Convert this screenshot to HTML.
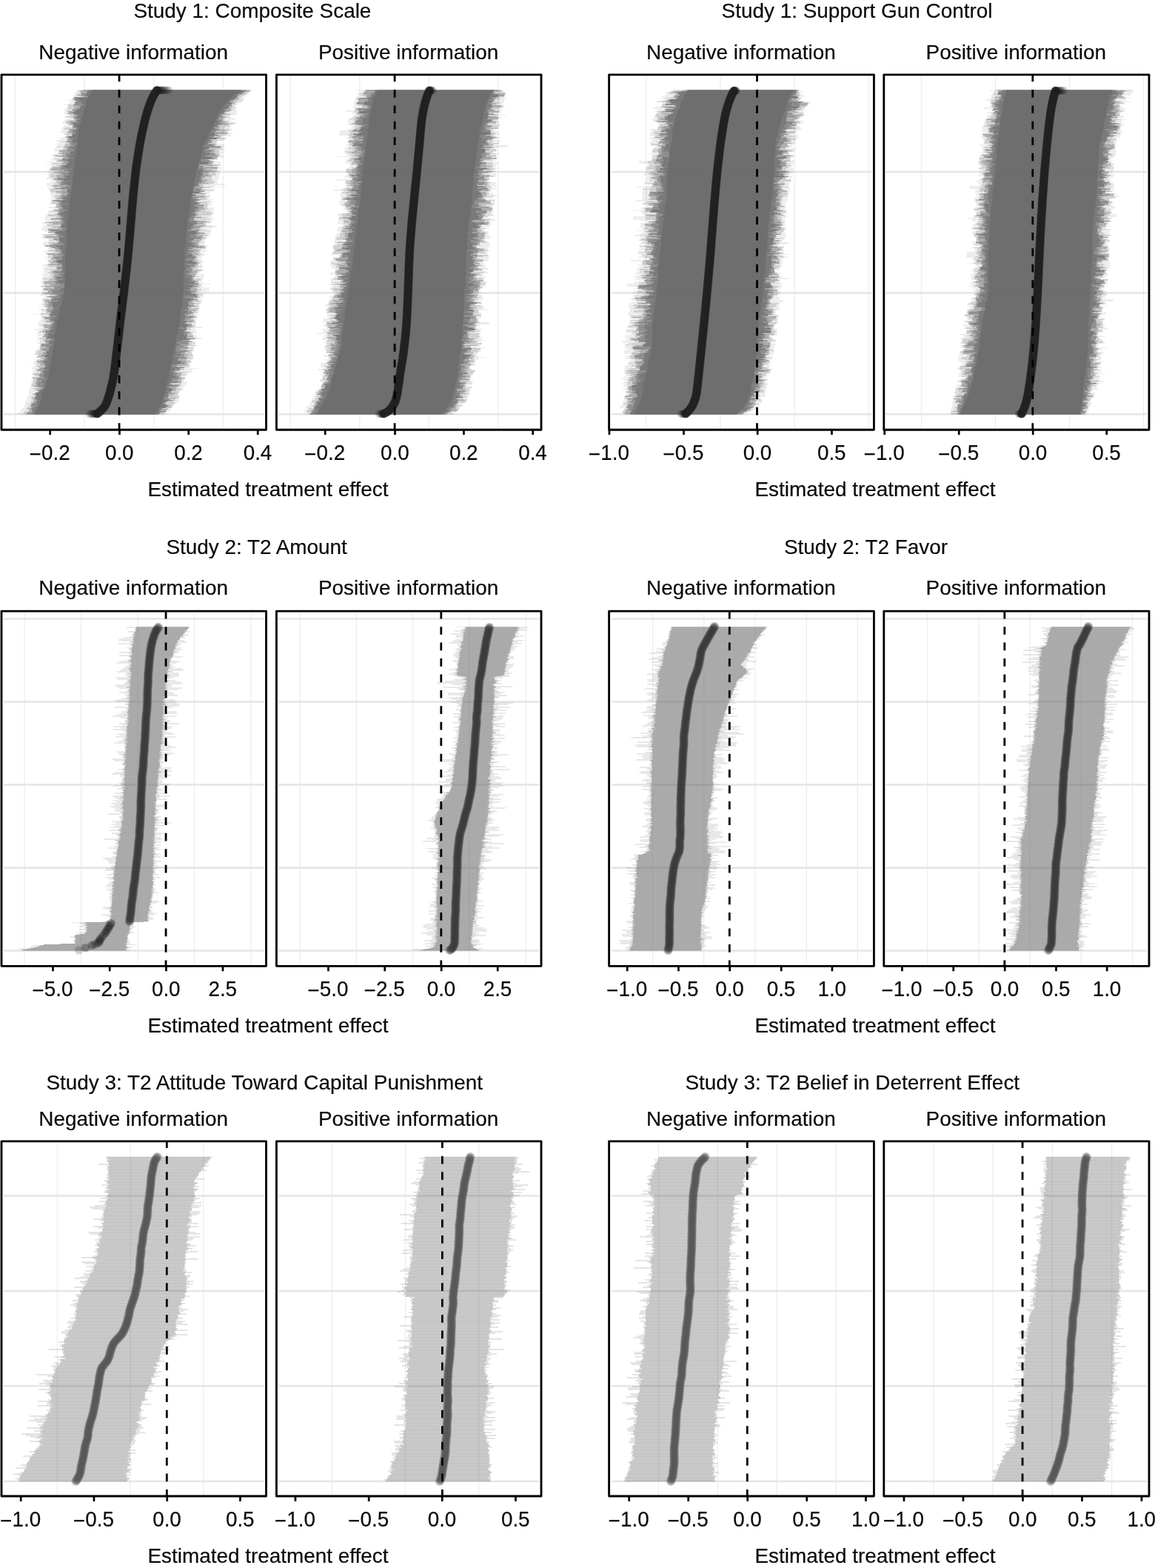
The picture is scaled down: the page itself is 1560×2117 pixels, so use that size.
<!DOCTYPE html>
<html lang="en"><head><meta charset="utf-8"><title>Estimated treatment effects</title>
<style>html,body{margin:0;padding:0;background:#fff}body{width:1560px;height:2117px;overflow:hidden}svg{display:block}</style>
</head><body>
<svg width="1560" height="2117" viewBox="0 0 1560 2117" font-family='"Liberation Sans", Arial, Helvetica, sans-serif' fill="#000">
<style>text{stroke:#0a0a0a;stroke-width:.2px;stroke-linejoin:round}</style>
<rect width="1560" height="2117" fill="#fff"/>
<g>
<clipPath id="c1"><rect x="2" y="100.8" width="357.5" height="479.4"/></clipPath>
<g clip-path="url(#c1)">
<path d="M20.8 103.3V578.7M114.2 103.3V578.7M207.8 103.3V578.7M301.2 103.3V578.7" stroke="#ececec" stroke-width="1.2" fill="none"/>
<path d="M5 232H357M5 395.5H357M5 559.2H357" stroke="#e5e5e5" stroke-width="2.6" fill="none"/>
<clipPath id="b1"><rect x="2" y="121.6" width="357.5" height="438"/></clipPath>
<g clip-path="url(#b1)"><g stroke="#676767" fill="none">
<path transform="translate(0,0.5)" stroke-width="1" stroke-opacity="0.620" d="M125 121h200m-201 1h200m-200 1h200m-200 1h199m-201 1h199m-199 1h198m-198 1h195m-196 1h196m-197 1h195m-195 1h194m-194 1h193m-194 1h193m-194 1h193m-194 1h192m-192 1h192m-192 1h190m-189 1h188m-190 1h190m-190 1h189m-190 1h189m-188 1h186m-186 1h186m-186 1h185m-186 1h186m-186 1h185m-186 1h186m-186 1h185m-186 1h185m-186 1h185m-184 1h183m-183 1h184m-185 1h184m-184 1h183m-183 1h183m-184 1h183m-183 1h183m-184 1h183m-183 1h183m-183 1h182m-182 1h181m-182 1h182m-180 1h180m-182 1h182m-182 1h181m-181 1h180m-182 1h182m-181 1h181m-181 1h180m-182 1h181m-180 1h181m-182 1h181m-180 1h179m-179 1h179m-180 1h179m-179 1h178m-178 1h178m-178 1h178m-178 1h177m-176 1h176m-177 1h176m-176 1h176m-176 1h176m-177 1h176m-176 1h176m-175 1h174m-175 1h175m-174 1h173m-174 1h174m-173 1h172m-174 1h174m-173 1h172m-173 1h173m-172 1h172m-172 1h170m-171 1h171m-170 1h170m-170 1h169m-170 1h170m-171 1h172m-171 1h170m-170 1h170m-170 1h169m-170 1h170m-170 1h170m-169 1h169m-170 1h169m-169 1h169m-169 1h168m-167 1h168m-169 1h169m-170 1h169m-169 1h169m-169 1h169m-170 1h169m-169 1h168m-168 1h168m-169 1h169m-168 1h168m-168 1h168m-169 1h168m-168 1h168m-167 1h167m-168 1h167m-167 1h168m-167 1h166m-168 1h167m-166 1h167m-167 1h166m-166 1h166m-167 1h167m-166 1h164m-165 1h165m-164 1h165m-166 1h166m-166 1h165m-165 1h166m-166 1h166m-166 1h165m-166 1h166m-166 1h166m-166 1h166m-166 1h164m-164 1h165m-164 1h164m-165 1h164m-165 1h165m-165 1h165m-165 1h165m-165 1h165m-164 1h163m-163 1h163m-164 1h164m-164 1h164m-164 1h164m-164 1h163m-164 1h164m-164 1h164m-163 1h162m-163 1h163m-163 1h164m-165 1h165m-164 1h162m-162 1h162m-163 1h164m-164 1h163m-163 1h163m-163 1h163m-163 1h163m-163 1h162m-163 1h164m-163 1h162m-163 1h163m-162 1h162m-163 1h165m-165 1h164m-163 1h161m-162 1h163m-164 1h163m-163 1h163m-162 1h163m-164 1h163m-163 1h163m-163 1h163m-163 1h163m-163 1h162m-163 1h163m-163 1h163m-162 1h162m-162 1h161m-162 1h163m-163 1h162m-162 1h162m-162 1h162m-162 1h162m-162 1h162m-162 1h161m-162 1h162m-162 1h162m-163 1h164m-163 1h162m-162 1h162m-162 1h163m-163 1h161m-161 1h162m-162 1h163m-164 1h162m-161 1h162m-163 1h162m-161 1h161m-162 1h162m-162 1h162m-162 1h162m-162 1h161m-161 1h162m-162 1h162m-162 1h162m-162 1h162m-162 1h162m-162 1h162m-162 1h161m-161 1h162m-162 1h161m-161 1h161m-161 1h162m-162 1h161m-162 1h162m-162 1h162m-162 1h162m-160 1h161m-162 1h160m-160 1h161m-161 1h160m-161 1h161m-161 1h161m-161 1h160m-160 1h161m-161 1h160m-160 1h160m-159 1h160m-161 1h160m-160 1h160m-160 1h161m-162 1h161m-160 1h160m-160 1h161m-162 1h162m-162 1h162m-162 1h162m-162 1h161m-161 1h161m-161 1h160m-160 1h161m-161 1h162m-162 1h161m-161 1h161m-161 1h160m-160 1h161m-160 1h159m-161 1h162m-161 1h161m-161 1h161m-161 1h160m-160 1h161m-161 1h160m-161 1h161m-161 1h162m-161 1h160m-161 1h161m-160 1h160m-160 1h161m-163 1h163m-162 1h160m-159 1h160m-161 1h160m-160 1h162m-161 1h160m-160 1h160m-160 1h160m-160 1h160m-161 1h160m-159 1h161m-163 1h162m-161 1h160m-160 1h161m-160 1h161m-161 1h161m-162 1h161m-161 1h160m-160 1h161m-161 1h161m-161 1h161m-161 1h161m-161 1h160m-161 1h163m-162 1h162m-163 1h160m-160 1h160m-160 1h161m-162 1h162m-162 1h162m-162 1h161m-161 1h161m-161 1h161m-161 1h161m-162 1h162m-163 1h163m-162 1h162m-163 1h162m-161 1h161m-162 1h164m-164 1h163m-164 1h165m-165 1h164m-165 1h164m-164 1h164m-164 1h164m-164 1h163m-164 1h164m-163 1h163m-164 1h164m-164 1h164m-165 1h165m-164 1h164m-165 1h165m-165 1h165m-165 1h164m-164 1h165m-166 1h165m-165 1h165m-165 1h165m-165 1h165m-166 1h166m-166 1h165m-166 1h167m-167 1h166m-167 1h168m-166 1h165m-165 1h166m-166 1h165m-166 1h166m-166 1h165m-166 1h166m-166 1h165m-165 1h166m-166 1h166m-166 1h165m-164 1h165m-165 1h165m-166 1h165m-166 1h166m-166 1h166m-167 1h165m-165 1h166m-166 1h165m-165 1h166m-165 1h164m-164 1h163m-163 1h163m-163 1h164m-164 1h163m-164 1h165m-164 1h163m-165 1h165m-164 1h164m-164 1h163m-164 1h164m-164 1h164m-164 1h164m-164 1h164m-164 1h164m-164 1h163m-164 1h164m-164 1h164m-164 1h163m-163 1h164m-165 1h165m-164 1h162m-162 1h163m-164 1h164m-164 1h163m-163 1h163m-163 1h162m-163 1h164m-164 1h164m-164 1h164m-164 1h164m-164 1h164m-165 1h165m-164 1h164m-165 1h164m-163 1h162m-164 1h164m-164 1h164m-163 1h162m-163 1h163m-164 1h164m-163 1h163m-163 1h163m-164 1h164m-163 1h162m-163 1h163m-163 1h162m-162 1h163m-163 1h163m-164 1h164m-163 1h163m-164 1h164m-164 1h163m-163 1h163m-163 1h163m-163 1h161m-162 1h163m-163 1h163m-164 1h163m-163 1h164m-164 1h162m-163 1h164m-163 1h163m-164 1h164m-164 1h164m-165 1h163m-163 1h163m-163 1h163m-163 1h163m-164 1h165m-165 1h164m-165 1h165m-165 1h164m-164 1h163m-165 1h166m-166 1h165m-165 1h165m-165 1h164m-164 1h164m-164 1h164m-164 1h163m-163 1h164m-165 1h164m-165 1h165m-165 1h164m-164 1h164m-164 1h164m-165 1h164m-165 1h166m-165 1h163m-165 1h165m-165 1h165m-165 1h164m-165 1h165m-165 1h165m-165 1h163m-165 1h164m-163 1h164m-166 1h165m-164 1h163m-164 1h163m-164 1h164m-165 1h164m-163 1h164"/>
<path transform="translate(0,0.5)" stroke-width="1" stroke-opacity="0.520" d="M120 121h207m-209 1h210m-210 1h212m-212 1h210m-210 1h209m-210 1h208m-208 1h203m-205 1h203m-202 1h205m-203 1h201m-206 1h205m-213 1h212m-213 1h213m-209 1h207m-208 1h203m-204 1h204m-200 1h201m-201 1h200m-200 1h203m-200 1h198m-197 1h193m-197 1h199m-200 1h197m-198 1h201m-200 1h200m-201 1h199m-202 1h197m-197 1h198m-200 1h201m-201 1h200m-203 1h202m-203 1h203m-199 1h196m-193 1h192m-192 1h190m-191 1h192m-193 1h192m-192 1h192m-191 1h190m-186 1h186m-187 1h186m-191 1h190m-188 1h194m-193 1h189m-189 1h190m-198 1h197m-195 1h194m-193 1h193m-194 1h192m-191 1h193m-195 1h190m-185 1h185m-185 1h186m-187 1h187m-186 1h189m-194 1h189m-187 1h185m-184 1h184m-184 1h188m-189 1h188m-189 1h190m-192 1h192m-192 1h190m-196 1h190m-189 1h192m-185 1h192m-193 1h193m-193 1h183m-185 1h185m-184 1h184m-184 1h183m-183 1h183m-178 1h178m-177 1h176m-177 1h184m-186 1h175m-176 1h177m-184 1h190m-187 1h187m-183 1h179m-180 1h179m-178 1h175m-175 1h185m-187 1h178m-181 1h182m-182 1h184m-186 1h190m-185 1h185m-188 1h182m-183 1h183m-187 1h187m-183 1h192m-186 1h183m-191 1h198m-198 1h179m-180 1h180m-180 1h180m-178 1h183m-183 1h189m-192 1h191m-189 1h182m-183 1h178m-182 1h182m-181 1h181m-182 1h181m-180 1h180m-178 1h178m-171 1h176m-182 1h183m-183 1h182m-177 1h183m-184 1h176m-179 1h179m-178 1h181m-181 1h181m-181 1h178m-181 1h181m-183 1h183m-181 1h180m-179 1h178m-184 1h185m-184 1h184m-184 1h186m-176 1h173m-185 1h185m-180 1h179m-182 1h180m-175 1h176m-176 1h176m-172 1h170m-170 1h170m-170 1h166m-173 1h174m-167 1h166m-169 1h169m-170 1h170m-170 1h170m-170 1h171m-171 1h178m-176 1h175m-176 1h168m-167 1h167m-169 1h171m-172 1h171m-170 1h169m-173 1h174m-173 1h172m-175 1h175m-170 1h177m-183 1h179m-178 1h179m-182 1h178m-178 1h185m-176 1h175m-185 1h186m-177 1h173m-180 1h179m-178 1h178m-177 1h181m-181 1h183m-182 1h177m-178 1h179m-175 1h173m-174 1h176m-178 1h177m-177 1h174m-179 1h179m-178 1h178m-179 1h182m-181 1h181m-177 1h172m-173 1h173m-171 1h175m-178 1h172m-175 1h176m-173 1h172m-168 1h168m-169 1h168m-168 1h178m-179 1h171m-170 1h179m-181 1h176m-177 1h177m-178 1h177m-177 1h176m-177 1h176m-174 1h174m-169 1h169m-169 1h167m-172 1h171m-168 1h166m-172 1h184m-189 1h189m-189 1h189m-187 1h187m-182 1h178m-183 1h178m-170 1h171m-171 1h171m-176 1h175m-176 1h188m-187 1h180m-181 1h181m-181 1h177m-176 1h174m-172 1h172m-173 1h176m-173 1h173m-171 1h176m-177 1h172m-183 1h187m-187 1h188m-183 1h176m-174 1h173m-174 1h174m-175 1h174m-169 1h168m-170 1h173m-172 1h175m-177 1h171m-169 1h170m-169 1h172m-171 1h166m-166 1h174m-175 1h174m-175 1h174m-174 1h179m-179 1h170m-170 1h166m-167 1h168m-173 1h173m-173 1h183m-183 1h182m-182 1h187m-181 1h181m-181 1h168m-169 1h169m-168 1h172m-171 1h171m-172 1h172m-172 1h168m-167 1h167m-167 1h167m-167 1h167m-168 1h165m-166 1h172m-173 1h173m-167 1h162m-163 1h164m-170 1h170m-167 1h173m-173 1h166m-165 1h175m-182 1h172m-172 1h178m-172 1h173m-171 1h172m-179 1h174m-175 1h180m-179 1h177m-179 1h184m-179 1h180m-175 1h164m-164 1h169m-170 1h174m-173 1h175m-176 1h171m-170 1h167m-171 1h174m-175 1h174m-175 1h172m-172 1h172m-176 1h181m-172 1h171m-172 1h172m-172 1h171m-177 1h185m-182 1h183m-184 1h169m-169 1h169m-169 1h169m-170 1h169m-175 1h186m-190 1h188m-179 1h178m-178 1h175m-177 1h177m-185 1h184m-181 1h181m-181 1h183m-184 1h183m-183 1h184m-184 1h184m-183 1h180m-180 1h182m-175 1h175m-181 1h177m-179 1h179m-176 1h175m-179 1h183m-183 1h183m-183 1h180m-177 1h177m-182 1h181m-182 1h182m-174 1h175m-175 1h176m-176 1h175m-181 1h181m-177 1h176m-181 1h179m-174 1h175m-176 1h175m-174 1h179m-179 1h176m-176 1h176m-178 1h181m-181 1h182m-179 1h179m-183 1h182m-181 1h180m-179 1h171m-173 1h173m-170 1h179m-183 1h182m-183 1h180m-181 1h181m-181 1h181m-175 1h175m-182 1h182m-184 1h184m-183 1h183m-181 1h185m-188 1h187m-187 1h187m-187 1h189m-182 1h181m-179 1h181m-181 1h172m-178 1h176m-176 1h172m-173 1h173m-173 1h173m-168 1h170m-170 1h171m-174 1h174m-174 1h170m-170 1h170m-170 1h170m-172 1h171m-170 1h171m-172 1h171m-171 1h172m-172 1h171m-173 1h181m-182 1h176m-175 1h174m-174 1h179m-181 1h182m-184 1h176m-175 1h177m-174 1h177m-176 1h176m-178 1h176m-175 1h175m-175 1h175m-180 1h182m-181 1h184m-184 1h184m-180 1h179m-181 1h177m-178 1h172m-171 1h170m-169 1h169m-170 1h170m-172 1h183m-183 1h176m-177 1h177m-171 1h171m-176 1h175m-176 1h172m-172 1h176m-175 1h172m-172 1h175m-176 1h175m-175 1h175m-174 1h176m-176 1h179m-180 1h179m-177 1h173m-173 1h171m-170 1h170m-175 1h175m-171 1h170m-175 1h175m-175 1h181m-178 1h169m-167 1h168m-170 1h168m-169 1h174m-174 1h168m-166 1h167m-167 1h165m-166 1h171m-173 1h175m-177 1h178m-179 1h177m-178 1h172m-173 1h176m-180 1h179m-178 1h179m-179 1h176m-176 1h174m-172 1h176m-176 1h175m-179 1h175m-170 1h170m-176 1h176m-172 1h172m-172 1h181m-178 1h172m-177 1h176m-174 1h171m-171 1h170m-168 1h168m-176 1h180m-172 1h171m-173 1h177m-179 1h174m-176 1h176m-179 1h174m-167 1h167m-173 1h172m-173 1h172m-169 1h169m-169 1h170m-173 1h172m-170 1h169m-169 1h169"/>
<path transform="translate(0,0.5)" stroke-width="1" stroke-opacity="0.420" d="M113 121h220m-219 1h218m-214 1h213m-214 1h211m-212 1h210m-216 1h217m-217 1h212m-211 1h211m-207 1h206m-203 1h202m-220 1h221m-219 1h217m-218 1h217m-217 1h215m-215 1h213m-210 1h208m-210 1h209m-209 1h211m-211 1h211m-212 1h212m-213 1h212m-207 1h207m-203 1h201m-202 1h202m-202 1h200m-203 1h203m-205 1h202m-207 1h207m-205 1h209m-209 1h204m-205 1h204m-207 1h207m-203 1h203m-203 1h199m-197 1h198m-196 1h196m-200 1h201m-201 1h201m-200 1h195m-192 1h191m-191 1h195m-196 1h196m-196 1h196m-198 1h195m-201 1h206m-203 1h202m-202 1h201m-200 1h200m-199 1h193m-194 1h195m-195 1h196m-192 1h187m-187 1h188m-188 1h192m-197 1h197m-201 1h198m-194 1h193m-193 1h192m-193 1h198m-197 1h192m-192 1h194m-195 1h197m-197 1h192m-197 1h196m-197 1h197m-195 1h200m-200 1h199m-200 1h193m-188 1h188m-193 1h193m-194 1h195m-192 1h191m-190 1h186m-185 1h184m-184 1h191m-192 1h194m-189 1h189m-197 1h205m-203 1h189m-192 1h191m-189 1h189m-192 1h188m-188 1h199m-196 1h192m-196 1h195m-189 1h189m-195 1h200m-201 1h201m-200 1h203m-203 1h192m-192 1h198m-194 1h198m-198 1h194m-203 1h209m-209 1h193m-193 1h199m-196 1h198m-194 1h191m-190 1h192m-199 1h197m-192 1h191m-193 1h181m-186 1h187m-187 1h191m-191 1h191m-192 1h192m-192 1h194m-195 1h193m-187 1h189m-190 1h190m-183 1h190m-189 1h180m-199 1h200m-190 1h189m-190 1h190m-188 1h188m-188 1h198m-199 1h188m-186 1h186m-195 1h195m-196 1h196m-196 1h195m-189 1h190m-186 1h186m-190 1h189m-189 1h189m-189 1h189m-190 1h186m-185 1h185m-177 1h178m-180 1h179m-180 1h176m-181 1h180m-188 1h194m-178 1h180m-180 1h180m-181 1h180m-180 1h185m-190 1h185m-178 1h177m-178 1h169m-170 1h173m-173 1h175m-182 1h182m-181 1h176m-177 1h185m-185 1h182m-181 1h180m-178 1h181m-195 1h195m-190 1h187m-185 1h185m-182 1h186m-186 1h186m-189 1h189m-186 1h182m-183 1h194m-194 1h185m-183 1h184m-183 1h187m-188 1h185m-186 1h186m-187 1h183m-184 1h188m-188 1h185m-185 1h183m-184 1h185m-186 1h186m-185 1h186m-188 1h188m-183 1h181m-182 1h182m-179 1h187m-189 1h179m-182 1h183m-178 1h178m-179 1h179m-179 1h184m-184 1h183m-183 1h183m-183 1h183m-183 1h183m-184 1h181m-180 1h179m-180 1h180m-181 1h189m-188 1h180m-177 1h176m-177 1h175m-192 1h191m-189 1h200m-194 1h192m-193 1h191m-191 1h195m-194 1h194m-189 1h185m-187 1h187m-186 1h187m-187 1h186m-186 1h193m-192 1h191m-191 1h182m-189 1h189m-182 1h181m-182 1h181m-180 1h179m-179 1h184m-187 1h186m-192 1h195m-184 1h179m-194 1h199m-199 1h201m-191 1h196m-202 1h190m-182 1h180m-183 1h183m-177 1h172m-178 1h185m-177 1h178m-180 1h173m-173 1h177m-180 1h180m-180 1h181m-181 1h181m-177 1h179m-185 1h186m-190 1h189m-189 1h190m-188 1h187m-179 1h179m-186 1h183m-184 1h189m-188 1h184m-185 1h192m-186 1h185m-189 1h186m-179 1h179m-179 1h178m-177 1h178m-181 1h175m-180 1h182m-182 1h181m-174 1h175m-175 1h175m-177 1h177m-186 1h186m-186 1h185m-182 1h182m-176 1h173m-176 1h175m-176 1h181m-177 1h177m-184 1h188m-188 1h185m-185 1h184m-184 1h186m-185 1h184m-182 1h182m-186 1h189m-189 1h191m-190 1h188m-188 1h190m-190 1h192m-185 1h179m-189 1h190m-183 1h185m-191 1h186m-186 1h187m-186 1h182m-182 1h183m-188 1h189m-189 1h189m-187 1h193m-193 1h188m-188 1h188m-189 1h189m-183 1h189m-187 1h187m-189 1h188m-198 1h201m-197 1h196m-193 1h184m-187 1h192m-192 1h191m-192 1h193m-193 1h188m-188 1h189m-193 1h190m-187 1h187m-190 1h190m-189 1h189m-185 1h188m-193 1h197m-190 1h181m-182 1h183m-183 1h184m-185 1h185m-185 1h184m-189 1h189m-185 1h189m-189 1h189m-190 1h193m-193 1h187m-187 1h187m-187 1h182m-183 1h187m-186 1h192m-194 1h194m-199 1h197m-190 1h182m-182 1h185m-185 1h184m-184 1h184m-179 1h186m-187 1h179m-180 1h179m-180 1h182m-181 1h187m-189 1h187m-189 1h188m-188 1h186m-186 1h185m-185 1h185m-183 1h182m-184 1h185m-190 1h186m-186 1h189m-189 1h194m-194 1h191m-188 1h187m-191 1h192m-192 1h192m-189 1h189m-192 1h192m-191 1h189m-189 1h191m-185 1h189m-189 1h188m-189 1h180m-185 1h193m-193 1h195m-191 1h187m-187 1h189m-192 1h192m-199 1h189m-189 1h194m-188 1h185m-185 1h186m-183 1h189m-196 1h184m-176 1h177m-186 1h186m-181 1h190m-190 1h190m-190 1h188m-188 1h183m-184 1h183m-182 1h187m-188 1h188m-193 1h188m-184 1h188m-186 1h188m-188 1h190m-191 1h180m-182 1h182m-181 1h180m-183 1h188m-188 1h188m-188 1h193m-191 1h190m-189 1h183m-183 1h179m-178 1h178m-178 1h177m-177 1h178m-181 1h190m-189 1h184m-190 1h189m-182 1h182m-185 1h180m-180 1h178m-178 1h178m-179 1h184m-182 1h181m-185 1h185m-186 1h186m-185 1h184m-183 1h187m-185 1h184m-189 1h194m-196 1h191m-190 1h189m-189 1h183m-178 1h185m-189 1h188m-189 1h188m-189 1h180m-181 1h181m-180 1h182m-181 1h189m-189 1h189m-188 1h178m-174 1h173m-172 1h176m-177 1h177m-179 1h179m-182 1h181m-179 1h178m-179 1h180m-184 1h180m-179 1h183m-184 1h179m-179 1h180m-180 1h179m-179 1h180m-181 1h179m-179 1h180m-180 1h180m-178 1h180m-180 1h184m-184 1h177m-178 1h176m-176 1h176m-180 1h179m-179 1h179m-181 1h183m-182 1h184m-185 1h184m-183 1h182m-181 1h180m-183 1h178m-176 1h176m-176 1h175m-175 1h173m-172 1h180m-181 1h175m-181 1h179m-180 1h179m-174 1h173"/>
<path transform="translate(0,0.5)" stroke-width="1" stroke-opacity="0.320" d="M111 121h227m-229 1h228m-228 1h228m-228 1h222m-221 1h220m-221 1h221m-221 1h218m-221 1h218m-215 1h214m-210 1h208m-221 1h222m-223 1h222m-223 1h224m-222 1h217m-216 1h218m-216 1h212m-213 1h213m-214 1h217m-218 1h216m-216 1h214m-215 1h214m-214 1h214m-213 1h214m-213 1h212m-213 1h210m-210 1h212m-214 1h213m-213 1h214m-214 1h213m-218 1h215m-215 1h212m-213 1h211m-211 1h213m-205 1h207m-208 1h202m-198 1h197m-201 1h206m-206 1h205m-205 1h202m-200 1h201m-201 1h199m-199 1h200m-207 1h211m-210 1h209m-214 1h214m-209 1h213m-215 1h215m-213 1h212m-209 1h198m-198 1h198m-198 1h199m-199 1h198m-198 1h198m-203 1h205m-204 1h211m-210 1h209m-212 1h199m-198 1h210m-210 1h214m-210 1h209m-209 1h197m-197 1h199m-200 1h202m-209 1h201m-199 1h208m-208 1h204m-202 1h202m-205 1h195m-193 1h196m-198 1h198m-199 1h197m-192 1h193m-194 1h191m-190 1h196m-202 1h203m-198 1h198m-204 1h211m-212 1h212m-209 1h208m-208 1h193m-191 1h201m-207 1h203m-207 1h208m-209 1h210m-206 1h206m-207 1h207m-210 1h212m-208 1h208m-208 1h211m-220 1h220m-214 1h214m-210 1h209m-209 1h202m-203 1h209m-210 1h198m-203 1h204m-201 1h205m-200 1h203m-204 1h201m-202 1h203m-198 1h197m-203 1h203m-203 1h210m-213 1h196m-197 1h214m-222 1h223m-223 1h222m-224 1h211m-212 1h218m-207 1h209m-209 1h213m-211 1h201m-210 1h209m-200 1h201m-201 1h201m-206 1h205m-205 1h209m-209 1h201m-200 1h200m-200 1h199m-203 1h200m-200 1h206m-201 1h202m-197 1h197m-203 1h200m-197 1h197m-198 1h202m-201 1h189m-189 1h193m-202 1h199m-198 1h199m-189 1h193m-194 1h193m-202 1h200m-190 1h191m-190 1h190m-190 1h193m-200 1h201m-202 1h196m-189 1h190m-190 1h196m-195 1h182m-182 1h182m-185 1h195m-195 1h195m-195 1h198m-201 1h190m-190 1h191m-184 1h189m-202 1h199m-197 1h193m-189 1h189m-187 1h192m-190 1h189m-194 1h194m-191 1h196m-199 1h199m-197 1h197m-200 1h200m-196 1h196m-196 1h197m-197 1h198m-203 1h197m-197 1h197m-194 1h192m-189 1h187m-188 1h186m-189 1h189m-188 1h191m-203 1h203m-188 1h185m-188 1h187m-181 1h195m-203 1h188m-194 1h193m-194 1h194m-180 1h181m-183 1h198m-207 1h207m-217 1h214m-203 1h203m-204 1h204m-193 1h184m-184 1h195m-196 1h195m-204 1h200m-193 1h190m-191 1h191m-204 1h204m-204 1h204m-203 1h207m-204 1h199m-203 1h205m-197 1h203m-202 1h203m-210 1h201m-192 1h198m-198 1h198m-213 1h213m-211 1h211m-202 1h200m-200 1h201m-201 1h200m-196 1h195m-191 1h189m-192 1h192m-190 1h189m-191 1h190m-198 1h200m-197 1h195m-206 1h207m-206 1h212m-204 1h207m-208 1h208m-203 1h188m-188 1h193m-186 1h185m-199 1h202m-193 1h193m-188 1h183m-184 1h186m-202 1h203m-202 1h203m-197 1h192m-192 1h194m-193 1h193m-194 1h195m-196 1h195m-195 1h194m-188 1h188m-192 1h190m-191 1h197m-197 1h194m-197 1h201m-191 1h189m-199 1h200m-203 1h202m-189 1h188m-190 1h188m-188 1h188m-187 1h185m-186 1h185m-184 1h184m-184 1h184m-189 1h199m-200 1h195m-196 1h196m-195 1h194m-191 1h188m-188 1h190m-191 1h191m-191 1h190m-191 1h191m-190 1h187m-188 1h189m-188 1h187m-193 1h194m-186 1h189m-199 1h201m-206 1h208m-208 1h203m-203 1h208m-202 1h203m-200 1h199m-201 1h201m-208 1h206m-204 1h205m-194 1h190m-204 1h207m-207 1h208m-206 1h205m-201 1h200m-200 1h202m-202 1h199m-204 1h201m-201 1h205m-197 1h199m-193 1h194m-194 1h193m-204 1h204m-198 1h198m-198 1h192m-192 1h195m-194 1h197m-206 1h206m-207 1h199m-199 1h200m-196 1h196m-194 1h197m-202 1h201m-199 1h198m-196 1h197m-202 1h205m-202 1h196m-194 1h190m-191 1h205m-206 1h194m-194 1h202m-202 1h202m-201 1h196m-196 1h196m-192 1h194m-196 1h194m-194 1h192m-191 1h187m-186 1h193m-194 1h197m-205 1h204m-203 1h200m-199 1h196m-192 1h196m-194 1h194m-198 1h198m-198 1h197m-192 1h184m-181 1h182m-185 1h191m-200 1h200m-200 1h200m-200 1h201m-200 1h200m-200 1h192m-187 1h188m-188 1h187m-195 1h195m-191 1h190m-193 1h195m-195 1h198m-195 1h196m-195 1h196m-197 1h192m-194 1h195m-195 1h201m-202 1h203m-198 1h191m-192 1h202m-202 1h201m-203 1h197m-196 1h193m-193 1h196m-197 1h200m-198 1h192m-193 1h194m-199 1h199m-200 1h199m-199 1h201m-200 1h197m-199 1h199m-192 1h194m-200 1h199m-199 1h197m-197 1h197m-193 1h197m-194 1h193m-197 1h193m-193 1h191m-192 1h193m-198 1h201m-197 1h198m-202 1h197m-196 1h200m-193 1h192m-196 1h197m-194 1h194m-193 1h190m-196 1h197m-202 1h208m-207 1h201m-199 1h201m-198 1h197m-198 1h198m-197 1h195m-191 1h195m-204 1h189m-179 1h190m-198 1h197m-195 1h190m-193 1h194m-194 1h192m-192 1h191m-188 1h183m-182 1h183m-184 1h192m-192 1h190m-197 1h197m-192 1h192m-191 1h191m-191 1h191m-191 1h189m-197 1h201m-197 1h195m-194 1h195m-196 1h191m-192 1h197m-196 1h196m-197 1h197m-197 1h183m-182 1h184m-184 1h194m-197 1h197m-198 1h195m-192 1h189m-182 1h183m-190 1h190m-187 1h187m-188 1h187m-187 1h187m-185 1h179m-180 1h180m-183 1h189m-191 1h190m-190 1h189m-187 1h180m-179 1h184m-185 1h180m-185 1h184m-180 1h191m-194 1h186m-183 1h182m-183 1h189m-190 1h182m-182 1h180m-180 1h179m-181 1h180m-181 1h182m-182 1h184m-185 1h189m-189 1h189m-188 1h183m-183 1h189m-194 1h183m-180 1h186m-186 1h184m-185 1h186m-186 1h184m-185 1h185m-187 1h181m-182 1h181m-181 1h181"/>
<path transform="translate(0,0.5)" stroke-width="1" stroke-opacity="0.220" d="M107 121h233m-234 1h233m-233 1h232m-231 1h229m-228 1h227m-231 1h229m-229 1h228m-229 1h227m-228 1h226m-219 1h217m-226 1h226m-227 1h226m-226 1h225m-226 1h230m-229 1h223m-221 1h226m-226 1h218m-219 1h222m-222 1h218m-218 1h219m-227 1h226m-226 1h222m-222 1h225m-225 1h225m-224 1h220m-222 1h228m-228 1h222m-216 1h220m-228 1h224m-222 1h220m-219 1h216m-217 1h214m-214 1h221m-218 1h218m-219 1h218m-215 1h208m-216 1h223m-221 1h220m-212 1h205m-204 1h206m-206 1h204m-211 1h210m-214 1h220m-219 1h221m-220 1h218m-219 1h230m-227 1h223m-223 1h218m-213 1h213m-212 1h212m-213 1h207m-216 1h216m-217 1h216m-217 1h224m-218 1h218m-217 1h216m-220 1h218m-217 1h217m-217 1h218m-219 1h220m-221 1h218m-216 1h215m-214 1h209m-212 1h210m-210 1h210m-209 1h215m-212 1h212m-214 1h203m-203 1h211m-212 1h204m-211 1h210m-203 1h203m-204 1h203m-204 1h206m-205 1h204m-205 1h206m-207 1h214m-224 1h224m-213 1h212m-214 1h215m-215 1h215m-220 1h214m-214 1h216m-217 1h218m-217 1h217m-218 1h216m-217 1h218m-212 1h212m-224 1h226m-225 1h224m-222 1h219m-209 1h209m-209 1h206m-218 1h221m-217 1h206m-206 1h209m-210 1h212m-212 1h213m-206 1h205m-217 1h217m-218 1h218m-207 1h216m-221 1h221m-226 1h217m-218 1h225m-226 1h225m-226 1h226m-226 1h225m-226 1h226m-222 1h222m-219 1h221m-221 1h216m-222 1h224m-213 1h212m-224 1h225m-224 1h224m-224 1h219m-219 1h218m-218 1h218m-214 1h214m-215 1h215m-216 1h216m-211 1h211m-211 1h214m-214 1h214m-213 1h213m-215 1h215m-216 1h211m-210 1h202m-206 1h205m-205 1h205m-203 1h215m-214 1h211m-212 1h202m-206 1h210m-210 1h221m-221 1h209m-209 1h209m-208 1h204m-197 1h200m-200 1h203m-196 1h194m-203 1h203m-203 1h210m-210 1h206m-208 1h208m-204 1h201m-202 1h205m-205 1h203m-209 1h202m-201 1h199m-199 1h213m-213 1h209m-210 1h211m-207 1h208m-205 1h204m-204 1h204m-204 1h205m-206 1h204m-206 1h208m-203 1h203m-203 1h204m-212 1h208m-206 1h206m-212 1h218m-207 1h207m-206 1h209m-214 1h214m-210 1h208m-220 1h219m-204 1h192m-205 1h205m-197 1h207m-213 1h203m-203 1h216m-217 1h216m-204 1h189m-198 1h212m-217 1h219m-224 1h221m-216 1h212m-212 1h211m-214 1h216m-216 1h216m-215 1h223m-218 1h207m-207 1h203m-208 1h207m-207 1h212m-211 1h205m-205 1h220m-220 1h203m-203 1h212m-212 1h211m-202 1h206m-220 1h217m-217 1h221m-222 1h222m-220 1h214m-216 1h219m-219 1h219m-206 1h206m-211 1h207m-207 1h207m-198 1h195m-201 1h201m-206 1h211m-210 1h203m-203 1h203m-202 1h202m-209 1h217m-217 1h218m-211 1h210m-210 1h210m-203 1h203m-207 1h202m-197 1h196m-206 1h205m-197 1h197m-196 1h195m-201 1h202m-207 1h209m-208 1h208m-207 1h206m-200 1h199m-205 1h202m-202 1h202m-199 1h199m-199 1h199m-199 1h199m-202 1h203m-203 1h205m-204 1h199m-198 1h205m-204 1h202m-206 1h203m-203 1h203m-203 1h203m-201 1h207m-207 1h202m-192 1h192m-193 1h192m-206 1h206m-197 1h203m-206 1h206m-205 1h200m-202 1h201m-202 1h202m-199 1h198m-198 1h198m-198 1h197m-194 1h194m-198 1h202m-200 1h193m-204 1h205m-196 1h204m-213 1h213m-205 1h205m-211 1h208m-210 1h210m-209 1h209m-210 1h211m-210 1h209m-208 1h212m-212 1h211m-215 1h216m-216 1h214m-208 1h205m-208 1h208m-209 1h214m-215 1h215m-211 1h205m-202 1h205m-205 1h203m-210 1h207m-207 1h211m-207 1h214m-208 1h206m-206 1h201m-206 1h208m-206 1h207m-202 1h198m-206 1h206m-210 1h211m-210 1h210m-207 1h210m-210 1h210m-211 1h202m-201 1h209m-213 1h211m-207 1h202m-204 1h210m-209 1h208m-207 1h206m-204 1h195m-195 1h206m-206 1h205m-213 1h212m-206 1h206m-205 1h203m-203 1h203m-203 1h205m-212 1h206m-206 1h207m-197 1h198m-198 1h198m-207 1h209m-207 1h207m-207 1h208m-206 1h198m-198 1h204m-207 1h206m-202 1h203m-205 1h205m-203 1h203m-196 1h190m-199 1h201m-204 1h204m-205 1h209m-205 1h204m-205 1h205m-204 1h199m-199 1h199m-198 1h198m-201 1h201m-200 1h193m-198 1h203m-203 1h208m-203 1h201m-198 1h199m-202 1h202m-201 1h202m-203 1h203m-204 1h204m-204 1h204m-207 1h210m-211 1h211m-207 1h202m-202 1h198m-201 1h204m-198 1h202m-202 1h199m-206 1h211m-209 1h204m-204 1h206m-207 1h210m-209 1h199m-200 1h199m-199 1h207m-207 1h207m-207 1h199m-200 1h208m-212 1h211m-209 1h208m-211 1h211m-208 1h208m-211 1h210m-211 1h213m-204 1h204m-209 1h210m-211 1h206m-206 1h211m-207 1h204m-202 1h204m-209 1h203m-203 1h200m-201 1h207m-208 1h209m-209 1h206m-205 1h205m-204 1h204m-206 1h206m-201 1h201m-206 1h197m-193 1h202m-203 1h196m-194 1h194m-200 1h202m-201 1h200m-201 1h195m-194 1h193m-187 1h198m-204 1h201m-206 1h202m-202 1h207m-204 1h204m-203 1h197m-194 1h193m-201 1h206m-206 1h207m-205 1h205m-205 1h203m-203 1h200m-200 1h201m-201 1h201m-203 1h202m-200 1h200m-204 1h204m-202 1h201m-201 1h201m-201 1h199m-195 1h200m-195 1h188m-196 1h199m-198 1h202m-200 1h198m-198 1h193m-190 1h192m-193 1h193m-195 1h194m-197 1h196m-196 1h196m-197 1h197m-194 1h194m-194 1h197m-202 1h200m-198 1h198m-199 1h195m-193 1h192m-192 1h193m-195 1h191m-191 1h194m-195 1h195m-196 1h195m-194 1h194m-198 1h196m-192 1h192m-193 1h193m-196 1h194m-194 1h194m-196 1h192m-191 1h192m-189 1h187m-187 1h186m-192 1h191m-191 1h191m-192 1h191m-193 1h192m-189 1h189"/>
<path transform="translate(0,0.5)" stroke-width="1" stroke-opacity="0.120" d="M103 121h241m-242 1h237m-234 1h233m-237 1h236m-236 1h234m-234 1h235m-235 1h234m-234 1h233m-235 1h233m-233 1h232m-232 1h230m-232 1h232m-232 1h232m-236 1h236m-237 1h237m-232 1h231m-234 1h233m-233 1h232m-233 1h226m-227 1h230m-237 1h235m-228 1h225m-226 1h227m-229 1h228m-226 1h229m-233 1h232m-232 1h230m-228 1h229m-230 1h233m-234 1h233m-233 1h234m-234 1h233m-233 1h232m-230 1h231m-228 1h224m-223 1h212m-220 1h226m-221 1h220m-216 1h224m-229 1h228m-228 1h229m-230 1h223m-225 1h227m-228 1h232m-233 1h234m-233 1h234m-228 1h224m-227 1h227m-227 1h224m-225 1h225m-228 1h227m-227 1h227m-227 1h229m-229 1h228m-227 1h229m-232 1h232m-232 1h227m-228 1h227m-225 1h231m-228 1h227m-227 1h226m-223 1h222m-222 1h223m-225 1h212m-215 1h223m-227 1h225m-222 1h223m-225 1h224m-229 1h228m-229 1h220m-216 1h216m-215 1h214m-217 1h217m-217 1h222m-222 1h226m-226 1h226m-226 1h226m-227 1h226m-216 1h217m-230 1h227m-227 1h231m-231 1h230m-230 1h230m-228 1h221m-217 1h224m-225 1h224m-229 1h226m-226 1h226m-230 1h228m-225 1h230m-229 1h229m-230 1h230m-231 1h222m-225 1h228m-224 1h217m-221 1h221m-213 1h214m-223 1h231m-237 1h237m-230 1h231m-231 1h229m-233 1h235m-229 1h229m-229 1h218m-219 1h228m-230 1h232m-232 1h232m-234 1h230m-230 1h230m-226 1h229m-237 1h237m-233 1h232m-232 1h233m-230 1h229m-233 1h233m-232 1h231m-231 1h231m-230 1h230m-233 1h233m-233 1h233m-233 1h232m-227 1h225m-221 1h222m-223 1h222m-225 1h225m-226 1h227m-231 1h231m-231 1h241m-241 1h241m-241 1h227m-226 1h225m-223 1h237m-237 1h220m-221 1h213m-214 1h226m-225 1h226m-225 1h222m-220 1h221m-221 1h216m-216 1h215m-215 1h215m-215 1h211m-211 1h210m-210 1h216m-215 1h215m-212 1h211m-217 1h216m-210 1h210m-214 1h219m-218 1h218m-218 1h215m-216 1h219m-219 1h218m-220 1h219m-219 1h220m-211 1h212m-212 1h208m-209 1h208m-216 1h214m-215 1h223m-216 1h216m-216 1h217m-220 1h220m-219 1h218m-222 1h223m-224 1h223m-223 1h224m-225 1h225m-226 1h224m-225 1h225m-226 1h226m-226 1h226m-225 1h224m-225 1h217m-217 1h228m-229 1h228m-227 1h218m-218 1h226m-224 1h224m-230 1h228m-227 1h228m-228 1h220m-215 1h217m-221 1h226m-227 1h235m-236 1h236m-236 1h230m-231 1h230m-230 1h225m-225 1h224m-220 1h226m-226 1h225m-221 1h221m-221 1h220m-211 1h211m-227 1h226m-226 1h228m-227 1h225m-226 1h222m-223 1h228m-227 1h223m-215 1h214m-214 1h212m-212 1h212m-212 1h211m-217 1h218m-219 1h218m-218 1h218m-218 1h217m-217 1h218m-216 1h220m-220 1h220m-219 1h219m-215 1h215m-215 1h215m-215 1h208m-208 1h214m-218 1h218m-221 1h221m-218 1h214m-213 1h209m-210 1h216m-216 1h215m-213 1h213m-211 1h210m-214 1h212m-210 1h210m-213 1h211m-206 1h207m-208 1h209m-209 1h209m-209 1h211m-210 1h211m-211 1h209m-209 1h206m-207 1h208m-215 1h215m-215 1h216m-213 1h216m-215 1h212m-216 1h215m-214 1h216m-216 1h216m-213 1h214m-215 1h214m-214 1h209m-212 1h213m-208 1h208m-211 1h210m-213 1h218m-216 1h217m-216 1h217m-218 1h217m-217 1h217m-218 1h218m-219 1h219m-218 1h217m-217 1h216m-217 1h217m-218 1h215m-214 1h219m-218 1h218m-217 1h227m-229 1h216m-217 1h217m-217 1h218m-217 1h219m-215 1h223m-226 1h225m-224 1h224m-225 1h226m-226 1h226m-226 1h220m-221 1h215m-215 1h224m-224 1h217m-220 1h221m-220 1h220m-214 1h216m-218 1h216m-212 1h212m-218 1h214m-213 1h217m-217 1h216m-216 1h214m-214 1h215m-215 1h216m-214 1h214m-216 1h215m-219 1h217m-213 1h212m-212 1h212m-213 1h214m-211 1h210m-208 1h208m-214 1h214m-214 1h214m-217 1h215m-210 1h214m-214 1h212m-213 1h213m-214 1h213m-213 1h208m-218 1h224m-215 1h213m-213 1h213m-212 1h212m-211 1h211m-211 1h210m-210 1h205m-206 1h208m-208 1h209m-210 1h211m-213 1h212m-212 1h214m-213 1h211m-212 1h212m-212 1h213m-212 1h211m-212 1h212m-205 1h215m-221 1h221m-221 1h210m-216 1h217m-216 1h217m-211 1h211m-213 1h213m-214 1h215m-215 1h214m-215 1h211m-211 1h211m-210 1h214m-214 1h213m-208 1h210m-217 1h217m-214 1h220m-219 1h219m-222 1h216m-215 1h208m-205 1h205m-205 1h210m-210 1h211m-215 1h215m-211 1h211m-211 1h211m-212 1h212m-211 1h211m-212 1h209m-209 1h210m-212 1h211m-210 1h209m-208 1h209m-215 1h215m-214 1h214m-215 1h212m-211 1h212m-213 1h212m-212 1h214m-211 1h212m-213 1h212m-212 1h211m-211 1h212m-213 1h214m-209 1h209m-216 1h212m-210 1h210m-212 1h214m-214 1h213m-214 1h213m-213 1h213m-213 1h212m-211 1h211m-210 1h210m-211 1h211m-211 1h211m-216 1h215m-212 1h224m-225 1h217m-212 1h212m-216 1h216m-215 1h214m-214 1h214m-215 1h211m-211 1h209m-208 1h209m-210 1h210m-210 1h207m-207 1h207m-207 1h207m-208 1h208m-208 1h207m-208 1h208m-207 1h205m-205 1h205m-206 1h211m-210 1h209m-209 1h209m-210 1h210m-210 1h208m-208 1h209m-210 1h208m-208 1h206m-206 1h202m-203 1h207m-207 1h208m-209 1h207m-206 1h203m-204 1h204m-204 1h203m-203 1h203m-204 1h203m-202 1h202m-202 1h202m-203 1h205m-206 1h207m-206 1h204m-206 1h206m-205 1h205m-206 1h207m-207 1h207m-207 1h206m-207 1h205m-206 1h206m-206 1h205m-205 1h204m-204 1h200m-201 1h201m-201 1h201m-202 1h202m-203 1h203m-204 1h199m-200 1h200m-200 1h203m-205 1h201m-201 1h203m-204 1h199m-201 1h200m-201 1h203m-203 1h204"/>
</g></g>
<g fill="#1c1c1c"><circle cx="214" cy="122" r="5.3" fill-opacity="0.49"/><circle cx="216.2" cy="121.9" r="5.3" fill-opacity="0.42"/><circle cx="218.3" cy="121.9" r="5.3" fill-opacity="0.36"/><circle cx="220.4" cy="121.8" r="5.3" fill-opacity="0.30"/><circle cx="222.5" cy="121.8" r="5.3" fill-opacity="0.24"/><circle cx="224.7" cy="121.8" r="5.3" fill-opacity="0.19"/><circle cx="226.8" cy="121.7" r="5.3" fill-opacity="0.14"/><circle cx="228.9" cy="121.7" r="5.3" fill-opacity="0.10"/><circle cx="129.7" cy="558.5" r="5.3" fill-opacity="0.49"/><circle cx="127.8" cy="558.6" r="5.3" fill-opacity="0.40"/><circle cx="125.9" cy="558.6" r="5.3" fill-opacity="0.32"/><circle cx="124" cy="558.7" r="5.3" fill-opacity="0.24"/><circle cx="122.1" cy="558.8" r="5.3" fill-opacity="0.17"/><circle cx="120.2" cy="558.8" r="5.3" fill-opacity="0.11"/></g>
<g stroke="#1c1c1c" stroke-linecap="round" stroke-linejoin="round" fill="none">
<defs><path id="k1" d="M211.9 122 210.8 123.5 209.8 125 208.9 126.5 208 128 207.2 129.5 206.4 131 205.7 132.5 205 134 204.4 135.5 203.7 137 203.1 138.5 202.6 140 202 141.5 201.5 143 200.9 144.5 200.4 146 200 147.5 199.5 149 199 150.5 198.6 152 198.2 153.5 197.7 155 197.3 156.5 196.9 158 196.5 159.5 196.1 161 195.7 162.5 195.4 164 195 165.5 194.6 167 194.3 168.5 193.9 170 193.6 171.5 193.2 173 192.9 174.5 192.6 176 192.2 177.5 191.9 179 191.6 180.5 191.3 182 191 183.5 190.7 185 190.4 186.5 190.1 188 189.8 189.5 189.5 191 189.3 192.5 189 194 188.7 195.5 188.5 197 188.2 198.5 188 200 187.7 201.5 187.5 203 187.2 204.5 187 206 186.7 207.5 186.5 209 186.3 210.5 186 212 185.8 213.5 185.6 215 185.4 216.5 185.2 218 184.9 219.5 184.7 221 184.5 222.5 184.3 224 184.1 225.5 183.9 227 183.7 228.5 183.5 230 183.3 231.5 183.2 233 183 234.5 182.8 236 182.6 237.5 182.5 239 182.3 240.5 182.1 242 181.9 243.5 181.8 245 181.6 246.5 181.5 248 181.3 249.5 181.2 251 181 252.5 180.8 254 180.7 255.5 180.5 257 180.4 258.5 180.2 260 180.1 261.5 180 263 179.8 264.5 179.7 266 179.5 267.5 179.4 269 179.3 270.5 179.1 272 179 273.5 178.8 275 178.7 276.5 178.6 278 178.5 279.5 178.3 281 178.2 282.5 178.1 284 177.9 285.5 177.8 287 177.7 288.5 177.6 290 177.5 291.5 177.3 293 177.2 294.5 177.1 296 177 297.5 176.8 299 176.7 300.5 176.6 302 176.5 303.5 176.3 305 176.2 306.5 176.1 308 176 309.5 175.8 311 175.7 312.5 175.6 314 175.5 315.5 175.3 317 175.2 318.5 175.1 320 174.9 321.5 174.8 323 174.7 324.5 174.6 326 174.4 327.5 174.3 329 174.2 330.5 174 332 173.9 333.5 173.8 335 173.6 336.5 173.5 338 173.4 339.5 173.2 341 173.1 342.5 172.9 344 172.8 345.5 172.6 347 172.5 348.5 172.3 350 172.2 351.5 172 353 171.9 354.5 171.7 356 171.5 357.5 171.4 359 171.2 360.5 171.1 362 170.9 363.5 170.7 365 170.6 366.5 170.4 368 170.2 369.5 170 371 169.9 372.5 169.7 374 169.5 375.5 169.3 377 169.2 378.5 169 380 168.8 381.5 168.6 383 168.5 384.5 168.3 386 168.1 387.5 167.9 389 167.8 390.5 167.6 392 167.4 393.5 167.2 395 167.1 396.5 166.9 398 166.7 399.5 166.5 401 166.3 402.5 166.1 404 166 405.5 165.8 407 165.6 408.5 165.4 410 165.2 411.5 165 413 164.8 414.5 164.6 416 164.5 417.5 164.3 419 164.1 420.5 163.9 422 163.7 423.5 163.5 425 163.3 426.5 163.1 428 163 429.5 162.8 431 162.6 432.5 162.4 434 162.2 435.5 162.1 437 161.9 438.5 161.7 440 161.5 441.5 161.4 443 161.2 444.5 161 446 160.8 447.5 160.7 449 160.5 450.5 160.3 452 160.2 453.5 160 455 159.8 456.5 159.6 458 159.5 459.5 159.3 461 159.1 462.5 158.9 464 158.8 465.5 158.6 467 158.4 468.5 158.2 470 158 471.5 157.9 473 157.7 474.5 157.5 476 157.3 477.5 157.1 479 157 480.5 156.8 482 156.6 483.5 156.4 485 156.3 486.5 156.1 488 155.9 489.5 155.7 491 155.5 492.5 155.4 494 155.2 495.5 155 497 154.8 498.5 154.6 500 154.3 501.5 154.1 503 153.9 504.5 153.7 506 153.4 507.5 153.2 509 152.9 510.5 152.7 512 152.4 513.5 152.1 515 151.7 516.5 151.4 518 151 519.5 150.7 521 150.3 522.5 149.9 524 149.6 525.5 149.2 527 148.8 528.5 148.4 530 148 531.5 147.5 533 147.1 534.5 146.6 536 146.1 537.5 145.6 539 145.1 540.5 144.5 542 144 543.5 143.3 545 142.6 546.5 141.8 548 140.9 549.5 139.7 551 138.2 552.5 136.6 554 135.1 555.5 133.4 557 131.7 558.5"/></defs>
<use href="#k1" stroke-width="11.9" stroke-opacity="0.5"/>
<use href="#k1" stroke-width="10.7" stroke-opacity="0.86"/>
</g>
<path d="M161.05 99.5V580.2" stroke="#000" stroke-width="2.8" stroke-dasharray="10.7 10.74" fill="none"/>
</g>
<rect x="2" y="100.8" width="357.5" height="479.4" fill="none" stroke="#000" stroke-width="2.85" stroke-linejoin="round"/>
<path d="M67.7 580.2v6.9M161.45 580.2v6.9M254.7 580.2v6.9M348.2 580.2v6.9" stroke="#000" stroke-width="2.7" fill="none"/>
<text transform="translate(67.3,621) scale(1,1.045)" font-size="27.8" text-anchor="middle" fill="#0a0a0a"><tspan dy="1.5">−</tspan><tspan dy="-1.5">0.2</tspan></text>
<text transform="translate(161.25,621) scale(1,1.045)" font-size="27.8" text-anchor="middle" fill="#0a0a0a">0.0</text>
<text transform="translate(254.5,621) scale(1,1.045)" font-size="27.8" text-anchor="middle" fill="#0a0a0a">0.2</text>
<text transform="translate(348,621) scale(1,1.045)" font-size="27.8" text-anchor="middle" fill="#0a0a0a">0.4</text>
<text transform="translate(180.15,79.7)" font-size="27.9" text-anchor="middle" fill="#0a0a0a">Negative information</text>
</g>
<g>
<clipPath id="c2"><rect x="373.4" y="100.8" width="357.6" height="479.4"/></clipPath>
<g clip-path="url(#c2)">
<path d="M392.2 103.3V578.7M485.8 103.3V578.7M579.2 103.3V578.7M672.8 103.3V578.7" stroke="#ececec" stroke-width="1.2" fill="none"/>
<path d="M376.4 232H728.5M376.4 395.5H728.5M376.4 559.2H728.5" stroke="#e5e5e5" stroke-width="2.6" fill="none"/>
<clipPath id="b2"><rect x="373.4" y="121.6" width="357.6" height="438"/></clipPath>
<g clip-path="url(#b2)"><g stroke="#676767" fill="none">
<path transform="translate(0,0.5)" stroke-width="1" stroke-opacity="0.620" d="M510 121h156m-156 1h155m-157 1h157m-157 1h156m-156 1h156m-157 1h156m-156 1h155m-154 1h154m-156 1h155m-156 1h157m-157 1h155m-155 1h155m-156 1h156m-155 1h154m-155 1h155m-155 1h153m-153 1h154m-154 1h153m-154 1h155m-155 1h154m-154 1h153m-154 1h154m-153 1h154m-154 1h153m-154 1h154m-155 1h154m-153 1h152m-153 1h154m-154 1h154m-154 1h153m-154 1h153m-153 1h153m-152 1h152m-154 1h156m-155 1h154m-154 1h152m-153 1h154m-154 1h154m-154 1h153m-154 1h154m-153 1h152m-152 1h153m-153 1h153m-154 1h153m-153 1h154m-154 1h152m-152 1h152m-152 1h152m-152 1h152m-152 1h152m-152 1h151m-151 1h152m-152 1h152m-154 1h152m-153 1h153m-152 1h152m-151 1h151m-151 1h152m-152 1h151m-152 1h152m-153 1h153m-152 1h151m-149 1h148m-149 1h150m-151 1h152m-152 1h151m-151 1h151m-152 1h152m-152 1h151m-151 1h150m-149 1h150m-151 1h152m-152 1h151m-151 1h151m-153 1h152m-150 1h151m-151 1h151m-152 1h151m-151 1h151m-151 1h151m-151 1h151m-151 1h151m-151 1h150m-150 1h151m-151 1h150m-151 1h152m-152 1h151m-150 1h149m-150 1h151m-151 1h150m-150 1h151m-152 1h151m-151 1h151m-151 1h151m-151 1h151m-151 1h150m-150 1h150m-151 1h151m-151 1h151m-151 1h151m-151 1h151m-151 1h150m-151 1h151m-150 1h151m-152 1h151m-150 1h150m-151 1h151m-151 1h151m-151 1h151m-151 1h150m-152 1h152m-151 1h152m-152 1h151m-151 1h151m-150 1h150m-150 1h150m-150 1h150m-151 1h150m-149 1h149m-150 1h150m-150 1h151m-152 1h152m-152 1h151m-150 1h150m-149 1h149m-150 1h151m-151 1h150m-150 1h151m-152 1h151m-151 1h151m-150 1h150m-151 1h151m-151 1h151m-151 1h150m-150 1h150m-150 1h151m-151 1h150m-151 1h151m-150 1h151m-152 1h151m-151 1h151m-151 1h151m-150 1h150m-151 1h151m-151 1h151m-151 1h151m-150 1h149m-151 1h152m-152 1h152m-151 1h150m-151 1h152m-152 1h152m-152 1h151m-151 1h151m-151 1h150m-150 1h151m-151 1h151m-151 1h150m-150 1h150m-151 1h151m-151 1h150m-150 1h151m-152 1h152m-151 1h152m-153 1h152m-152 1h151m-151 1h152m-152 1h152m-152 1h152m-153 1h152m-151 1h151m-152 1h152m-151 1h150m-150 1h150m-151 1h151m-151 1h151m-151 1h151m-151 1h150m-150 1h150m-150 1h150m-151 1h151m-151 1h151m-151 1h150m-150 1h151m-152 1h151m-150 1h150m-152 1h153m-151 1h151m-152 1h151m-151 1h151m-151 1h152m-152 1h152m-152 1h151m-150 1h149m-150 1h150m-151 1h152m-152 1h152m-151 1h151m-152 1h153m-152 1h151m-152 1h151m-152 1h152m-151 1h151m-152 1h153m-153 1h153m-152 1h151m-152 1h151m-152 1h153m-152 1h152m-151 1h151m-152 1h151m-151 1h152m-152 1h152m-154 1h154m-153 1h153m-152 1h152m-152 1h151m-152 1h152m-153 1h153m-152 1h153m-152 1h152m-154 1h153m-152 1h152m-152 1h152m-153 1h154m-154 1h153m-154 1h154m-153 1h153m-153 1h152m-152 1h154m-154 1h153m-154 1h154m-154 1h154m-154 1h153m-153 1h154m-154 1h154m-154 1h153m-153 1h154m-155 1h155m-153 1h152m-154 1h155m-155 1h154m-155 1h155m-153 1h153m-155 1h155m-155 1h155m-155 1h155m-155 1h156m-156 1h155m-156 1h156m-155 1h155m-156 1h156m-156 1h155m-155 1h155m-155 1h156m-156 1h155m-156 1h157m-156 1h155m-156 1h157m-157 1h156m-156 1h157m-158 1h158m-157 1h157m-157 1h157m-158 1h157m-157 1h158m-158 1h157m-157 1h157m-157 1h157m-158 1h157m-157 1h157m-157 1h157m-157 1h158m-158 1h158m-158 1h157m-158 1h158m-157 1h157m-158 1h158m-158 1h158m-158 1h158m-157 1h157m-158 1h158m-159 1h158m-158 1h159m-159 1h159m-158 1h158m-158 1h157m-158 1h158m-159 1h159m-158 1h159m-159 1h160m-161 1h160m-159 1h159m-160 1h159m-159 1h160m-160 1h160m-159 1h158m-160 1h160m-160 1h160m-160 1h160m-160 1h161m-161 1h160m-160 1h161m-161 1h160m-160 1h159m-160 1h161m-162 1h162m-162 1h162m-160 1h160m-160 1h159m-160 1h161m-161 1h160m-161 1h161m-160 1h161m-161 1h161m-162 1h161m-160 1h160m-161 1h161m-162 1h162m-161 1h161m-162 1h162m-161 1h160m-160 1h161m-162 1h162m-162 1h161m-161 1h161m-162 1h162m-161 1h161m-162 1h162m-161 1h161m-162 1h161m-161 1h162m-162 1h162m-162 1h161m-161 1h162m-162 1h162m-163 1h162m-162 1h161m-161 1h162m-161 1h161m-161 1h161m-161 1h161m-163 1h163m-161 1h160m-161 1h162m-162 1h162m-162 1h161m-162 1h162m-162 1h162m-163 1h164m-163 1h163m-163 1h162m-163 1h163m-163 1h163m-163 1h163m-163 1h163m-163 1h162m-164 1h164m-163 1h163m-164 1h164m-164 1h163m-163 1h165m-166 1h164m-163 1h164m-165 1h165m-165 1h164m-164 1h164m-166 1h166m-165 1h165m-165 1h165m-166 1h166m-166 1h166m-166 1h165m-165 1h165m-165 1h164m-165 1h166m-166 1h166m-166 1h166m-167 1h167m-168 1h168m-168 1h167m-166 1h166m-166 1h165m-165 1h167m-168 1h167m-167 1h168m-169 1h168m-168 1h168m-168 1h167m-168 1h167m-167 1h168m-169 1h169m-168 1h167m-168 1h168m-168 1h168m-168 1h168m-168 1h168m-169 1h168m-168 1h169m-170 1h169m-169 1h168m-167 1h167m-168 1h168m-169 1h168m-169 1h170m-170 1h170m-170 1h169m-169 1h169m-170 1h170m-171 1h170m-169 1h169m-170 1h171m-171 1h170m-171 1h171m-171 1h170m-170 1h170m-170 1h170m-170 1h169m-171 1h171m-172 1h171m-171 1h171m-171 1h170m-171 1h171m-172 1h171m-171 1h171m-172 1h170m-171 1h172m-172 1h172m-173 1h172m-173 1h172m-172 1h171m-172 1h170m-170 1h171m-171 1h171m-172 1h170m-170 1h169m-171 1h170m-171 1h170m-171 1h171"/>
<path transform="translate(0,0.5)" stroke-width="1" stroke-opacity="0.520" d="M505 121h163m-161 1h160m-161 1h161m-161 1h160m-160 1h158m-160 1h162m-161 1h162m-166 1h172m-171 1h171m-172 1h169m-169 1h161m-164 1h166m-166 1h167m-168 1h165m-161 1h158m-162 1h167m-166 1h165m-171 1h169m-169 1h168m-168 1h165m-161 1h167m-167 1h167m-162 1h163m-164 1h164m-163 1h157m-159 1h163m-166 1h164m-164 1h161m-165 1h165m-172 1h174m-173 1h172m-172 1h173m-163 1h163m-161 1h162m-164 1h163m-166 1h165m-164 1h165m-163 1h163m-172 1h171m-168 1h168m-168 1h167m-168 1h174m-173 1h170m-171 1h171m-170 1h168m-168 1h165m-169 1h168m-159 1h161m-162 1h158m-160 1h162m-162 1h163m-168 1h166m-165 1h166m-167 1h168m-168 1h165m-167 1h170m-168 1h164m-160 1h171m-176 1h176m-178 1h178m-184 1h178m-174 1h174m-165 1h157m-157 1h170m-169 1h158m-166 1h167m-161 1h169m-168 1h160m-161 1h167m-167 1h164m-165 1h166m-165 1h168m-167 1h164m-177 1h173m-166 1h168m-175 1h174m-166 1h167m-164 1h162m-162 1h162m-163 1h161m-160 1h166m-166 1h167m-163 1h162m-163 1h163m-164 1h163m-162 1h161m-162 1h159m-160 1h159m-158 1h160m-160 1h159m-159 1h160m-164 1h164m-167 1h165m-166 1h166m-165 1h164m-160 1h160m-161 1h161m-162 1h161m-160 1h163m-161 1h161m-161 1h159m-163 1h164m-164 1h162m-162 1h162m-164 1h163m-163 1h160m-158 1h172m-172 1h168m-169 1h162m-162 1h162m-159 1h158m-158 1h159m-165 1h165m-159 1h156m-161 1h162m-163 1h166m-164 1h164m-163 1h158m-156 1h161m-166 1h163m-159 1h162m-165 1h165m-166 1h164m-164 1h164m-157 1h156m-156 1h159m-164 1h162m-159 1h158m-159 1h157m-156 1h159m-160 1h160m-161 1h170m-171 1h162m-161 1h160m-159 1h160m-167 1h172m-175 1h171m-165 1h165m-164 1h165m-164 1h166m-166 1h166m-163 1h164m-176 1h176m-172 1h167m-160 1h167m-172 1h168m-172 1h170m-169 1h167m-167 1h170m-166 1h160m-160 1h161m-162 1h161m-159 1h159m-166 1h165m-160 1h161m-162 1h161m-160 1h166m-162 1h154m-154 1h154m-160 1h163m-164 1h172m-172 1h173m-173 1h172m-167 1h161m-162 1h162m-167 1h167m-167 1h167m-164 1h170m-173 1h171m-166 1h164m-164 1h164m-170 1h172m-172 1h172m-172 1h172m-175 1h175m-172 1h173m-170 1h161m-161 1h158m-158 1h159m-156 1h161m-165 1h165m-168 1h179m-178 1h168m-168 1h168m-169 1h172m-169 1h169m-174 1h173m-167 1h159m-162 1h162m-162 1h162m-162 1h164m-162 1h167m-168 1h160m-164 1h166m-166 1h167m-168 1h173m-173 1h173m-174 1h174m-174 1h171m-168 1h168m-168 1h165m-169 1h170m-162 1h166m-167 1h159m-158 1h159m-160 1h160m-168 1h168m-164 1h172m-180 1h174m-170 1h171m-164 1h163m-168 1h168m-167 1h168m-172 1h174m-179 1h178m-171 1h171m-167 1h161m-160 1h160m-161 1h164m-164 1h167m-167 1h165m-172 1h173m-174 1h170m-165 1h165m-165 1h166m-165 1h166m-166 1h168m-168 1h167m-168 1h168m-168 1h167m-167 1h166m-168 1h172m-166 1h165m-166 1h166m-170 1h169m-168 1h169m-169 1h169m-169 1h172m-170 1h164m-163 1h163m-175 1h173m-168 1h168m-166 1h172m-170 1h168m-166 1h166m-167 1h167m-167 1h165m-165 1h161m-163 1h165m-171 1h177m-172 1h172m-174 1h169m-175 1h177m-177 1h171m-162 1h165m-165 1h164m-168 1h169m-169 1h170m-170 1h168m-164 1h162m-162 1h163m-164 1h170m-171 1h172m-174 1h174m-171 1h171m-171 1h168m-169 1h166m-169 1h169m-168 1h169m-167 1h168m-171 1h170m-171 1h175m-172 1h168m-168 1h170m-175 1h174m-173 1h174m-175 1h168m-168 1h174m-174 1h174m-174 1h169m-172 1h172m-166 1h166m-168 1h172m-170 1h167m-165 1h164m-165 1h165m-165 1h165m-165 1h175m-181 1h181m-181 1h175m-170 1h170m-176 1h178m-172 1h168m-175 1h178m-180 1h180m-180 1h180m-172 1h168m-171 1h178m-183 1h183m-178 1h169m-175 1h172m-166 1h177m-182 1h181m-180 1h178m-179 1h171m-172 1h174m-173 1h172m-174 1h183m-184 1h183m-179 1h178m-179 1h172m-169 1h173m-173 1h170m-172 1h176m-178 1h178m-172 1h172m-169 1h173m-176 1h165m-169 1h170m-165 1h169m-169 1h170m-176 1h178m-173 1h179m-180 1h182m-180 1h180m-180 1h166m-167 1h167m-168 1h170m-170 1h171m-171 1h172m-172 1h168m-173 1h173m-173 1h172m-170 1h169m-170 1h171m-171 1h173m-173 1h174m-175 1h170m-166 1h167m-166 1h166m-169 1h171m-172 1h172m-169 1h170m-170 1h167m-166 1h165m-165 1h166m-166 1h166m-169 1h169m-168 1h168m-168 1h167m-167 1h178m-179 1h174m-175 1h175m-173 1h172m-175 1h171m-168 1h170m-175 1h173m-174 1h177m-175 1h181m-178 1h177m-178 1h175m-174 1h174m-174 1h174m-180 1h178m-174 1h172m-173 1h172m-172 1h173m-180 1h180m-175 1h175m-174 1h174m-177 1h173m-174 1h173m-173 1h173m-174 1h177m-177 1h176m-174 1h174m-173 1h173m-177 1h177m-175 1h174m-176 1h177m-173 1h173m-175 1h175m-178 1h175m-170 1h175m-176 1h175m-179 1h178m-178 1h175m-173 1h174m-175 1h175m-176 1h174m-177 1h177m-172 1h173m-174 1h174m-175 1h174m-174 1h174m-172 1h174m-177 1h179m-184 1h183m-181 1h177m-179 1h182m-181 1h181m-182 1h183m-183 1h182m-183 1h178m-180 1h180m-181 1h181m-175 1h175m-180 1h181m-181 1h181m-182 1h181m-181 1h187m-188 1h182m-182 1h180m-177 1h183m-184 1h183m-182 1h184m-185 1h181m-186 1h182m-182 1h185m-184 1h180m-179 1h185m-184 1h183m-187 1h187m-188 1h184m-184 1h185m-186 1h185m-183 1h182m-185 1h184m-185 1h186m-187 1h182m-179 1h179m-181 1h180m-179 1h178m-178 1h179m-176 1h175m-183 1h182m-179 1h178m-183 1h180m-180 1h181"/>
<path transform="translate(0,0.5)" stroke-width="1" stroke-opacity="0.420" d="M495 121h177m-178 1h178m-166 1h161m-162 1h162m-175 1h176m-167 1h168m-168 1h173m-178 1h177m-172 1h179m-185 1h177m-175 1h173m-179 1h175m-181 1h183m-172 1h172m-170 1h169m-174 1h174m-175 1h173m-182 1h182m-183 1h182m-173 1h173m-173 1h174m-170 1h169m-166 1h167m-169 1h171m-169 1h164m-179 1h181m-180 1h177m-177 1h177m-171 1h176m-181 1h175m-174 1h173m-175 1h176m-170 1h170m-168 1h175m-176 1h169m-169 1h168m-173 1h174m-173 1h177m-182 1h177m-174 1h174m-174 1h179m-183 1h183m-181 1h182m-185 1h183m-183 1h180m-180 1h178m-174 1h173m-175 1h176m-169 1h169m-169 1h174m-176 1h176m-175 1h167m-168 1h171m-172 1h171m-171 1h174m-183 1h185m-178 1h179m-178 1h177m-175 1h174m-177 1h179m-186 1h185m-180 1h175m-175 1h171m-177 1h187m-172 1h174m-181 1h182m-177 1h175m-174 1h168m-168 1h169m-180 1h177m-176 1h178m-180 1h179m-179 1h181m-181 1h181m-181 1h182m-184 1h178m-171 1h171m-168 1h168m-174 1h183m-179 1h170m-170 1h172m-172 1h172m-168 1h167m-167 1h167m-167 1h168m-168 1h167m-168 1h171m-170 1h169m-175 1h175m-172 1h169m-168 1h170m-171 1h172m-173 1h167m-172 1h182m-182 1h170m-166 1h168m-165 1h165m-173 1h170m-163 1h172m-176 1h175m-171 1h165m-165 1h166m-167 1h165m-166 1h166m-166 1h166m-168 1h168m-168 1h178m-178 1h175m-176 1h173m-172 1h170m-170 1h171m-170 1h165m-168 1h174m-170 1h167m-169 1h166m-173 1h179m-178 1h173m-166 1h172m-175 1h175m-177 1h176m-177 1h178m-178 1h177m-175 1h168m-168 1h168m-159 1h160m-169 1h177m-178 1h177m-169 1h169m-175 1h172m-173 1h167m-167 1h173m-173 1h176m-177 1h168m-169 1h182m-183 1h184m-184 1h176m-179 1h177m-168 1h166m-166 1h168m-168 1h169m-169 1h170m-172 1h171m-177 1h180m-179 1h176m-171 1h173m-176 1h175m-182 1h179m-181 1h178m-177 1h183m-177 1h182m-182 1h181m-182 1h182m-182 1h173m-173 1h173m-167 1h167m-175 1h175m-167 1h168m-167 1h166m-171 1h185m-186 1h170m-170 1h177m-178 1h178m-176 1h176m-175 1h181m-183 1h182m-181 1h182m-182 1h181m-180 1h175m-175 1h174m-170 1h173m-178 1h175m-175 1h177m-180 1h180m-180 1h178m-180 1h180m-177 1h178m-177 1h165m-164 1h162m-161 1h165m-168 1h181m-180 1h180m-182 1h185m-183 1h173m-174 1h172m-175 1h179m-176 1h175m-177 1h176m-180 1h176m-174 1h175m-169 1h168m-172 1h174m-168 1h167m-168 1h162m-168 1h177m-178 1h176m-175 1h176m-176 1h176m-177 1h176m-176 1h178m-177 1h176m-177 1h170m-173 1h177m-175 1h178m-178 1h178m-176 1h181m-183 1h177m-180 1h176m-174 1h178m-181 1h180m-180 1h180m-178 1h173m-172 1h171m-169 1h171m-178 1h181m-181 1h183m-179 1h179m-176 1h176m-172 1h172m-176 1h176m-177 1h178m-182 1h176m-178 1h177m-178 1h175m-174 1h182m-182 1h183m-184 1h178m-178 1h179m-170 1h169m-171 1h170m-184 1h188m-174 1h173m-181 1h181m-174 1h173m-173 1h173m-174 1h174m-171 1h171m-171 1h172m-172 1h175m-174 1h172m-173 1h173m-184 1h182m-181 1h181m-174 1h180m-179 1h172m-169 1h170m-170 1h169m-173 1h170m-170 1h169m-173 1h174m-178 1h185m-177 1h176m-179 1h177m-183 1h182m-179 1h181m-180 1h179m-184 1h183m-177 1h177m-175 1h173m-174 1h180m-180 1h180m-177 1h181m-180 1h174m-178 1h182m-186 1h187m-182 1h181m-177 1h180m-184 1h181m-181 1h181m-181 1h177m-178 1h183m-184 1h177m-177 1h177m-174 1h174m-175 1h175m-179 1h179m-178 1h175m-175 1h171m-176 1h185m-185 1h184m-184 1h183m-184 1h183m-175 1h172m-176 1h179m-180 1h177m-173 1h173m-173 1h175m-175 1h175m-176 1h183m-190 1h190m-190 1h186m-183 1h178m-179 1h179m-178 1h177m-178 1h179m-184 1h188m-188 1h184m-182 1h181m-182 1h188m-187 1h187m-187 1h187m-188 1h179m-177 1h185m-184 1h184m-183 1h183m-186 1h185m-185 1h188m-188 1h181m-181 1h186m-188 1h191m-188 1h181m-179 1h179m-180 1h180m-178 1h177m-178 1h179m-186 1h192m-192 1h192m-193 1h191m-182 1h182m-185 1h175m-176 1h182m-184 1h182m-188 1h194m-181 1h181m-185 1h188m-192 1h191m-185 1h176m-183 1h182m-178 1h178m-176 1h176m-175 1h175m-173 1h173m-181 1h181m-181 1h181m-177 1h177m-177 1h176m-176 1h179m-180 1h181m-181 1h179m-178 1h176m-174 1h177m-180 1h180m-178 1h172m-173 1h174m-173 1h172m-173 1h171m-177 1h179m-174 1h173m-172 1h172m-178 1h188m-187 1h188m-183 1h183m-190 1h185m-179 1h179m-180 1h180m-186 1h183m-178 1h179m-179 1h176m-176 1h178m-176 1h183m-183 1h183m-183 1h181m-187 1h185m-182 1h183m-186 1h186m-183 1h178m-181 1h180m-177 1h184m-188 1h185m-187 1h187m-181 1h180m-182 1h178m-181 1h178m-176 1h181m-181 1h180m-184 1h185m-181 1h181m-181 1h183m-186 1h179m-180 1h185m-185 1h185m-188 1h182m-178 1h187m-190 1h189m-190 1h191m-187 1h180m-180 1h181m-181 1h185m-186 1h186m-186 1h182m-181 1h180m-182 1h182m-183 1h187m-184 1h176m-176 1h176m-177 1h178m-182 1h183m-180 1h186m-190 1h188m-188 1h184m-183 1h187m-187 1h187m-187 1h186m-187 1h187m-187 1h187m-190 1h183m-184 1h183m-184 1h186m-183 1h191m-194 1h190m-191 1h188m-188 1h190m-194 1h192m-186 1h187m-188 1h189m-189 1h188m-185 1h189m-195 1h188m-188 1h187m-186 1h188m-189 1h189m-187 1h186m-191 1h189m-188 1h190m-191 1h189m-187 1h187m-188 1h187m-188 1h187m-188 1h187m-188 1h190m-190 1h187m-188 1h186m-186 1h186m-186 1h185m-186 1h186m-187 1h186m-186 1h185m-185 1h181m-184 1h183m-183 1h184"/>
<path transform="translate(0,0.5)" stroke-width="1" stroke-opacity="0.320" d="M494 121h182m-182 1h182m-183 1h184m-185 1h176m-177 1h177m-177 1h191m-192 1h192m-187 1h186m-189 1h189m-186 1h179m-179 1h179m-189 1h185m-188 1h187m-185 1h183m-183 1h183m-183 1h183m-184 1h183m-184 1h183m-184 1h189m-188 1h188m-183 1h179m-177 1h188m-181 1h181m-188 1h188m-181 1h168m-183 1h183m-182 1h185m-183 1h182m-183 1h186m-184 1h188m-189 1h190m-192 1h179m-178 1h184m-180 1h182m-182 1h173m-174 1h175m-175 1h184m-190 1h193m-191 1h191m-191 1h190m-192 1h186m-186 1h186m-186 1h185m-185 1h190m-190 1h190m-193 1h182m-179 1h179m-179 1h179m-171 1h177m-178 1h178m-177 1h177m-181 1h177m-174 1h185m-193 1h182m-184 1h185m-185 1h186m-187 1h187m-181 1h181m-179 1h179m-186 1h190m-190 1h186m-185 1h184m-184 1h185m-186 1h189m-191 1h194m-193 1h193m-191 1h187m-186 1h187m-194 1h187m-188 1h186m-186 1h187m-184 1h185m-183 1h186m-186 1h185m-185 1h191m-191 1h183m-183 1h186m-181 1h185m-188 1h186m-184 1h174m-174 1h180m-180 1h180m-181 1h177m-179 1h178m-180 1h182m-183 1h188m-182 1h182m-176 1h175m-183 1h184m-180 1h175m-176 1h183m-180 1h179m-183 1h191m-197 1h196m-192 1h176m-176 1h176m-176 1h175m-176 1h173m-168 1h175m-182 1h182m-176 1h176m-175 1h174m-173 1h174m-176 1h181m-181 1h175m-176 1h177m-179 1h183m-185 1h185m-186 1h178m-178 1h177m-176 1h188m-188 1h184m-185 1h184m-179 1h170m-178 1h178m-177 1h188m-189 1h189m-186 1h185m-185 1h181m-180 1h179m-179 1h181m-180 1h181m-184 1h184m-185 1h182m-181 1h181m-181 1h187m-191 1h188m-183 1h183m-185 1h185m-185 1h172m-170 1h183m-181 1h180m-182 1h183m-182 1h182m-189 1h190m-190 1h191m-190 1h190m-186 1h175m-181 1h188m-182 1h183m-183 1h183m-182 1h182m-186 1h186m-186 1h181m-176 1h181m-189 1h185m-187 1h186m-187 1h189m-191 1h193m-185 1h187m-189 1h189m-188 1h193m-196 1h195m-194 1h195m-196 1h181m-183 1h192m-191 1h184m-182 1h182m-182 1h194m-189 1h188m-190 1h194m-197 1h196m-188 1h189m-192 1h185m-187 1h187m-185 1h185m-185 1h184m-189 1h188m-182 1h179m-186 1h189m-183 1h180m-181 1h181m-189 1h189m-190 1h188m-182 1h182m-179 1h182m-181 1h182m-190 1h189m-180 1h180m-189 1h195m-186 1h186m-189 1h189m-189 1h179m-179 1h176m-180 1h183m-183 1h182m-183 1h182m-183 1h183m-184 1h181m-174 1h179m-188 1h184m-185 1h189m-178 1h176m-185 1h192m-189 1h189m-189 1h188m-188 1h188m-189 1h190m-189 1h188m-185 1h185m-188 1h187m-190 1h189m-186 1h184m-182 1h181m-181 1h186m-187 1h181m-192 1h192m-183 1h182m-185 1h186m-185 1h184m-185 1h182m-182 1h181m-181 1h182m-182 1h181m-182 1h188m-192 1h194m-196 1h199m-200 1h198m-183 1h178m-184 1h184m-185 1h183m-184 1h183m-182 1h182m-183 1h184m-183 1h189m-189 1h182m-185 1h186m-187 1h186m-190 1h188m-189 1h191m-189 1h197m-197 1h198m-186 1h178m-178 1h177m-183 1h187m-183 1h182m-192 1h187m-184 1h191m-191 1h188m-188 1h187m-187 1h185m-185 1h188m-187 1h192m-195 1h190m-189 1h183m-187 1h187m-187 1h186m-184 1h182m-182 1h188m-188 1h192m-185 1h181m-183 1h183m-187 1h184m-184 1h184m-184 1h188m-187 1h187m-188 1h188m-182 1h191m-193 1h192m-192 1h189m-186 1h186m-186 1h185m-188 1h189m-193 1h192m-188 1h188m-189 1h190m-190 1h188m-186 1h188m-188 1h184m-194 1h196m-188 1h187m-187 1h187m-185 1h185m-185 1h178m-181 1h183m-183 1h183m-183 1h180m-185 1h193m-195 1h193m-192 1h192m-193 1h192m-184 1h178m-180 1h183m-183 1h184m-191 1h190m-191 1h191m-187 1h187m-188 1h197m-202 1h197m-197 1h193m-186 1h184m-184 1h189m-192 1h183m-183 1h187m-192 1h197m-196 1h192m-194 1h193m-196 1h198m-193 1h194m-197 1h197m-199 1h197m-187 1h188m-185 1h183m-184 1h185m-186 1h185m-185 1h190m-190 1h189m-191 1h192m-196 1h196m-191 1h192m-190 1h191m-191 1h190m-188 1h188m-197 1h197m-195 1h197m-203 1h200m-202 1h200m-188 1h188m-198 1h200m-191 1h190m-199 1h196m-195 1h198m-197 1h196m-194 1h196m-198 1h197m-197 1h191m-191 1h195m-191 1h183m-189 1h188m-188 1h192m-187 1h185m-183 1h183m-183 1h183m-180 1h180m-191 1h191m-190 1h192m-188 1h194m-191 1h189m-191 1h189m-184 1h191m-192 1h185m-185 1h189m-189 1h183m-189 1h182m-181 1h180m-181 1h197m-195 1h188m-188 1h180m-181 1h189m-190 1h192m-191 1h190m-191 1h190m-188 1h188m-185 1h185m-191 1h189m-185 1h190m-191 1h179m-180 1h190m-193 1h193m-193 1h195m-189 1h185m-190 1h194m-192 1h191m-191 1h186m-186 1h186m-186 1h187m-189 1h194m-195 1h190m-192 1h191m-192 1h193m-190 1h192m-193 1h193m-191 1h189m-190 1h186m-188 1h190m-191 1h191m-188 1h188m-189 1h183m-188 1h195m-194 1h192m-192 1h188m-189 1h194m-195 1h194m-191 1h193m-192 1h191m-192 1h188m-188 1h195m-193 1h193m-193 1h188m-188 1h187m-188 1h191m-191 1h193m-194 1h183m-180 1h179m-182 1h190m-193 1h191m-191 1h193m-194 1h193m-194 1h191m-190 1h192m-194 1h194m-194 1h193m-188 1h186m-191 1h191m-191 1h194m-195 1h195m-197 1h197m-198 1h199m-199 1h199m-199 1h196m-197 1h202m-203 1h193m-189 1h190m-188 1h191m-194 1h194m-193 1h193m-195 1h195m-195 1h187m-187 1h196m-196 1h197m-199 1h192m-194 1h193m-192 1h192m-193 1h193m-193 1h191m-192 1h192m-192 1h192m-193 1h192m-192 1h192m-192 1h191m-191 1h192m-193 1h193m-194 1h197m-198 1h196m-197 1h190m-190 1h189m-189 1h185m-187 1h187m-186 1h185"/>
<path transform="translate(0,0.5)" stroke-width="1" stroke-opacity="0.220" d="M491 121h187m-185 1h185m-187 1h189m-189 1h186m-187 1h193m-198 1h198m-195 1h194m-195 1h195m-191 1h191m-187 1h186m-194 1h188m-193 1h192m-193 1h195m-192 1h191m-191 1h185m-185 1h185m-186 1h191m-192 1h192m-194 1h197m-196 1h191m-190 1h189m-183 1h191m-189 1h188m-191 1h192m-189 1h185m-195 1h193m-194 1h195m-195 1h190m-190 1h195m-195 1h196m-196 1h195m-193 1h186m-185 1h185m-185 1h191m-192 1h191m-188 1h188m-193 1h193m-196 1h198m-195 1h195m-201 1h200m-196 1h195m-194 1h190m-191 1h194m-193 1h194m-195 1h194m-196 1h195m-196 1h196m-197 1h189m-177 1h189m-196 1h193m-191 1h192m-193 1h193m-193 1h193m-194 1h187m-190 1h190m-193 1h193m-194 1h195m-192 1h190m-191 1h197m-198 1h197m-198 1h196m-197 1h197m-195 1h194m-194 1h198m-198 1h199m-200 1h202m-196 1h188m-188 1h188m-194 1h194m-195 1h196m-196 1h197m-197 1h194m-191 1h201m-202 1h201m-201 1h193m-192 1h193m-192 1h191m-189 1h197m-203 1h197m-196 1h192m-187 1h194m-198 1h198m-193 1h194m-205 1h200m-197 1h197m-198 1h196m-188 1h193m-196 1h189m-190 1h198m-194 1h194m-193 1h193m-195 1h189m-191 1h198m-198 1h197m-200 1h194m-194 1h195m-195 1h184m-178 1h179m-180 1h191m-193 1h192m-190 1h190m-192 1h193m-185 1h184m-183 1h184m-185 1h184m-191 1h192m-190 1h193m-201 1h198m-199 1h198m-197 1h197m-197 1h201m-200 1h195m-194 1h191m-191 1h183m-182 1h185m-185 1h191m-191 1h195m-194 1h194m-194 1h188m-186 1h187m-186 1h185m-185 1h186m-193 1h190m-191 1h191m-191 1h192m-192 1h197m-197 1h193m-191 1h191m-191 1h192m-193 1h193m-193 1h194m-186 1h187m-196 1h196m-196 1h195m-197 1h197m-201 1h201m-198 1h198m-193 1h191m-198 1h196m-195 1h197m-193 1h194m-194 1h192m-191 1h199m-199 1h189m-189 1h198m-203 1h191m-191 1h191m-192 1h194m-194 1h194m-187 1h199m-200 1h195m-194 1h194m-199 1h199m-198 1h198m-199 1h203m-206 1h205m-200 1h190m-190 1h196m-196 1h199m-197 1h197m-196 1h197m-200 1h199m-193 1h193m-194 1h193m-194 1h195m-193 1h191m-190 1h185m-196 1h201m-205 1h198m-194 1h204m-204 1h194m-194 1h197m-201 1h196m-196 1h194m-194 1h205m-199 1h196m-197 1h198m-198 1h197m-196 1h196m-196 1h197m-198 1h198m-192 1h191m-195 1h195m-195 1h185m-186 1h187m-189 1h187m-187 1h189m-189 1h195m-195 1h188m-188 1h192m-193 1h189m-189 1h193m-190 1h191m-195 1h198m-198 1h197m-198 1h196m-196 1h197m-197 1h196m-196 1h196m-200 1h200m-201 1h200m-201 1h203m-201 1h198m-186 1h185m-185 1h188m-199 1h201m-204 1h204m-194 1h185m-192 1h192m-193 1h193m-197 1h198m-198 1h192m-193 1h194m-194 1h195m-194 1h203m-203 1h204m-204 1h206m-205 1h208m-209 1h203m-204 1h205m-206 1h207m-207 1h196m-184 1h184m-185 1h199m-200 1h200m-201 1h195m-195 1h187m-194 1h194m-194 1h199m-199 1h202m-200 1h200m-200 1h200m-195 1h189m-191 1h190m-199 1h201m-200 1h201m-198 1h198m-194 1h198m-199 1h192m-192 1h192m-193 1h193m-189 1h192m-192 1h195m-198 1h197m-198 1h199m-199 1h189m-189 1h201m-202 1h202m-201 1h195m-195 1h197m-189 1h189m-197 1h192m-190 1h189m-188 1h187m-192 1h200m-201 1h202m-201 1h201m-190 1h191m-193 1h193m-193 1h189m-201 1h208m-203 1h198m-199 1h203m-208 1h208m-195 1h189m-191 1h190m-198 1h202m-193 1h192m-203 1h201m-202 1h201m-196 1h195m-198 1h197m-196 1h197m-189 1h189m-194 1h194m-193 1h191m-192 1h192m-193 1h194m-196 1h195m-195 1h196m-196 1h200m-200 1h196m-198 1h197m-196 1h197m-201 1h196m-195 1h197m-198 1h198m-198 1h206m-207 1h206m-206 1h200m-202 1h200m-196 1h203m-203 1h205m-205 1h197m-201 1h208m-206 1h200m-202 1h202m-203 1h206m-202 1h201m-203 1h203m-205 1h205m-197 1h198m-193 1h189m-190 1h197m-203 1h202m-203 1h204m-200 1h194m-195 1h194m-197 1h198m-200 1h201m-193 1h192m-199 1h199m-196 1h198m-205 1h205m-205 1h208m-208 1h203m-204 1h203m-202 1h202m-203 1h204m-202 1h202m-202 1h200m-199 1h199m-197 1h197m-197 1h199m-201 1h203m-201 1h196m-199 1h207m-208 1h201m-201 1h193m-193 1h207m-205 1h204m-204 1h203m-205 1h206m-203 1h204m-207 1h206m-206 1h202m-200 1h203m-203 1h198m-198 1h196m-198 1h205m-205 1h203m-198 1h197m-202 1h210m-209 1h208m-208 1h204m-204 1h205m-208 1h197m-197 1h196m-191 1h200m-203 1h208m-207 1h207m-208 1h207m-207 1h205m-205 1h205m-205 1h203m-203 1h198m-192 1h192m-195 1h197m-197 1h197m-198 1h199m-196 1h195m-196 1h196m-194 1h193m-195 1h194m-192 1h194m-198 1h197m-196 1h198m-198 1h197m-199 1h195m-196 1h195m-194 1h199m-198 1h195m-198 1h195m-197 1h197m-197 1h197m-194 1h193m-193 1h194m-200 1h199m-198 1h201m-199 1h204m-203 1h202m-204 1h202m-202 1h202m-201 1h201m-201 1h199m-199 1h197m-198 1h199m-199 1h198m-199 1h199m-199 1h197m-198 1h200m-199 1h199m-201 1h200m-194 1h193m-196 1h198m-198 1h193m-194 1h201m-202 1h194m-194 1h195m-196 1h195m-195 1h195m-195 1h195m-195 1h203m-203 1h196m-198 1h202m-202 1h201m-202 1h202m-203 1h201m-204 1h205m-206 1h201m-199 1h206m-206 1h202m-202 1h202m-198 1h193m-198 1h203m-203 1h203m-203 1h199m-200 1h194m-194 1h205m-208 1h207m-208 1h208m-209 1h208m-205 1h204m-203 1h195m-196 1h195m-194 1h194m-197 1h203m-203 1h201m-200 1h196m-196 1h196m-201 1h202m-202 1h202m-204 1h202m-202 1h202m-203 1h202m-203 1h195m-189 1h187m-191 1h196m-194 1h194"/>
<path transform="translate(0,0.5)" stroke-width="1" stroke-opacity="0.120" d="M487 121h203m-208 1h196m-191 1h193m-194 1h197m-197 1h197m-202 1h202m-198 1h197m-198 1h198m-196 1h197m-203 1h201m-200 1h200m-200 1h204m-204 1h202m-203 1h202m-202 1h201m-202 1h202m-204 1h204m-199 1h199m-203 1h200m-200 1h199m-199 1h198m-195 1h201m-205 1h204m-204 1h204m-204 1h204m-201 1h196m-197 1h197m-197 1h200m-212 1h210m-210 1h209m-200 1h201m-202 1h200m-200 1h198m-193 1h194m-197 1h207m-207 1h196m-196 1h195m-197 1h200m-203 1h206m-207 1h202m-203 1h203m-203 1h202m-202 1h205m-206 1h206m-205 1h204m-203 1h204m-205 1h204m-204 1h205m-196 1h197m-202 1h201m-200 1h200m-200 1h200m-201 1h201m-207 1h201m-199 1h198m-209 1h209m-209 1h214m-215 1h215m-215 1h215m-215 1h217m-218 1h217m-216 1h212m-199 1h200m-200 1h200m-200 1h205m-207 1h207m-208 1h200m-195 1h199m-201 1h202m-204 1h206m-205 1h206m-207 1h197m-196 1h204m-204 1h204m-207 1h199m-199 1h218m-215 1h216m-216 1h215m-219 1h202m-204 1h204m-200 1h204m-207 1h206m-205 1h205m-206 1h205m-205 1h202m-202 1h203m-202 1h208m-205 1h204m-206 1h203m-198 1h198m-214 1h216m-202 1h201m-201 1h201m-196 1h196m-204 1h199m-199 1h202m-202 1h202m-202 1h197m-198 1h206m-203 1h204m-201 1h199m-199 1h198m-196 1h196m-198 1h198m-197 1h195m-198 1h197m-199 1h204m-205 1h202m-202 1h202m-202 1h202m-201 1h202m-203 1h201m-201 1h198m-195 1h201m-201 1h200m-203 1h204m-205 1h204m-205 1h205m-198 1h189m-196 1h196m-187 1h188m-208 1h208m-207 1h205m-194 1h195m-195 1h195m-195 1h204m-204 1h205m-206 1h204m-200 1h200m-203 1h205m-204 1h204m-200 1h193m-201 1h204m-203 1h207m-210 1h211m-222 1h215m-215 1h214m-200 1h201m-204 1h199m-200 1h206m-206 1h206m-207 1h201m-201 1h212m-211 1h212m-212 1h208m-207 1h204m-205 1h205m-205 1h197m-197 1h209m-210 1h209m-208 1h209m-212 1h211m-210 1h210m-210 1h210m-209 1h211m-212 1h209m-205 1h204m-204 1h203m-199 1h199m-202 1h202m-201 1h202m-202 1h201m-197 1h197m-197 1h197m-197 1h199m-199 1h196m-196 1h195m-201 1h204m-210 1h210m-210 1h211m-209 1h204m-204 1h203m-204 1h202m-201 1h196m-197 1h208m-208 1h212m-213 1h213m-212 1h207m-206 1h205m-208 1h208m-207 1h207m-204 1h201m-198 1h203m-202 1h199m-199 1h199m-205 1h199m-199 1h199m-199 1h205m-206 1h198m-198 1h198m-198 1h198m-198 1h204m-201 1h201m-203 1h203m-204 1h204m-206 1h206m-207 1h206m-206 1h210m-209 1h208m-209 1h209m-210 1h211m-211 1h210m-209 1h202m-203 1h203m-204 1h206m-205 1h209m-210 1h209m-209 1h210m-209 1h210m-211 1h212m-214 1h212m-212 1h212m-212 1h212m-213 1h211m-210 1h210m-208 1h209m-209 1h208m-208 1h209m-209 1h208m-210 1h208m-208 1h210m-210 1h209m-210 1h209m-200 1h203m-202 1h202m-201 1h201m-210 1h211m-211 1h210m-211 1h211m-211 1h210m-210 1h210m-213 1h214m-214 1h206m-206 1h206m-205 1h206m-206 1h207m-207 1h206m-208 1h212m-211 1h207m-206 1h208m-206 1h209m-209 1h210m-207 1h208m-207 1h199m-200 1h204m-204 1h205m-205 1h208m-215 1h214m-213 1h207m-207 1h207m-200 1h200m-201 1h201m-200 1h204m-205 1h203m-209 1h209m-209 1h209m-208 1h207m-208 1h208m-207 1h208m-208 1h211m-211 1h211m-211 1h209m-209 1h210m-211 1h211m-207 1h205m-205 1h202m-206 1h210m-209 1h204m-206 1h206m-206 1h204m-201 1h200m-200 1h202m-200 1h198m-194 1h194m-200 1h206m-203 1h196m-196 1h197m-198 1h201m-203 1h203m-207 1h208m-206 1h206m-206 1h205m-203 1h207m-209 1h206m-208 1h202m-202 1h207m-209 1h204m-203 1h207m-207 1h207m-208 1h208m-211 1h204m-204 1h211m-206 1h209m-210 1h211m-211 1h211m-212 1h211m-213 1h214m-215 1h221m-220 1h206m-206 1h206m-205 1h205m-204 1h209m-209 1h207m-207 1h208m-209 1h209m-208 1h208m-207 1h207m-210 1h209m-206 1h207m-214 1h209m-207 1h208m-209 1h209m-209 1h210m-212 1h214m-209 1h221m-221 1h221m-220 1h220m-224 1h212m-212 1h211m-212 1h211m-206 1h202m-202 1h206m-206 1h206m-212 1h215m-214 1h215m-214 1h211m-211 1h213m-213 1h211m-221 1h222m-208 1h208m-221 1h221m-210 1h209m-210 1h210m-212 1h214m-213 1h212m-213 1h217m-218 1h214m-214 1h216m-210 1h211m-213 1h212m-212 1h206m-207 1h213m-210 1h210m-212 1h212m-210 1h209m-211 1h209m-210 1h211m-210 1h197m-195 1h215m-218 1h211m-212 1h213m-212 1h212m-209 1h207m-207 1h208m-208 1h205m-206 1h206m-202 1h201m-202 1h202m-208 1h207m-206 1h208m-209 1h209m-203 1h213m-213 1h203m-203 1h203m-208 1h208m-205 1h202m-202 1h202m-203 1h201m-203 1h204m-209 1h208m-208 1h208m-207 1h206m-206 1h209m-210 1h203m-203 1h202m-196 1h196m-198 1h200m-208 1h208m-208 1h213m-204 1h204m-208 1h208m-208 1h207m-206 1h205m-204 1h203m-204 1h204m-204 1h200m-201 1h203m-202 1h201m-200 1h201m-202 1h201m-201 1h200m-203 1h203m-203 1h203m-203 1h207m-207 1h206m-202 1h203m-204 1h203m-203 1h201m-202 1h204m-203 1h196m-198 1h205m-205 1h204m-205 1h205m-205 1h204m-207 1h207m-209 1h209m-209 1h208m-209 1h210m-210 1h208m-209 1h210m-210 1h209m-210 1h210m-209 1h209m-210 1h210m-211 1h210m-210 1h209m-210 1h210m-209 1h208m-210 1h210m-210 1h210m-211 1h211m-211 1h209m-210 1h210m-211 1h209m-210 1h208m-207 1h207m-207 1h207m-211 1h212m-213 1h209m-210 1h210m-207 1h206m-207 1h206m-208 1h208m-208 1h206m-207 1h206m-205 1h204m-200 1h199m-200 1h198m-201 1h201"/>
</g></g>
<g fill="#1c1c1c"><circle cx="582.2" cy="122.1" r="5.3" fill-opacity="0.49"/><circle cx="584.4" cy="122" r="5.3" fill-opacity="0.24"/><circle cx="516.4" cy="558.6" r="5.3" fill-opacity="0.49"/><circle cx="514.2" cy="558.7" r="5.3" fill-opacity="0.32"/><circle cx="512" cy="558.8" r="5.3" fill-opacity="0.17"/></g>
<g stroke="#1c1c1c" stroke-linecap="round" stroke-linejoin="round" fill="none">
<defs><path id="k2" d="M579.9 122.3 579.3 123.8 578.7 125.3 578.1 126.8 577.5 128.3 576.9 129.8 576.4 131.3 575.9 132.8 575.4 134.3 575 135.8 574.5 137.3 574.1 138.8 573.7 140.3 573.4 141.8 573 143.3 572.7 144.8 572.3 146.3 572 147.8 571.7 149.3 571.4 150.8 571.2 152.3 570.9 153.8 570.6 155.3 570.4 156.8 570.2 158.3 569.9 159.8 569.7 161.3 569.5 162.8 569.4 164.3 569.2 165.8 569 167.3 568.9 168.8 568.7 170.3 568.6 171.8 568.4 173.3 568.3 174.8 568.1 176.3 568 177.8 567.9 179.3 567.7 180.8 567.6 182.3 567.5 183.8 567.3 185.3 567.2 186.8 567.1 188.3 566.9 189.8 566.8 191.3 566.7 192.8 566.5 194.3 566.4 195.8 566.3 197.3 566.1 198.8 566 200.3 565.8 201.8 565.7 203.3 565.6 204.8 565.4 206.3 565.3 207.8 565.2 209.3 565 210.8 564.9 212.3 564.8 213.8 564.6 215.3 564.5 216.8 564.3 218.3 564.2 219.8 564.1 221.3 563.9 222.8 563.8 224.3 563.6 225.8 563.5 227.3 563.4 228.8 563.2 230.3 563.1 231.8 562.9 233.3 562.8 234.8 562.6 236.3 562.5 237.8 562.3 239.3 562.2 240.8 562 242.3 561.9 243.8 561.7 245.3 561.6 246.8 561.4 248.3 561.3 249.8 561.1 251.3 560.9 252.8 560.8 254.3 560.6 255.8 560.5 257.3 560.3 258.8 560.2 260.3 560 261.8 559.9 263.3 559.7 264.8 559.6 266.3 559.4 267.8 559.3 269.3 559.1 270.8 559 272.3 558.8 273.8 558.7 275.3 558.5 276.8 558.4 278.3 558.2 279.8 558.1 281.3 557.9 282.8 557.8 284.3 557.6 285.8 557.5 287.3 557.3 288.8 557.2 290.3 557 291.8 556.9 293.3 556.8 294.8 556.6 296.3 556.5 297.8 556.3 299.3 556.2 300.8 556.1 302.3 555.9 303.8 555.8 305.3 555.7 306.8 555.6 308.3 555.5 309.8 555.3 311.3 555.2 312.8 555.1 314.3 555 315.8 554.8 317.3 554.7 318.8 554.6 320.3 554.5 321.8 554.4 323.3 554.3 324.8 554.2 326.3 554 327.8 553.9 329.3 553.8 330.8 553.7 332.3 553.6 333.8 553.5 335.3 553.4 336.8 553.3 338.3 553.3 339.8 553.2 341.3 553.1 342.8 553 344.3 552.9 345.8 552.9 347.3 552.8 348.8 552.7 350.3 552.7 351.8 552.6 353.3 552.5 354.8 552.5 356.3 552.4 357.8 552.3 359.3 552.3 360.8 552.2 362.3 552.2 363.8 552.1 365.3 552.1 366.8 552 368.3 552 369.8 551.9 371.3 551.9 372.8 551.8 374.3 551.8 375.8 551.7 377.3 551.7 378.8 551.6 380.3 551.6 381.8 551.5 383.3 551.4 384.8 551.4 386.3 551.3 387.8 551.3 389.3 551.2 390.8 551.2 392.3 551.1 393.8 551 395.3 551 396.8 550.9 398.3 550.8 399.8 550.8 401.3 550.7 402.8 550.7 404.3 550.6 405.8 550.5 407.3 550.5 408.8 550.4 410.3 550.4 411.8 550.3 413.3 550.2 414.8 550.2 416.3 550.1 417.8 550 419.3 549.9 420.8 549.9 422.3 549.8 423.8 549.7 425.3 549.6 426.8 549.6 428.3 549.5 429.8 549.4 431.3 549.3 432.8 549.2 434.3 549.1 435.8 549 437.3 548.9 438.8 548.8 440.3 548.7 441.8 548.5 443.3 548.4 444.8 548.3 446.3 548.2 447.8 548 449.3 547.9 450.8 547.7 452.3 547.6 453.8 547.4 455.3 547.3 456.8 547.1 458.3 546.9 459.8 546.8 461.3 546.6 462.8 546.4 464.3 546.3 465.8 546.1 467.3 545.9 468.8 545.7 470.3 545.5 471.8 545.4 473.3 545.2 474.8 545 476.3 544.8 477.8 544.5 479.3 544.3 480.8 544.1 482.3 543.9 483.8 543.6 485.3 543.4 486.8 543.1 488.3 542.9 489.8 542.6 491.3 542.4 492.8 542.1 494.3 541.9 495.8 541.6 497.3 541.4 498.8 541.2 500.3 540.9 501.8 540.7 503.3 540.4 504.8 540.2 506.3 540 507.8 539.8 509.3 539.5 510.8 539.3 512.3 539.2 513.8 539 515.3 538.8 516.8 538.6 518.3 538.3 519.8 538.1 521.3 537.9 522.8 537.7 524.3 537.5 525.8 537.2 527.3 537 528.8 536.7 530.3 536.5 531.8 536.2 533.3 535.9 534.8 535.5 536.3 535.2 537.8 534.7 539.3 534.2 540.8 533.7 542.3 533 543.8 532.2 545.3 531.4 546.8 530.4 548.3 529.4 549.8 528.3 551.3 526.9 552.8 525.3 554.3 523.4 555.8 520.8 557.3 518.5 558.5"/></defs>
<use href="#k2" stroke-width="11.9" stroke-opacity="0.5"/>
<use href="#k2" stroke-width="10.7" stroke-opacity="0.86"/>
</g>
<path d="M533.1 99.5V580.2" stroke="#000" stroke-width="2.8" stroke-dasharray="10.7 10.74" fill="none"/>
</g>
<rect x="373.4" y="100.8" width="357.6" height="479.4" fill="none" stroke="#000" stroke-width="2.85" stroke-linejoin="round"/>
<path d="M439.2 580.2v6.9M533.5 580.2v6.9M626.45 580.2v6.9M719.7 580.2v6.9" stroke="#000" stroke-width="2.7" fill="none"/>
<text transform="translate(438.8,621) scale(1,1.045)" font-size="27.8" text-anchor="middle" fill="#0a0a0a"><tspan dy="1.5">−</tspan><tspan dy="-1.5">0.2</tspan></text>
<text transform="translate(533.3,621) scale(1,1.045)" font-size="27.8" text-anchor="middle" fill="#0a0a0a">0.0</text>
<text transform="translate(626.25,621) scale(1,1.045)" font-size="27.8" text-anchor="middle" fill="#0a0a0a">0.2</text>
<text transform="translate(719.5,621) scale(1,1.045)" font-size="27.8" text-anchor="middle" fill="#0a0a0a">0.4</text>
<text transform="translate(551.6,79.7)" font-size="27.9" text-anchor="middle" fill="#0a0a0a">Positive information</text>
</g>
<g>
<clipPath id="c3"><rect x="822.6" y="100.8" width="357.8" height="479.4"/></clipPath>
<g clip-path="url(#c3)">
<path d="M872.8 103.3V578.7M973 103.3V578.7M1073.2 103.3V578.7M1173.3 103.3V578.7" stroke="#ececec" stroke-width="1.2" fill="none"/>
<path d="M825.6 232H1177.9M825.6 395.5H1177.9M825.6 559.2H1177.9" stroke="#e5e5e5" stroke-width="2.6" fill="none"/>
<clipPath id="b3"><rect x="822.6" y="121.6" width="357.8" height="438"/></clipPath>
<g clip-path="url(#b3)"><g stroke="#676767" fill="none">
<path transform="translate(0,0.5)" stroke-width="1" stroke-opacity="0.620" d="M930 121h142m-142 1h143m-144 1h143m-145 1h144m-145 1h144m-144 1h143m-145 1h144m-144 1h144m-145 1h145m-143 1h143m-144 1h143m-144 1h143m-143 1h143m-145 1h145m-146 1h144m-145 1h145m-144 1h144m-144 1h143m-144 1h145m-145 1h144m-144 1h143m-144 1h145m-145 1h144m-144 1h143m-144 1h144m-144 1h143m-143 1h144m-145 1h145m-145 1h143m-144 1h145m-144 1h143m-144 1h144m-145 1h144m-144 1h144m-145 1h145m-145 1h143m-143 1h144m-145 1h144m-143 1h143m-144 1h143m-143 1h144m-144 1h144m-143 1h142m-143 1h143m-144 1h144m-144 1h143m-143 1h143m-144 1h144m-144 1h143m-142 1h143m-145 1h144m-143 1h142m-143 1h142m-143 1h143m-143 1h143m-143 1h143m-143 1h143m-143 1h143m-143 1h143m-143 1h142m-142 1h142m-142 1h142m-143 1h142m-141 1h142m-142 1h141m-141 1h141m-142 1h141m-140 1h140m-140 1h140m-141 1h141m-141 1h141m-141 1h141m-142 1h141m-140 1h140m-141 1h141m-141 1h141m-142 1h142m-142 1h142m-142 1h142m-141 1h141m-142 1h142m-142 1h142m-141 1h140m-142 1h143m-143 1h143m-141 1h142m-143 1h142m-142 1h141m-141 1h141m-141 1h142m-142 1h141m-141 1h143m-143 1h141m-142 1h142m-142 1h141m-141 1h141m-141 1h142m-143 1h142m-142 1h143m-143 1h142m-143 1h145m-144 1h143m-143 1h143m-143 1h142m-142 1h142m-142 1h142m-143 1h144m-145 1h145m-143 1h142m-143 1h144m-143 1h142m-143 1h143m-144 1h145m-144 1h143m-144 1h144m-144 1h144m-144 1h144m-144 1h144m-144 1h144m-144 1h143m-143 1h144m-144 1h144m-144 1h143m-143 1h143m-144 1h144m-144 1h144m-143 1h143m-143 1h142m-142 1h143m-143 1h143m-143 1h142m-142 1h142m-143 1h144m-143 1h143m-144 1h143m-142 1h143m-144 1h143m-143 1h143m-143 1h143m-143 1h143m-143 1h144m-143 1h142m-143 1h143m-144 1h144m-143 1h144m-144 1h143m-143 1h143m-143 1h142m-143 1h144m-144 1h143m-142 1h142m-142 1h141m-141 1h141m-143 1h143m-143 1h144m-143 1h143m-144 1h143m-143 1h144m-145 1h144m-143 1h143m-143 1h143m-144 1h143m-142 1h142m-142 1h143m-145 1h143m-142 1h142m-142 1h143m-143 1h143m-142 1h141m-142 1h142m-143 1h143m-144 1h145m-144 1h143m-143 1h144m-143 1h141m-142 1h143m-143 1h143m-143 1h143m-144 1h143m-143 1h143m-144 1h145m-143 1h142m-143 1h143m-143 1h142m-143 1h143m-142 1h142m-142 1h143m-143 1h142m-143 1h144m-144 1h143m-143 1h143m-142 1h142m-143 1h143m-143 1h143m-143 1h143m-144 1h143m-142 1h143m-143 1h142m-142 1h143m-144 1h144m-144 1h144m-143 1h143m-144 1h145m-145 1h144m-144 1h144m-144 1h143m-143 1h143m-144 1h145m-144 1h144m-144 1h143m-143 1h143m-144 1h144m-144 1h144m-144 1h145m-145 1h145m-145 1h143m-143 1h144m-145 1h145m-146 1h146m-145 1h145m-146 1h146m-146 1h144m-143 1h144m-144 1h144m-144 1h144m-144 1h143m-143 1h144m-145 1h145m-144 1h144m-144 1h144m-144 1h143m-145 1h145m-143 1h143m-143 1h143m-144 1h144m-145 1h145m-144 1h145m-145 1h145m-145 1h145m-146 1h145m-145 1h145m-145 1h145m-145 1h145m-145 1h146m-146 1h144m-144 1h144m-144 1h144m-145 1h146m-146 1h146m-145 1h144m-144 1h144m-144 1h143m-143 1h144m-145 1h143m-142 1h143m-143 1h143m-144 1h144m-144 1h145m-144 1h142m-143 1h143m-142 1h142m-144 1h144m-144 1h145m-145 1h145m-146 1h146m-145 1h145m-144 1h143m-144 1h144m-145 1h145m-144 1h144m-144 1h144m-144 1h144m-144 1h143m-143 1h143m-143 1h144m-146 1h146m-144 1h143m-144 1h143m-143 1h144m-144 1h144m-144 1h144m-145 1h145m-144 1h144m-144 1h143m-144 1h144m-144 1h144m-144 1h144m-145 1h144m-144 1h144m-143 1h143m-143 1h143m-144 1h144m-144 1h144m-144 1h144m-144 1h143m-143 1h144m-144 1h143m-143 1h144m-145 1h144m-143 1h143m-143 1h142m-143 1h144m-145 1h144m-143 1h144m-144 1h144m-145 1h145m-144 1h143m-143 1h143m-143 1h143m-144 1h143m-143 1h143m-143 1h143m-143 1h143m-143 1h143m-144 1h144m-143 1h143m-144 1h144m-144 1h144m-144 1h145m-145 1h143m-142 1h142m-143 1h144m-144 1h144m-144 1h145m-146 1h144m-142 1h143m-143 1h143m-145 1h145m-145 1h145m-143 1h142m-143 1h142m-142 1h143m-143 1h144m-144 1h143m-143 1h142m-143 1h143m-142 1h142m-142 1h142m-143 1h143m-144 1h144m-142 1h141m-142 1h143m-142 1h142m-143 1h144m-144 1h143m-143 1h143m-142 1h142m-143 1h142m-142 1h142m-142 1h143m-143 1h142m-143 1h143m-143 1h143m-142 1h142m-142 1h142m-143 1h144m-144 1h143m-144 1h145m-144 1h143m-143 1h141m-142 1h142m-143 1h145m-145 1h144m-144 1h144m-145 1h145m-145 1h145m-145 1h144m-144 1h145m-145 1h144m-145 1h144m-144 1h145m-145 1h144m-145 1h145m-144 1h144m-145 1h145m-145 1h145m-145 1h144m-143 1h144m-146 1h146m-144 1h143m-144 1h144m-145 1h146m-146 1h145m-145 1h145m-146 1h146m-146 1h146m-146 1h146m-146 1h145m-147 1h148m-147 1h146m-147 1h146m-144 1h145m-146 1h145m-146 1h146m-146 1h146m-146 1h146m-147 1h146m-146 1h146m-146 1h146m-145 1h145m-146 1h145m-146 1h147m-147 1h146m-146 1h146m-144 1h145m-146 1h145m-146 1h146m-147 1h147m-147 1h147m-146 1h146m-146 1h145m-146 1h146m-146 1h145m-144 1h144m-146 1h145m-145 1h145m-145 1h144m-145 1h145m-145 1h145m-146 1h145m-144 1h143m-143 1h144m-146 1h145m-145 1h144m-143 1h142m-144 1h144m-144 1h143m-144 1h144m-145 1h144m-144 1h144m-143 1h142m-144 1h143m-142 1h141m-144 1h142m-141 1h140m-141 1h140m-140 1h139m-139 1h138m-138 1h138"/>
<path transform="translate(0,0.5)" stroke-width="1" stroke-opacity="0.520" d="M928 121h148m-148 1h147m-152 1h152m-158 1h156m-156 1h158m-158 1h154m-152 1h153m-154 1h153m-154 1h152m-154 1h161m-159 1h161m-162 1h154m-155 1h152m-161 1h160m-161 1h161m-161 1h161m-161 1h160m-157 1h168m-168 1h161m-155 1h155m-160 1h160m-156 1h156m-156 1h156m-152 1h162m-167 1h164m-163 1h153m-158 1h161m-161 1h161m-164 1h160m-165 1h163m-154 1h154m-152 1h152m-154 1h154m-156 1h156m-159 1h159m-161 1h160m-160 1h161m-161 1h160m-161 1h162m-165 1h163m-160 1h161m-160 1h159m-157 1h158m-159 1h160m-153 1h160m-162 1h154m-152 1h151m-157 1h158m-157 1h154m-154 1h154m-155 1h160m-160 1h155m-154 1h159m-164 1h157m-157 1h156m-156 1h156m-163 1h167m-158 1h160m-161 1h154m-154 1h154m-155 1h154m-154 1h154m-151 1h151m-153 1h154m-155 1h154m-156 1h157m-159 1h156m-157 1h158m-149 1h148m-152 1h151m-151 1h152m-148 1h153m-153 1h147m-150 1h149m-151 1h151m-151 1h150m-150 1h151m-151 1h155m-160 1h158m-155 1h152m-152 1h152m-153 1h156m-150 1h149m-157 1h164m-155 1h153m-153 1h153m-153 1h152m-152 1h148m-147 1h146m-147 1h145m-145 1h145m-153 1h167m-167 1h165m-165 1h155m-154 1h155m-155 1h157m-157 1h160m-164 1h162m-158 1h158m-158 1h158m-160 1h160m-160 1h157m-157 1h161m-160 1h161m-157 1h156m-158 1h158m-164 1h157m-157 1h161m-154 1h151m-151 1h150m-152 1h158m-166 1h165m-158 1h157m-151 1h151m-155 1h155m-154 1h151m-150 1h159m-168 1h169m-166 1h157m-157 1h152m-153 1h154m-153 1h152m-152 1h155m-156 1h156m-155 1h152m-153 1h154m-151 1h151m-151 1h151m-151 1h154m-155 1h155m-154 1h151m-150 1h150m-151 1h152m-151 1h149m-148 1h148m-148 1h153m-155 1h156m-154 1h153m-162 1h160m-160 1h160m-160 1h162m-154 1h154m-159 1h160m-160 1h159m-160 1h156m-156 1h158m-158 1h157m-158 1h158m-158 1h160m-154 1h155m-154 1h152m-155 1h155m-155 1h153m-156 1h156m-156 1h157m-157 1h151m-151 1h157m-158 1h158m-158 1h158m-158 1h160m-159 1h158m-156 1h156m-167 1h167m-167 1h164m-165 1h165m-159 1h158m-153 1h158m-156 1h157m-155 1h151m-151 1h150m-151 1h149m-153 1h153m-153 1h151m-152 1h155m-154 1h153m-153 1h153m-152 1h153m-157 1h159m-158 1h153m-156 1h157m-154 1h155m-152 1h156m-157 1h161m-161 1h161m-162 1h157m-162 1h161m-156 1h154m-154 1h153m-152 1h151m-151 1h159m-160 1h158m-157 1h154m-155 1h154m-155 1h150m-150 1h154m-157 1h159m-153 1h150m-149 1h148m-148 1h147m-149 1h150m-150 1h155m-154 1h154m-163 1h163m-157 1h156m-157 1h157m-158 1h158m-163 1h162m-163 1h163m-159 1h159m-159 1h159m-159 1h156m-153 1h153m-154 1h159m-162 1h156m-154 1h154m-154 1h156m-156 1h156m-158 1h158m-161 1h159m-154 1h154m-155 1h155m-159 1h166m-167 1h158m-154 1h153m-152 1h157m-156 1h157m-157 1h158m-155 1h154m-156 1h156m-160 1h160m-160 1h160m-155 1h155m-160 1h160m-159 1h161m-160 1h157m-157 1h158m-153 1h152m-152 1h153m-156 1h155m-156 1h157m-163 1h163m-162 1h165m-166 1h160m-155 1h158m-158 1h156m-154 1h154m-157 1h156m-161 1h163m-164 1h162m-156 1h155m-155 1h155m-156 1h156m-150 1h150m-152 1h152m-158 1h154m-154 1h155m-150 1h150m-156 1h155m-152 1h152m-152 1h152m-150 1h149m-150 1h156m-159 1h155m-155 1h160m-171 1h170m-169 1h171m-160 1h160m-161 1h160m-161 1h154m-152 1h152m-150 1h159m-159 1h154m-152 1h153m-155 1h155m-161 1h159m-156 1h156m-154 1h153m-153 1h154m-160 1h160m-161 1h161m-161 1h165m-168 1h164m-163 1h163m-153 1h154m-160 1h154m-150 1h156m-164 1h161m-156 1h158m-158 1h158m-156 1h156m-156 1h153m-155 1h157m-159 1h159m-159 1h159m-156 1h153m-153 1h152m-153 1h156m-159 1h158m-159 1h163m-164 1h158m-153 1h154m-153 1h155m-154 1h152m-158 1h163m-163 1h162m-162 1h156m-153 1h152m-151 1h151m-151 1h156m-160 1h158m-158 1h161m-155 1h156m-157 1h151m-150 1h151m-160 1h159m-154 1h160m-160 1h158m-157 1h158m-164 1h167m-167 1h158m-159 1h162m-161 1h161m-160 1h169m-168 1h159m-159 1h160m-158 1h163m-166 1h168m-171 1h171m-172 1h163m-156 1h155m-159 1h161m-160 1h159m-160 1h156m-156 1h158m-158 1h158m-158 1h158m-160 1h160m-153 1h148m-153 1h161m-162 1h158m-157 1h154m-151 1h151m-152 1h152m-154 1h160m-159 1h159m-163 1h161m-160 1h163m-153 1h150m-150 1h149m-149 1h149m-151 1h155m-156 1h158m-158 1h151m-154 1h154m-152 1h152m-154 1h156m-158 1h157m-158 1h163m-163 1h162m-162 1h158m-158 1h162m-162 1h162m-161 1h157m-160 1h159m-157 1h159m-160 1h161m-161 1h156m-154 1h158m-158 1h156m-158 1h154m-153 1h153m-156 1h156m-156 1h155m-156 1h159m-161 1h163m-161 1h158m-159 1h158m-159 1h158m-157 1h159m-151 1h151m-151 1h147m-148 1h147m-153 1h154m-154 1h153m-160 1h161m-156 1h161m-162 1h160m-160 1h161m-161 1h160m-160 1h160m-162 1h162m-156 1h155m-157 1h155m-155 1h156m-156 1h159m-163 1h159m-159 1h159m-159 1h163m-163 1h158m-164 1h161m-162 1h168m-168 1h173m-165 1h154m-162 1h166m-162 1h162m-163 1h162m-161 1h160m-159 1h163m-163 1h162m-163 1h158m-156 1h157m-156 1h156m-156 1h155m-155 1h154m-153 1h152m-154 1h154m-155 1h155m-157 1h157m-158 1h157m-155 1h154m-154 1h154m-155 1h155m-154 1h154m-156 1h158m-157 1h157m-158 1h153m-153 1h153m-152 1h151m-152 1h151m-151 1h155m-156 1h155m-155 1h154m-156 1h155m-155 1h153m-153 1h148m-149 1h148m-149 1h147m-148 1h147m-146 1h146"/>
<path transform="translate(0,0.5)" stroke-width="1" stroke-opacity="0.420" d="M927 121h151m-150 1h148m-156 1h156m-163 1h163m-162 1h161m-160 1h161m-160 1h159m-157 1h155m-157 1h157m-162 1h166m-163 1h163m-164 1h164m-164 1h157m-166 1h166m-166 1h166m-166 1h167m-168 1h180m-178 1h177m-176 1h175m-182 1h182m-182 1h181m-168 1h168m-168 1h167m-181 1h182m-177 1h175m-168 1h166m-177 1h176m-176 1h176m-173 1h166m-170 1h167m-158 1h156m-154 1h157m-159 1h163m-166 1h165m-167 1h161m-164 1h175m-175 1h174m-175 1h165m-165 1h165m-171 1h170m-164 1h165m-162 1h162m-169 1h168m-167 1h177m-172 1h172m-170 1h168m-168 1h168m-167 1h171m-171 1h170m-172 1h165m-170 1h173m-164 1h158m-165 1h171m-171 1h164m-166 1h164m-167 1h167m-167 1h169m-161 1h162m-163 1h158m-165 1h166m-167 1h171m-172 1h167m-155 1h155m-160 1h158m-158 1h157m-157 1h165m-168 1h167m-170 1h170m-164 1h165m-166 1h165m-171 1h167m-162 1h163m-164 1h164m-160 1h158m-159 1h158m-157 1h155m-160 1h161m-161 1h161m-161 1h160m-160 1h159m-160 1h159m-158 1h159m-160 1h165m-164 1h169m-169 1h164m-164 1h164m-165 1h164m-164 1h163m-167 1h171m-171 1h162m-162 1h173m-168 1h169m-169 1h168m-170 1h162m-167 1h167m-168 1h167m-166 1h169m-165 1h165m-166 1h166m-163 1h167m-168 1h168m-166 1h160m-161 1h168m-168 1h165m-164 1h162m-160 1h160m-165 1h164m-164 1h165m-165 1h159m-163 1h166m-164 1h172m-173 1h172m-165 1h162m-161 1h161m-162 1h164m-168 1h167m-167 1h168m-170 1h175m-173 1h166m-170 1h169m-168 1h168m-167 1h165m-166 1h164m-163 1h163m-161 1h158m-159 1h160m-157 1h152m-162 1h176m-166 1h159m-161 1h160m-159 1h161m-158 1h158m-159 1h155m-157 1h162m-162 1h161m-159 1h159m-165 1h162m-154 1h155m-172 1h171m-171 1h175m-176 1h173m-168 1h167m-172 1h172m-164 1h164m-162 1h161m-163 1h164m-164 1h162m-162 1h163m-163 1h166m-164 1h161m-161 1h160m-157 1h156m-156 1h159m-170 1h173m-168 1h168m-169 1h168m-169 1h168m-162 1h160m-167 1h167m-168 1h169m-169 1h168m-167 1h168m-171 1h171m-171 1h176m-176 1h167m-168 1h168m-157 1h162m-164 1h168m-168 1h159m-160 1h161m-159 1h158m-160 1h161m-161 1h160m-159 1h159m-159 1h159m-160 1h161m-160 1h159m-160 1h160m-164 1h163m-159 1h168m-169 1h162m-167 1h167m-168 1h174m-175 1h176m-174 1h168m-164 1h164m-165 1h169m-167 1h161m-163 1h166m-166 1h169m-170 1h167m-173 1h170m-159 1h161m-161 1h159m-168 1h165m-167 1h178m-167 1h158m-158 1h158m-169 1h172m-161 1h158m-158 1h159m-155 1h155m-171 1h170m-170 1h170m-168 1h168m-170 1h169m-165 1h167m-167 1h168m-163 1h162m-163 1h161m-162 1h159m-157 1h158m-169 1h177m-168 1h161m-161 1h161m-161 1h160m-161 1h162m-162 1h161m-162 1h167m-167 1h167m-168 1h163m-163 1h173m-178 1h170m-162 1h162m-162 1h166m-166 1h167m-166 1h165m-166 1h167m-170 1h163m-163 1h163m-161 1h160m-159 1h162m-164 1h168m-169 1h170m-169 1h163m-168 1h171m-167 1h163m-163 1h165m-165 1h163m-163 1h165m-166 1h167m-165 1h166m-168 1h163m-158 1h162m-163 1h160m-165 1h169m-169 1h168m-168 1h168m-168 1h165m-160 1h161m-169 1h168m-168 1h164m-156 1h156m-157 1h165m-169 1h158m-157 1h161m-159 1h161m-170 1h163m-157 1h158m-161 1h159m-152 1h159m-162 1h162m-165 1h166m-167 1h168m-179 1h179m-179 1h180m-179 1h179m-181 1h180m-168 1h164m-171 1h166m-157 1h169m-163 1h157m-156 1h157m-167 1h171m-171 1h165m-162 1h161m-161 1h161m-160 1h161m-165 1h168m-172 1h172m-175 1h176m-176 1h175m-176 1h173m-166 1h166m-165 1h164m-164 1h165m-166 1h164m-159 1h162m-173 1h172m-159 1h159m-160 1h158m-168 1h167m-159 1h160m-166 1h165m-165 1h166m-159 1h157m-158 1h161m-164 1h164m-166 1h168m-168 1h171m-169 1h169m-169 1h169m-162 1h158m-168 1h171m-168 1h164m-164 1h164m-165 1h162m-165 1h165m-163 1h165m-166 1h167m-169 1h167m-167 1h167m-166 1h169m-173 1h174m-178 1h176m-175 1h176m-167 1h167m-173 1h172m-179 1h184m-180 1h178m-177 1h170m-170 1h178m-178 1h177m-177 1h178m-178 1h177m-177 1h177m-170 1h172m-179 1h179m-179 1h177m-177 1h168m-171 1h175m-167 1h165m-165 1h165m-168 1h168m-167 1h167m-172 1h173m-173 1h169m-169 1h169m-167 1h172m-172 1h168m-168 1h168m-159 1h154m-155 1h160m-163 1h163m-162 1h162m-163 1h172m-172 1h172m-185 1h175m-175 1h182m-182 1h179m-176 1h176m-158 1h161m-162 1h163m-164 1h162m-163 1h161m-164 1h164m-170 1h165m-166 1h172m-176 1h175m-176 1h174m-174 1h176m-176 1h176m-171 1h168m-168 1h168m-163 1h165m-165 1h164m-163 1h158m-158 1h165m-173 1h168m-161 1h161m-161 1h161m-162 1h162m-163 1h162m-165 1h165m-164 1h164m-164 1h164m-165 1h166m-164 1h163m-164 1h162m-164 1h171m-171 1h170m-170 1h163m-163 1h162m-162 1h160m-162 1h163m-163 1h167m-168 1h165m-166 1h170m-170 1h169m-167 1h163m-164 1h164m-163 1h166m-167 1h170m-170 1h164m-163 1h164m-169 1h169m-166 1h166m-166 1h167m-167 1h166m-171 1h173m-173 1h169m-170 1h176m-174 1h166m-170 1h170m-166 1h169m-169 1h165m-165 1h169m-165 1h168m-175 1h172m-168 1h166m-163 1h160m-158 1h158m-159 1h160m-160 1h161m-159 1h156m-161 1h158m-159 1h167m-174 1h171m-165 1h165m-165 1h159m-160 1h160m-162 1h161m-159 1h158m-155 1h161m-162 1h161m-167 1h166m-166 1h165m-166 1h165m-166 1h169m-170 1h170m-166 1h163m-164 1h163m-163 1h161m-158 1h157m-156 1h154m-156 1h154m-154 1h153m-153 1h151m-151 1h151"/>
<path transform="translate(0,0.5)" stroke-width="1" stroke-opacity="0.320" d="M923 121h156m-157 1h156m-169 1h168m-171 1h173m-167 1h164m-161 1h161m-163 1h163m-164 1h167m-168 1h165m-166 1h168m-168 1h168m-165 1h165m-166 1h165m-175 1h174m-175 1h175m-176 1h179m-180 1h186m-184 1h183m-180 1h187m-193 1h193m-192 1h190m-178 1h178m-177 1h169m-188 1h189m-181 1h178m-170 1h169m-179 1h183m-183 1h178m-179 1h176m-180 1h179m-181 1h185m-171 1h165m-178 1h178m-174 1h175m-170 1h182m-188 1h185m-184 1h180m-188 1h189m-181 1h180m-185 1h185m-187 1h183m-175 1h175m-187 1h186m-183 1h187m-176 1h176m-176 1h176m-178 1h172m-169 1h175m-174 1h172m-177 1h170m-175 1h178m-177 1h181m-181 1h181m-180 1h169m-169 1h167m-168 1h168m-169 1h170m-163 1h175m-182 1h170m-172 1h172m-172 1h175m-176 1h170m-167 1h167m-168 1h171m-178 1h178m-165 1h167m-169 1h169m-172 1h175m-175 1h174m-174 1h174m-177 1h176m-175 1h170m-171 1h180m-174 1h168m-168 1h168m-175 1h176m-172 1h173m-172 1h167m-167 1h169m-170 1h162m-165 1h164m-164 1h175m-175 1h174m-174 1h177m-177 1h174m-173 1h173m-173 1h169m-170 1h168m-169 1h178m-179 1h180m-180 1h180m-180 1h175m-175 1h176m-177 1h173m-173 1h172m-175 1h173m-170 1h180m-183 1h178m-178 1h178m-178 1h180m-172 1h171m-170 1h170m-175 1h175m-175 1h175m-177 1h171m-171 1h172m-172 1h172m-171 1h170m-170 1h170m-172 1h177m-174 1h176m-175 1h176m-184 1h183m-181 1h177m-177 1h179m-177 1h174m-173 1h175m-175 1h180m-185 1h181m-181 1h180m-177 1h174m-170 1h167m-167 1h166m-169 1h169m-169 1h167m-167 1h167m-167 1h167m-170 1h179m-177 1h172m-172 1h169m-169 1h172m-163 1h164m-170 1h167m-167 1h170m-170 1h171m-170 1h171m-171 1h175m-176 1h177m-186 1h176m-176 1h179m-179 1h177m-177 1h176m-177 1h177m-176 1h180m-178 1h176m-172 1h170m-174 1h175m-175 1h174m-174 1h177m-168 1h165m-165 1h165m-165 1h165m-165 1h165m-176 1h176m-176 1h177m-178 1h178m-173 1h173m-172 1h176m-176 1h169m-170 1h172m-181 1h178m-177 1h180m-181 1h180m-179 1h185m-181 1h178m-178 1h173m-164 1h168m-167 1h168m-169 1h168m-181 1h184m-180 1h171m-163 1h166m-165 1h165m-165 1h164m-165 1h166m-166 1h166m-166 1h170m-170 1h169m-178 1h177m-172 1h175m-176 1h174m-183 1h185m-184 1h184m-184 1h184m-180 1h176m-172 1h175m-175 1h175m-173 1h174m-178 1h177m-180 1h179m-177 1h175m-178 1h174m-169 1h170m-171 1h172m-174 1h173m-173 1h178m-178 1h173m-174 1h173m-175 1h176m-169 1h168m-175 1h172m-172 1h173m-173 1h173m-174 1h180m-177 1h177m-178 1h171m-170 1h173m-174 1h175m-169 1h168m-168 1h164m-164 1h163m-163 1h165m-172 1h179m-171 1h169m-173 1h177m-183 1h183m-173 1h174m-176 1h173m-172 1h168m-172 1h175m-178 1h182m-180 1h177m-178 1h173m-168 1h166m-164 1h168m-167 1h168m-168 1h169m-173 1h172m-172 1h174m-174 1h175m-179 1h172m-177 1h179m-175 1h180m-180 1h179m-180 1h181m-180 1h173m-170 1h169m-166 1h166m-167 1h167m-168 1h168m-167 1h167m-167 1h169m-170 1h168m-167 1h168m-168 1h168m-176 1h176m-175 1h175m-169 1h170m-173 1h174m-174 1h176m-182 1h175m-172 1h168m-168 1h180m-183 1h182m-182 1h179m-174 1h168m-168 1h177m-180 1h180m-179 1h176m-175 1h174m-174 1h169m-168 1h168m-168 1h168m-167 1h168m-179 1h179m-180 1h182m-182 1h183m-183 1h183m-183 1h183m-179 1h175m-169 1h178m-178 1h177m-177 1h173m-173 1h173m-173 1h172m-171 1h172m-168 1h168m-169 1h169m-176 1h174m-177 1h178m-179 1h179m-186 1h184m-184 1h183m-172 1h171m-176 1h175m-171 1h171m-166 1h165m-166 1h169m-180 1h180m-163 1h163m-163 1h160m-177 1h177m-176 1h177m-179 1h179m-178 1h177m-170 1h167m-164 1h173m-173 1h172m-174 1h174m-174 1h174m-173 1h174m-174 1h172m-169 1h169m-175 1h176m-173 1h168m-169 1h168m-167 1h179m-194 1h193m-179 1h179m-179 1h176m-181 1h177m-178 1h180m-180 1h179m-180 1h180m-185 1h181m-181 1h181m-175 1h175m-181 1h181m-181 1h188m-183 1h183m-185 1h179m-178 1h181m-182 1h181m-182 1h184m-183 1h182m-183 1h183m-179 1h179m-179 1h179m-180 1h180m-183 1h172m-172 1h185m-184 1h179m-179 1h177m-173 1h174m-175 1h176m-178 1h178m-187 1h179m-178 1h178m-175 1h181m-174 1h174m-174 1h173m-164 1h168m-169 1h169m-173 1h174m-173 1h172m-180 1h180m-183 1h183m-186 1h186m-185 1h184m-184 1h183m-182 1h179m-170 1h174m-175 1h175m-177 1h174m-171 1h173m-174 1h174m-184 1h180m-173 1h176m-180 1h178m-179 1h177m-177 1h177m-177 1h178m-177 1h177m-177 1h176m-165 1h168m-170 1h172m-173 1h173m-180 1h178m-178 1h175m-174 1h170m-170 1h173m-171 1h170m-172 1h171m-172 1h172m-171 1h171m-171 1h173m-169 1h167m-166 1h166m-166 1h175m-190 1h188m-178 1h178m-186 1h174m-173 1h172m-164 1h169m-173 1h173m-178 1h178m-172 1h167m-171 1h177m-176 1h175m-178 1h174m-172 1h173m-176 1h182m-183 1h184m-180 1h176m-174 1h175m-176 1h170m-170 1h176m-176 1h176m-175 1h171m-173 1h177m-182 1h177m-177 1h181m-180 1h177m-177 1h177m-178 1h177m-175 1h176m-176 1h177m-173 1h172m-177 1h177m-172 1h169m-171 1h168m-170 1h169m-170 1h171m-175 1h179m-179 1h178m-169 1h161m-162 1h169m-175 1h177m-176 1h175m-172 1h171m-174 1h172m-172 1h171m-170 1h169m-169 1h172m-173 1h171m-171 1h172m-173 1h170m-170 1h170m-170 1h171m-172 1h171m-169 1h166m-168 1h168m-168 1h166m-167 1h165m-165 1h164m-165 1h162m-162 1h161m-161 1h159m-158 1h159"/>
<path transform="translate(0,0.5)" stroke-width="1" stroke-opacity="0.220" d="M910 121h171m-169 1h167m-171 1h170m-173 1h174m-176 1h176m-176 1h177m-168 1h169m-171 1h170m-170 1h170m-171 1h170m-172 1h172m-180 1h183m-176 1h175m-179 1h178m-182 1h181m-184 1h184m-191 1h197m-186 1h193m-193 1h193m-197 1h197m-198 1h197m-197 1h197m-197 1h194m-195 1h194m-189 1h189m-190 1h185m-185 1h187m-186 1h183m-186 1h179m-186 1h191m-190 1h190m-186 1h191m-197 1h198m-199 1h199m-199 1h199m-200 1h198m-198 1h196m-193 1h192m-192 1h192m-193 1h190m-189 1h188m-189 1h186m-189 1h197m-194 1h193m-191 1h191m-183 1h183m-187 1h183m-184 1h184m-185 1h186m-186 1h183m-186 1h186m-185 1h188m-188 1h188m-189 1h186m-186 1h174m-170 1h171m-179 1h189m-190 1h190m-192 1h192m-188 1h182m-183 1h184m-181 1h178m-180 1h187m-187 1h189m-189 1h183m-184 1h187m-183 1h186m-184 1h185m-183 1h178m-178 1h177m-183 1h183m-179 1h178m-179 1h184m-194 1h185m-184 1h184m-177 1h177m-176 1h178m-176 1h176m-182 1h177m-171 1h172m-180 1h179m-179 1h189m-190 1h190m-190 1h189m-189 1h184m-176 1h176m-175 1h176m-177 1h169m-171 1h184m-189 1h188m-188 1h189m-184 1h180m-186 1h186m-186 1h187m-187 1h186m-187 1h187m-192 1h193m-192 1h187m-188 1h188m-188 1h188m-179 1h183m-190 1h186m-186 1h191m-191 1h191m-194 1h191m-191 1h190m-190 1h188m-189 1h189m-180 1h179m-177 1h182m-188 1h188m-187 1h187m-190 1h191m-191 1h185m-185 1h189m-186 1h182m-181 1h185m-184 1h184m-188 1h184m-184 1h184m-181 1h182m-185 1h191m-183 1h183m-191 1h191m-186 1h178m-178 1h177m-187 1h188m-179 1h182m-182 1h178m-178 1h179m-180 1h178m-179 1h185m-186 1h179m-179 1h178m-188 1h189m-180 1h181m-180 1h186m-187 1h187m-186 1h184m-185 1h188m-188 1h188m-189 1h187m-188 1h187m-186 1h188m-187 1h181m-181 1h181m-181 1h180m-181 1h180m-181 1h181m-170 1h170m-180 1h181m-184 1h182m-181 1h182m-187 1h186m-181 1h181m-180 1h181m-179 1h179m-174 1h178m-179 1h179m-190 1h184m-183 1h183m-184 1h183m-182 1h186m-187 1h191m-190 1h191m-193 1h192m-179 1h172m-167 1h171m-188 1h187m-184 1h187m-189 1h189m-186 1h181m-183 1h184m-184 1h183m-182 1h183m-183 1h182m-173 1h173m-172 1h173m-181 1h185m-183 1h180m-182 1h182m-187 1h187m-187 1h188m-187 1h187m-186 1h183m-183 1h183m-185 1h190m-189 1h189m-190 1h189m-185 1h185m-184 1h185m-190 1h188m-184 1h182m-181 1h181m-182 1h181m-181 1h181m-190 1h184m-175 1h174m-178 1h180m-177 1h175m-175 1h185m-192 1h188m-188 1h182m-183 1h191m-183 1h181m-186 1h184m-178 1h179m-188 1h188m-179 1h178m-178 1h175m-180 1h181m-187 1h186m-179 1h189m-185 1h183m-185 1h184m-185 1h186m-186 1h186m-186 1h182m-182 1h179m-187 1h190m-180 1h185m-185 1h186m-193 1h188m-181 1h180m-185 1h188m-185 1h187m-188 1h189m-183 1h176m-176 1h176m-175 1h175m-184 1h186m-186 1h185m-185 1h185m-186 1h186m-186 1h186m-186 1h186m-185 1h180m-172 1h177m-178 1h178m-184 1h185m-186 1h181m-172 1h175m-188 1h182m-182 1h182m-177 1h177m-182 1h183m-177 1h177m-182 1h185m-180 1h180m-178 1h180m-187 1h187m-185 1h185m-186 1h187m-190 1h190m-186 1h184m-183 1h182m-179 1h180m-181 1h183m-183 1h183m-183 1h177m-184 1h183m-179 1h185m-189 1h179m-180 1h181m-180 1h184m-188 1h193m-191 1h191m-191 1h188m-188 1h188m-187 1h183m-176 1h182m-190 1h189m-189 1h190m-190 1h189m-189 1h189m-181 1h182m-182 1h181m-181 1h181m-193 1h188m-180 1h180m-187 1h186m-188 1h188m-187 1h186m-184 1h182m-182 1h182m-181 1h180m-168 1h168m-179 1h181m-181 1h191m-190 1h187m-193 1h193m-194 1h194m-191 1h191m-192 1h188m-188 1h187m-189 1h188m-176 1h180m-185 1h184m-190 1h190m-190 1h189m-189 1h190m-178 1h178m-179 1h177m-177 1h180m-184 1h181m-193 1h198m-197 1h198m-197 1h196m-195 1h194m-185 1h187m-187 1h185m-197 1h198m-190 1h184m-185 1h185m-192 1h198m-195 1h195m-192 1h190m-194 1h192m-192 1h192m-196 1h196m-196 1h195m-184 1h184m-184 1h184m-184 1h186m-187 1h184m-196 1h202m-195 1h193m-192 1h192m-193 1h193m-189 1h189m-189 1h188m-189 1h189m-188 1h181m-182 1h183m-182 1h184m-192 1h191m-190 1h192m-191 1h192m-193 1h196m-190 1h186m-186 1h184m-181 1h179m-190 1h192m-186 1h186m-195 1h195m-187 1h186m-185 1h185m-188 1h187m-186 1h187m-187 1h187m-186 1h185m-183 1h187m-187 1h189m-188 1h182m-185 1h186m-187 1h186m-186 1h186m-185 1h186m-188 1h186m-186 1h183m-185 1h185m-184 1h187m-187 1h193m-191 1h183m-177 1h177m-178 1h181m-182 1h183m-183 1h183m-191 1h185m-177 1h181m-189 1h188m-178 1h173m-179 1h179m-180 1h179m-172 1h173m-174 1h180m-189 1h188m-185 1h190m-196 1h195m-195 1h194m-194 1h195m-196 1h195m-194 1h192m-192 1h189m-183 1h183m-188 1h187m-178 1h178m-183 1h179m-180 1h180m-182 1h180m-177 1h178m-181 1h188m-187 1h185m-185 1h184m-185 1h184m-185 1h186m-186 1h184m-184 1h189m-189 1h183m-179 1h182m-185 1h179m-179 1h186m-186 1h179m-180 1h180m-180 1h184m-181 1h183m-186 1h184m-186 1h187m-186 1h186m-186 1h180m-176 1h175m-176 1h177m-179 1h179m-183 1h184m-183 1h181m-182 1h179m-178 1h180m-180 1h182m-179 1h182m-181 1h180m-182 1h176m-176 1h175m-175 1h175m-179 1h178m-179 1h184m-180 1h176m-175 1h174m-174 1h172m-173 1h174m-174 1h173m-172 1h169m-172 1h173m-173 1h171m-172 1h173m-173 1h168m-169 1h166m-166 1h164m-163 1h161m-161 1h163"/>
<path transform="translate(0,0.5)" stroke-width="1" stroke-opacity="0.120" d="M906 121h175m-174 1h172m-175 1h182m-188 1h185m-183 1h181m-183 1h184m-182 1h185m-187 1h187m-187 1h188m-192 1h193m-193 1h187m-188 1h189m-184 1h184m-186 1h185m-189 1h188m-193 1h200m-201 1h207m-199 1h201m-201 1h201m-201 1h200m-200 1h197m-197 1h196m-197 1h197m-204 1h203m-206 1h205m-205 1h204m-199 1h198m-194 1h195m-202 1h201m-201 1h200m-199 1h200m-199 1h200m-201 1h200m-201 1h201m-201 1h206m-208 1h202m-201 1h201m-202 1h201m-201 1h199m-199 1h198m-201 1h199m-197 1h196m-195 1h202m-202 1h201m-198 1h199m-196 1h196m-196 1h193m-193 1h188m-188 1h188m-188 1h193m-194 1h193m-193 1h193m-193 1h194m-203 1h204m-204 1h202m-203 1h199m-197 1h196m-195 1h195m-198 1h199m-200 1h196m-195 1h197m-198 1h201m-198 1h198m-195 1h195m-200 1h200m-201 1h199m-198 1h199m-196 1h195m-196 1h194m-193 1h192m-195 1h197m-197 1h196m-196 1h195m-195 1h196m-196 1h192m-192 1h193m-184 1h183m-182 1h182m-188 1h184m-184 1h193m-194 1h192m-191 1h192m-193 1h193m-192 1h191m-192 1h184m-182 1h183m-190 1h191m-186 1h185m-185 1h192m-193 1h192m-192 1h193m-193 1h193m-194 1h189m-188 1h187m-187 1h188m-188 1h193m-210 1h211m-210 1h208m-209 1h209m-209 1h209m-197 1h197m-196 1h195m-195 1h193m-195 1h196m-196 1h191m-192 1h199m-199 1h199m-199 1h199m-200 1h199m-199 1h199m-199 1h200m-200 1h199m-200 1h200m-201 1h197m-197 1h197m-198 1h195m-190 1h197m-197 1h197m-198 1h196m-196 1h196m-196 1h189m-192 1h199m-192 1h192m-195 1h195m-197 1h196m-199 1h199m-199 1h197m-191 1h191m-191 1h192m-186 1h185m-194 1h193m-206 1h208m-198 1h198m-199 1h199m-199 1h199m-199 1h194m-195 1h200m-199 1h199m-199 1h195m-196 1h198m-198 1h199m-198 1h196m-196 1h196m-196 1h196m-195 1h195m-196 1h196m-196 1h195m-197 1h197m-195 1h196m-206 1h206m-206 1h206m-194 1h187m-188 1h193m-195 1h193m-193 1h196m-196 1h192m-185 1h187m-188 1h188m-187 1h188m-196 1h195m-195 1h195m-194 1h192m-192 1h192m-204 1h208m-198 1h198m-198 1h197m-195 1h195m-195 1h196m-193 1h188m-187 1h189m-192 1h195m-208 1h208m-208 1h205m-205 1h207m-207 1h205m-205 1h205m-195 1h195m-183 1h183m-187 1h187m-187 1h187m-195 1h195m-195 1h195m-194 1h196m-198 1h198m-198 1h192m-193 1h194m-191 1h196m-196 1h195m-192 1h192m-192 1h191m-202 1h202m-191 1h190m-190 1h189m-191 1h194m-195 1h195m-199 1h200m-204 1h203m-204 1h204m-195 1h194m-195 1h196m-195 1h195m-198 1h197m-197 1h196m-197 1h194m-187 1h187m-189 1h189m-187 1h196m-201 1h201m-194 1h193m-193 1h181m-188 1h185m-186 1h196m-195 1h195m-194 1h194m-193 1h192m-195 1h196m-195 1h194m-188 1h189m-197 1h196m-196 1h196m-197 1h197m-198 1h198m-193 1h202m-201 1h192m-192 1h193m-196 1h200m-200 1h202m-197 1h189m-187 1h186m-179 1h179m-204 1h204m-204 1h207m-192 1h189m-190 1h189m-187 1h189m-191 1h191m-196 1h195m-189 1h189m-191 1h192m-192 1h189m-193 1h192m-193 1h192m-192 1h192m-192 1h193m-189 1h182m-185 1h188m-188 1h189m-191 1h195m-196 1h196m-191 1h189m-189 1h191m-199 1h199m-197 1h196m-194 1h197m-196 1h205m-209 1h208m-203 1h192m-190 1h190m-185 1h184m-194 1h195m-196 1h195m-196 1h200m-209 1h213m-213 1h208m-209 1h211m-210 1h209m-195 1h194m-194 1h194m-200 1h200m-193 1h186m-180 1h185m-198 1h196m-196 1h199m-193 1h193m-200 1h200m-200 1h200m-195 1h195m-198 1h195m-195 1h194m-194 1h195m-195 1h196m-200 1h201m-200 1h201m-202 1h198m-196 1h204m-199 1h198m-197 1h198m-208 1h204m-204 1h203m-197 1h197m-204 1h203m-202 1h202m-203 1h204m-204 1h202m-200 1h202m-202 1h202m-203 1h204m-203 1h200m-201 1h199m-198 1h196m-198 1h199m-199 1h198m-199 1h199m-199 1h202m-202 1h204m-200 1h201m-202 1h201m-201 1h198m-199 1h199m-186 1h189m-200 1h199m-201 1h201m-200 1h200m-200 1h201m-201 1h200m-200 1h200m-203 1h201m-199 1h197m-200 1h200m-200 1h199m-198 1h198m-200 1h201m-195 1h194m-200 1h204m-204 1h204m-204 1h203m-204 1h204m-203 1h204m-205 1h205m-197 1h196m-197 1h197m-205 1h205m-204 1h194m-195 1h199m-198 1h198m-199 1h200m-194 1h194m-198 1h202m-203 1h203m-207 1h207m-208 1h208m-207 1h206m-198 1h192m-197 1h204m-204 1h203m-203 1h202m-202 1h202m-201 1h201m-202 1h201m-201 1h202m-197 1h196m-198 1h198m-202 1h202m-203 1h205m-205 1h203m-202 1h202m-202 1h202m-194 1h193m-193 1h190m-197 1h194m-194 1h200m-197 1h196m-198 1h198m-199 1h197m-190 1h190m-190 1h189m-189 1h189m-188 1h191m-195 1h192m-191 1h191m-191 1h191m-191 1h191m-196 1h196m-196 1h196m-196 1h195m-195 1h194m-196 1h196m-192 1h195m-198 1h198m-198 1h199m-199 1h198m-198 1h198m-198 1h197m-197 1h197m-196 1h191m-190 1h191m-185 1h186m-194 1h191m-192 1h191m-186 1h186m-195 1h199m-196 1h197m-194 1h193m-192 1h189m-192 1h191m-191 1h192m-192 1h195m-196 1h195m-193 1h194m-195 1h195m-195 1h192m-189 1h190m-189 1h191m-193 1h192m-195 1h193m-187 1h186m-188 1h189m-189 1h190m-190 1h189m-189 1h189m-191 1h190m-185 1h186m-189 1h189m-190 1h190m-191 1h190m-191 1h180m-180 1h186m-186 1h185m-182 1h184m-188 1h189m-189 1h189m-188 1h187m-187 1h187m-187 1h186m-187 1h185m-185 1h185m-188 1h188m-188 1h186m-187 1h186m-185 1h185m-180 1h179m-180 1h178m-177 1h175m-177 1h176m-177 1h174m-176 1h174m-171 1h169m-169 1h167m-167 1h167"/>
</g></g>
<g fill="#1c1c1c"><circle cx="993" cy="122.4" r="5.3" fill-opacity="0.49"/><circle cx="994.8" cy="122.3" r="5.3" fill-opacity="0.24"/><circle cx="924.2" cy="558.6" r="5.3" fill-opacity="0.49"/><circle cx="922" cy="558.7" r="5.3" fill-opacity="0.32"/><circle cx="919.8" cy="558.8" r="5.3" fill-opacity="0.17"/></g>
<g stroke="#1c1c1c" stroke-linecap="round" stroke-linejoin="round" fill="none">
<defs><path id="k3" d="M991.3 122.6 990.5 124.1 989.7 125.6 989 127.1 988.3 128.6 987.6 130.1 987 131.6 986.4 133.1 985.8 134.6 985.2 136.1 984.6 137.6 984.1 139.1 983.6 140.6 983.1 142.1 982.7 143.6 982.2 145.1 981.8 146.6 981.3 148.1 980.9 149.6 980.6 151.1 980.2 152.6 979.8 154.1 979.5 155.6 979.2 157.1 978.9 158.6 978.6 160.1 978.3 161.6 978 163.1 977.7 164.6 977.4 166.1 977.2 167.6 976.9 169.1 976.7 170.6 976.4 172.1 976.2 173.6 975.9 175.1 975.7 176.6 975.5 178.1 975.2 179.6 975 181.1 974.8 182.6 974.6 184.1 974.4 185.6 974.1 187.1 973.9 188.6 973.7 190.1 973.5 191.6 973.3 193.1 973.1 194.6 972.9 196.1 972.7 197.6 972.5 199.1 972.3 200.6 972.1 202.1 971.9 203.6 971.8 205.1 971.6 206.6 971.4 208.1 971.2 209.6 971 211.1 970.8 212.6 970.7 214.1 970.5 215.6 970.3 217.1 970.2 218.6 970 220.1 969.8 221.6 969.6 223.1 969.5 224.6 969.3 226.1 969.2 227.6 969 229.1 968.8 230.6 968.7 232.1 968.5 233.6 968.4 235.1 968.2 236.6 968.1 238.1 967.9 239.6 967.8 241.1 967.6 242.6 967.5 244.1 967.4 245.6 967.2 247.1 967.1 248.6 966.9 250.1 966.8 251.6 966.7 253.1 966.5 254.6 966.4 256.1 966.3 257.6 966.1 259.1 966 260.6 965.9 262.1 965.7 263.6 965.6 265.1 965.5 266.6 965.4 268.1 965.2 269.6 965.1 271.1 965 272.6 964.8 274.1 964.7 275.6 964.6 277.1 964.5 278.6 964.4 280.1 964.2 281.6 964.1 283.1 964 284.6 963.9 286.1 963.8 287.6 963.7 289.1 963.5 290.6 963.4 292.1 963.3 293.6 963.2 295.1 963.1 296.6 963 298.1 962.9 299.6 962.7 301.1 962.6 302.6 962.5 304.1 962.4 305.6 962.3 307.1 962.2 308.6 962 310.1 961.9 311.6 961.8 313.1 961.7 314.6 961.6 316.1 961.5 317.6 961.4 319.1 961.2 320.6 961.1 322.1 961 323.6 960.9 325.1 960.8 326.6 960.7 328.1 960.5 329.6 960.4 331.1 960.3 332.6 960.2 334.1 960.1 335.6 960 337.1 959.8 338.6 959.7 340.1 959.6 341.6 959.5 343.1 959.4 344.6 959.2 346.1 959.1 347.6 959 349.1 958.9 350.6 958.7 352.1 958.6 353.6 958.5 355.1 958.4 356.6 958.2 358.1 958.1 359.6 958 361.1 957.8 362.6 957.7 364.1 957.6 365.6 957.4 367.1 957.3 368.6 957.2 370.1 957 371.6 956.9 373.1 956.8 374.6 956.6 376.1 956.5 377.6 956.4 379.1 956.2 380.6 956.1 382.1 956 383.6 955.8 385.1 955.7 386.6 955.6 388.1 955.4 389.6 955.3 391.1 955.1 392.6 955 394.1 954.9 395.6 954.7 397.1 954.6 398.6 954.4 400.1 954.3 401.6 954.2 403.1 954 404.6 953.9 406.1 953.7 407.6 953.6 409.1 953.4 410.6 953.3 412.1 953.1 413.6 953 415.1 952.8 416.6 952.7 418.1 952.5 419.6 952.4 421.1 952.2 422.6 952.1 424.1 951.9 425.6 951.8 427.1 951.6 428.6 951.5 430.1 951.3 431.6 951.2 433.1 951 434.6 950.9 436.1 950.7 437.6 950.6 439.1 950.4 440.6 950.3 442.1 950.1 443.6 950 445.1 949.8 446.6 949.7 448.1 949.5 449.6 949.4 451.1 949.2 452.6 949.1 454.1 948.9 455.6 948.7 457.1 948.6 458.6 948.4 460.1 948.3 461.6 948.1 463.1 948 464.6 947.8 466.1 947.7 467.6 947.5 469.1 947.3 470.6 947.2 472.1 947 473.6 946.9 475.1 946.7 476.6 946.6 478.1 946.4 479.6 946.2 481.1 946.1 482.6 945.9 484.1 945.8 485.6 945.6 487.1 945.5 488.6 945.3 490.1 945.1 491.6 945 493.1 944.8 494.6 944.7 496.1 944.5 497.6 944.4 499.1 944.2 500.6 944 502.1 943.9 503.6 943.7 505.1 943.6 506.6 943.4 508.1 943.2 509.6 943.1 511.1 942.9 512.6 942.8 514.1 942.6 515.6 942.5 517.1 942.3 518.6 942.1 520.1 942 521.6 941.8 523.1 941.6 524.6 941.4 526.1 941.2 527.6 941 529.1 940.8 530.6 940.5 532.1 940.2 533.6 939.9 535.1 939.5 536.6 939.1 538.1 938.6 539.6 938 541.1 937.5 542.6 936.8 544.1 936.2 545.6 935.5 547.1 934.6 548.6 933.7 550.1 932.6 551.6 931.5 553.1 930.2 554.6 928.8 556.1 927.3 557.6 926.3 558.5"/></defs>
<use href="#k3" stroke-width="11.9" stroke-opacity="0.5"/>
<use href="#k3" stroke-width="10.7" stroke-opacity="0.86"/>
</g>
<path d="M1022.5 99.5V580.2" stroke="#000" stroke-width="2.8" stroke-dasharray="10.7 10.74" fill="none"/>
</g>
<rect x="822.6" y="100.8" width="357.8" height="479.4" fill="none" stroke="#000" stroke-width="2.85" stroke-linejoin="round"/>
<path d="M822.95 580.2v6.9M923.45 580.2v6.9M1023.2 580.2v6.9M1123.45 580.2v6.9" stroke="#000" stroke-width="2.7" fill="none"/>
<text transform="translate(822.55,621) scale(1,1.045)" font-size="27.8" text-anchor="middle" fill="#0a0a0a"><tspan dy="1.5">−</tspan><tspan dy="-1.5">1.0</tspan></text>
<text transform="translate(923.05,621) scale(1,1.045)" font-size="27.8" text-anchor="middle" fill="#0a0a0a"><tspan dy="1.5">−</tspan><tspan dy="-1.5">0.5</tspan></text>
<text transform="translate(1023,621) scale(1,1.045)" font-size="27.8" text-anchor="middle" fill="#0a0a0a">0.0</text>
<text transform="translate(1123.25,621) scale(1,1.045)" font-size="27.8" text-anchor="middle" fill="#0a0a0a">0.5</text>
<text transform="translate(1000.9,79.7)" font-size="27.9" text-anchor="middle" fill="#0a0a0a">Negative information</text>
</g>
<g>
<clipPath id="c4"><rect x="1193.8" y="100.8" width="358.2" height="479.4"/></clipPath>
<g clip-path="url(#c4)">
<path d="M1244.5 103.3V578.7M1344.5 103.3V578.7M1444.5 103.3V578.7M1544.5 103.3V578.7" stroke="#ececec" stroke-width="1.2" fill="none"/>
<path d="M1196.8 232H1549.5M1196.8 395.5H1549.5M1196.8 559.2H1549.5" stroke="#e5e5e5" stroke-width="2.6" fill="none"/>
<clipPath id="b4"><rect x="1193.8" y="121.6" width="358.2" height="438"/></clipPath>
<g clip-path="url(#b4)"><g stroke="#676767" fill="none">
<path transform="translate(0,0.5)" stroke-width="1" stroke-opacity="0.620" d="M1359 121h143m-143 1h143m-143 1h144m-144 1h143m-144 1h145m-144 1h142m-143 1h143m-144 1h143m-142 1h141m-142 1h143m-143 1h142m-143 1h143m-143 1h142m-141 1h141m-142 1h142m-142 1h142m-142 1h141m-142 1h142m-141 1h140m-141 1h142m-142 1h142m-142 1h141m-142 1h142m-142 1h142m-142 1h142m-142 1h141m-141 1h141m-141 1h141m-141 1h140m-140 1h140m-141 1h141m-140 1h140m-141 1h141m-141 1h141m-141 1h140m-141 1h141m-141 1h142m-141 1h140m-141 1h141m-142 1h141m-142 1h141m-140 1h141m-140 1h140m-141 1h140m-140 1h140m-140 1h140m-140 1h140m-141 1h142m-142 1h141m-140 1h139m-141 1h141m-140 1h140m-140 1h141m-141 1h140m-141 1h141m-140 1h141m-142 1h141m-140 1h140m-141 1h141m-141 1h140m-140 1h140m-140 1h139m-140 1h140m-139 1h138m-139 1h139m-139 1h139m-139 1h140m-141 1h139m-138 1h139m-139 1h139m-139 1h137m-138 1h138m-138 1h139m-139 1h139m-140 1h139m-139 1h139m-139 1h139m-139 1h139m-139 1h139m-139 1h138m-138 1h139m-138 1h137m-138 1h139m-139 1h139m-139 1h139m-139 1h138m-137 1h138m-139 1h138m-138 1h137m-137 1h138m-138 1h139m-139 1h138m-137 1h137m-138 1h139m-140 1h139m-139 1h139m-139 1h138m-138 1h139m-139 1h138m-138 1h138m-138 1h138m-137 1h137m-138 1h137m-138 1h139m-138 1h138m-138 1h138m-138 1h138m-138 1h137m-136 1h136m-138 1h138m-137 1h138m-139 1h138m-137 1h137m-138 1h138m-138 1h139m-140 1h140m-138 1h138m-139 1h138m-139 1h139m-139 1h138m-138 1h139m-139 1h138m-138 1h139m-140 1h140m-139 1h138m-138 1h140m-141 1h139m-138 1h139m-139 1h139m-140 1h140m-141 1h140m-139 1h139m-140 1h141m-141 1h140m-139 1h138m-139 1h141m-141 1h140m-140 1h141m-142 1h141m-140 1h140m-141 1h141m-140 1h140m-141 1h141m-141 1h141m-140 1h139m-139 1h139m-141 1h141m-140 1h141m-142 1h142m-141 1h141m-141 1h141m-141 1h140m-141 1h141m-141 1h141m-141 1h140m-140 1h141m-140 1h140m-141 1h140m-140 1h140m-141 1h141m-140 1h139m-139 1h140m-141 1h141m-140 1h140m-141 1h140m-140 1h140m-139 1h139m-139 1h138m-139 1h139m-139 1h140m-140 1h140m-140 1h140m-140 1h140m-140 1h139m-138 1h137m-138 1h138m-138 1h139m-139 1h139m-140 1h139m-138 1h138m-139 1h139m-139 1h140m-140 1h139m-140 1h140m-140 1h140m-139 1h139m-140 1h139m-138 1h139m-140 1h139m-138 1h139m-139 1h139m-139 1h139m-139 1h138m-140 1h141m-141 1h141m-140 1h140m-140 1h139m-139 1h140m-140 1h139m-138 1h138m-139 1h139m-139 1h140m-140 1h139m-139 1h139m-140 1h141m-141 1h140m-139 1h140m-140 1h139m-140 1h140m-139 1h139m-140 1h141m-140 1h140m-141 1h140m-140 1h141m-140 1h140m-140 1h140m-141 1h139m-139 1h141m-142 1h141m-141 1h141m-141 1h142m-142 1h142m-140 1h139m-140 1h140m-141 1h141m-140 1h140m-140 1h140m-140 1h140m-140 1h140m-141 1h142m-142 1h141m-140 1h140m-140 1h140m-140 1h140m-140 1h139m-140 1h141m-140 1h140m-140 1h140m-140 1h140m-140 1h140m-140 1h140m-140 1h140m-141 1h139m-138 1h139m-139 1h138m-138 1h139m-138 1h138m-139 1h139m-139 1h139m-140 1h140m-139 1h139m-139 1h139m-140 1h140m-139 1h138m-138 1h139m-140 1h140m-140 1h139m-138 1h139m-139 1h139m-139 1h139m-139 1h139m-138 1h137m-138 1h138m-138 1h138m-138 1h137m-137 1h138m-139 1h139m-138 1h138m-138 1h137m-137 1h137m-138 1h139m-137 1h136m-137 1h137m-138 1h140m-140 1h138m-138 1h138m-139 1h139m-138 1h138m-139 1h139m-138 1h138m-138 1h138m-139 1h139m-138 1h138m-139 1h139m-139 1h139m-139 1h139m-140 1h140m-140 1h140m-141 1h141m-141 1h140m-138 1h139m-141 1h141m-140 1h139m-140 1h140m-141 1h141m-140 1h139m-139 1h140m-140 1h140m-141 1h142m-143 1h143m-142 1h142m-143 1h143m-142 1h142m-143 1h142m-142 1h142m-143 1h143m-143 1h143m-143 1h143m-143 1h143m-144 1h144m-143 1h143m-144 1h144m-144 1h144m-144 1h143m-143 1h143m-144 1h144m-143 1h143m-144 1h144m-144 1h145m-145 1h143m-143 1h144m-144 1h145m-146 1h146m-145 1h144m-144 1h145m-145 1h144m-145 1h145m-145 1h145m-145 1h145m-146 1h147m-146 1h145m-146 1h147m-147 1h146m-146 1h147m-148 1h147m-146 1h146m-146 1h146m-146 1h146m-146 1h146m-146 1h146m-147 1h148m-148 1h148m-148 1h147m-147 1h147m-147 1h147m-147 1h146m-147 1h148m-148 1h148m-147 1h147m-148 1h148m-148 1h148m-148 1h149m-150 1h149m-148 1h147m-148 1h149m-149 1h148m-148 1h148m-148 1h149m-150 1h149m-149 1h149m-149 1h148m-148 1h149m-149 1h149m-150 1h149m-148 1h148m-149 1h149m-148 1h148m-149 1h149m-149 1h149m-150 1h150m-149 1h148m-149 1h149m-149 1h150m-150 1h150m-151 1h150m-150 1h151m-151 1h150m-150 1h149m-149 1h150m-151 1h150m-149 1h149m-150 1h150m-150 1h150m-150 1h151m-151 1h149m-150 1h151m-151 1h150m-150 1h150m-150 1h150m-149 1h149m-150 1h151m-151 1h150m-152 1h151m-150 1h151m-152 1h151m-151 1h152m-152 1h151m-152 1h152m-152 1h152m-152 1h152m-152 1h151m-152 1h153m-153 1h152m-153 1h154m-154 1h153m-153 1h153m-154 1h154m-154 1h154m-154 1h154m-154 1h153m-154 1h155m-155 1h154m-154 1h154m-155 1h155m-155 1h155m-155 1h155m-156 1h156m-157 1h157m-156 1h156m-158 1h158m-158 1h158m-158 1h157m-157 1h157m-157 1h157m-158 1h159m-159 1h158m-159 1h159m-160 1h159m-159 1h160m-160 1h159m-160 1h160m-160 1h160m-160 1h159m-160 1h160m-161 1h161m-161 1h160m-161 1h161m-162 1h163m-163 1h162"/>
<path transform="translate(0,0.5)" stroke-width="1" stroke-opacity="0.520" d="M1356 121h148m-150 1h152m-153 1h155m-154 1h155m-160 1h161m-162 1h161m-156 1h155m-154 1h149m-150 1h149m-149 1h155m-155 1h154m-154 1h152m-152 1h151m-152 1h151m-148 1h146m-153 1h154m-154 1h153m-151 1h149m-149 1h155m-159 1h157m-159 1h158m-153 1h153m-158 1h158m-153 1h155m-155 1h155m-155 1h154m-161 1h157m-149 1h152m-152 1h147m-147 1h148m-154 1h156m-153 1h157m-157 1h148m-148 1h148m-144 1h144m-144 1h149m-154 1h156m-154 1h153m-154 1h150m-151 1h154m-155 1h156m-156 1h155m-156 1h154m-154 1h154m-153 1h153m-148 1h151m-151 1h153m-153 1h146m-151 1h155m-155 1h164m-167 1h166m-167 1h158m-160 1h163m-158 1h149m-150 1h150m-149 1h149m-151 1h155m-155 1h155m-154 1h154m-149 1h149m-148 1h147m-152 1h154m-157 1h156m-155 1h154m-157 1h155m-151 1h150m-149 1h150m-148 1h149m-151 1h150m-151 1h150m-149 1h148m-152 1h148m-146 1h147m-146 1h147m-148 1h150m-152 1h147m-145 1h148m-147 1h147m-151 1h151m-147 1h151m-150 1h150m-154 1h150m-147 1h149m-149 1h147m-147 1h146m-148 1h148m-148 1h149m-152 1h152m-152 1h151m-146 1h148m-157 1h156m-156 1h159m-153 1h152m-149 1h153m-157 1h158m-156 1h152m-152 1h151m-152 1h150m-151 1h151m-151 1h150m-146 1h147m-148 1h145m-148 1h146m-145 1h147m-148 1h151m-151 1h149m-151 1h148m-148 1h148m-143 1h146m-150 1h151m-150 1h149m-146 1h146m-150 1h150m-156 1h158m-150 1h149m-149 1h148m-148 1h149m-149 1h149m-148 1h150m-150 1h150m-154 1h146m-144 1h144m-144 1h147m-146 1h150m-150 1h149m-149 1h154m-154 1h149m-148 1h150m-151 1h151m-157 1h158m-158 1h155m-152 1h146m-146 1h147m-147 1h149m-150 1h151m-150 1h150m-151 1h151m-152 1h157m-156 1h153m-154 1h154m-154 1h154m-157 1h151m-148 1h155m-155 1h148m-148 1h148m-148 1h149m-150 1h148m-148 1h149m-149 1h151m-150 1h150m-150 1h151m-151 1h151m-150 1h150m-149 1h149m-156 1h157m-157 1h157m-158 1h161m-159 1h151m-151 1h150m-150 1h154m-154 1h154m-153 1h153m-153 1h152m-152 1h153m-153 1h150m-150 1h150m-147 1h147m-147 1h148m-146 1h150m-150 1h154m-155 1h150m-156 1h151m-151 1h157m-156 1h153m-151 1h152m-152 1h153m-153 1h152m-155 1h158m-156 1h159m-160 1h149m-149 1h150m-149 1h148m-147 1h146m-153 1h155m-151 1h151m-149 1h151m-152 1h152m-153 1h150m-148 1h150m-152 1h152m-148 1h148m-148 1h148m-148 1h148m-148 1h146m-150 1h150m-156 1h160m-155 1h153m-153 1h154m-151 1h150m-151 1h151m-152 1h154m-153 1h154m-154 1h154m-152 1h152m-154 1h154m-154 1h154m-153 1h152m-151 1h152m-153 1h152m-151 1h148m-152 1h156m-156 1h157m-156 1h152m-151 1h150m-149 1h149m-149 1h147m-152 1h153m-150 1h149m-152 1h152m-149 1h147m-147 1h147m-146 1h146m-146 1h149m-150 1h153m-153 1h161m-160 1h160m-161 1h161m-158 1h148m-150 1h151m-151 1h151m-153 1h152m-152 1h152m-149 1h148m-152 1h153m-150 1h147m-147 1h150m-151 1h150m-150 1h150m-147 1h146m-153 1h153m-153 1h155m-157 1h161m-161 1h157m-152 1h158m-156 1h155m-154 1h154m-153 1h146m-147 1h147m-149 1h150m-149 1h153m-154 1h149m-154 1h153m-148 1h148m-145 1h144m-147 1h147m-144 1h144m-146 1h149m-150 1h150m-147 1h148m-148 1h147m-147 1h148m-151 1h158m-159 1h156m-156 1h145m-144 1h145m-145 1h146m-148 1h148m-146 1h152m-156 1h152m-153 1h152m-148 1h149m-145 1h145m-149 1h152m-150 1h150m-149 1h149m-158 1h158m-154 1h151m-155 1h154m-154 1h154m-149 1h150m-151 1h152m-151 1h149m-145 1h144m-151 1h155m-154 1h149m-149 1h154m-154 1h152m-155 1h158m-159 1h160m-160 1h160m-162 1h161m-160 1h156m-158 1h158m-151 1h149m-145 1h145m-145 1h146m-146 1h145m-145 1h144m-149 1h153m-155 1h155m-158 1h153m-150 1h153m-153 1h156m-157 1h152m-151 1h152m-152 1h158m-159 1h158m-159 1h159m-158 1h155m-156 1h157m-158 1h157m-157 1h157m-154 1h156m-158 1h156m-155 1h154m-161 1h161m-161 1h159m-159 1h159m-151 1h151m-153 1h153m-151 1h151m-154 1h154m-150 1h150m-153 1h152m-151 1h149m-149 1h150m-148 1h152m-152 1h154m-161 1h160m-156 1h156m-157 1h157m-154 1h152m-156 1h156m-152 1h151m-153 1h151m-151 1h153m-154 1h154m-156 1h156m-156 1h155m-155 1h159m-156 1h157m-159 1h157m-157 1h161m-161 1h155m-158 1h158m-159 1h160m-157 1h157m-156 1h155m-159 1h159m-157 1h158m-159 1h161m-155 1h154m-161 1h160m-158 1h159m-156 1h157m-158 1h157m-156 1h153m-157 1h158m-159 1h157m-158 1h157m-154 1h154m-154 1h154m-155 1h155m-154 1h154m-156 1h158m-156 1h153m-155 1h158m-157 1h157m-156 1h156m-156 1h156m-157 1h157m-161 1h160m-155 1h157m-168 1h166m-159 1h161m-160 1h160m-161 1h156m-157 1h157m-156 1h159m-160 1h157m-157 1h161m-161 1h156m-155 1h156m-156 1h159m-158 1h155m-156 1h156m-156 1h156m-156 1h157m-162 1h162m-156 1h159m-165 1h163m-163 1h158m-154 1h158m-159 1h161m-169 1h167m-159 1h161m-166 1h166m-164 1h158m-159 1h164m-164 1h162m-161 1h160m-160 1h160m-160 1h160m-162 1h162m-161 1h162m-163 1h159m-159 1h159m-158 1h158m-159 1h159m-158 1h159m-160 1h159m-160 1h160m-163 1h165m-165 1h165m-165 1h166m-166 1h163m-164 1h164m-164 1h165m-165 1h162m-162 1h162m-163 1h162m-160 1h160m-161 1h161m-161 1h162m-163 1h163m-163 1h166m-166 1h165m-167 1h169m-168 1h163m-164 1h163m-164 1h167m-167 1h164m-164 1h165m-165 1h165m-166 1h165m-164 1h163m-164 1h164m-165 1h165m-165 1h164"/>
<path transform="translate(0,0.5)" stroke-width="1" stroke-opacity="0.420" d="M1348 121h162m-157 1h155m-159 1h168m-168 1h166m-167 1h166m-165 1h168m-169 1h167m-163 1h159m-159 1h159m-159 1h156m-156 1h157m-159 1h157m-157 1h155m-156 1h155m-155 1h154m-156 1h159m-160 1h159m-160 1h161m-165 1h164m-161 1h161m-162 1h161m-158 1h159m-161 1h160m-160 1h161m-158 1h159m-160 1h159m-162 1h161m-156 1h157m-157 1h154m-157 1h156m-158 1h162m-158 1h161m-161 1h160m-161 1h160m-160 1h161m-160 1h154m-155 1h157m-157 1h157m-157 1h154m-155 1h157m-158 1h156m-156 1h157m-161 1h166m-166 1h160m-156 1h156m-156 1h164m-164 1h161m-165 1h161m-158 1h164m-169 1h173m-172 1h171m-171 1h171m-173 1h172m-172 1h171m-172 1h174m-172 1h165m-167 1h165m-160 1h159m-158 1h166m-166 1h159m-159 1h158m-164 1h164m-159 1h163m-165 1h158m-158 1h157m-157 1h157m-157 1h157m-154 1h153m-154 1h155m-156 1h154m-157 1h156m-156 1h155m-152 1h152m-149 1h149m-150 1h150m-153 1h153m-152 1h152m-152 1h154m-157 1h157m-154 1h163m-164 1h159m-167 1h163m-154 1h157m-157 1h156m-156 1h156m-161 1h162m-159 1h155m-157 1h154m-154 1h155m-154 1h159m-166 1h163m-163 1h166m-156 1h156m-155 1h155m-157 1h157m-164 1h162m-162 1h164m-164 1h164m-160 1h159m-158 1h157m-159 1h157m-157 1h155m-154 1h154m-151 1h151m-155 1h155m-155 1h158m-157 1h153m-152 1h152m-157 1h158m-153 1h155m-155 1h155m-156 1h152m-156 1h156m-159 1h162m-160 1h160m-161 1h165m-164 1h161m-152 1h150m-151 1h155m-163 1h160m-162 1h159m-152 1h153m-153 1h154m-154 1h155m-154 1h155m-152 1h158m-158 1h154m-154 1h155m-161 1h158m-158 1h157m-160 1h160m-160 1h161m-157 1h149m-150 1h154m-154 1h159m-158 1h153m-153 1h153m-154 1h159m-159 1h158m-158 1h156m-161 1h161m-161 1h159m-159 1h168m-168 1h158m-158 1h156m-156 1h157m-156 1h157m-160 1h160m-165 1h170m-161 1h153m-154 1h165m-165 1h168m-169 1h167m-166 1h167m-169 1h164m-165 1h165m-164 1h163m-162 1h155m-155 1h159m-160 1h159m-162 1h162m-157 1h162m-160 1h157m-159 1h161m-159 1h159m-160 1h160m-159 1h159m-167 1h168m-168 1h167m-167 1h167m-168 1h167m-163 1h160m-160 1h160m-160 1h159m-157 1h163m-163 1h160m-158 1h158m-160 1h169m-168 1h161m-162 1h162m-163 1h156m-156 1h156m-157 1h157m-159 1h159m-154 1h154m-153 1h154m-156 1h156m-162 1h160m-153 1h152m-153 1h153m-152 1h152m-152 1h152m-153 1h153m-153 1h155m-160 1h159m-165 1h166m-162 1h162m-158 1h163m-159 1h159m-167 1h168m-167 1h167m-160 1h155m-155 1h158m-156 1h156m-158 1h158m-166 1h166m-166 1h170m-169 1h167m-163 1h163m-162 1h160m-160 1h160m-161 1h160m-160 1h160m-158 1h152m-154 1h157m-156 1h156m-158 1h158m-157 1h158m-160 1h159m-156 1h155m-156 1h155m-155 1h156m-156 1h158m-157 1h162m-160 1h163m-163 1h163m-163 1h162m-170 1h171m-162 1h162m-164 1h158m-161 1h162m-162 1h157m-156 1h155m-156 1h156m-155 1h154m-151 1h151m-154 1h154m-154 1h155m-155 1h154m-156 1h159m-159 1h161m-162 1h162m-162 1h158m-158 1h167m-166 1h166m-163 1h164m-159 1h159m-162 1h151m-151 1h161m-162 1h160m-164 1h163m-163 1h158m-158 1h156m-157 1h154m-150 1h153m-153 1h155m-154 1h156m-156 1h161m-168 1h169m-162 1h162m-163 1h162m-162 1h162m-165 1h162m-158 1h156m-156 1h157m-157 1h152m-159 1h158m-157 1h161m-159 1h159m-159 1h159m-155 1h155m-154 1h151m-157 1h161m-159 1h156m-155 1h155m-160 1h159m-157 1h157m-159 1h161m-160 1h156m-157 1h160m-159 1h158m-159 1h160m-163 1h162m-162 1h162m-162 1h167m-167 1h164m-163 1h163m-163 1h161m-162 1h168m-168 1h166m-166 1h165m-164 1h165m-166 1h165m-165 1h166m-160 1h153m-153 1h151m-151 1h150m-150 1h151m-151 1h154m-160 1h164m-174 1h166m-166 1h167m-168 1h174m-161 1h163m-163 1h157m-162 1h167m-167 1h166m-167 1h168m-162 1h161m-162 1h157m-159 1h161m-160 1h161m-162 1h163m-163 1h162m-162 1h163m-170 1h169m-169 1h170m-167 1h167m-159 1h158m-162 1h162m-161 1h162m-163 1h162m-160 1h154m-154 1h154m-154 1h154m-160 1h160m-159 1h164m-166 1h166m-162 1h162m-160 1h162m-163 1h163m-163 1h158m-159 1h159m-159 1h164m-167 1h167m-161 1h160m-165 1h165m-164 1h161m-162 1h164m-170 1h170m-159 1h159m-169 1h170m-172 1h172m-173 1h167m-167 1h167m-171 1h171m-159 1h160m-160 1h162m-162 1h162m-162 1h162m-162 1h163m-162 1h161m-168 1h168m-175 1h175m-174 1h174m-160 1h160m-164 1h164m-161 1h164m-168 1h168m-170 1h170m-164 1h164m-164 1h155m-155 1h155m-156 1h157m-156 1h161m-162 1h161m-162 1h159m-159 1h160m-160 1h159m-163 1h166m-166 1h163m-167 1h167m-167 1h169m-171 1h169m-160 1h168m-168 1h164m-165 1h163m-163 1h165m-166 1h163m-163 1h161m-162 1h165m-171 1h170m-161 1h160m-159 1h159m-160 1h160m-161 1h161m-166 1h166m-166 1h169m-170 1h169m-167 1h167m-168 1h167m-169 1h165m-162 1h162m-168 1h171m-173 1h172m-168 1h169m-169 1h176m-176 1h170m-168 1h165m-166 1h166m-172 1h172m-165 1h162m-161 1h163m-168 1h169m-170 1h168m-163 1h164m-170 1h170m-170 1h165m-159 1h162m-162 1h164m-167 1h166m-166 1h166m-167 1h166m-169 1h173m-173 1h168m-168 1h168m-168 1h167m-168 1h170m-167 1h167m-168 1h167m-174 1h170m-168 1h168m-167 1h171m-168 1h168m-167 1h166m-172 1h174m-175 1h172m-171 1h173m-173 1h168m-169 1h172m-172 1h173m-172 1h169m-168 1h168m-169 1h169m-169 1h171m-171 1h172m-171 1h167m-168 1h168m-170 1h170"/>
<path transform="translate(0,0.5)" stroke-width="1" stroke-opacity="0.320" d="M1346 121h173m-171 1h171m-171 1h172m-172 1h169m-170 1h169m-169 1h170m-169 1h168m-165 1h163m-163 1h164m-165 1h166m-172 1h173m-169 1h160m-158 1h158m-164 1h162m-162 1h162m-162 1h162m-162 1h166m-169 1h172m-173 1h168m-167 1h164m-165 1h164m-161 1h168m-171 1h171m-168 1h166m-167 1h167m-167 1h167m-168 1h167m-168 1h171m-166 1h167m-169 1h168m-168 1h166m-168 1h167m-165 1h164m-163 1h163m-164 1h168m-165 1h162m-165 1h164m-162 1h164m-164 1h155m-166 1h168m-169 1h169m-163 1h164m-165 1h169m-169 1h164m-158 1h158m-158 1h168m-169 1h168m-178 1h172m-167 1h170m-173 1h177m-174 1h172m-174 1h176m-177 1h176m-175 1h173m-174 1h174m-174 1h169m-169 1h169m-168 1h172m-169 1h169m-167 1h166m-180 1h172m-171 1h176m-173 1h175m-175 1h172m-169 1h162m-159 1h159m-163 1h163m-158 1h163m-164 1h162m-163 1h163m-163 1h164m-163 1h157m-155 1h154m-153 1h159m-159 1h165m-168 1h168m-165 1h165m-168 1h168m-168 1h168m-167 1h167m-166 1h163m-171 1h167m-168 1h169m-159 1h156m-164 1h165m-162 1h162m-160 1h161m-166 1h169m-175 1h171m-169 1h169m-168 1h168m-169 1h168m-162 1h163m-158 1h159m-165 1h164m-169 1h167m-169 1h171m-171 1h171m-170 1h170m-171 1h170m-166 1h164m-164 1h170m-168 1h166m-165 1h163m-165 1h162m-160 1h163m-163 1h157m-158 1h158m-159 1h161m-156 1h155m-156 1h157m-156 1h161m-168 1h168m-169 1h167m-166 1h165m-165 1h170m-170 1h166m-165 1h163m-162 1h164m-167 1h166m-168 1h165m-163 1h163m-164 1h164m-163 1h164m-165 1h165m-157 1h164m-166 1h164m-164 1h167m-169 1h164m-164 1h164m-166 1h163m-162 1h162m-162 1h162m-161 1h168m-174 1h174m-169 1h164m-165 1h165m-165 1h170m-169 1h163m-160 1h161m-170 1h175m-176 1h181m-176 1h176m-177 1h170m-172 1h165m-164 1h164m-161 1h160m-166 1h166m-167 1h170m-170 1h176m-170 1h167m-166 1h172m-174 1h170m-174 1h174m-174 1h174m-174 1h174m-173 1h168m-163 1h159m-161 1h163m-161 1h163m-171 1h171m-163 1h165m-166 1h164m-162 1h162m-168 1h170m-170 1h168m-168 1h177m-176 1h170m-171 1h170m-175 1h173m-173 1h173m-168 1h164m-166 1h169m-165 1h171m-170 1h164m-169 1h169m-165 1h165m-164 1h172m-173 1h166m-165 1h164m-165 1h168m-175 1h175m-170 1h169m-169 1h165m-161 1h165m-171 1h166m-165 1h165m-173 1h173m-165 1h166m-165 1h159m-152 1h156m-156 1h155m-159 1h160m-161 1h159m-167 1h166m-166 1h167m-164 1h170m-170 1h169m-169 1h169m-169 1h176m-177 1h170m-169 1h167m-168 1h173m-171 1h172m-172 1h170m-174 1h173m-173 1h174m-174 1h174m-168 1h166m-165 1h165m-164 1h165m-165 1h163m-165 1h171m-171 1h171m-170 1h170m-170 1h163m-163 1h163m-163 1h171m-171 1h169m-173 1h168m-166 1h164m-163 1h163m-164 1h173m-172 1h173m-174 1h174m-173 1h173m-173 1h170m-173 1h173m-167 1h168m-168 1h169m-177 1h173m-173 1h168m-168 1h169m-163 1h157m-157 1h157m-158 1h160m-158 1h158m-158 1h158m-158 1h157m-160 1h167m-167 1h166m-166 1h168m-168 1h163m-164 1h171m-172 1h172m-170 1h169m-170 1h170m-171 1h167m-169 1h172m-169 1h168m-168 1h168m-172 1h171m-172 1h167m-168 1h164m-161 1h163m-162 1h166m-166 1h167m-166 1h171m-174 1h173m-174 1h176m-175 1h174m-170 1h170m-171 1h166m-164 1h164m-169 1h171m-167 1h168m-168 1h163m-163 1h164m-163 1h162m-160 1h159m-161 1h161m-160 1h165m-166 1h165m-165 1h167m-167 1h164m-167 1h167m-168 1h170m-170 1h168m-167 1h162m-162 1h162m-164 1h167m-167 1h168m-168 1h168m-168 1h168m-168 1h169m-168 1h165m-165 1h166m-166 1h166m-167 1h172m-173 1h170m-170 1h168m-167 1h167m-170 1h170m-169 1h169m-169 1h171m-171 1h171m-171 1h165m-167 1h165m-167 1h175m-178 1h178m-179 1h174m-174 1h169m-169 1h178m-178 1h177m-172 1h170m-167 1h168m-168 1h167m-170 1h169m-169 1h170m-170 1h169m-168 1h167m-167 1h166m-165 1h166m-173 1h173m-172 1h172m-173 1h178m-177 1h173m-172 1h176m-173 1h173m-174 1h170m-169 1h169m-163 1h165m-169 1h168m-169 1h169m-167 1h168m-174 1h172m-176 1h175m-169 1h170m-170 1h170m-170 1h169m-168 1h168m-171 1h170m-171 1h171m-166 1h168m-170 1h171m-167 1h164m-169 1h169m-165 1h165m-166 1h166m-172 1h175m-176 1h173m-174 1h176m-177 1h177m-176 1h175m-176 1h174m-177 1h178m-176 1h175m-176 1h176m-175 1h176m-167 1h169m-171 1h173m-181 1h178m-179 1h178m-179 1h180m-180 1h178m-178 1h181m-181 1h181m-171 1h171m-172 1h170m-171 1h173m-173 1h172m-172 1h167m-168 1h169m-168 1h167m-168 1h170m-165 1h164m-166 1h166m-169 1h168m-169 1h169m-171 1h178m-178 1h179m-179 1h174m-175 1h176m-178 1h174m-163 1h169m-170 1h168m-169 1h165m-172 1h178m-177 1h171m-173 1h175m-170 1h169m-174 1h174m-173 1h174m-175 1h174m-175 1h175m-169 1h171m-171 1h169m-169 1h168m-168 1h168m-171 1h171m-171 1h170m-171 1h169m-174 1h173m-173 1h175m-176 1h176m-175 1h175m-174 1h181m-181 1h180m-181 1h175m-176 1h176m-176 1h176m-170 1h169m-171 1h171m-178 1h174m-174 1h179m-173 1h170m-171 1h173m-174 1h173m-173 1h170m-166 1h168m-168 1h170m-171 1h167m-167 1h168m-178 1h185m-186 1h186m-179 1h170m-169 1h170m-181 1h181m-176 1h177m-177 1h179m-181 1h174m-175 1h176m-171 1h175m-174 1h173m-174 1h173m-174 1h174m-174 1h173m-173 1h173m-175 1h177m-175 1h175m-176 1h175m-176 1h171m-171 1h170m-170 1h171m-175 1h179m-174 1h174m-174 1h173m-174 1h173m-173 1h173"/>
<path transform="translate(0,0.5)" stroke-width="1" stroke-opacity="0.220" d="M1343 121h186m-185 1h182m-178 1h174m-174 1h170m-171 1h171m-177 1h177m-177 1h176m-170 1h168m-170 1h171m-172 1h174m-175 1h177m-180 1h180m-176 1h176m-181 1h169m-170 1h169m-168 1h175m-176 1h176m-176 1h179m-179 1h180m-179 1h174m-173 1h171m-172 1h174m-174 1h173m-173 1h174m-172 1h172m-173 1h172m-171 1h172m-173 1h172m-172 1h176m-174 1h174m-174 1h169m-172 1h174m-173 1h172m-172 1h173m-173 1h173m-174 1h173m-174 1h172m-172 1h172m-171 1h170m-176 1h176m-178 1h183m-182 1h174m-174 1h176m-176 1h174m-175 1h175m-175 1h179m-174 1h178m-181 1h179m-182 1h183m-185 1h186m-177 1h176m-180 1h180m-179 1h178m-178 1h176m-174 1h177m-177 1h174m-174 1h173m-174 1h175m-175 1h178m-186 1h185m-184 1h176m-176 1h181m-181 1h179m-179 1h176m-174 1h173m-169 1h168m-171 1h177m-178 1h177m-177 1h174m-174 1h175m-175 1h174m-175 1h175m-174 1h176m-169 1h168m-170 1h171m-173 1h172m-167 1h168m-177 1h177m-176 1h175m-175 1h175m-176 1h173m-172 1h170m-171 1h171m-168 1h167m-171 1h170m-166 1h166m-164 1h168m-176 1h179m-179 1h176m-176 1h177m-173 1h167m-173 1h173m-174 1h177m-177 1h174m-174 1h176m-174 1h172m-175 1h175m-174 1h175m-175 1h178m-179 1h179m-177 1h177m-177 1h177m-176 1h176m-174 1h174m-174 1h177m-180 1h175m-177 1h182m-173 1h161m-164 1h165m-163 1h162m-162 1h167m-166 1h166m-169 1h171m-173 1h169m-169 1h171m-168 1h172m-173 1h171m-170 1h169m-169 1h169m-170 1h167m-169 1h164m-166 1h172m-168 1h165m-166 1h171m-172 1h173m-173 1h173m-172 1h172m-172 1h177m-178 1h174m-174 1h174m-174 1h169m-172 1h179m-176 1h167m-170 1h177m-177 1h177m-176 1h175m-176 1h176m-176 1h179m-173 1h164m-161 1h161m-170 1h183m-183 1h181m-181 1h181m-180 1h180m-181 1h183m-183 1h183m-183 1h182m-183 1h176m-180 1h180m-180 1h180m-180 1h180m-171 1h175m-177 1h176m-180 1h179m-179 1h176m-176 1h178m-180 1h180m-174 1h164m-165 1h166m-168 1h173m-176 1h175m-179 1h185m-184 1h176m-168 1h176m-176 1h175m-180 1h181m-180 1h181m-182 1h180m-180 1h180m-182 1h182m-183 1h180m-179 1h179m-174 1h173m-173 1h176m-175 1h174m-175 1h177m-172 1h170m-175 1h179m-180 1h175m-175 1h174m-176 1h176m-178 1h179m-176 1h174m-173 1h173m-173 1h173m-173 1h171m-176 1h172m-173 1h174m-169 1h174m-171 1h166m-168 1h168m-171 1h169m-169 1h171m-171 1h173m-175 1h175m-175 1h177m-177 1h183m-183 1h181m-180 1h178m-176 1h178m-179 1h177m-176 1h171m-171 1h177m-178 1h181m-180 1h173m-174 1h179m-179 1h175m-175 1h174m-171 1h172m-178 1h175m-165 1h165m-165 1h171m-174 1h174m-180 1h180m-176 1h175m-175 1h178m-178 1h177m-176 1h176m-179 1h179m-178 1h174m-174 1h174m-174 1h179m-178 1h178m-177 1h177m-177 1h177m-181 1h181m-181 1h180m-176 1h175m-181 1h182m-180 1h180m-178 1h178m-178 1h170m-172 1h172m-170 1h170m-174 1h169m-166 1h173m-165 1h166m-166 1h164m-164 1h164m-168 1h171m-171 1h172m-178 1h180m-176 1h166m-166 1h175m-180 1h180m-178 1h175m-173 1h174m-173 1h173m-176 1h179m-178 1h174m-175 1h174m-175 1h173m-173 1h173m-177 1h180m-176 1h170m-170 1h171m-171 1h181m-176 1h175m-178 1h173m-176 1h177m-177 1h178m-175 1h175m-175 1h175m-176 1h173m-176 1h177m-175 1h175m-171 1h171m-171 1h168m-165 1h165m-165 1h161m-164 1h168m-171 1h174m-168 1h167m-171 1h171m-171 1h172m-174 1h174m-175 1h178m-175 1h170m-171 1h170m-170 1h170m-171 1h172m-172 1h171m-175 1h174m-171 1h174m-172 1h171m-172 1h170m-174 1h175m-177 1h179m-180 1h182m-184 1h184m-180 1h173m-170 1h170m-170 1h170m-171 1h175m-174 1h175m-175 1h174m-179 1h179m-181 1h180m-181 1h181m-181 1h182m-183 1h178m-177 1h181m-181 1h181m-184 1h184m-185 1h181m-181 1h183m-180 1h178m-176 1h176m-176 1h175m-173 1h182m-180 1h178m-178 1h175m-175 1h176m-182 1h183m-183 1h183m-181 1h182m-182 1h181m-180 1h180m-179 1h179m-179 1h179m-176 1h176m-185 1h186m-186 1h179m-174 1h174m-173 1h176m-181 1h185m-184 1h183m-183 1h177m-178 1h178m-178 1h178m-172 1h172m-174 1h173m-177 1h177m-171 1h172m-175 1h176m-171 1h170m-185 1h187m-184 1h184m-185 1h184m-184 1h189m-189 1h190m-191 1h191m-188 1h180m-178 1h178m-178 1h176m-179 1h179m-180 1h181m-181 1h181m-178 1h179m-177 1h179m-183 1h184m-184 1h182m-183 1h181m-184 1h185m-185 1h185m-184 1h188m-188 1h188m-181 1h180m-179 1h176m-173 1h175m-179 1h177m-183 1h181m-182 1h182m-182 1h182m-177 1h181m-175 1h171m-175 1h176m-177 1h177m-176 1h181m-182 1h182m-181 1h181m-185 1h181m-178 1h178m-186 1h186m-186 1h187m-186 1h186m-187 1h182m-182 1h186m-179 1h182m-187 1h181m-179 1h179m-180 1h179m-179 1h183m-182 1h181m-182 1h182m-178 1h177m-181 1h181m-181 1h186m-180 1h174m-176 1h175m-174 1h172m-176 1h178m-182 1h189m-189 1h188m-187 1h186m-185 1h182m-182 1h185m-184 1h183m-184 1h179m-179 1h182m-183 1h182m-177 1h173m-180 1h179m-183 1h184m-183 1h183m-185 1h183m-179 1h181m-181 1h179m-183 1h182m-176 1h178m-182 1h181m-181 1h186m-184 1h181m-186 1h188m-188 1h188m-185 1h182m-184 1h184m-186 1h185m-184 1h184m-182 1h181m-182 1h180m-180 1h181m-181 1h180m-180 1h180m-178 1h179m-178 1h177m-177 1h177m-178 1h178m-181 1h181m-181 1h181m-181 1h180m-177 1h176m-176 1h176m-181 1h180m-182 1h183m-175 1h174m-183 1h182m-181 1h181m-181 1h181"/>
<path transform="translate(0,0.5)" stroke-width="1" stroke-opacity="0.120" d="M1342 121h189m-188 1h189m-196 1h196m-190 1h188m-188 1h187m-187 1h187m-189 1h187m-189 1h189m-188 1h180m-180 1h183m-185 1h184m-182 1h187m-184 1h179m-189 1h176m-176 1h189m-183 1h180m-180 1h191m-192 1h183m-182 1h181m-182 1h182m-180 1h174m-176 1h176m-175 1h176m-176 1h179m-188 1h187m-187 1h191m-180 1h180m-181 1h180m-182 1h183m-180 1h180m-186 1h183m-183 1h180m-176 1h176m-177 1h176m-179 1h179m-179 1h185m-186 1h185m-185 1h185m-185 1h182m-184 1h179m-180 1h191m-190 1h184m-186 1h186m-186 1h186m-186 1h185m-185 1h186m-185 1h188m-190 1h190m-189 1h189m-190 1h187m-189 1h189m-189 1h187m-186 1h187m-188 1h187m-188 1h189m-186 1h188m-189 1h189m-189 1h187m-183 1h183m-188 1h188m-188 1h188m-188 1h188m-186 1h185m-188 1h187m-187 1h188m-182 1h176m-180 1h182m-181 1h181m-181 1h180m-178 1h178m-179 1h179m-179 1h179m-181 1h179m-176 1h176m-182 1h184m-185 1h186m-182 1h178m-178 1h180m-181 1h182m-181 1h180m-181 1h181m-180 1h180m-181 1h182m-180 1h180m-183 1h183m-180 1h179m-174 1h175m-181 1h180m-185 1h184m-183 1h184m-184 1h182m-182 1h181m-181 1h182m-183 1h179m-179 1h177m-176 1h180m-182 1h180m-179 1h178m-179 1h179m-179 1h185m-185 1h185m-183 1h181m-179 1h179m-179 1h180m-180 1h180m-183 1h182m-182 1h182m-181 1h181m-183 1h182m-177 1h178m-180 1h179m-181 1h181m-181 1h181m-179 1h173m-172 1h179m-184 1h185m-184 1h184m-177 1h176m-178 1h178m-178 1h173m-174 1h174m-175 1h176m-180 1h180m-180 1h179m-180 1h181m-178 1h181m-182 1h181m-179 1h181m-182 1h182m-181 1h182m-196 1h196m-196 1h195m-194 1h194m-194 1h195m-188 1h190m-187 1h181m-184 1h186m-186 1h187m-187 1h180m-177 1h179m-182 1h193m-193 1h188m-187 1h189m-186 1h191m-192 1h192m-195 1h190m-190 1h190m-192 1h185m-185 1h183m-183 1h185m-183 1h181m-180 1h186m-187 1h186m-184 1h183m-184 1h185m-183 1h181m-181 1h183m-179 1h181m-186 1h187m-190 1h190m-191 1h190m-189 1h187m-188 1h186m-185 1h185m-184 1h185m-185 1h184m-182 1h183m-184 1h183m-183 1h191m-192 1h191m-194 1h195m-195 1h194m-192 1h186m-196 1h196m-189 1h189m-189 1h188m-188 1h186m-186 1h188m-182 1h182m-183 1h180m-178 1h178m-184 1h184m-184 1h182m-182 1h182m-183 1h187m-187 1h182m-184 1h183m-182 1h183m-183 1h189m-187 1h186m-182 1h182m-186 1h184m-185 1h185m-185 1h185m-184 1h184m-185 1h187m-186 1h186m-186 1h184m-183 1h184m-182 1h181m-182 1h181m-178 1h176m-177 1h181m-181 1h182m-182 1h182m-188 1h187m-186 1h183m-181 1h179m-179 1h182m-183 1h183m-179 1h178m-173 1h175m-184 1h184m-186 1h186m-183 1h183m-181 1h181m-181 1h181m-181 1h181m-182 1h182m-193 1h193m-193 1h193m-192 1h192m-192 1h193m-193 1h193m-194 1h195m-195 1h194m-193 1h192m-183 1h183m-184 1h183m-185 1h185m-181 1h182m-184 1h185m-184 1h183m-182 1h181m-188 1h191m-187 1h185m-180 1h182m-182 1h181m-181 1h181m-181 1h181m-182 1h180m-183 1h186m-185 1h180m-181 1h182m-185 1h183m-179 1h179m-179 1h179m-180 1h181m-180 1h181m-184 1h184m-185 1h185m-185 1h182m-177 1h177m-181 1h180m-180 1h174m-174 1h184m-184 1h184m-177 1h177m-183 1h183m-183 1h183m-185 1h184m-183 1h184m-185 1h185m-181 1h177m-182 1h182m-181 1h185m-181 1h177m-180 1h180m-178 1h178m-173 1h168m-170 1h174m-177 1h180m-177 1h177m-177 1h177m-178 1h178m-178 1h179m-179 1h179m-180 1h180m-177 1h178m-178 1h174m-179 1h179m-178 1h182m-186 1h178m-175 1h191m-190 1h190m-191 1h190m-192 1h182m-182 1h181m-185 1h187m-187 1h189m-190 1h181m-173 1h173m-181 1h186m-183 1h180m-180 1h181m-180 1h180m-183 1h183m-184 1h182m-182 1h182m-182 1h183m-184 1h180m-181 1h191m-190 1h188m-190 1h191m-190 1h181m-183 1h186m-182 1h181m-181 1h182m-182 1h177m-176 1h186m-187 1h186m-188 1h188m-191 1h189m-189 1h190m-188 1h187m-183 1h183m-182 1h185m-192 1h191m-192 1h191m-187 1h188m-189 1h188m-188 1h191m-192 1h193m-188 1h189m-190 1h184m-184 1h183m-183 1h183m-185 1h185m-184 1h180m-180 1h179m-189 1h188m-184 1h184m-181 1h188m-188 1h191m-192 1h184m-184 1h185m-188 1h190m-188 1h189m-189 1h190m-192 1h192m-192 1h192m-192 1h192m-193 1h195m-195 1h189m-185 1h181m-185 1h187m-186 1h186m-186 1h183m-181 1h196m-193 1h184m-187 1h190m-189 1h185m-186 1h184m-189 1h188m-186 1h193m-193 1h193m-193 1h192m-192 1h193m-196 1h191m-191 1h191m-191 1h194m-190 1h189m-193 1h193m-193 1h194m-194 1h193m-193 1h188m-186 1h193m-196 1h195m-187 1h188m-191 1h190m-189 1h188m-187 1h187m-190 1h187m-187 1h190m-191 1h190m-192 1h194m-195 1h189m-189 1h191m-187 1h190m-190 1h191m-193 1h193m-190 1h189m-191 1h188m-189 1h198m-198 1h189m-189 1h190m-191 1h192m-192 1h192m-182 1h181m-186 1h186m-187 1h186m-187 1h187m-191 1h192m-192 1h198m-198 1h198m-197 1h189m-184 1h189m-192 1h188m-191 1h189m-190 1h191m-191 1h187m-188 1h192m-191 1h190m-191 1h192m-192 1h191m-193 1h187m-186 1h186m-186 1h184m-185 1h183m-183 1h190m-190 1h190m-189 1h189m-190 1h187m-188 1h189m-189 1h189m-190 1h189m-189 1h189m-189 1h188m-188 1h186m-186 1h187m-187 1h185m-185 1h187m-188 1h189m-189 1h188m-188 1h188m-188 1h187m-187 1h187m-188 1h188m-188 1h187m-187 1h186m-186 1h186m-187 1h187m-186 1h185m-186 1h186m-186 1h186m-186 1h186m-186 1h185m-185 1h184m-185 1h187"/>
</g></g>
<g fill="#1c1c1c"><circle cx="1427.5" cy="122.5" r="5.3" fill-opacity="0.49"/><circle cx="1429.5" cy="122.5" r="5.3" fill-opacity="0.40"/><circle cx="1431.5" cy="122.4" r="5.3" fill-opacity="0.32"/><circle cx="1433.5" cy="122.4" r="5.3" fill-opacity="0.24"/><circle cx="1435.5" cy="122.3" r="5.3" fill-opacity="0.17"/><circle cx="1437.5" cy="122.3" r="5.3" fill-opacity="0.11"/><circle cx="1378.1" cy="558.6" r="5.3" fill-opacity="0.49"/><circle cx="1376.1" cy="558.8" r="5.3" fill-opacity="0.24"/></g>
<g stroke="#1c1c1c" stroke-linecap="round" stroke-linejoin="round" fill="none">
<defs><path id="k4" d="M1425.5 122.6 1425.1 124.1 1424.6 125.6 1424.2 127.1 1423.8 128.6 1423.4 130.1 1423 131.6 1422.7 133.1 1422.3 134.6 1422 136.1 1421.6 137.6 1421.3 139.1 1421 140.6 1420.7 142.1 1420.5 143.6 1420.2 145.1 1419.9 146.6 1419.7 148.1 1419.4 149.6 1419.2 151.1 1418.9 152.6 1418.7 154.1 1418.5 155.6 1418.3 157.1 1418.1 158.6 1417.9 160.1 1417.7 161.6 1417.5 163.1 1417.3 164.6 1417.1 166.1 1417 167.6 1416.8 169.1 1416.6 170.6 1416.4 172.1 1416.3 173.6 1416.1 175.1 1416 176.6 1415.8 178.1 1415.6 179.6 1415.5 181.1 1415.3 182.6 1415.2 184.1 1415 185.6 1414.9 187.1 1414.7 188.6 1414.6 190.1 1414.4 191.6 1414.3 193.1 1414.1 194.6 1414 196.1 1413.8 197.6 1413.7 199.1 1413.5 200.6 1413.4 202.1 1413.3 203.6 1413.1 205.1 1413 206.6 1412.8 208.1 1412.7 209.6 1412.6 211.1 1412.4 212.6 1412.3 214.1 1412.2 215.6 1412 217.1 1411.9 218.6 1411.8 220.1 1411.6 221.6 1411.5 223.1 1411.4 224.6 1411.3 226.1 1411.1 227.6 1411 229.1 1410.9 230.6 1410.8 232.1 1410.7 233.6 1410.5 235.1 1410.4 236.6 1410.3 238.1 1410.2 239.6 1410.1 241.1 1410 242.6 1409.8 244.1 1409.7 245.6 1409.6 247.1 1409.5 248.6 1409.4 250.1 1409.3 251.6 1409.2 253.1 1409.1 254.6 1409 256.1 1408.9 257.6 1408.8 259.1 1408.6 260.6 1408.5 262.1 1408.4 263.6 1408.3 265.1 1408.2 266.6 1408.1 268.1 1408 269.6 1407.9 271.1 1407.8 272.6 1407.7 274.1 1407.6 275.6 1407.5 277.1 1407.5 278.6 1407.4 280.1 1407.3 281.6 1407.2 283.1 1407.1 284.6 1407 286.1 1406.9 287.6 1406.8 289.1 1406.7 290.6 1406.6 292.1 1406.5 293.6 1406.4 295.1 1406.4 296.6 1406.3 298.1 1406.2 299.6 1406.1 301.1 1406 302.6 1405.9 304.1 1405.8 305.6 1405.8 307.1 1405.7 308.6 1405.6 310.1 1405.5 311.6 1405.4 313.1 1405.4 314.6 1405.3 316.1 1405.2 317.6 1405.1 319.1 1405 320.6 1405 322.1 1404.9 323.6 1404.8 325.1 1404.7 326.6 1404.7 328.1 1404.6 329.6 1404.5 331.1 1404.4 332.6 1404.4 334.1 1404.3 335.6 1404.2 337.1 1404.1 338.6 1404.1 340.1 1404 341.6 1403.9 343.1 1403.8 344.6 1403.8 346.1 1403.7 347.6 1403.6 349.1 1403.5 350.6 1403.5 352.1 1403.4 353.6 1403.3 355.1 1403.3 356.6 1403.2 358.1 1403.1 359.6 1403 361.1 1403 362.6 1402.9 364.1 1402.8 365.6 1402.8 367.1 1402.7 368.6 1402.6 370.1 1402.6 371.6 1402.5 373.1 1402.4 374.6 1402.4 376.1 1402.3 377.6 1402.2 379.1 1402.1 380.6 1402.1 382.1 1402 383.6 1401.9 385.1 1401.8 386.6 1401.8 388.1 1401.7 389.6 1401.6 391.1 1401.5 392.6 1401.5 394.1 1401.4 395.6 1401.3 397.1 1401.2 398.6 1401.2 400.1 1401.1 401.6 1401 403.1 1400.9 404.6 1400.8 406.1 1400.7 407.6 1400.7 409.1 1400.6 410.6 1400.5 412.1 1400.4 413.6 1400.3 415.1 1400.2 416.6 1400.2 418.1 1400.1 419.6 1400 421.1 1399.9 422.6 1399.8 424.1 1399.7 425.6 1399.6 427.1 1399.5 428.6 1399.4 430.1 1399.3 431.6 1399.2 433.1 1399.1 434.6 1399 436.1 1398.9 437.6 1398.8 439.1 1398.7 440.6 1398.6 442.1 1398.5 443.6 1398.4 445.1 1398.3 446.6 1398.2 448.1 1398 449.6 1397.9 451.1 1397.8 452.6 1397.7 454.1 1397.6 455.6 1397.4 457.1 1397.3 458.6 1397.2 460.1 1397.1 461.6 1396.9 463.1 1396.8 464.6 1396.7 466.1 1396.5 467.6 1396.4 469.1 1396.2 470.6 1396.1 472.1 1396 473.6 1395.8 475.1 1395.7 476.6 1395.5 478.1 1395.4 479.6 1395.2 481.1 1395.1 482.6 1394.9 484.1 1394.7 485.6 1394.6 487.1 1394.4 488.6 1394.2 490.1 1394.1 491.6 1393.9 493.1 1393.7 494.6 1393.5 496.1 1393.3 497.6 1393.2 499.1 1393 500.6 1392.8 502.1 1392.6 503.6 1392.4 505.1 1392.2 506.6 1392 508.1 1391.8 509.6 1391.7 511.1 1391.5 512.6 1391.2 514.1 1391 515.6 1390.8 517.1 1390.6 518.6 1390.4 520.1 1390.1 521.6 1389.9 523.1 1389.7 524.6 1389.4 526.1 1389.2 527.6 1389 529.1 1388.7 530.6 1388.4 532.1 1388.1 533.6 1387.8 535.1 1387.5 536.6 1387.1 538.1 1386.8 539.6 1386.4 541.1 1386 542.6 1385.6 544.1 1385.1 545.6 1384.7 547.1 1384.2 548.6 1383.7 550.1 1383.1 551.6 1382.5 553.1 1381.9 554.6 1381.2 556.1 1380.6 557.6 1380.1 558.5"/></defs>
<use href="#k4" stroke-width="11.9" stroke-opacity="0.5"/>
<use href="#k4" stroke-width="10.7" stroke-opacity="0.86"/>
</g>
<path d="M1394.8 99.5V580.2" stroke="#000" stroke-width="2.8" stroke-dasharray="10.7 10.74" fill="none"/>
</g>
<rect x="1193.8" y="100.8" width="358.2" height="479.4" fill="none" stroke="#000" stroke-width="2.85" stroke-linejoin="round"/>
<path d="M1194.7 580.2v6.9M1295.2 580.2v6.9M1395.2 580.2v6.9M1494.7 580.2v6.9" stroke="#000" stroke-width="2.7" fill="none"/>
<text transform="translate(1194.3,621) scale(1,1.045)" font-size="27.8" text-anchor="middle" fill="#0a0a0a"><tspan dy="1.5">−</tspan><tspan dy="-1.5">1.0</tspan></text>
<text transform="translate(1294.8,621) scale(1,1.045)" font-size="27.8" text-anchor="middle" fill="#0a0a0a"><tspan dy="1.5">−</tspan><tspan dy="-1.5">0.5</tspan></text>
<text transform="translate(1395,621) scale(1,1.045)" font-size="27.8" text-anchor="middle" fill="#0a0a0a">0.0</text>
<text transform="translate(1494.5,621) scale(1,1.045)" font-size="27.8" text-anchor="middle" fill="#0a0a0a">0.5</text>
<text transform="translate(1372.3,79.7)" font-size="27.9" text-anchor="middle" fill="#0a0a0a">Positive information</text>
</g>
<g>
<clipPath id="c5"><rect x="2" y="825.1" width="357.5" height="479.2"/></clipPath>
<g clip-path="url(#c5)">
<path d="M33 827.6V1302.8M109.5 827.6V1302.8M186 827.6V1302.8M262.5 827.6V1302.8M339 827.6V1302.8" stroke="#ececec" stroke-width="1.2" fill="none"/>
<path d="M5 835.5H357M5 947.5H357M5 1059.5H357M5 1171.6H357M5 1283.5H357" stroke="#e5e5e5" stroke-width="2.6" fill="none"/>
<clipPath id="b5"><rect x="2" y="846.2" width="357.5" height="437.4"/></clipPath>
<g clip-path="url(#b5)"><g stroke="#686868" fill="none">
<path transform="translate(0,0.5)" stroke-width="1" stroke-opacity="0.300" d="M184 846h71m-72 1h72m-71 1h71m-73 1h71m-70 1h70m-70 1h66m-66 1h69m-70 1h67m-67 1h68m-67 1h65m-68 1h67m-64 1h63m-65 1h66m-66 1h62m-64 1h65m-64 1h63m-62 1h62m-63 1h63m-64 1h61m-59 1h58m-60 1h62m-61 1h59m-58 1h58m-60 1h59m-59 1h57m-57 1h59m-59 1h57m-57 1h57m-57 1h59m-61 1h60m-58 1h56m-57 1h57m-58 1h58m-57 1h55m-55 1h56m-55 1h55m-56 1h56m-56 1h55m-55 1h56m-57 1h56m-57 1h57m-57 1h56m-53 1h52m-53 1h52m-53 1h52m-53 1h54m-54 1h53m-51 1h51m-53 1h53m-52 1h52m-52 1h52m-52 1h53m-53 1h52m-52 1h50m-52 1h53m-51 1h50m-53 1h55m-53 1h51m-52 1h52m-52 1h50m-49 1h50m-51 1h50m-48 1h49m-50 1h51m-50 1h49m-48 1h47m-49 1h50m-48 1h48m-49 1h48m-49 1h48m-47 1h46m-46 1h46m-49 1h50m-47 1h48m-50 1h47m-46 1h48m-49 1h48m-46 1h45m-45 1h46m-48 1h49m-48 1h47m-48 1h49m-48 1h48m-49 1h48m-47 1h48m-49 1h47m-46 1h47m-48 1h47m-47 1h49m-50 1h49m-48 1h48m-47 1h47m-47 1h46m-48 1h48m-46 1h45m-47 1h49m-48 1h48m-47 1h45m-47 1h47m-45 1h44m-46 1h46m-45 1h46m-48 1h49m-47 1h46m-47 1h46m-47 1h50m-49 1h45m-45 1h45m-46 1h47m-45 1h46m-47 1h47m-47 1h47m-49 1h48m-48 1h49m-48 1h48m-47 1h47m-49 1h50m-49 1h47m-47 1h48m-48 1h46m-46 1h48m-47 1h46m-46 1h45m-46 1h46m-47 1h49m-48 1h47m-46 1h45m-45 1h46m-46 1h46m-47 1h48m-49 1h47m-47 1h47m-47 1h49m-47 1h47m-49 1h47m-48 1h48m-47 1h49m-49 1h49m-49 1h48m-49 1h48m-47 1h47m-48 1h48m-48 1h50m-48 1h46m-47 1h47m-49 1h49m-48 1h48m-47 1h47m-48 1h48m-47 1h47m-45 1h45m-49 1h48m-48 1h49m-50 1h49m-46 1h45m-46 1h47m-45 1h46m-49 1h48m-47 1h48m-49 1h46m-46 1h47m-46 1h46m-48 1h48m-48 1h48m-45 1h45m-46 1h46m-48 1h49m-48 1h46m-46 1h46m-47 1h47m-45 1h44m-46 1h47m-49 1h49m-46 1h47m-48 1h47m-49 1h48m-46 1h47m-46 1h46m-46 1h45m-46 1h46m-47 1h46m-45 1h45m-45 1h46m-47 1h47m-47 1h48m-47 1h47m-46 1h45m-45 1h46m-48 1h47m-46 1h47m-48 1h47m-46 1h46m-48 1h47m-46 1h45m-43 1h43m-45 1h45m-45 1h47m-46 1h45m-45 1h45m-45 1h45m-46 1h46m-46 1h46m-45 1h45m-46 1h46m-45 1h43m-44 1h45m-45 1h45m-45 1h44m-44 1h44m-44 1h45m-47 1h46m-44 1h45m-45 1h44m-45 1h46m-45 1h45m-45 1h45m-44 1h43m-45 1h44m-42 1h42m-44 1h44m-45 1h47m-46 1h44m-44 1h44m-44 1h45m-46 1h45m-45 1h45m-45 1h45m-44 1h42m-43 1h46m-44 1h42m-44 1h44m-45 1h47m-45 1h44m-44 1h44m-44 1h45m-46 1h45m-45 1h44m-44 1h44m-46 1h47m-45 1h45m-45 1h43m-43 1h44m-45 1h46m-44 1h43m-44 1h43m-44 1h45m-44 1h44m-43 1h43m-43 1h44m-43 1h41m-43 1h43m-44 1h45m-43 1h43m-44 1h43m-44 1h44m-44 1h43m-41 1h42m-43 1h42m-42 1h43m-42 1h42m-42 1h42m-43 1h43m-45 1h44m-44 1h45m-45 1h46m-45 1h45m-46 1h44m-44 1h45m-44 1h43m-43 1h43m-45 1h46m-45 1h44m-43 1h46m-48 1h46m-46 1h45m-45 1h47m-46 1h44m-45 1h45m-45 1h45m-46 1h48m-48 1h46m-46 1h47m-48 1h48m-46 1h46m-47 1h44m-43 1h46m-48 1h47m-45 1h43m-45 1h48m-49 1h47m-47 1h48m-49 1h49m-48 1h49m-48 1h46m-47 1h48m-47 1h46m-47 1h48m-49 1h48m-47 1h46m-46 1h48m-49 1h48m-50 1h50m-48 1h49m-49 1h48m-50 1h50m-49 1h47m-46 1h50m-51 1h50m-51 1h50m-48 1h49m-51 1h51m-51 1h51m-51 1h50m-51 1h50m-49 1h50m-50 1h49m-50 1h51m-51 1h51m-51 1h51m-51 1h52m-52 1h51m-51 1h51m-51 1h52m-52 1h50m-51 1h51m-51 1h50m-49 1h53m-54 1h51m-52 1h53m-53 1h53m-52 1h53m-54 1h53m-51 1h51m-53 1h52m-52 1h52m-51 1h51m-52 1h51m-52 1h54m-52 1h51m-53 1h53m-52 1h52m-52 1h53m-52 1h52m-53 1h52m-53 1h55m-56 1h55m-53 1h53m-53 1h54m-57 1h55m-52 1h53m-56 1h55m-54 1h54m-52 1h52m-54 1h53m-52 1h53m-54 1h52m-50 1h51m-53 1h54m-54 1h52m-52 1h55m-54 1h51m-51 1h52m-53 1h53m-54 1h55m-53 1h52m-54 1h53m-52 1h53m-54 1h53m-53 1h54m-53 1h52m-53 1h53m-53 1h54m-53 1h51m-52 1h51m-51 1h53m-53 1h51m-51 1h51m-52 1h52m-52 1h51m-51 1h50m-52 1h54m-53 1h52m-50 1h52m-54 1h53m-53 1h51m-51 1h51m-51 1h52m-52 1h51m-49 1h49m-50 1h49m-49 1h49m-49 1h50m-51 1h50m-51 1h52m-51 1h52m-52 1h49m-47 1h49m-50 1h50m-57 1h51m-77 1h59m-62 1h63m-60 1h59m-59 1h58m-59 1h61m-58 1h56m-58 1h58m-59 1h59m-57 1h57m-58 1h58m-58 1h57m-57 1h59m-59 1h57m-57 1h57m-59 1h59m-58 1h59m-67 1h65m-70 1h70m-72 1h71m-71 1h71m-70 1h69m-68 1h70m-70 1h69m-69 1h69m-70 1h69m-70 1h71m-70 1h70m-71 1h70m-69 1h68m-88 1h88m-111 1h110m-112 1h113m-116 1h116m-120 1h121m-125 1h125m-130 1h129m-134 1h134m-139 1h138m-140 1h142"/>
<path transform="translate(0,0.5)" stroke-width="1" stroke-opacity="0.240" d="M185 846h71m-72 1h71m-71 1h70m-71 1h70m-69 1h69m-69 1h67m-68 1h67m-69 1h69m-69 1h68m-68 1h68m-70 1h68m-67 1h68m-67 1h65m-66 1h67m-67 1h63m-63 1h64m-64 1h63m-64 1h63m-62 1h61m-61 1h61m-65 1h64m-60 1h59m-60 1h61m-63 1h61m-60 1h63m-63 1h60m-60 1h61m-60 1h58m-60 1h60m-61 1h62m-60 1h58m-60 1h59m-57 1h59m-59 1h57m-59 1h61m-62 1h59m-56 1h57m-56 1h56m-60 1h58m-58 1h59m-57 1h56m-58 1h57m-56 1h54m-53 1h53m-56 1h56m-56 1h57m-57 1h57m-58 1h57m-54 1h54m-52 1h51m-52 1h52m-53 1h53m-53 1h53m-54 1h55m-55 1h55m-54 1h53m-55 1h55m-56 1h54m-51 1h51m-50 1h50m-51 1h55m-54 1h49m-48 1h49m-55 1h54m-50 1h50m-49 1h52m-54 1h54m-57 1h55m-52 1h51m-51 1h54m-53 1h49m-51 1h50m-50 1h51m-52 1h55m-55 1h51m-49 1h49m-54 1h56m-52 1h50m-48 1h53m-56 1h51m-49 1h51m-55 1h52m-52 1h56m-52 1h50m-51 1h52m-54 1h51m-49 1h49m-50 1h50m-49 1h49m-48 1h52m-53 1h49m-49 1h51m-52 1h51m-50 1h49m-49 1h47m-47 1h48m-52 1h53m-49 1h48m-50 1h51m-48 1h46m-50 1h52m-50 1h49m-48 1h50m-49 1h48m-52 1h55m-51 1h49m-52 1h52m-50 1h48m-49 1h49m-49 1h48m-46 1h46m-48 1h47m-47 1h50m-50 1h47m-49 1h54m-53 1h49m-50 1h50m-49 1h49m-46 1h47m-54 1h53m-48 1h46m-47 1h51m-50 1h48m-50 1h50m-49 1h48m-48 1h53m-53 1h50m-52 1h51m-52 1h55m-51 1h48m-51 1h51m-49 1h48m-48 1h49m-49 1h49m-50 1h51m-52 1h52m-51 1h50m-51 1h50m-50 1h54m-55 1h51m-49 1h47m-48 1h51m-50 1h47m-47 1h48m-48 1h50m-50 1h49m-50 1h50m-50 1h52m-51 1h49m-51 1h50m-50 1h52m-50 1h50m-51 1h50m-53 1h53m-49 1h51m-53 1h52m-53 1h53m-52 1h54m-53 1h51m-50 1h47m-47 1h47m-48 1h48m-49 1h48m-49 1h48m-47 1h48m-48 1h48m-46 1h48m-50 1h48m-47 1h46m-49 1h53m-51 1h49m-49 1h49m-52 1h52m-51 1h52m-49 1h49m-51 1h49m-49 1h52m-52 1h49m-47 1h47m-50 1h49m-48 1h49m-48 1h47m-48 1h47m-48 1h53m-53 1h49m-51 1h51m-49 1h49m-47 1h47m-47 1h48m-48 1h48m-49 1h47m-46 1h46m-49 1h49m-48 1h48m-48 1h49m-48 1h51m-54 1h54m-51 1h49m-50 1h45m-47 1h49m-47 1h47m-45 1h49m-50 1h45m-46 1h47m-48 1h49m-48 1h47m-49 1h49m-47 1h47m-49 1h49m-46 1h45m-45 1h46m-50 1h51m-52 1h50m-49 1h48m-49 1h51m-46 1h47m-50 1h48m-49 1h48m-47 1h49m-46 1h44m-46 1h46m-46 1h46m-45 1h44m-44 1h46m-49 1h48m-45 1h45m-46 1h45m-44 1h43m-47 1h53m-52 1h45m-47 1h50m-45 1h43m-48 1h48m-43 1h44m-44 1h44m-47 1h47m-46 1h43m-43 1h46m-46 1h44m-46 1h46m-47 1h49m-45 1h45m-46 1h44m-46 1h46m-45 1h47m-49 1h49m-44 1h43m-44 1h48m-50 1h45m-43 1h46m-48 1h46m-45 1h44m-43 1h44m-45 1h47m-45 1h43m-44 1h42m-44 1h44m-46 1h52m-48 1h45m-46 1h48m-49 1h48m-47 1h48m-49 1h47m-46 1h46m-49 1h48m-46 1h46m-46 1h45m-44 1h45m-47 1h47m-45 1h44m-45 1h45m-47 1h47m-47 1h50m-49 1h47m-51 1h50m-49 1h50m-48 1h46m-45 1h45m-45 1h46m-47 1h48m-51 1h49m-50 1h52m-47 1h45m-47 1h47m-48 1h48m-46 1h48m-51 1h50m-48 1h48m-53 1h52m-49 1h49m-49 1h50m-51 1h53m-54 1h50m-47 1h49m-50 1h48m-47 1h48m-49 1h49m-49 1h49m-49 1h50m-51 1h53m-53 1h50m-50 1h50m-50 1h51m-51 1h50m-54 1h55m-52 1h51m-52 1h54m-54 1h53m-51 1h49m-50 1h52m-52 1h51m-52 1h53m-54 1h53m-52 1h52m-50 1h50m-52 1h53m-53 1h52m-52 1h51m-51 1h53m-54 1h54m-54 1h51m-51 1h54m-54 1h52m-53 1h53m-53 1h54m-54 1h54m-57 1h58m-59 1h57m-52 1h52m-54 1h53m-52 1h55m-56 1h54m-53 1h55m-56 1h54m-53 1h53m-54 1h54m-53 1h54m-54 1h52m-55 1h57m-56 1h55m-55 1h55m-54 1h55m-54 1h51m-52 1h53m-53 1h55m-57 1h55m-55 1h56m-54 1h53m-53 1h54m-55 1h53m-53 1h54m-54 1h55m-54 1h54m-56 1h57m-57 1h54m-53 1h56m-57 1h57m-55 1h53m-55 1h55m-54 1h54m-55 1h55m-56 1h56m-56 1h55m-54 1h53m-53 1h55m-56 1h56m-54 1h52m-53 1h52m-53 1h56m-55 1h53m-52 1h51m-54 1h56m-53 1h54m-56 1h53m-53 1h53m-54 1h54m-52 1h52m-53 1h51m-53 1h54m-51 1h54m-56 1h53m-51 1h50m-50 1h52m-54 1h52m-54 1h56m-52 1h49m-50 1h53m-53 1h50m-50 1h51m-51 1h49m-52 1h55m-53 1h52m-52 1h51m-51 1h51m-50 1h49m-51 1h53m-52 1h51m-50 1h51m-59 1h53m-80 1h62m-67 1h66m-59 1h60m-62 1h60m-61 1h61m-59 1h60m-59 1h59m-61 1h60m-58 1h60m-62 1h61m-58 1h57m-59 1h59m-59 1h60m-60 1h61m-63 1h61m-61 1h61m-69 1h66m-71 1h70m-70 1h72m-72 1h71m-71 1h72m-73 1h72m-71 1h71m-72 1h72m-71 1h70m-71 1h72m-71 1h72m-71 1h68m-69 1h71m-90 1h89m-112 1h113m-118 1h117m-119 1h119m-121 1h123m-127 1h127m-131 1h130m-135 1h133m-139 1h140m-142 1h143"/>
<path transform="translate(0,0.5)" stroke-width="1" stroke-opacity="0.150" d="M171 846h84m-84 1h84m-71 1h70m-72 1h72m-70 1h69m-72 1h72m-80 1h84m-84 1h82m-76 1h70m-69 1h68m-70 1h76m-75 1h76m-79 1h76m-77 1h74m-83 1h84m-83 1h83m-88 1h81m-83 1h82m-82 1h89m-86 1h86m-74 1h77m-76 1h76m-92 1h83m-83 1h85m-70 1h67m-66 1h66m-67 1h64m-60 1h58m-67 1h75m-73 1h71m-69 1h71m-71 1h73m-71 1h65m-64 1h65m-80 1h79m-79 1h79m-68 1h64m-59 1h57m-74 1h76m-76 1h74m-62 1h74m-73 1h72m-70 1h57m-56 1h56m-62 1h62m-61 1h58m-70 1h82m-79 1h80m-86 1h82m-81 1h80m-65 1h57m-56 1h60m-62 1h62m-63 1h61m-64 1h69m-69 1h65m-69 1h82m-81 1h81m-83 1h85m-86 1h86m-91 1h76m-75 1h75m-62 1h71m-72 1h72m-73 1h72m-74 1h75m-70 1h70m-68 1h68m-86 1h79m-78 1h77m-75 1h65m-66 1h65m-52 1h67m-67 1h66m-69 1h75m-73 1h75m-77 1h79m-80 1h78m-90 1h78m-77 1h76m-75 1h75m-75 1h75m-72 1h87m-86 1h84m-72 1h67m-67 1h68m-71 1h57m-57 1h58m-66 1h72m-73 1h73m-65 1h67m-65 1h68m-70 1h71m-71 1h71m-69 1h56m-56 1h55m-62 1h60m-59 1h59m-67 1h78m-77 1h78m-81 1h84m-84 1h83m-69 1h68m-64 1h66m-70 1h74m-75 1h73m-68 1h70m-69 1h68m-87 1h79m-80 1h78m-61 1h53m-54 1h52m-52 1h53m-50 1h51m-60 1h74m-73 1h74m-75 1h74m-75 1h77m-83 1h67m-65 1h64m-71 1h85m-85 1h86m-77 1h66m-64 1h65m-57 1h53m-55 1h55m-55 1h62m-62 1h61m-62 1h62m-61 1h59m-67 1h81m-81 1h81m-77 1h57m-57 1h59m-70 1h79m-79 1h79m-70 1h68m-68 1h69m-80 1h77m-76 1h74m-61 1h60m-60 1h59m-57 1h61m-61 1h63m-71 1h76m-78 1h77m-73 1h61m-60 1h58m-66 1h82m-80 1h80m-70 1h56m-56 1h54m-57 1h59m-57 1h54m-61 1h66m-64 1h65m-73 1h68m-67 1h68m-56 1h58m-57 1h59m-58 1h62m-61 1h63m-65 1h70m-67 1h68m-68 1h59m-61 1h58m-56 1h60m-62 1h62m-70 1h60m-62 1h61m-59 1h76m-76 1h76m-75 1h69m-68 1h68m-65 1h56m-55 1h54m-54 1h55m-57 1h56m-69 1h70m-69 1h68m-66 1h65m-64 1h62m-52 1h56m-52 1h52m-57 1h51m-49 1h51m-52 1h55m-55 1h53m-51 1h51m-50 1h50m-52 1h66m-67 1h66m-71 1h68m-68 1h68m-62 1h67m-65 1h64m-77 1h68m-68 1h67m-71 1h71m-71 1h68m-57 1h69m-69 1h69m-69 1h59m-57 1h57m-54 1h57m-59 1h61m-63 1h54m-52 1h53m-53 1h54m-55 1h56m-59 1h59m-59 1h57m-54 1h66m-67 1h66m-76 1h62m-63 1h62m-50 1h48m-48 1h51m-57 1h60m-59 1h58m-53 1h57m-55 1h54m-56 1h50m-51 1h52m-61 1h73m-71 1h71m-64 1h52m-48 1h48m-62 1h76m-78 1h79m-75 1h60m-60 1h61m-57 1h66m-66 1h66m-71 1h59m-61 1h58m-52 1h53m-55 1h55m-61 1h61m-61 1h60m-55 1h70m-70 1h69m-76 1h76m-76 1h76m-72 1h60m-57 1h57m-55 1h60m-61 1h59m-60 1h58m-57 1h57m-51 1h52m-53 1h54m-69 1h67m-68 1h67m-47 1h45m-44 1h44m-49 1h57m-58 1h57m-54 1h50m-51 1h51m-52 1h57m-56 1h57m-67 1h62m-62 1h63m-59 1h76m-75 1h73m-78 1h62m-63 1h63m-57 1h65m-68 1h66m-70 1h60m-61 1h64m-53 1h55m-55 1h54m-65 1h64m-66 1h66m-53 1h52m-52 1h51m-60 1h70m-70 1h70m-65 1h62m-61 1h61m-57 1h49m-50 1h52m-54 1h59m-56 1h57m-77 1h78m-78 1h78m-64 1h58m-58 1h57m-54 1h61m-60 1h58m-62 1h55m-53 1h53m-51 1h58m-61 1h61m-64 1h58m-56 1h57m-64 1h67m-68 1h67m-56 1h57m-58 1h59m-61 1h55m-52 1h53m-59 1h58m-58 1h59m-59 1h64m-62 1h64m-59 1h54m-56 1h56m-62 1h66m-66 1h66m-78 1h70m-70 1h68m-64 1h68m-66 1h67m-66 1h72m-71 1h71m-71 1h64m-64 1h65m-56 1h53m-53 1h53m-58 1h64m-65 1h63m-64 1h70m-70 1h71m-78 1h70m-68 1h68m-70 1h68m-69 1h69m-57 1h56m-56 1h57m-60 1h61m-61 1h60m-64 1h68m-69 1h69m-61 1h53m-53 1h55m-65 1h74m-73 1h72m-68 1h62m-63 1h63m-56 1h52m-53 1h56m-61 1h61m-61 1h59m-60 1h61m-61 1h63m-66 1h65m-64 1h64m-66 1h64m-65 1h65m-57 1h57m-57 1h58m-64 1h67m-68 1h67m-62 1h60m-61 1h62m-59 1h64m-66 1h66m-66 1h59m-59 1h60m-57 1h56m-56 1h56m-60 1h58m-58 1h60m-58 1h57m-58 1h56m-56 1h56m-57 1h58m-54 1h63m-63 1h64m-66 1h64m-62 1h60m-60 1h53m-54 1h55m-54 1h53m-54 1h55m-66 1h67m-67 1h67m-66 1h63m-61 1h60m-55 1h58m-57 1h57m-57 1h59m-60 1h59m-55 1h58m-59 1h63m-75 1h70m-71 1h71m-61 1h54m-57 1h57m-50 1h55m-57 1h57m-57 1h59m-61 1h60m-64 1h59m-60 1h58m-63 1h62m-102 1h81m-71 1h70m-70 1h71m-66 1h67m-69 1h66m-71 1h78m-75 1h74m-67 1h65m-67 1h68m-74 1h72m-73 1h72m-64 1h62m-61 1h60m-69 1h74m-76 1h78m-73 1h65m-71 1h70m-72 1h73m-74 1h73m-79 1h79m-78 1h77m-72 1h73m-72 1h73m-73 1h74m-76 1h74m-74 1h76m-76 1h77m-75 1h74m-74 1h74m-95 1h99m-120 1h125m-138 1h126m-129 1h128m-130 1h139m-142 1h140m-151 1h148m-151 1h149m-143 1h145m-147 1h147"/>
<path transform="translate(0,0.5)" stroke-width="1" stroke-opacity="0.035" d="M185 848h68m-69 3h66m-67 3h64m-65 4h62m-63 4h60m-60 4h57m-58 3h57m-57 4h56m-57 4h55m-55 3h54m-54 4h52m-53 4h52m-52 4h50m-50 4h49m-49 3h49m-49 4h48m-48 4h47m-47 3h46m-46 3h45m-45 3h45m-45 3h45m-46 4h45m-45 3h45m-45 4h45m-45 3h44m-44 3h44m-45 3h45m-45 4h44m-44 3h44m-44 4h44m-44 3h44m-45 4h45m-45 4h44m-44 3h44m-44 3h44m-45 4h45m-45 3h45m-45 4h45m-45 3h44m-45 4h45m-45 4h45m-45 3h45m-46 4h45m-45 4h45m-45 4h44m-45 4h45m-45 4h45m-45 3h44m-44 4h44m-45 3h44m-44 3h44m-44 4h44m-44 4h43m-43 3h43m-43 3h43m-44 3h44m-44 4h43m-43 4h43m-43 2h43m-43 4h42m-42 4h42m-42 4h42m-43 3h42m-42 3h42m-42 4h42m-42 4h41m-41 3h41m-41 4h41m-41 4h41m-41 3h40m-41 4h41m-41 3h41m-41 3h41m-41 4h40m-40 4h40m-41 4h41m-42 4h42m-42 3h42m-43 3h43m-43 3h43m-44 3h44m-44 3h44m-45 4h45m-46 4h45m-45 4h45m-46 4h46m-47 3h47m-47 3h47m-48 3h48m-48 3h48m-49 4h49m-50 3h50m-50 4h50m-50 4h50m-51 4h51m-51 4h50m-50 4h50m-51 3h51m-51 4h51m-51 3h51m-51 4h50m-51 4h51m-51 3h51m-51 3h50m-51 4h51m-51 3h50m-50 4h49m-49 4h49m-50 4h49m-49 4h48m-48 3h48m-48 3h47m-80 4h56m-56 3h56m-56 3h56m-56 3h56m-56 3h55m-62 4h61m-69 4h68m-68 3h68m-68 3h67m-109 4h108m-116 3h116m-136 4h136"/>
</g></g>
<g fill="#1c1c1c"><circle cx="150" cy="1247" r="6.2" fill-opacity="0.20"/><circle cx="150" cy="1247" r="5.2" fill-opacity="0.32"/><circle cx="148" cy="1250" r="6.2" fill-opacity="0.18"/><circle cx="148" cy="1250" r="5.2" fill-opacity="0.28"/><circle cx="146.2" cy="1253.3" r="6.2" fill-opacity="0.20"/><circle cx="146.2" cy="1253.3" r="5.2" fill-opacity="0.32"/><circle cx="144" cy="1256.5" r="6.2" fill-opacity="0.18"/><circle cx="144" cy="1256.5" r="5.2" fill-opacity="0.28"/><circle cx="142.3" cy="1259.7" r="6.2" fill-opacity="0.20"/><circle cx="142.3" cy="1259.7" r="5.2" fill-opacity="0.32"/><circle cx="139" cy="1263.5" r="6.2" fill-opacity="0.18"/><circle cx="139" cy="1263.5" r="5.2" fill-opacity="0.28"/><circle cx="136" cy="1267.4" r="6.2" fill-opacity="0.20"/><circle cx="136" cy="1267.4" r="5.2" fill-opacity="0.32"/><circle cx="134.5" cy="1270" r="6.2" fill-opacity="0.18"/><circle cx="134.5" cy="1270" r="5.2" fill-opacity="0.28"/><circle cx="133.3" cy="1272.6" r="6.2" fill-opacity="0.20"/><circle cx="133.3" cy="1272.6" r="5.2" fill-opacity="0.32"/><circle cx="129" cy="1274.5" r="6.2" fill-opacity="0.16"/><circle cx="129" cy="1274.5" r="5.2" fill-opacity="0.24"/><circle cx="124.4" cy="1276.4" r="6.2" fill-opacity="0.18"/><circle cx="124.4" cy="1276.4" r="5.2" fill-opacity="0.28"/><circle cx="115.4" cy="1279.6" r="6.2" fill-opacity="0.15"/><circle cx="115.4" cy="1279.6" r="5.2" fill-opacity="0.23"/><circle cx="106.4" cy="1282.8" r="6.2" fill-opacity="0.08"/><circle cx="106.4" cy="1282.8" r="5.2" fill-opacity="0.12"/></g>
<g fill="#333333"></g>
<g stroke="#333333" stroke-linecap="round" stroke-linejoin="round" fill="none">
<defs><path id="k5" d="M214 847 212.9 848.5 211.8 850 211 851.5 210.2 853 209.5 854.5 208.9 856 208.3 857.5 207.8 859 207.3 860.5 206.8 862 206.3 863.5 205.9 865 205.5 866.5 205.2 868 204.8 869.5 204.5 871 204.3 872.5 204 874 203.8 875.5 203.5 877 203.3 878.5 203.1 880 202.9 881.5 202.7 883 202.6 884.5 202.4 886 202.2 887.5 202.1 889 201.9 890.5 201.8 892 201.6 893.5 201.5 895 201.4 896.5 201.3 898 201.2 899.5 201.1 901 201 902.5 200.8 904 200.7 905.5 200.5 907 200.4 908.5 200.2 910 200.2 911.5 200.1 913 200.1 914.5 200.1 916 200 917.5 200 919 200 920.5 199.9 922 199.9 923.5 199.8 925 199.7 926.5 199.6 928 199.4 929.5 199.3 931 199.2 932.5 199.2 934 199.2 935.5 199.1 937 199.1 938.5 199.1 940 199.1 941.5 199.1 943 199.1 944.5 199 946 198.9 947.5 198.8 949 198.8 950.5 198.7 952 198.7 953.5 198.6 955 198.5 956.5 198.4 958 198.3 959.5 198.1 961 197.9 962.5 197.7 964 197.5 965.5 197.4 967 197.3 968.5 197.2 970 197.1 971.5 197 973 197 974.5 196.9 976 196.8 977.5 196.7 979 196.7 980.5 196.6 982 196.6 983.5 196.5 985 196.4 986.5 196.3 988 196.2 989.5 196.2 991 196.1 992.5 196 994 196 995.5 195.9 997 195.8 998.5 195.7 1000 195.5 1001.5 195.4 1003 195.2 1004.5 195.1 1006 195.1 1007.5 195 1009 194.9 1010.5 194.9 1012 194.8 1013.5 194.7 1015 194.6 1016.5 194.4 1018 194.3 1019.5 194.2 1021 194 1022.5 193.9 1024 193.8 1025.5 193.8 1027 193.7 1028.5 193.7 1030 193.6 1031.5 193.6 1033 193.5 1034.5 193.3 1036 193.2 1037.5 193 1039 192.8 1040.5 192.6 1042 192.4 1043.5 192.2 1045 192.1 1046.5 191.9 1048 191.8 1049.5 191.7 1051 191.7 1052.5 191.7 1054 191.6 1055.5 191.6 1057 191.6 1058.5 191.5 1060 191.4 1061.5 191.3 1063 191.2 1064.5 191.2 1066 191.1 1067.5 191 1069 190.9 1070.5 190.8 1072 190.7 1073.5 190.6 1075 190.6 1076.5 190.5 1078 190.4 1079.5 190.3 1081 190.3 1082.5 190.3 1084 190.3 1085.5 190.3 1087 190.3 1088.5 190.3 1090 190.2 1091.5 190.2 1093 190.1 1094.5 190.1 1096 190 1097.5 189.8 1099 189.7 1100.5 189.7 1102 189.6 1103.5 189.5 1105 189.5 1106.5 189.4 1108 189.4 1109.5 189.3 1111 189.3 1112.5 189.1 1114 189 1115.5 188.9 1117 188.7 1118.5 188.6 1120 188.5 1121.5 188.5 1123 188.4 1124.5 188.4 1126 188.4 1127.5 188.3 1129 188.1 1130.5 188 1132 187.8 1133.5 187.6 1135 187.4 1136.5 187.3 1138 187.2 1139.5 187 1141 186.9 1142.5 186.8 1144 186.6 1145.5 186.5 1147 186.4 1148.5 186.2 1150 186.1 1151.5 186 1153 185.8 1154.5 185.7 1156 185.5 1157.5 185.3 1159 185.1 1160.5 184.9 1162 184.7 1163.5 184.5 1165 184.4 1166.5 184.2 1168 184.1 1169.5 183.9 1171 183.8 1172.5 183.6 1174 183.4 1175.5 183.1 1177 183 1178.5 182.8 1180 182.7 1181.5 182.6 1183 182.4 1184.5 182.3 1186 182.1 1187.5 181.9 1189 181.7 1190.5 181.4 1192 181.2 1193.5 180.9 1195 180.7 1196.5 180.5 1198 180.3 1199.5 180.1 1201 180 1202.5 179.8 1204 179.7 1205.5 179.5 1207 179.4 1208.5 179.2 1210 179 1211.5 178.8 1213 178.5 1214.5 178.3 1216 178.1 1217.5 177.9 1219 177.7 1220.5 177.5 1222 177.4 1223.5 177.3 1225 177.2 1226.5 177.1 1228 176.9 1229.5 176.8 1231 176.6 1232.5 176.4 1234 176.2 1235.5 175.9 1237 175.7 1238.5 175.5 1240 175.3 1241.5 175.2 1243 175 1244.4"/></defs>
<use href="#k5" stroke-width="12.4" stroke-opacity="0.25"/>
<use href="#k5" stroke-width="11.2" stroke-opacity="0.4" stroke-dasharray="399.3 451" stroke-dashoffset="-0.8"/>
<use href="#k5" stroke-width="9.8" stroke-opacity="0.5" stroke-dasharray="396.9 451" stroke-dashoffset="-2"/>
<use href="#k5" stroke-width="8.0" stroke-opacity="0.5" stroke-dasharray="393.9 451" stroke-dashoffset="-3.5"/>
<use href="#k5" stroke-width="5.5" stroke-opacity="0.35" stroke-dasharray="390.9 451" stroke-dashoffset="-5"/>
</g>
<path d="M224.05 824.7V1304.3" stroke="#000" stroke-width="2.8" stroke-dasharray="10.7 10.74" fill="none"/>
</g>
<rect x="2" y="825.1" width="357.5" height="479.2" fill="none" stroke="#000" stroke-width="2.85" stroke-linejoin="round"/>
<path d="M71.45 1304.3v6.9M148.2 1304.3v6.9M224.45 1304.3v6.9M300.95 1304.3v6.9" stroke="#000" stroke-width="2.7" fill="none"/>
<text transform="translate(71.05,1345.2) scale(1,1.045)" font-size="27.8" text-anchor="middle" fill="#0a0a0a"><tspan dy="1.5">−</tspan><tspan dy="-1.5">5.0</tspan></text>
<text transform="translate(147.8,1345.2) scale(1,1.045)" font-size="27.8" text-anchor="middle" fill="#0a0a0a"><tspan dy="1.5">−</tspan><tspan dy="-1.5">2.5</tspan></text>
<text transform="translate(224.25,1345.2) scale(1,1.045)" font-size="27.8" text-anchor="middle" fill="#0a0a0a">0.0</text>
<text transform="translate(300.75,1345.2) scale(1,1.045)" font-size="27.8" text-anchor="middle" fill="#0a0a0a">2.5</text>
<text transform="translate(180.15,803)" font-size="27.9" text-anchor="middle" fill="#0a0a0a">Negative information</text>
</g>
<g>
<clipPath id="c6"><rect x="373.4" y="825.1" width="357.6" height="479.2"/></clipPath>
<g clip-path="url(#c6)">
<path d="M405.1 827.6V1302.8M481.4 827.6V1302.8M557.6 827.6V1302.8M633.9 827.6V1302.8M710.1 827.6V1302.8" stroke="#ececec" stroke-width="1.2" fill="none"/>
<path d="M376.4 835.5H728.5M376.4 947.5H728.5M376.4 1059.5H728.5M376.4 1171.6H728.5M376.4 1283.5H728.5" stroke="#e5e5e5" stroke-width="2.6" fill="none"/>
<clipPath id="b6"><rect x="373.4" y="846.2" width="357.6" height="437.4"/></clipPath>
<g clip-path="url(#b6)"><g stroke="#686868" fill="none">
<path transform="translate(0,0.5)" stroke-width="1" stroke-opacity="0.300" d="M630 846h70m-72 1h71m-71 1h71m-69 1h68m-72 1h73m-70 1h69m-70 1h69m-69 1h69m-71 1h71m-69 1h66m-68 1h70m-71 1h71m-70 1h69m-69 1h69m-69 1h69m-68 1h67m-70 1h68m-66 1h67m-67 1h66m-68 1h68m-68 1h68m-68 1h67m-68 1h69m-66 1h67m-71 1h68m-67 1h67m-67 1h67m-68 1h67m-66 1h67m-67 1h67m-66 1h66m-67 1h66m-67 1h66m-66 1h67m-68 1h67m-68 1h69m-68 1h66m-66 1h65m-66 1h66m-64 1h64m-65 1h66m-66 1h64m-64 1h63m-64 1h67m-67 1h66m-65 1h64m-65 1h65m-66 1h66m-65 1h63m-64 1h65m-65 1h64m-65 1h66m-65 1h64m-64 1h63m-63 1h64m-64 1h64m-65 1h63m-63 1h64m-65 1h65m-62 1h61m-63 1h65m-65 1h62m-63 1h64m-64 1h64m-66 1h66m-64 1h63m-59 1h57m-51 1h44m-41 1h37m-37 1h39m-41 1h40m-39 1h39m-38 1h39m-38 1h38m-38 1h38m-40 1h41m-41 1h41m-40 1h36m-37 1h38m-39 1h38m-37 1h39m-38 1h40m-41 1h40m-40 1h37m-38 1h40m-39 1h38m-38 1h40m-41 1h40m-39 1h38m-40 1h39m-38 1h40m-41 1h40m-40 1h40m-41 1h43m-43 1h41m-42 1h42m-42 1h42m-42 1h42m-42 1h42m-43 1h43m-42 1h42m-42 1h42m-42 1h43m-44 1h43m-43 1h44m-44 1h41m-41 1h42m-43 1h43m-43 1h44m-43 1h43m-44 1h43m-42 1h44m-46 1h45m-44 1h44m-46 1h46m-44 1h44m-44 1h44m-45 1h44m-44 1h45m-43 1h41m-42 1h43m-43 1h44m-44 1h43m-45 1h44m-43 1h43m-46 1h47m-46 1h45m-42 1h41m-42 1h42m-42 1h43m-43 1h44m-44 1h43m-44 1h44m-44 1h44m-43 1h43m-44 1h45m-46 1h46m-46 1h45m-45 1h45m-44 1h43m-43 1h44m-45 1h45m-46 1h46m-44 1h45m-47 1h46m-45 1h45m-45 1h45m-45 1h45m-45 1h46m-47 1h44m-43 1h45m-47 1h49m-48 1h45m-45 1h46m-47 1h46m-46 1h45m-44 1h48m-50 1h46m-44 1h44m-47 1h50m-49 1h47m-47 1h49m-49 1h47m-47 1h49m-51 1h49m-46 1h46m-48 1h48m-47 1h47m-47 1h47m-47 1h47m-47 1h46m-47 1h47m-48 1h49m-49 1h50m-50 1h49m-49 1h49m-49 1h47m-47 1h48m-47 1h49m-50 1h46m-46 1h48m-51 1h49m-47 1h48m-49 1h50m-48 1h44m-45 1h47m-48 1h49m-49 1h50m-50 1h49m-49 1h50m-51 1h51m-49 1h48m-48 1h48m-50 1h49m-49 1h50m-49 1h48m-47 1h47m-49 1h50m-50 1h51m-52 1h52m-52 1h50m-51 1h52m-50 1h49m-49 1h49m-49 1h46m-49 1h51m-49 1h51m-50 1h50m-50 1h51m-53 1h52m-52 1h50m-50 1h51m-51 1h52m-52 1h51m-50 1h48m-49 1h50m-50 1h52m-53 1h51m-51 1h51m-52 1h53m-53 1h51m-51 1h52m-52 1h53m-54 1h56m-57 1h54m-56 1h56m-56 1h56m-57 1h58m-59 1h59m-59 1h57m-57 1h59m-59 1h59m-61 1h62m-61 1h59m-61 1h62m-65 1h64m-62 1h62m-62 1h63m-65 1h65m-65 1h65m-66 1h65m-64 1h62m-65 1h65m-65 1h66m-65 1h65m-66 1h69m-68 1h68m-68 1h66m-67 1h68m-69 1h67m-68 1h69m-70 1h70m-68 1h67m-70 1h70m-71 1h71m-68 1h68m-71 1h71m-70 1h69m-69 1h69m-70 1h70m-69 1h68m-70 1h72m-73 1h73m-73 1h71m-70 1h70m-70 1h69m-68 1h68m-67 1h69m-69 1h67m-69 1h68m-67 1h67m-66 1h68m-67 1h66m-66 1h65m-65 1h66m-65 1h64m-65 1h65m-66 1h68m-66 1h64m-66 1h65m-65 1h65m-63 1h64m-64 1h63m-62 1h62m-61 1h61m-62 1h61m-64 1h66m-61 1h58m-58 1h56m-57 1h58m-58 1h58m-60 1h63m-63 1h62m-59 1h59m-60 1h58m-59 1h60m-60 1h61m-61 1h62m-61 1h59m-62 1h61m-57 1h57m-59 1h58m-58 1h57m-56 1h57m-58 1h58m-58 1h57m-59 1h59m-56 1h56m-57 1h57m-57 1h58m-58 1h57m-55 1h55m-56 1h54m-54 1h56m-56 1h56m-56 1h56m-56 1h55m-54 1h56m-60 1h57m-54 1h55m-56 1h55m-55 1h55m-56 1h56m-56 1h56m-55 1h54m-53 1h53m-53 1h55m-56 1h55m-55 1h55m-55 1h56m-55 1h54m-55 1h55m-56 1h56m-56 1h55m-55 1h54m-52 1h55m-57 1h55m-54 1h54m-55 1h56m-56 1h57m-57 1h55m-56 1h57m-56 1h55m-55 1h55m-55 1h54m-55 1h56m-55 1h55m-55 1h55m-55 1h55m-55 1h55m-54 1h52m-55 1h57m-56 1h56m-55 1h54m-55 1h54m-53 1h55m-56 1h57m-59 1h56m-54 1h55m-54 1h54m-55 1h53m-52 1h53m-55 1h54m-52 1h54m-56 1h55m-55 1h55m-54 1h55m-55 1h53m-53 1h54m-53 1h53m-55 1h56m-57 1h54m-52 1h53m-54 1h53m-53 1h53m-52 1h53m-53 1h53m-53 1h52m-51 1h51m-52 1h52m-51 1h51m-52 1h51m-51 1h51m-51 1h52m-52 1h52m-52 1h52m-52 1h52m-51 1h50m-51 1h51m-52 1h53m-51 1h50m-54 1h53m-50 1h50m-49 1h50m-52 1h52m-53 1h52m-50 1h49m-49 1h49m-49 1h50m-51 1h49m-48 1h48m-49 1h51m-50 1h48m-49 1h49m-48 1h50m-50 1h48m-48 1h48m-48 1h48m-47 1h48m-49 1h48m-46 1h46m-48 1h48m-49 1h49m-48 1h48m-48 1h47m-47 1h48m-46 1h45m-49 1h49m-48 1h47m-47 1h47m-46 1h47m-48 1h48m-48 1h47m-46 1h46m-46 1h45m-44 1h46m-48 1h46m-48 1h49m-47 1h47m-48 1h51m-52 1h52m-52 1h53m-53 1h52m-55 1h56m-60 1h62m-67 1h68m-72 1h74m-78 1h80"/>
<path transform="translate(0,0.5)" stroke-width="1" stroke-opacity="0.240" d="M627 846h73m-70 1h72m-73 1h73m-76 1h73m-74 1h76m-74 1h73m-76 1h75m-73 1h70m-73 1h75m-72 1h70m-70 1h69m-69 1h71m-71 1h70m-71 1h74m-75 1h72m-70 1h69m-70 1h68m-67 1h66m-67 1h68m-67 1h68m-74 1h73m-70 1h69m-69 1h69m-69 1h68m-67 1h68m-69 1h69m-70 1h69m-70 1h69m-69 1h71m-67 1h64m-67 1h67m-70 1h71m-69 1h67m-65 1h67m-70 1h69m-68 1h67m-69 1h67m-64 1h64m-66 1h68m-70 1h69m-67 1h66m-66 1h66m-68 1h68m-65 1h66m-68 1h67m-67 1h68m-68 1h66m-66 1h65m-65 1h66m-68 1h66m-64 1h63m-65 1h68m-68 1h68m-66 1h64m-65 1h66m-66 1h66m-66 1h65m-66 1h66m-67 1h66m-66 1h67m-65 1h66m-67 1h65m-67 1h67m-65 1h65m-64 1h63m-64 1h65m-63 1h59m-53 1h46m-43 1h39m-37 1h37m-41 1h42m-43 1h43m-40 1h44m-43 1h43m-45 1h43m-43 1h44m-47 1h45m-41 1h40m-38 1h36m-38 1h38m-42 1h45m-43 1h43m-43 1h43m-43 1h42m-47 1h46m-40 1h42m-41 1h43m-44 1h39m-38 1h46m-48 1h42m-46 1h47m-43 1h41m-41 1h43m-46 1h45m-42 1h43m-48 1h52m-48 1h43m-46 1h46m-44 1h44m-46 1h44m-41 1h42m-43 1h44m-43 1h43m-45 1h43m-42 1h48m-51 1h47m-45 1h43m-42 1h44m-45 1h44m-44 1h44m-45 1h44m-43 1h48m-50 1h48m-46 1h43m-44 1h44m-43 1h44m-45 1h45m-43 1h45m-49 1h47m-45 1h43m-44 1h46m-47 1h50m-48 1h47m-48 1h45m-46 1h46m-45 1h46m-46 1h45m-43 1h46m-48 1h45m-45 1h44m-44 1h45m-45 1h48m-47 1h46m-48 1h46m-46 1h45m-47 1h47m-44 1h45m-45 1h44m-45 1h47m-47 1h47m-48 1h47m-47 1h49m-48 1h47m-47 1h49m-50 1h49m-49 1h45m-46 1h48m-47 1h46m-46 1h46m-46 1h45m-46 1h50m-49 1h48m-49 1h47m-47 1h48m-48 1h51m-50 1h48m-48 1h45m-48 1h49m-49 1h48m-46 1h50m-52 1h47m-45 1h48m-49 1h50m-51 1h49m-51 1h51m-49 1h49m-48 1h47m-51 1h49m-46 1h52m-52 1h52m-53 1h51m-50 1h48m-48 1h51m-51 1h51m-54 1h51m-49 1h50m-51 1h49m-49 1h50m-51 1h54m-52 1h49m-50 1h49m-52 1h52m-48 1h47m-49 1h55m-54 1h48m-48 1h47m-48 1h49m-50 1h51m-50 1h49m-51 1h54m-51 1h48m-50 1h51m-50 1h49m-50 1h52m-52 1h51m-51 1h53m-53 1h53m-52 1h49m-49 1h50m-51 1h49m-49 1h50m-50 1h50m-49 1h47m-49 1h53m-53 1h48m-48 1h49m-50 1h53m-52 1h53m-52 1h49m-51 1h51m-51 1h52m-53 1h55m-57 1h56m-52 1h51m-51 1h50m-52 1h53m-53 1h54m-54 1h53m-53 1h53m-53 1h51m-52 1h57m-58 1h56m-57 1h54m-57 1h58m-59 1h60m-56 1h54m-56 1h58m-61 1h60m-60 1h61m-62 1h61m-60 1h59m-59 1h60m-63 1h68m-67 1h61m-61 1h59m-60 1h62m-63 1h67m-67 1h64m-64 1h64m-66 1h65m-64 1h64m-64 1h64m-66 1h66m-66 1h66m-68 1h68m-67 1h69m-69 1h66m-66 1h65m-66 1h69m-67 1h69m-73 1h73m-73 1h73m-73 1h68m-69 1h71m-70 1h69m-69 1h69m-71 1h71m-70 1h68m-69 1h71m-71 1h73m-75 1h77m-75 1h69m-71 1h72m-71 1h72m-72 1h71m-71 1h72m-73 1h75m-75 1h70m-70 1h69m-67 1h70m-72 1h70m-68 1h69m-68 1h67m-69 1h70m-66 1h64m-66 1h67m-66 1h66m-67 1h72m-73 1h68m-69 1h68m-64 1h65m-66 1h66m-64 1h62m-63 1h62m-62 1h64m-62 1h62m-65 1h68m-67 1h63m-62 1h61m-61 1h61m-61 1h67m-67 1h66m-68 1h63m-63 1h67m-66 1h63m-62 1h63m-64 1h64m-63 1h64m-63 1h62m-64 1h61m-61 1h60m-59 1h59m-60 1h62m-60 1h57m-60 1h62m-63 1h62m-60 1h59m-58 1h59m-59 1h58m-59 1h63m-60 1h59m-61 1h58m-60 1h60m-61 1h64m-63 1h58m-57 1h59m-58 1h62m-62 1h57m-58 1h58m-58 1h58m-59 1h60m-60 1h59m-57 1h57m-59 1h58m-58 1h56m-54 1h57m-59 1h58m-58 1h58m-57 1h59m-58 1h56m-55 1h55m-57 1h57m-57 1h56m-55 1h56m-56 1h55m-56 1h56m-56 1h57m-58 1h58m-57 1h55m-56 1h56m-57 1h58m-59 1h60m-57 1h56m-57 1h56m-57 1h56m-55 1h56m-56 1h57m-56 1h57m-57 1h56m-57 1h57m-54 1h52m-55 1h57m-57 1h56m-56 1h55m-57 1h59m-56 1h54m-54 1h53m-55 1h56m-56 1h55m-54 1h56m-56 1h55m-56 1h55m-55 1h55m-55 1h56m-55 1h53m-54 1h57m-58 1h56m-55 1h56m-57 1h57m-55 1h54m-55 1h54m-54 1h56m-55 1h54m-55 1h56m-56 1h54m-53 1h52m-53 1h54m-56 1h56m-56 1h56m-53 1h52m-52 1h51m-50 1h52m-53 1h54m-56 1h54m-51 1h52m-54 1h56m-57 1h55m-53 1h53m-53 1h52m-54 1h54m-54 1h55m-56 1h52m-50 1h52m-51 1h51m-54 1h54m-55 1h55m-55 1h53m-52 1h56m-53 1h53m-58 1h56m-52 1h54m-54 1h50m-51 1h51m-51 1h51m-53 1h54m-51 1h50m-49 1h49m-49 1h49m-50 1h48m-49 1h51m-53 1h51m-49 1h50m-49 1h51m-53 1h51m-48 1h49m-52 1h51m-50 1h53m-52 1h48m-51 1h53m-51 1h49m-50 1h52m-49 1h47m-51 1h51m-48 1h48m-49 1h53m-52 1h46m-48 1h51m-54 1h54m-50 1h49m-52 1h59m-59 1h52m-51 1h56m-57 1h53m-54 1h55m-58 1h62m-70 1h71m-74 1h77m-81 1h81"/>
<path transform="translate(0,0.5)" stroke-width="1" stroke-opacity="0.150" d="M616 846h99m-87 1h85m-86 1h82m-86 1h84m-85 1h91m-98 1h97m-99 1h87m-77 1h76m-77 1h79m-92 1h93m-93 1h91m-86 1h83m-81 1h91m-91 1h92m-93 1h82m-74 1h73m-71 1h70m-79 1h77m-79 1h94m-97 1h94m-93 1h88m-93 1h91m-92 1h99m-87 1h86m-86 1h78m-77 1h75m-76 1h81m-79 1h79m-78 1h75m-80 1h80m-83 1h82m-77 1h76m-76 1h74m-76 1h77m-79 1h76m-74 1h73m-74 1h75m-78 1h76m-76 1h77m-77 1h77m-75 1h80m-79 1h79m-79 1h79m-75 1h74m-75 1h71m-78 1h79m-79 1h75m-72 1h74m-73 1h72m-70 1h68m-68 1h78m-78 1h76m-77 1h77m-74 1h74m-75 1h73m-77 1h77m-77 1h74m-81 1h81m-81 1h80m-71 1h71m-72 1h72m-77 1h77m-75 1h79m-85 1h85m-85 1h81m-75 1h74m-74 1h77m-72 1h70m-69 1h60m-55 1h56m-57 1h49m-58 1h58m-57 1h63m-76 1h75m-75 1h72m-82 1h83m-84 1h87m-67 1h69m-67 1h56m-44 1h47m-47 1h69m-96 1h94m-92 1h77m-58 1h58m-59 1h53m-47 1h45m-45 1h50m-47 1h48m-48 1h55m-76 1h77m-75 1h68m-70 1h71m-71 1h79m-63 1h64m-61 1h51m-68 1h67m-68 1h63m-59 1h59m-60 1h59m-53 1h56m-55 1h54m-63 1h63m-61 1h84m-76 1h76m-76 1h69m-66 1h67m-69 1h55m-55 1h55m-57 1h72m-66 1h68m-67 1h52m-60 1h58m-58 1h68m-63 1h64m-63 1h50m-49 1h47m-49 1h63m-71 1h71m-70 1h56m-48 1h46m-48 1h62m-67 1h66m-67 1h66m-61 1h61m-61 1h61m-60 1h58m-59 1h57m-57 1h55m-55 1h49m-58 1h57m-54 1h70m-62 1h63m-62 1h54m-56 1h55m-55 1h63m-68 1h68m-69 1h52m-48 1h49m-47 1h57m-61 1h60m-61 1h61m-60 1h60m-59 1h54m-54 1h55m-54 1h59m-58 1h58m-58 1h62m-64 1h67m-67 1h51m-56 1h57m-56 1h69m-64 1h65m-66 1h52m-53 1h56m-56 1h63m-65 1h64m-65 1h64m-60 1h59m-60 1h56m-57 1h59m-59 1h53m-50 1h50m-50 1h54m-60 1h60m-62 1h62m-56 1h57m-57 1h48m-50 1h52m-51 1h58m-56 1h55m-58 1h59m-65 1h63m-64 1h81m-76 1h76m-76 1h62m-59 1h58m-60 1h55m-58 1h58m-57 1h58m-70 1h70m-71 1h67m-66 1h66m-68 1h78m-63 1h62m-63 1h57m-62 1h62m-61 1h60m-55 1h57m-57 1h71m-75 1h77m-76 1h55m-56 1h57m-59 1h83m-83 1h84m-85 1h62m-65 1h64m-65 1h67m-57 1h57m-53 1h58m-68 1h69m-69 1h64m-73 1h72m-73 1h81m-63 1h62m-67 1h71m-76 1h75m-75 1h68m-68 1h68m-69 1h66m-75 1h77m-78 1h89m-73 1h72m-71 1h69m-77 1h78m-78 1h82m-86 1h83m-83 1h77m-63 1h64m-65 1h55m-55 1h55m-57 1h60m-59 1h59m-59 1h56m-72 1h72m-71 1h71m-65 1h65m-65 1h82m-82 1h80m-81 1h73m-74 1h77m-76 1h63m-68 1h73m-74 1h84m-86 1h88m-89 1h77m-74 1h74m-75 1h85m-88 1h88m-88 1h78m-75 1h75m-76 1h74m-73 1h72m-71 1h75m-79 1h78m-78 1h96m-92 1h90m-90 1h69m-69 1h67m-68 1h80m-80 1h81m-83 1h80m-79 1h78m-80 1h75m-76 1h78m-79 1h75m-75 1h75m-77 1h77m-78 1h80m-81 1h83m-82 1h80m-81 1h86m-91 1h90m-89 1h87m-81 1h79m-80 1h81m-79 1h81m-80 1h73m-75 1h75m-74 1h74m-72 1h73m-74 1h89m-94 1h94m-93 1h89m-85 1h84m-84 1h89m-88 1h87m-87 1h73m-72 1h73m-73 1h70m-70 1h67m-67 1h90m-91 1h93m-94 1h88m-87 1h87m-88 1h70m-79 1h80m-81 1h87m-79 1h79m-78 1h69m-83 1h83m-82 1h93m-76 1h74m-75 1h91m-91 1h93m-92 1h67m-66 1h63m-61 1h73m-75 1h75m-75 1h86m-100 1h99m-96 1h81m-69 1h68m-71 1h77m-88 1h86m-85 1h88m-77 1h76m-75 1h61m-65 1h68m-69 1h72m-71 1h71m-71 1h71m-72 1h69m-70 1h72m-70 1h71m-71 1h79m-75 1h74m-74 1h72m-71 1h69m-71 1h65m-66 1h66m-64 1h61m-63 1h62m-61 1h65m-65 1h63m-62 1h64m-71 1h70m-70 1h74m-68 1h68m-69 1h61m-56 1h55m-57 1h57m-60 1h60m-61 1h66m-63 1h64m-65 1h62m-64 1h64m-64 1h65m-61 1h60m-61 1h63m-70 1h68m-67 1h70m-67 1h66m-65 1h63m-63 1h62m-61 1h60m-59 1h59m-60 1h59m-65 1h65m-65 1h64m-59 1h58m-56 1h55m-59 1h59m-61 1h66m-62 1h63m-61 1h58m-59 1h60m-62 1h59m-59 1h59m-58 1h60m-63 1h66m-65 1h61m-58 1h58m-58 1h56m-55 1h55m-56 1h57m-56 1h54m-56 1h58m-59 1h59m-57 1h60m-60 1h58m-61 1h67m-70 1h68m-71 1h66m-60 1h56m-58 1h62m-66 1h67m-66 1h72m-72 1h73m-75 1h66m-59 1h57m-56 1h65m-65 1h63m-64 1h59m-66 1h67m-67 1h70m-62 1h63m-60 1h55m-64 1h64m-67 1h67m-57 1h57m-57 1h58m-59 1h59m-58 1h65m-72 1h72m-71 1h63m-64 1h63m-63 1h63m-59 1h58m-57 1h59m-61 1h59m-57 1h58m-69 1h69m-70 1h72m-74 1h76m-78 1h76m-74 1h74m-73 1h81m-78 1h77m-77 1h82m-74 1h73m-72 1h72m-79 1h81m-82 1h66m-73 1h74m-76 1h79m-71 1h70m-69 1h79m-73 1h73m-74 1h61m-60 1h58m-57 1h53m-54 1h55m-56 1h64m-72 1h73m-75 1h76m-67 1h67m-67 1h65m-72 1h73m-73 1h79m-72 1h68m-67 1h61m-68 1h70m-70 1h64m-58 1h61m-64 1h74m-94 1h94m-95 1h91m-85 1h84"/>
<path transform="translate(0,0.5)" stroke-width="1" stroke-opacity="0.035" d="M630 848h68m-69 3h68m-69 4h67m-68 3h67m-67 3h65m-66 4h65m-66 4h65m-65 3h64m-65 4h64m-65 4h64m-65 4h64m-65 4h63m-63 4h62m-63 3h63m-63 4h62m-63 3h62m-62 4h61m-62 3h62m-59 3h55m-45 4h35m-35 4h35m-35 3h35m-35 3h35m-36 3h36m-36 3h36m-37 4h37m-38 4h37m-38 4h38m-39 4h39m-40 3h40m-40 4h40m-40 3h40m-41 4h41m-41 3h41m-42 4h41m-41 4h41m-41 3h41m-42 4h42m-42 4h42m-43 4h43m-43 3h43m-44 3h44m-44 3h43m-44 4h44m-44 4h44m-45 4h44m-44 3h44m-45 4h45m-45 3h45m-46 4h45m-45 3h45m-45 4h45m-46 4h46m-47 4h46m-46 4h46m-47 4h47m-47 3h47m-47 4h47m-48 3h47m-47 4h47m-48 4h48m-50 3h50m-52 3h52m-55 4h55m-57 3h57m-60 4h60m-62 3h62m-63 4h63m-64 3h63m-65 4h65m-66 4h65m-67 4h67m-68 3h67m-68 3h68m-67 4h66m-65 3h65m-64 4h63m-63 4h62m-61 4h60m-59 3h59m-58 3h57m-57 3h57m-57 4h56m-56 4h56m-56 4h55m-55 3h55m-56 3h55m-55 4h55m-55 4h54m-54 4h53m-53 4h53m-53 3h53m-53 4h52m-53 3h53m-53 4h53m-53 4h53m-53 3h52m-52 3h52m-52 4h52m-53 3h53m-53 3h52m-52 4h52m-52 3h52m-52 3h51m-51 4h51m-51 4h50m-50 4h50m-50 3h49m-49 3h49m-49 4h48m-48 4h48m-48 4h47m-47 3h47m-47 3h46m-46 4h46m-46 4h45m-45 4h44m-44 3h44m-44 4h43m-44 3h45m-47 4h49m-60 4h66"/>
</g></g>
<g fill="#333333"></g>
<g stroke="#333333" stroke-linecap="round" stroke-linejoin="round" fill="none">
<defs><path id="k6" d="M661 847 660.6 848.5 660.2 850 659.8 851.5 659.5 853 659.2 854.5 658.9 856 658.6 857.5 658.2 859 657.9 860.5 657.5 862 657.2 863.5 656.9 865 656.6 866.5 656.4 868 656.1 869.5 655.9 871 655.6 872.5 655.4 874 655.2 875.5 654.9 877 654.6 878.5 654.4 880 654.1 881.5 653.9 883 653.6 884.5 653.3 886 653 887.5 652.7 889 652.5 890.5 652.2 892 652 893.5 651.8 895 651.6 896.5 651.5 898 651.3 899.5 651.1 901 650.8 902.5 650.6 904 650.4 905.5 650.1 907 649.8 908.5 649.5 910 649.2 911.5 648.8 913 648.3 914.5 648 916 647.7 917.5 647.5 919 647.3 920.5 647.1 922 647 923.5 646.9 925 646.7 926.5 646.6 928 646.5 929.5 646.4 931 646.4 932.5 646.3 934 646.3 935.5 646.2 937 646.2 938.5 646.1 940 646 941.5 645.9 943 645.7 944.5 645.6 946 645.4 947.5 645.3 949 645.2 950.5 645.1 952 645 953.5 645 955 644.9 956.5 644.8 958 644.7 959.5 644.5 961 644.3 962.5 644.1 964 643.9 965.5 643.7 967 643.6 968.5 643.6 970 643.6 971.5 643.7 973 643.7 974.5 643.7 976 643.6 977.5 643.5 979 643.3 980.5 643.1 982 642.9 983.5 642.8 985 642.6 986.5 642.5 988 642.3 989.5 642.2 991 642.1 992.5 642 994 641.9 995.5 641.9 997 641.8 998.5 641.7 1000 641.6 1001.5 641.5 1003 641.4 1004.5 641.3 1006 641.2 1007.5 641 1009 640.9 1010.5 640.7 1012 640.6 1013.5 640.5 1015 640.4 1016.5 640.3 1018 640.2 1019.5 640.1 1021 639.9 1022.5 639.8 1024 639.7 1025.5 639.5 1027 639.4 1028.5 639.2 1030 639.1 1031.5 639.1 1033 639 1034.5 638.9 1036 638.8 1037.5 638.7 1039 638.6 1040.5 638.6 1042 638.5 1043.5 638.4 1045 638.4 1046.5 638.3 1048 638.2 1049.5 638.2 1051 638 1052.5 637.9 1054 637.7 1055.5 637.5 1057 637.4 1058.5 637.2 1060 637 1061.5 636.8 1063 636.5 1064.5 636.3 1066 636.1 1067.5 635.8 1069 635.6 1070.5 635.3 1072 635 1073.5 634.7 1075 634.3 1076.5 634 1078 633.6 1079.5 633.3 1081 632.9 1082.5 632.7 1084 632.4 1085.5 632.1 1087 631.8 1088.5 631.4 1090 631 1091.5 630.5 1093 630.1 1094.5 629.6 1096 629.1 1097.5 628.7 1099 628.2 1100.5 627.8 1102 627.5 1103.5 627.1 1105 626.8 1106.5 626.4 1108 626.1 1109.5 625.8 1111 625.4 1112.5 625 1114 624.5 1115.5 624 1117 623.6 1118.5 623.1 1120 622.6 1121.5 622.2 1123 621.8 1124.5 621.4 1126 621.1 1127.5 620.8 1129 620.6 1130.5 620.4 1132 620.2 1133.5 620 1135 619.9 1136.5 619.7 1138 619.5 1139.5 619.4 1141 619.2 1142.5 619 1144 618.9 1145.5 618.7 1147 618.6 1148.5 618.4 1150 618.3 1151.5 618.2 1153 618.1 1154.5 618 1156 617.8 1157.5 617.7 1159 617.7 1160.5 617.7 1162 617.7 1163.5 617.7 1165 617.7 1166.5 617.7 1168 617.7 1169.5 617.7 1171 617.6 1172.5 617.5 1174 617.4 1175.5 617.3 1177 617.3 1178.5 617.3 1180 617.2 1181.5 617.2 1183 617.1 1184.5 617.1 1186 617.1 1187.5 617 1189 617 1190.5 616.9 1192 616.8 1193.5 616.7 1195 616.6 1196.5 616.5 1198 616.4 1199.5 616.4 1201 616.3 1202.5 616.3 1204 616.2 1205.5 616.2 1207 616.1 1208.5 616 1210 615.9 1211.5 615.8 1213 615.7 1214.5 615.6 1216 615.5 1217.5 615.5 1219 615.4 1220.5 615.4 1222 615.4 1223.5 615.4 1225 615.4 1226.5 615.4 1228 615.4 1229.5 615.3 1231 615.2 1232.5 615.1 1234 615 1235.5 614.9 1237 614.8 1238.5 614.7 1240 614.6 1241.5 614.6 1243 614.6 1244.5 614.5 1246 614.5 1247.5 614.5 1249 614.4 1250.5 614.4 1252 614.4 1253.5 614.3 1255 614.3 1256.5 614.3 1258 614.3 1259.5 614.2 1261 614.2 1262.5 614.2 1264 614.2 1265.5 614.1 1267 614.1 1268.5 614.1 1270 614 1271.5 613.9 1273 613.6 1274.5 613.1 1276 612.4 1277.5 611.6 1279 610.6 1280.5 608.9 1282 607.5 1283"/></defs>
<use href="#k6" stroke-width="12.4" stroke-opacity="0.25"/>
<use href="#k6" stroke-width="11.2" stroke-opacity="0.4" stroke-dasharray="440.7 492" stroke-dashoffset="-0.8"/>
<use href="#k6" stroke-width="9.8" stroke-opacity="0.5" stroke-dasharray="438.3 492" stroke-dashoffset="-2"/>
<use href="#k6" stroke-width="8.0" stroke-opacity="0.5" stroke-dasharray="435.3 492" stroke-dashoffset="-3.5"/>
<use href="#k6" stroke-width="5.5" stroke-opacity="0.35" stroke-dasharray="432.3 492" stroke-dashoffset="-5"/>
</g>
<path d="M595.8 824.7V1304.3" stroke="#000" stroke-width="2.8" stroke-dasharray="10.7 10.74" fill="none"/>
</g>
<rect x="373.4" y="825.1" width="357.6" height="479.2" fill="none" stroke="#000" stroke-width="2.85" stroke-linejoin="round"/>
<path d="M443.45 1304.3v6.9M519.7 1304.3v6.9M596.2 1304.3v6.9M672.2 1304.3v6.9" stroke="#000" stroke-width="2.7" fill="none"/>
<text transform="translate(443.05,1345.2) scale(1,1.045)" font-size="27.8" text-anchor="middle" fill="#0a0a0a"><tspan dy="1.5">−</tspan><tspan dy="-1.5">5.0</tspan></text>
<text transform="translate(519.3,1345.2) scale(1,1.045)" font-size="27.8" text-anchor="middle" fill="#0a0a0a"><tspan dy="1.5">−</tspan><tspan dy="-1.5">2.5</tspan></text>
<text transform="translate(596,1345.2) scale(1,1.045)" font-size="27.8" text-anchor="middle" fill="#0a0a0a">0.0</text>
<text transform="translate(672,1345.2) scale(1,1.045)" font-size="27.8" text-anchor="middle" fill="#0a0a0a">2.5</text>
<text transform="translate(551.6,803)" font-size="27.9" text-anchor="middle" fill="#0a0a0a">Positive information</text>
</g>
<g>
<clipPath id="c7"><rect x="822.6" y="825.1" width="357.8" height="479.2"/></clipPath>
<g clip-path="url(#c7)">
<path d="M881.6 827.6V1302.8M950.8 827.6V1302.8M1020 827.6V1302.8M1089.2 827.6V1302.8M1158.3 827.6V1302.8" stroke="#ececec" stroke-width="1.2" fill="none"/>
<path d="M825.6 835.5H1177.9M825.6 947.5H1177.9M825.6 1059.5H1177.9M825.6 1171.6H1177.9M825.6 1283.5H1177.9" stroke="#e5e5e5" stroke-width="2.6" fill="none"/>
<clipPath id="b7"><rect x="822.6" y="846.2" width="357.8" height="437.4"/></clipPath>
<g clip-path="url(#b7)"><g stroke="#686868" fill="none">
<path transform="translate(0,0.5)" stroke-width="1" stroke-opacity="0.300" d="M907 846h128m-129 1h128m-126 1h125m-125 1h126m-128 1h125m-125 1h125m-126 1h125m-124 1h123m-124 1h123m-123 1h121m-120 1h121m-122 1h121m-122 1h124m-124 1h121m-122 1h121m-120 1h120m-121 1h119m-120 1h120m-120 1h119m-117 1h115m-118 1h119m-119 1h117m-117 1h116m-116 1h118m-118 1h117m-119 1h118m-118 1h117m-116 1h116m-119 1h118m-116 1h114m-114 1h116m-116 1h116m-117 1h116m-116 1h116m-118 1h118m-117 1h115m-115 1h113m-114 1h113m-112 1h111m-112 1h114m-115 1h113m-112 1h112m-113 1h114m-112 1h110m-112 1h111m-112 1h111m-110 1h109m-109 1h110m-110 1h108m-108 1h106m-106 1h106m-108 1h107m-105 1h106m-109 1h112m-112 1h112m-111 1h111m-113 1h115m-114 1h115m-116 1h118m-118 1h117m-117 1h119m-120 1h120m-120 1h117m-117 1h119m-119 1h116m-118 1h116m-115 1h116m-117 1h115m-111 1h110m-112 1h111m-110 1h108m-110 1h108m-108 1h108m-107 1h106m-107 1h106m-105 1h104m-103 1h103m-106 1h106m-105 1h105m-105 1h104m-105 1h104m-103 1h104m-104 1h103m-104 1h102m-102 1h104m-104 1h103m-102 1h100m-101 1h102m-103 1h103m-103 1h103m-102 1h101m-100 1h100m-103 1h101m-98 1h97m-99 1h100m-99 1h98m-98 1h98m-98 1h98m-99 1h99m-99 1h98m-98 1h97m-98 1h100m-99 1h98m-99 1h99m-100 1h97m-96 1h98m-99 1h97m-96 1h96m-96 1h95m-95 1h96m-97 1h96m-96 1h96m-95 1h95m-96 1h95m-95 1h95m-93 1h92m-96 1h96m-93 1h92m-92 1h93m-95 1h95m-96 1h94m-94 1h96m-94 1h92m-93 1h94m-93 1h90m-91 1h93m-93 1h92m-92 1h92m-91 1h91m-94 1h93m-90 1h89m-91 1h92m-92 1h91m-91 1h91m-90 1h91m-91 1h91m-91 1h89m-92 1h92m-87 1h86m-90 1h89m-88 1h88m-89 1h91m-90 1h89m-90 1h88m-89 1h90m-90 1h89m-91 1h91m-87 1h85m-88 1h89m-88 1h89m-88 1h89m-90 1h88m-88 1h87m-85 1h85m-85 1h86m-88 1h87m-87 1h87m-87 1h87m-88 1h88m-87 1h85m-86 1h87m-88 1h89m-88 1h87m-85 1h83m-83 1h84m-85 1h85m-85 1h86m-85 1h85m-86 1h84m-84 1h84m-85 1h84m-83 1h84m-83 1h83m-83 1h83m-84 1h84m-84 1h83m-82 1h82m-84 1h85m-84 1h82m-81 1h81m-84 1h86m-85 1h84m-83 1h82m-82 1h82m-83 1h83m-81 1h82m-84 1h83m-82 1h83m-83 1h81m-81 1h82m-82 1h82m-81 1h81m-82 1h82m-82 1h82m-85 1h86m-82 1h81m-85 1h84m-84 1h85m-84 1h84m-83 1h83m-82 1h82m-82 1h82m-83 1h82m-83 1h84m-83 1h82m-81 1h81m-83 1h83m-81 1h82m-84 1h83m-81 1h82m-84 1h86m-85 1h84m-83 1h82m-82 1h83m-85 1h85m-83 1h81m-83 1h83m-81 1h81m-81 1h82m-84 1h84m-84 1h84m-83 1h81m-81 1h82m-83 1h83m-82 1h84m-84 1h81m-81 1h80m-80 1h82m-83 1h82m-81 1h80m-79 1h79m-79 1h79m-81 1h81m-81 1h83m-82 1h80m-81 1h82m-82 1h82m-81 1h80m-81 1h80m-79 1h79m-79 1h79m-80 1h80m-79 1h79m-79 1h79m-79 1h79m-80 1h81m-81 1h78m-79 1h80m-78 1h77m-77 1h77m-77 1h77m-78 1h80m-79 1h77m-78 1h77m-77 1h77m-77 1h78m-77 1h77m-77 1h76m-74 1h72m-75 1h77m-76 1h78m-79 1h77m-77 1h77m-75 1h74m-74 1h75m-77 1h76m-76 1h77m-75 1h75m-76 1h75m-77 1h76m-74 1h75m-75 1h75m-77 1h76m-75 1h75m-74 1h75m-76 1h78m-78 1h78m-79 1h78m-78 1h77m-76 1h77m-77 1h75m-75 1h77m-78 1h77m-77 1h78m-78 1h77m-78 1h78m-77 1h78m-80 1h79m-78 1h79m-79 1h79m-78 1h79m-79 1h77m-75 1h77m-79 1h79m-81 1h78m-77 1h81m-82 1h81m-81 1h80m-78 1h78m-79 1h78m-78 1h79m-79 1h77m-75 1h77m-80 1h81m-82 1h81m-84 1h84m-86 1h88m-91 1h92m-97 1h99m-99 1h98m-98 1h98m-99 1h98m-98 1h97m-96 1h98m-98 1h98m-99 1h99m-100 1h99m-98 1h98m-98 1h96m-96 1h98m-98 1h97m-98 1h99m-98 1h98m-99 1h98m-97 1h97m-98 1h96m-96 1h97m-98 1h97m-96 1h97m-97 1h97m-98 1h97m-97 1h97m-96 1h97m-98 1h97m-97 1h98m-97 1h97m-96 1h95m-97 1h98m-95 1h94m-95 1h95m-99 1h99m-98 1h100m-99 1h97m-98 1h98m-97 1h96m-98 1h97m-94 1h95m-96 1h96m-96 1h95m-96 1h97m-97 1h97m-96 1h94m-94 1h98m-99 1h96m-96 1h95m-94 1h96m-98 1h96m-95 1h97m-98 1h95m-93 1h94m-95 1h96m-96 1h95m-95 1h94m-94 1h96m-97 1h96m-94 1h93m-95 1h95m-95 1h96m-96 1h94m-95 1h97m-97 1h96m-96 1h96m-95 1h94m-95 1h95m-94 1h93m-92 1h94m-96 1h92m-89 1h91m-94 1h93m-92 1h93m-94 1h92m-92 1h93m-93 1h92m-92 1h93m-92 1h90m-93 1h96m-96 1h95m-91 1h89m-92 1h92m-91 1h92m-93 1h92m-92 1h92m-91 1h92m-92 1h92m-93 1h91m-91 1h93m-94 1h92m-91 1h92m-91 1h91m-93 1h92m-91 1h92m-89 1h89m-92 1h92m-91 1h92m-92 1h91m-91 1h90m-92 1h93m-93 1h93m-91 1h90m-91 1h92m-93 1h93m-92 1h91m-90 1h91m-91 1h91m-93 1h93m-92 1h91m-92 1h91m-91 1h92m-90 1h91m-92 1h90m-90 1h93m-94 1h93m-91 1h90m-91 1h92m-93 1h91m-90 1h91m-92 1h91m-91 1h92m-91 1h91m-93 1h94m-93 1h93m-94 1h94m-95 1h96m-95 1h94m-97 1h98m-97 1h96m-97 1h98m-97 1h95"/>
<path transform="translate(0,0.5)" stroke-width="1" stroke-opacity="0.240" d="M908 846h129m-131 1h127m-126 1h128m-128 1h127m-129 1h127m-126 1h124m-126 1h126m-125 1h125m-125 1h124m-126 1h124m-123 1h123m-123 1h124m-124 1h121m-121 1h119m-120 1h123m-123 1h121m-120 1h118m-119 1h119m-119 1h119m-122 1h121m-119 1h116m-116 1h117m-117 1h116m-117 1h119m-117 1h115m-117 1h116m-117 1h117m-118 1h116m-116 1h120m-120 1h116m-119 1h119m-120 1h119m-116 1h115m-117 1h117m-118 1h119m-120 1h118m-116 1h114m-114 1h114m-115 1h117m-119 1h116m-112 1h113m-113 1h111m-114 1h111m-112 1h115m-112 1h114m-119 1h115m-115 1h114m-109 1h107m-109 1h108m-107 1h108m-110 1h108m-106 1h106m-106 1h107m-111 1h112m-113 1h116m-113 1h111m-112 1h115m-116 1h116m-116 1h117m-119 1h119m-120 1h120m-121 1h123m-122 1h121m-124 1h123m-120 1h119m-118 1h116m-116 1h115m-116 1h115m-116 1h116m-114 1h112m-112 1h109m-108 1h107m-109 1h110m-108 1h105m-107 1h107m-106 1h106m-109 1h109m-109 1h110m-106 1h104m-108 1h107m-106 1h107m-107 1h107m-107 1h106m-104 1h102m-104 1h104m-105 1h105m-104 1h104m-106 1h105m-103 1h102m-103 1h103m-103 1h104m-107 1h106m-100 1h99m-100 1h101m-104 1h101m-100 1h102m-104 1h102m-100 1h102m-101 1h101m-102 1h101m-101 1h99m-98 1h100m-101 1h98m-98 1h98m-98 1h98m-101 1h101m-101 1h100m-98 1h98m-96 1h95m-96 1h97m-98 1h97m-99 1h98m-96 1h95m-97 1h97m-96 1h95m-95 1h95m-96 1h96m-94 1h94m-95 1h98m-101 1h96m-95 1h100m-102 1h98m-95 1h93m-95 1h97m-95 1h95m-95 1h94m-93 1h94m-97 1h97m-93 1h90m-96 1h100m-95 1h94m-95 1h95m-97 1h92m-91 1h93m-95 1h94m-91 1h96m-97 1h92m-94 1h94m-94 1h91m-90 1h91m-89 1h91m-98 1h97m-91 1h97m-101 1h92m-88 1h90m-92 1h92m-93 1h92m-90 1h89m-92 1h93m-93 1h96m-93 1h90m-90 1h89m-92 1h92m-90 1h89m-90 1h90m-91 1h92m-91 1h94m-91 1h89m-92 1h93m-92 1h86m-85 1h91m-94 1h89m-91 1h96m-91 1h86m-86 1h84m-85 1h87m-89 1h90m-88 1h86m-85 1h84m-84 1h84m-88 1h87m-82 1h83m-87 1h86m-85 1h85m-86 1h88m-84 1h84m-88 1h89m-89 1h85m-81 1h82m-85 1h85m-87 1h88m-85 1h85m-86 1h86m-84 1h84m-85 1h85m-86 1h87m-87 1h84m-82 1h83m-85 1h85m-85 1h84m-82 1h84m-88 1h89m-85 1h83m-84 1h82m-82 1h85m-88 1h88m-86 1h85m-85 1h84m-83 1h84m-84 1h85m-86 1h83m-83 1h83m-84 1h85m-82 1h83m-84 1h86m-86 1h83m-83 1h82m-81 1h82m-84 1h84m-83 1h83m-82 1h83m-87 1h86m-85 1h85m-83 1h83m-85 1h84m-84 1h86m-84 1h84m-86 1h89m-89 1h84m-84 1h85m-84 1h86m-88 1h85m-83 1h84m-83 1h85m-85 1h82m-82 1h81m-82 1h82m-84 1h85m-84 1h84m-82 1h82m-84 1h82m-81 1h82m-82 1h84m-83 1h83m-84 1h84m-83 1h82m-83 1h82m-85 1h84m-82 1h82m-81 1h82m-81 1h80m-82 1h83m-82 1h81m-80 1h81m-82 1h80m-81 1h82m-81 1h78m-79 1h80m-79 1h79m-77 1h76m-77 1h77m-78 1h79m-79 1h79m-80 1h79m-78 1h80m-79 1h76m-77 1h77m-75 1h76m-77 1h77m-79 1h78m-78 1h80m-78 1h76m-76 1h77m-79 1h78m-77 1h77m-77 1h77m-79 1h79m-75 1h74m-77 1h79m-78 1h77m-79 1h79m-80 1h80m-78 1h80m-78 1h76m-77 1h78m-78 1h79m-79 1h77m-79 1h78m-77 1h81m-83 1h79m-78 1h77m-76 1h79m-79 1h82m-83 1h80m-81 1h82m-81 1h79m-80 1h82m-79 1h79m-81 1h81m-81 1h77m-77 1h79m-78 1h79m-81 1h82m-82 1h79m-78 1h80m-83 1h81m-81 1h89m-88 1h83m-82 1h84m-85 1h87m-86 1h82m-81 1h80m-83 1h81m-83 1h88m-88 1h84m-84 1h90m-92 1h90m-93 1h94m-99 1h99m-99 1h98m-97 1h99m-101 1h97m-97 1h99m-97 1h97m-99 1h101m-103 1h100m-100 1h102m-103 1h104m-103 1h101m-99 1h99m-100 1h99m-99 1h101m-103 1h101m-99 1h98m-98 1h99m-100 1h99m-98 1h99m-102 1h101m-101 1h101m-99 1h98m-100 1h103m-101 1h100m-99 1h96m-100 1h102m-100 1h98m-97 1h97m-98 1h98m-99 1h99m-96 1h98m-98 1h96m-98 1h99m-98 1h98m-99 1h99m-98 1h96m-98 1h98m-99 1h99m-97 1h100m-99 1h96m-99 1h98m-94 1h96m-100 1h100m-98 1h95m-95 1h97m-97 1h98m-97 1h94m-94 1h95m-97 1h98m-100 1h100m-97 1h95m-97 1h97m-95 1h97m-99 1h97m-96 1h95m-95 1h98m-96 1h95m-97 1h97m-98 1h98m-99 1h98m-98 1h98m-95 1h94m-95 1h94m-96 1h98m-98 1h97m-96 1h95m-95 1h94m-93 1h94m-94 1h93m-94 1h94m-96 1h95m-92 1h92m-94 1h94m-93 1h92m-92 1h92m-91 1h90m-92 1h92m-92 1h93m-93 1h94m-93 1h91m-90 1h91m-93 1h94m-95 1h93m-92 1h92m-94 1h95m-94 1h93m-92 1h90m-89 1h92m-92 1h90m-92 1h93m-92 1h92m-91 1h92m-94 1h92m-91 1h93m-93 1h93m-94 1h93m-93 1h95m-94 1h93m-94 1h93m-92 1h92m-92 1h92m-94 1h97m-97 1h94m-91 1h92m-94 1h93m-93 1h92m-93 1h94m-95 1h98m-93 1h90m-91 1h91m-95 1h95m-93 1h91m-90 1h94m-94 1h96m-97 1h96m-98 1h98m-97 1h95m-93 1h92m-96 1h97m-96 1h97m-94 1h93m-96 1h96m-94 1h94m-95 1h95m-98 1h98m-97 1h96m-96 1h97m-97 1h96m-95 1h95m-97 1h98"/>
<path transform="translate(0,0.5)" stroke-width="1" stroke-opacity="0.150" d="M906 846h130m-129 1h128m-129 1h129m-130 1h129m-128 1h127m-129 1h129m-128 1h127m-129 1h127m-127 1h126m-125 1h124m-125 1h130m-131 1h130m-130 1h125m-125 1h125m-124 1h122m-120 1h117m-119 1h123m-125 1h125m-125 1h122m-124 1h123m-124 1h121m-124 1h124m-124 1h126m-126 1h125m-127 1h129m-122 1h123m-125 1h119m-120 1h121m-122 1h129m-137 1h136m-138 1h129m-122 1h121m-121 1h121m-128 1h130m-130 1h134m-142 1h142m-143 1h138m-120 1h119m-119 1h118m-123 1h122m-123 1h129m-137 1h137m-136 1h126m-131 1h131m-132 1h136m-123 1h122m-124 1h134m-141 1h142m-142 1h128m-117 1h118m-119 1h117m-126 1h127m-125 1h125m-122 1h122m-120 1h119m-117 1h118m-120 1h131m-139 1h137m-137 1h133m-128 1h129m-129 1h125m-123 1h124m-123 1h127m-142 1h141m-140 1h138m-131 1h131m-130 1h122m-124 1h123m-122 1h131m-130 1h126m-129 1h122m-127 1h128m-128 1h131m-129 1h127m-126 1h120m-110 1h110m-112 1h110m-121 1h121m-121 1h123m-115 1h115m-115 1h113m-110 1h110m-108 1h105m-120 1h121m-124 1h129m-114 1h114m-114 1h108m-107 1h105m-103 1h103m-118 1h118m-117 1h124m-121 1h122m-124 1h120m-113 1h112m-113 1h115m-114 1h114m-115 1h111m-114 1h112m-112 1h114m-117 1h118m-119 1h115m-105 1h103m-102 1h109m-105 1h106m-110 1h99m-103 1h103m-103 1h103m-109 1h109m-109 1h112m-113 1h111m-111 1h121m-117 1h118m-119 1h108m-113 1h112m-111 1h109m-115 1h114m-114 1h124m-107 1h105m-105 1h99m-110 1h109m-112 1h127m-120 1h120m-121 1h104m-102 1h101m-103 1h111m-104 1h103m-102 1h100m-104 1h105m-104 1h102m-107 1h107m-107 1h114m-117 1h116m-115 1h107m-113 1h114m-113 1h132m-121 1h121m-120 1h115m-119 1h117m-117 1h124m-123 1h123m-125 1h104m-104 1h103m-103 1h123m-132 1h132m-133 1h139m-130 1h130m-129 1h108m-116 1h116m-115 1h126m-142 1h141m-140 1h139m-113 1h111m-111 1h96m-98 1h97m-98 1h103m-118 1h117m-117 1h134m-120 1h120m-120 1h121m-137 1h135m-137 1h137m-133 1h133m-134 1h128m-110 1h108m-110 1h102m-104 1h103m-102 1h112m-106 1h105m-103 1h84m-95 1h93m-93 1h93m-105 1h105m-105 1h116m-106 1h104m-107 1h101m-102 1h101m-99 1h109m-108 1h106m-107 1h111m-119 1h119m-119 1h118m-101 1h100m-99 1h102m-101 1h102m-103 1h104m-105 1h107m-107 1h92m-91 1h90m-88 1h94m-110 1h110m-110 1h110m-101 1h100m-100 1h94m-91 1h90m-89 1h94m-106 1h107m-107 1h111m-113 1h114m-111 1h100m-92 1h93m-93 1h94m-94 1h95m-95 1h95m-92 1h91m-89 1h85m-93 1h94m-95 1h95m-97 1h95m-97 1h97m-90 1h90m-90 1h89m-89 1h90m-91 1h98m-93 1h95m-96 1h88m-96 1h96m-96 1h98m-89 1h87m-87 1h99m-108 1h109m-110 1h107m-97 1h98m-99 1h89m-88 1h87m-87 1h86m-87 1h87m-86 1h88m-88 1h87m-88 1h85m-87 1h87m-88 1h96m-91 1h92m-92 1h87m-92 1h90m-88 1h91m-95 1h95m-96 1h94m-96 1h95m-94 1h92m-89 1h90m-90 1h91m-88 1h88m-87 1h87m-87 1h88m-87 1h91m-99 1h99m-97 1h97m-91 1h91m-93 1h85m-83 1h83m-85 1h88m-94 1h93m-92 1h90m-89 1h90m-89 1h88m-81 1h79m-80 1h80m-79 1h77m-79 1h93m-97 1h95m-96 1h90m-88 1h90m-92 1h87m-83 1h83m-81 1h80m-84 1h85m-85 1h96m-99 1h99m-98 1h98m-103 1h104m-104 1h98m-91 1h92m-92 1h94m-93 1h95m-95 1h88m-91 1h93m-94 1h103m-100 1h101m-100 1h99m-99 1h101m-101 1h97m-101 1h101m-101 1h105m-111 1h113m-114 1h111m-97 1h98m-99 1h89m-101 1h102m-103 1h96m-95 1h96m-95 1h114m-104 1h107m-108 1h92m-108 1h107m-108 1h97m-84 1h86m-86 1h115m-122 1h121m-122 1h106m-95 1h97m-97 1h98m-100 1h99m-97 1h104m-113 1h114m-113 1h114m-108 1h107m-111 1h97m-109 1h106m-106 1h113m-112 1h113m-113 1h105m-105 1h105m-106 1h110m-113 1h111m-113 1h111m-104 1h103m-102 1h112m-111 1h113m-114 1h110m-110 1h109m-110 1h115m-120 1h120m-119 1h114m-110 1h109m-109 1h111m-124 1h124m-123 1h123m-111 1h110m-111 1h101m-111 1h113m-111 1h118m-107 1h106m-107 1h101m-114 1h113m-111 1h119m-112 1h111m-111 1h106m-107 1h107m-105 1h109m-110 1h111m-111 1h101m-98 1h97m-97 1h99m-100 1h100m-99 1h103m-111 1h110m-109 1h106m-105 1h104m-106 1h116m-109 1h109m-109 1h99m-100 1h100m-101 1h110m-108 1h109m-109 1h105m-111 1h111m-111 1h104m-100 1h101m-102 1h104m-100 1h99m-100 1h99m-104 1h102m-102 1h104m-99 1h98m-98 1h102m-107 1h103m-104 1h108m-102 1h101m-102 1h97m-98 1h97m-98 1h105m-103 1h104m-104 1h97m-104 1h104m-102 1h103m-97 1h96m-97 1h101m-103 1h102m-104 1h102m-99 1h101m-103 1h102m-103 1h102m-100 1h98m-100 1h100m-100 1h97m-96 1h98m-99 1h97m-95 1h96m-96 1h95m-98 1h99m-100 1h101m-99 1h99m-97 1h95m-96 1h96m-95 1h94m-91 1h91m-92 1h92m-102 1h104m-104 1h103m-101 1h100m-100 1h99m-94 1h95m-94 1h97m-97 1h99m-99 1h101m-105 1h106m-108 1h111m-107 1h106m-106 1h97m-108 1h109m-110 1h111m-105 1h105m-106 1h114m-112 1h112m-111 1h106m-114 1h113m-113 1h115m-114 1h112m-111 1h119m-107 1h107m-106 1h107m-110 1h109m-110 1h103m-118 1h116m-116 1h116m-115 1h114m-112 1h112m-114 1h114m-114 1h113m-100 1h101m-101 1h104m-106 1h105m-104 1h102m-107 1h106m-106 1h106m-103 1h101m-100 1h100m-101 1h102"/>
<path transform="translate(0,0.5)" stroke-width="1" stroke-opacity="0.035" d="M908 847h125m-126 3h124m-125 4h121m-122 3h120m-120 3h118m-119 4h115m-117 4h115m-116 3h115m-116 4h114m-115 3h113m-114 4h112m-112 3h109m-110 4h108m-108 4h105m-106 3h103m-105 4h109m-110 3h112m-114 3h118m-118 3h115m-115 4h110m-110 4h106m-106 3h103m-103 3h102m-103 3h101m-101 4h100m-100 4h98m-99 4h98m-98 3h97m-97 4h95m-96 4h95m-95 4h93m-94 3h93m-93 4h91m-92 3h91m-91 4h90m-91 4h90m-90 4h88m-88 4h87m-88 4h87m-87 4h86m-87 3h86m-86 4h85m-85 4h84m-84 3h84m-84 4h83m-83 3h82m-82 3h82m-82 3h81m-82 4h81m-81 4h80m-80 3h80m-80 4h79m-79 3h79m-79 4h79m-79 3h79m-79 3h79m-79 3h79m-80 4h80m-80 3h80m-80 4h80m-80 3h80m-80 3h80m-80 4h80m-80 3h80m-80 3h79m-79 3h79m-79 4h78m-78 4h77m-77 4h77m-77 4h76m-76 3h76m-76 4h75m-75 4h74m-74 3h74m-74 3h73m-73 4h73m-73 3h73m-74 3h74m-74 4h74m-74 2h74m-74 4h74m-75 4h75m-75 3h75m-75 3h75m-76 4h76m-76 4h76m-76 3h76m-86 4h89m-94 3h96m-96 2h95m-96 4h96m-96 4h95m-96 3h96m-96 4h95m-95 3h95m-96 4h95m-95 4h95m-95 2h95m-95 5h94m-95 3h94m-94 4h94m-94 3h94m-94 3h93m-93 3h93m-94 3h93m-93 4h93m-93 4h92m-92 3h91m-91 4h90m-91 4h90m-90 4h89m-89 4h89m-89 4h89m-89 3h89m-89 3h89m-89 3h89m-89 3h88m-89 4h89m-89 3h89m-89 3h89m-89 3h89m-89 3h89m-89 3h89m-91 4h92m-93 4h93"/>
</g></g>
<g fill="#333333"></g>
<g stroke="#333333" stroke-linecap="round" stroke-linejoin="round" fill="none">
<defs><path id="k7" d="M965.1 846 964.3 847.5 963.4 849 962.7 850.5 961.7 852 960.8 853.5 960 855 959.1 856.5 958.2 858 957.4 859.5 956.5 861 955.6 862.5 954.8 864 954 865.5 953.2 867 952.3 868.5 951.5 870 950.7 871.5 949.9 873 949.1 874.5 948.4 876 947.8 877.5 947.3 879 946.9 880.5 946.6 882 946.3 883.5 946.1 885 945.8 886.5 945.6 888 945.3 889.5 945 891 944.8 892.5 944.5 894 944.2 895.5 943.9 897 943.5 898.5 943.2 900 942.8 901.5 942.3 903 941.8 904.5 941.4 906 940.9 907.5 940.3 909 939.7 910.5 939.1 912 938.5 913.5 937.8 915 937.2 916.5 936.7 918 936.2 919.5 935.7 921 935.2 922.5 934.8 924 934.3 925.5 933.9 927 933.5 928.5 933.1 930 932.7 931.5 932.4 933 932.1 934.5 931.8 936 931.5 937.5 931.2 939 930.9 940.5 930.6 942 930.3 943.5 930.1 945 929.8 946.5 929.6 948 929.4 949.5 929.1 951 928.9 952.5 928.7 954 928.4 955.5 928.2 957 927.9 958.5 927.7 960 927.5 961.5 927.3 963 927.2 964.5 927 966 926.9 967.5 926.7 969 926.5 970.5 926.2 972 926 973.5 925.8 975 925.7 976.5 925.5 978 925.4 979.5 925.2 981 925.1 982.5 924.9 984 924.7 985.5 924.5 987 924.3 988.5 924.1 990 923.9 991.5 923.8 993 923.7 994.5 923.6 996 923.6 997.5 923.6 999 923.6 1000.5 923.6 1002 923.6 1003.5 923.6 1005 923.5 1006.5 923.4 1008 923.2 1009.5 923.1 1011 922.9 1012.5 922.7 1014 922.6 1015.5 922.5 1017 922.4 1018.5 922.3 1020 922.3 1021.5 922.2 1023 922.2 1024.5 922.1 1026 922.1 1027.5 922 1029 921.9 1030.5 921.9 1032 921.8 1033.5 921.7 1035 921.6 1036.5 921.5 1038 921.4 1039.5 921.4 1041 921.3 1042.5 921.2 1044 921.2 1045.5 921.1 1047 921 1048.5 920.9 1050 920.8 1051.5 920.7 1053 920.6 1054.5 920.5 1056 920.4 1057.5 920.3 1059 920.2 1060.5 920.1 1062 920.1 1063.5 920 1065 920 1066.5 919.9 1068 919.9 1069.5 919.8 1071 919.7 1072.5 919.7 1074 919.6 1075.5 919.6 1077 919.5 1078.5 919.6 1080 919.6 1081.5 919.5 1083 919.5 1084.5 919.4 1086 919.4 1087.5 919.3 1089 919.3 1090.5 919.3 1092 919.3 1093.5 919.4 1095 919.4 1096.5 919.3 1098 919.3 1099.5 919.2 1101 919.1 1102.5 919 1104 918.9 1105.5 918.9 1107 918.8 1108.5 918.8 1110 918.8 1111.5 918.8 1113 918.9 1114.5 918.9 1116 918.9 1117.5 919 1119 919 1120.5 919 1122 919 1123.5 919 1125 919 1126.5 918.9 1128 918.8 1129.5 918.7 1131 918.5 1132.5 918.3 1134 918.2 1135.5 918.1 1137 918.1 1138.5 918.1 1140 918.1 1141.5 918.1 1143 918 1144.5 917.8 1146 917.6 1147.5 917.3 1149 916.9 1150.5 916.3 1152 915.6 1153.5 914.9 1155 914.3 1156.5 913.8 1158 913.2 1159.5 912.7 1161 912.2 1162.5 911.7 1164 911.3 1165.5 910.9 1167 910.5 1168.5 910.2 1170 910 1171.5 909.7 1173 909.5 1174.5 909.2 1176 909 1177.5 908.8 1179 908.6 1180.5 908.5 1182 908.3 1183.5 908.1 1185 908 1186.5 907.8 1188 907.7 1189.5 907.5 1191 907.3 1192.5 907.2 1194 907 1195.5 906.8 1197 906.6 1198.5 906.5 1200 906.5 1201.5 906.4 1203 906.4 1204.5 906.3 1206 906.2 1207.5 906.1 1209 905.9 1210.5 905.7 1212 905.5 1213.5 905.4 1215 905.2 1216.5 905.1 1218 905 1219.5 904.8 1221 904.7 1222.5 904.6 1224 904.6 1225.5 904.5 1227 904.5 1228.5 904.5 1230 904.5 1231.5 904.5 1233 904.5 1234.5 904.5 1236 904.4 1237.5 904.4 1239 904.4 1240.5 904.4 1242 904.4 1243.5 904.4 1245 904.3 1246.5 904.2 1248 904.2 1249.5 904.2 1251 904.2 1252.5 904.2 1254 904.3 1255.5 904.3 1257 904.3 1258.5 904.3 1260 904.3 1261.5 904.2 1263 904.2 1264.5 904.1 1266 904.1 1267.5 904.1 1269 904.1 1270.5 904.1 1272 904.1 1273.5 903.9 1275 903.7 1276.5 903.5 1278 903.2 1279.5 902.8 1281 902.6 1282.5 902.5 1283"/></defs>
<use href="#k7" stroke-width="12.4" stroke-opacity="0.25"/>
<use href="#k7" stroke-width="11.2" stroke-opacity="0.4" stroke-dasharray="444.7 496" stroke-dashoffset="-0.8"/>
<use href="#k7" stroke-width="9.8" stroke-opacity="0.5" stroke-dasharray="442.3 496" stroke-dashoffset="-2"/>
<use href="#k7" stroke-width="8.0" stroke-opacity="0.5" stroke-dasharray="439.3 496" stroke-dashoffset="-3.5"/>
<use href="#k7" stroke-width="5.5" stroke-opacity="0.35" stroke-dasharray="436.3 496" stroke-dashoffset="-5"/>
</g>
<path d="M985.3 824.7V1304.3" stroke="#000" stroke-width="2.8" stroke-dasharray="10.7 10.74" fill="none"/>
</g>
<rect x="822.6" y="825.1" width="357.8" height="479.2" fill="none" stroke="#000" stroke-width="2.85" stroke-linejoin="round"/>
<path d="M847.2 1304.3v6.9M916.45 1304.3v6.9M985.7 1304.3v6.9M1055.2 1304.3v6.9M1123.95 1304.3v6.9" stroke="#000" stroke-width="2.7" fill="none"/>
<text transform="translate(846.8,1345.2) scale(1,1.045)" font-size="27.8" text-anchor="middle" fill="#0a0a0a"><tspan dy="1.5">−</tspan><tspan dy="-1.5">1.0</tspan></text>
<text transform="translate(916.05,1345.2) scale(1,1.045)" font-size="27.8" text-anchor="middle" fill="#0a0a0a"><tspan dy="1.5">−</tspan><tspan dy="-1.5">0.5</tspan></text>
<text transform="translate(985.5,1345.2) scale(1,1.045)" font-size="27.8" text-anchor="middle" fill="#0a0a0a">0.0</text>
<text transform="translate(1055,1345.2) scale(1,1.045)" font-size="27.8" text-anchor="middle" fill="#0a0a0a">0.5</text>
<text transform="translate(1123.75,1345.2) scale(1,1.045)" font-size="27.8" text-anchor="middle" fill="#0a0a0a">1.0</text>
<text transform="translate(1000.9,803)" font-size="27.9" text-anchor="middle" fill="#0a0a0a">Negative information</text>
</g>
<g>
<clipPath id="c8"><rect x="1193.8" y="825.1" width="358.2" height="479.2"/></clipPath>
<g clip-path="url(#c8)">
<path d="M1252.8 827.6V1302.8M1322 827.6V1302.8M1391.2 827.6V1302.8M1460.4 827.6V1302.8M1529.6 827.6V1302.8" stroke="#ececec" stroke-width="1.2" fill="none"/>
<path d="M1196.8 835.5H1549.5M1196.8 947.5H1549.5M1196.8 1059.5H1549.5M1196.8 1171.6H1549.5M1196.8 1283.5H1549.5" stroke="#e5e5e5" stroke-width="2.6" fill="none"/>
<clipPath id="b8"><rect x="1193.8" y="846.2" width="358.2" height="437.4"/></clipPath>
<g clip-path="url(#b8)"><g stroke="#686868" fill="none">
<path transform="translate(0,0.5)" stroke-width="1" stroke-opacity="0.300" d="M1420 846h106m-106 1h106m-107 1h108m-108 1h105m-107 1h108m-107 1h106m-105 1h104m-106 1h106m-106 1h106m-108 1h105m-104 1h105m-105 1h106m-105 1h103m-103 1h103m-104 1h104m-104 1h105m-106 1h104m-104 1h103m-103 1h103m-103 1h102m-102 1h101m-102 1h100m-102 1h103m-101 1h102m-103 1h102m-102 1h101m-102 1h102m-106 1h105m-106 1h105m-106 1h105m-105 1h106m-104 1h102m-103 1h103m-104 1h103m-102 1h102m-103 1h101m-102 1h104m-103 1h100m-100 1h103m-102 1h98m-102 1h102m-101 1h100m-100 1h100m-100 1h101m-101 1h99m-98 1h98m-100 1h97m-95 1h96m-97 1h98m-97 1h98m-100 1h100m-98 1h94m-94 1h95m-94 1h92m-95 1h97m-96 1h96m-95 1h93m-94 1h95m-93 1h92m-95 1h95m-94 1h94m-95 1h96m-96 1h96m-95 1h93m-92 1h92m-94 1h93m-92 1h93m-94 1h93m-92 1h90m-91 1h93m-92 1h92m-92 1h90m-90 1h91m-91 1h91m-91 1h90m-90 1h91m-91 1h91m-92 1h91m-90 1h90m-90 1h91m-92 1h93m-92 1h91m-92 1h92m-92 1h91m-91 1h90m-92 1h94m-93 1h92m-91 1h90m-90 1h91m-92 1h92m-91 1h91m-91 1h89m-88 1h90m-89 1h88m-90 1h90m-89 1h89m-89 1h88m-90 1h92m-91 1h88m-88 1h90m-90 1h89m-90 1h90m-89 1h89m-89 1h88m-89 1h91m-90 1h89m-90 1h90m-91 1h90m-87 1h90m-92 1h90m-90 1h91m-91 1h91m-92 1h90m-89 1h90m-94 1h95m-91 1h91m-91 1h90m-92 1h93m-93 1h92m-90 1h89m-90 1h90m-90 1h91m-91 1h91m-93 1h94m-93 1h91m-93 1h94m-94 1h94m-92 1h92m-92 1h91m-92 1h92m-92 1h92m-89 1h88m-92 1h91m-91 1h92m-93 1h94m-91 1h90m-91 1h92m-92 1h92m-92 1h93m-95 1h94m-93 1h92m-93 1h95m-96 1h95m-94 1h94m-93 1h92m-93 1h92m-92 1h94m-94 1h94m-93 1h91m-93 1h93m-91 1h93m-94 1h93m-93 1h93m-94 1h91m-89 1h89m-91 1h90m-90 1h91m-91 1h91m-93 1h93m-92 1h92m-94 1h92m-91 1h93m-91 1h91m-94 1h92m-91 1h92m-93 1h93m-91 1h90m-92 1h93m-92 1h90m-91 1h92m-91 1h91m-90 1h91m-93 1h94m-94 1h91m-92 1h91m-92 1h93m-92 1h91m-91 1h91m-90 1h89m-91 1h92m-91 1h92m-92 1h90m-91 1h93m-93 1h91m-90 1h91m-91 1h93m-94 1h92m-91 1h90m-90 1h90m-90 1h89m-90 1h92m-94 1h93m-92 1h92m-93 1h94m-92 1h92m-94 1h95m-93 1h91m-93 1h92m-92 1h93m-92 1h91m-91 1h92m-93 1h94m-94 1h94m-94 1h95m-96 1h93m-91 1h93m-94 1h94m-94 1h93m-93 1h93m-92 1h90m-92 1h93m-92 1h95m-96 1h94m-93 1h94m-95 1h92m-92 1h94m-94 1h92m-91 1h93m-93 1h92m-93 1h95m-94 1h92m-94 1h95m-94 1h91m-92 1h93m-92 1h93m-95 1h93m-91 1h91m-91 1h92m-93 1h93m-92 1h92m-92 1h92m-92 1h93m-95 1h94m-94 1h95m-93 1h90m-91 1h91m-90 1h92m-93 1h91m-90 1h90m-91 1h91m-90 1h91m-93 1h93m-92 1h90m-89 1h89m-90 1h90m-91 1h90m-89 1h90m-92 1h93m-92 1h91m-91 1h90m-89 1h91m-91 1h90m-91 1h91m-91 1h92m-90 1h89m-91 1h91m-92 1h92m-92 1h92m-92 1h91m-91 1h90m-89 1h90m-89 1h88m-88 1h88m-90 1h92m-93 1h91m-88 1h88m-91 1h90m-89 1h90m-91 1h89m-89 1h92m-92 1h92m-92 1h89m-90 1h90m-88 1h89m-92 1h94m-92 1h91m-93 1h91m-91 1h94m-94 1h92m-93 1h93m-92 1h91m-90 1h92m-94 1h93m-93 1h94m-94 1h94m-96 1h95m-96 1h95m-94 1h93m-93 1h95m-94 1h92m-94 1h96m-94 1h93m-95 1h96m-95 1h92m-91 1h93m-94 1h92m-91 1h90m-90 1h92m-93 1h92m-93 1h93m-92 1h92m-92 1h92m-92 1h90m-89 1h89m-88 1h89m-92 1h91m-89 1h88m-89 1h89m-90 1h91m-89 1h89m-90 1h89m-89 1h89m-89 1h89m-88 1h88m-89 1h89m-89 1h89m-90 1h90m-89 1h88m-88 1h87m-88 1h88m-87 1h88m-90 1h89m-88 1h88m-88 1h87m-87 1h87m-86 1h86m-88 1h89m-88 1h85m-85 1h87m-87 1h86m-84 1h85m-85 1h85m-85 1h85m-85 1h86m-87 1h85m-86 1h86m-85 1h84m-86 1h87m-87 1h87m-85 1h84m-83 1h85m-88 1h86m-83 1h86m-88 1h85m-84 1h85m-84 1h82m-83 1h84m-84 1h83m-83 1h84m-84 1h85m-85 1h84m-85 1h85m-84 1h84m-84 1h83m-82 1h82m-82 1h81m-81 1h80m-80 1h81m-83 1h85m-84 1h83m-83 1h82m-83 1h82m-79 1h79m-81 1h82m-82 1h83m-82 1h80m-80 1h79m-79 1h80m-80 1h79m-79 1h79m-80 1h81m-82 1h80m-80 1h82m-82 1h81m-79 1h80m-82 1h81m-80 1h81m-80 1h79m-81 1h80m-79 1h80m-80 1h79m-80 1h83m-84 1h82m-80 1h79m-81 1h83m-83 1h82m-83 1h84m-81 1h79m-81 1h82m-82 1h82m-82 1h81m-82 1h82m-81 1h82m-81 1h80m-82 1h83m-80 1h79m-82 1h82m-80 1h82m-83 1h81m-82 1h83m-85 1h83m-79 1h80m-83 1h83m-82 1h82m-82 1h81m-81 1h81m-80 1h81m-81 1h81m-83 1h82m-83 1h82m-81 1h82m-85 1h86m-81 1h80m-83 1h83m-83 1h83m-85 1h83m-81 1h82m-83 1h85m-84 1h81m-82 1h83m-83 1h84m-84 1h84m-84 1h85m-85 1h81m-82 1h84m-85 1h83m-82 1h83m-84 1h85m-86 1h87m-88 1h87m-87 1h88m-91 1h88m-87 1h90m-91 1h92m-93 1h92m-93 1h93m-95 1h94m-93 1h95"/>
<path transform="translate(0,0.5)" stroke-width="1" stroke-opacity="0.240" d="M1418 846h111m-110 1h107m-108 1h109m-108 1h106m-108 1h107m-106 1h105m-106 1h107m-106 1h106m-108 1h106m-106 1h106m-107 1h105m-104 1h105m-107 1h107m-107 1h107m-105 1h103m-105 1h105m-105 1h106m-105 1h103m-104 1h105m-105 1h104m-104 1h102m-104 1h104m-104 1h106m-103 1h102m-105 1h105m-105 1h103m-106 1h104m-104 1h103m-107 1h108m-112 1h110m-106 1h105m-103 1h103m-105 1h106m-108 1h109m-108 1h108m-104 1h99m-101 1h102m-102 1h102m-106 1h106m-103 1h101m-100 1h100m-103 1h103m-102 1h101m-101 1h103m-106 1h105m-102 1h100m-98 1h100m-105 1h101m-98 1h98m-98 1h99m-102 1h102m-100 1h99m-98 1h98m-100 1h98m-99 1h101m-100 1h100m-101 1h99m-96 1h97m-97 1h95m-95 1h97m-97 1h98m-99 1h94m-94 1h97m-100 1h99m-96 1h92m-93 1h96m-95 1h94m-92 1h93m-96 1h94m-93 1h94m-94 1h94m-94 1h92m-91 1h90m-92 1h94m-94 1h94m-96 1h98m-95 1h93m-93 1h92m-93 1h95m-96 1h95m-96 1h97m-96 1h95m-93 1h92m-92 1h93m-93 1h93m-94 1h92m-93 1h94m-91 1h92m-97 1h96m-94 1h95m-96 1h94m-92 1h91m-90 1h91m-92 1h92m-92 1h92m-92 1h91m-90 1h89m-90 1h92m-92 1h92m-92 1h91m-92 1h90m-93 1h95m-92 1h94m-94 1h92m-91 1h93m-94 1h93m-91 1h92m-93 1h92m-91 1h89m-91 1h92m-92 1h92m-90 1h92m-94 1h92m-91 1h90m-92 1h92m-92 1h92m-92 1h92m-92 1h93m-97 1h96m-93 1h94m-93 1h91m-91 1h93m-93 1h93m-94 1h93m-92 1h90m-91 1h94m-96 1h95m-94 1h93m-95 1h94m-90 1h93m-94 1h91m-92 1h94m-96 1h94m-91 1h91m-93 1h94m-95 1h95m-91 1h93m-95 1h94m-94 1h93m-93 1h94m-96 1h94m-95 1h95m-93 1h94m-95 1h95m-94 1h94m-95 1h98m-97 1h94m-94 1h95m-97 1h96m-93 1h90m-92 1h94m-94 1h95m-94 1h93m-96 1h96m-95 1h93m-93 1h96m-98 1h96m-92 1h91m-92 1h91m-93 1h94m-93 1h91m-91 1h92m-93 1h92m-91 1h90m-91 1h91m-96 1h98m-97 1h95m-91 1h93m-92 1h93m-94 1h92m-96 1h96m-94 1h95m-94 1h91m-91 1h92m-92 1h92m-93 1h92m-91 1h91m-95 1h96m-92 1h91m-96 1h96m-92 1h91m-94 1h95m-92 1h91m-94 1h94m-92 1h93m-94 1h93m-95 1h95m-92 1h91m-92 1h93m-93 1h92m-92 1h91m-92 1h94m-95 1h96m-96 1h95m-95 1h94m-92 1h94m-93 1h91m-93 1h93m-92 1h93m-94 1h95m-95 1h92m-92 1h92m-91 1h95m-96 1h94m-95 1h95m-95 1h93m-94 1h95m-94 1h95m-94 1h94m-95 1h93m-95 1h97m-95 1h93m-93 1h93m-92 1h93m-94 1h93m-93 1h96m-97 1h96m-97 1h96m-94 1h93m-93 1h94m-95 1h95m-94 1h94m-94 1h93m-93 1h92m-92 1h95m-96 1h95m-94 1h92m-94 1h93m-92 1h94m-94 1h95m-94 1h93m-94 1h94m-94 1h93m-92 1h91m-91 1h91m-93 1h94m-94 1h94m-95 1h93m-92 1h95m-95 1h92m-91 1h91m-92 1h94m-95 1h93m-92 1h94m-96 1h94m-92 1h93m-95 1h94m-91 1h90m-92 1h92m-94 1h95m-93 1h97m-96 1h91m-94 1h98m-96 1h91m-90 1h92m-92 1h92m-94 1h96m-95 1h93m-92 1h92m-94 1h93m-94 1h94m-93 1h92m-89 1h93m-97 1h95m-95 1h92m-90 1h89m-92 1h95m-93 1h92m-92 1h90m-90 1h91m-91 1h91m-91 1h90m-92 1h95m-93 1h89m-93 1h96m-96 1h97m-95 1h93m-93 1h93m-96 1h95m-93 1h91m-91 1h92m-92 1h93m-94 1h93m-93 1h94m-95 1h94m-91 1h91m-95 1h98m-98 1h97m-97 1h98m-97 1h97m-99 1h97m-97 1h94m-94 1h96m-92 1h89m-92 1h97m-97 1h92m-91 1h92m-94 1h98m-100 1h97m-93 1h94m-96 1h95m-94 1h91m-89 1h90m-93 1h96m-94 1h92m-92 1h92m-91 1h89m-89 1h88m-93 1h95m-96 1h96m-91 1h89m-91 1h91m-89 1h89m-90 1h91m-91 1h90m-91 1h91m-89 1h90m-92 1h90m-89 1h93m-95 1h94m-90 1h86m-90 1h92m-90 1h89m-89 1h89m-90 1h89m-88 1h90m-91 1h88m-85 1h89m-90 1h88m-89 1h87m-87 1h87m-87 1h91m-90 1h87m-88 1h90m-90 1h87m-88 1h88m-85 1h85m-86 1h86m-86 1h85m-84 1h85m-87 1h89m-88 1h86m-86 1h85m-86 1h89m-88 1h87m-87 1h84m-84 1h86m-88 1h87m-87 1h87m-87 1h86m-87 1h90m-88 1h87m-88 1h84m-83 1h82m-82 1h88m-90 1h89m-89 1h85m-83 1h86m-87 1h86m-86 1h84m-83 1h84m-84 1h84m-81 1h80m-81 1h85m-86 1h81m-81 1h83m-84 1h83m-84 1h84m-85 1h85m-82 1h84m-86 1h83m-82 1h82m-80 1h80m-82 1h83m-84 1h84m-82 1h78m-77 1h79m-84 1h86m-83 1h81m-82 1h82m-81 1h81m-81 1h83m-83 1h82m-84 1h85m-85 1h83m-83 1h86m-86 1h84m-83 1h81m-79 1h82m-87 1h85m-81 1h80m-86 1h87m-86 1h87m-84 1h82m-80 1h82m-87 1h85m-84 1h85m-83 1h82m-81 1h82m-80 1h80m-83 1h85m-88 1h88m-84 1h83m-89 1h88m-84 1h83m-82 1h82m-82 1h83m-87 1h86m-82 1h81m-84 1h85m-83 1h83m-87 1h88m-86 1h83m-84 1h85m-84 1h85m-87 1h88m-87 1h84m-84 1h85m-85 1h88m-89 1h87m-85 1h84m-86 1h87m-86 1h84m-86 1h86m-86 1h85m-86 1h86m-84 1h86m-87 1h86m-87 1h87m-88 1h90m-88 1h86m-91 1h94m-94 1h92m-93 1h94m-94 1h94m-94 1h93m-93 1h93m-94 1h94"/>
<path transform="translate(0,0.5)" stroke-width="1" stroke-opacity="0.150" d="M1420 846h109m-122 1h123m-124 1h126m-120 1h121m-122 1h118m-121 1h122m-123 1h120m-114 1h112m-111 1h111m-116 1h117m-117 1h119m-117 1h117m-117 1h110m-107 1h106m-107 1h110m-117 1h117m-118 1h116m-111 1h112m-114 1h112m-106 1h105m-107 1h112m-114 1h114m-115 1h110m-107 1h106m-105 1h107m-114 1h111m-114 1h112m-122 1h122m-126 1h122m-114 1h114m-115 1h125m-138 1h137m-139 1h131m-115 1h115m-115 1h114m-107 1h109m-111 1h106m-127 1h130m-129 1h132m-110 1h109m-108 1h120m-132 1h131m-129 1h124m-132 1h131m-130 1h134m-119 1h118m-119 1h105m-126 1h126m-126 1h122m-104 1h103m-103 1h110m-116 1h116m-115 1h127m-128 1h125m-127 1h112m-116 1h117m-116 1h117m-110 1h109m-108 1h104m-112 1h113m-112 1h117m-110 1h110m-110 1h118m-123 1h124m-125 1h113m-108 1h109m-110 1h107m-98 1h96m-96 1h98m-99 1h99m-97 1h91m-97 1h99m-101 1h114m-114 1h114m-111 1h99m-97 1h97m-97 1h100m-99 1h99m-99 1h108m-117 1h118m-118 1h103m-102 1h104m-105 1h109m-98 1h99m-103 1h105m-105 1h105m-104 1h108m-111 1h112m-112 1h109m-110 1h111m-112 1h100m-107 1h108m-110 1h117m-102 1h103m-101 1h102m-104 1h105m-105 1h92m-96 1h99m-97 1h96m-99 1h97m-97 1h102m-106 1h107m-105 1h100m-106 1h107m-106 1h118m-109 1h110m-111 1h96m-92 1h92m-92 1h104m-112 1h111m-110 1h101m-99 1h99m-98 1h109m-115 1h114m-114 1h100m-92 1h95m-97 1h105m-116 1h115m-117 1h119m-108 1h107m-109 1h102m-108 1h107m-108 1h107m-98 1h98m-100 1h110m-105 1h105m-105 1h93m-103 1h104m-104 1h110m-102 1h101m-101 1h94m-106 1h106m-106 1h106m-92 1h92m-95 1h98m-106 1h103m-101 1h108m-101 1h102m-104 1h99m-97 1h96m-97 1h107m-109 1h109m-108 1h109m-109 1h109m-109 1h97m-97 1h99m-100 1h97m-108 1h108m-109 1h115m-102 1h102m-103 1h105m-104 1h105m-103 1h96m-97 1h97m-97 1h103m-107 1h109m-108 1h97m-93 1h93m-98 1h97m-102 1h101m-101 1h108m-116 1h117m-117 1h109m-101 1h99m-100 1h110m-116 1h115m-114 1h118m-119 1h119m-120 1h109m-102 1h101m-100 1h103m-105 1h104m-102 1h101m-111 1h111m-112 1h110m-109 1h109m-110 1h120m-106 1h107m-110 1h97m-112 1h113m-112 1h123m-123 1h123m-122 1h117m-103 1h105m-106 1h98m-102 1h102m-103 1h115m-113 1h111m-110 1h110m-108 1h106m-103 1h103m-106 1h106m-107 1h99m-110 1h110m-108 1h108m-96 1h98m-97 1h105m-109 1h108m-107 1h100m-104 1h102m-103 1h109m-111 1h109m-110 1h106m-99 1h97m-98 1h107m-109 1h110m-110 1h107m-109 1h108m-107 1h108m-105 1h105m-106 1h97m-94 1h96m-94 1h93m-98 1h99m-99 1h100m-105 1h105m-105 1h101m-103 1h106m-104 1h111m-112 1h110m-109 1h105m-104 1h104m-104 1h104m-100 1h100m-101 1h104m-102 1h101m-101 1h101m-102 1h102m-103 1h101m-108 1h109m-108 1h111m-101 1h101m-102 1h95m-98 1h98m-100 1h104m-102 1h101m-104 1h100m-103 1h102m-102 1h105m-94 1h94m-95 1h100m-111 1h110m-111 1h110m-103 1h105m-105 1h102m-99 1h99m-101 1h95m-94 1h95m-95 1h95m-95 1h94m-96 1h106m-105 1h106m-106 1h101m-100 1h99m-99 1h99m-98 1h98m-100 1h112m-121 1h121m-120 1h116m-122 1h120m-120 1h119m-110 1h112m-111 1h112m-107 1h106m-107 1h91m-96 1h98m-99 1h115m-124 1h125m-127 1h110m-94 1h95m-96 1h110m-117 1h116m-116 1h105m-102 1h102m-103 1h120m-117 1h116m-114 1h108m-116 1h116m-118 1h114m-105 1h106m-109 1h115m-112 1h114m-117 1h100m-112 1h113m-113 1h110m-104 1h103m-102 1h118m-114 1h114m-114 1h104m-122 1h121m-121 1h133m-116 1h115m-115 1h112m-112 1h112m-111 1h112m-113 1h112m-109 1h98m-107 1h109m-109 1h108m-103 1h104m-103 1h111m-115 1h116m-115 1h102m-101 1h102m-101 1h100m-107 1h106m-104 1h117m-117 1h116m-117 1h106m-108 1h108m-108 1h102m-107 1h111m-112 1h113m-104 1h102m-102 1h117m-112 1h112m-113 1h97m-93 1h92m-93 1h94m-98 1h98m-99 1h100m-112 1h110m-108 1h108m-99 1h98m-98 1h107m-102 1h102m-103 1h94m-92 1h92m-92 1h92m-107 1h106m-105 1h118m-105 1h106m-107 1h103m-102 1h102m-104 1h102m-109 1h108m-109 1h116m-116 1h117m-118 1h109m-105 1h105m-105 1h100m-92 1h90m-87 1h87m-91 1h91m-92 1h97m-103 1h102m-101 1h109m-119 1h119m-119 1h111m-91 1h93m-95 1h105m-118 1h117m-118 1h100m-87 1h87m-88 1h102m-111 1h110m-110 1h102m-92 1h91m-91 1h85m-84 1h83m-82 1h92m-94 1h93m-92 1h93m-91 1h91m-92 1h96m-100 1h101m-101 1h99m-101 1h103m-104 1h92m-95 1h96m-97 1h97m-100 1h101m-102 1h99m-95 1h95m-96 1h102m-90 1h91m-90 1h79m-82 1h85m-85 1h87m-96 1h95m-94 1h95m-99 1h98m-98 1h106m-109 1h109m-112 1h108m-107 1h105m-105 1h105m-94 1h95m-94 1h103m-105 1h104m-104 1h98m-103 1h102m-102 1h103m-91 1h90m-91 1h87m-90 1h88m-89 1h88m-82 1h83m-83 1h85m-99 1h98m-100 1h111m-101 1h103m-103 1h91m-90 1h91m-94 1h101m-101 1h101m-99 1h89m-92 1h92m-91 1h89m-105 1h106m-106 1h108m-94 1h93m-94 1h96m-100 1h98m-97 1h96m-95 1h96m-93 1h97m-98 1h100m-102 1h105m-97 1h96m-98 1h89m-101 1h100m-100 1h99m-89 1h91m-93 1h98m-97 1h98m-98 1h97m-108 1h107m-107 1h108m-100 1h101m-103 1h102m-107 1h107m-106 1h104m-99 1h98m-98 1h95m-95 1h95m-98 1h103m-106 1h107"/>
<path transform="translate(0,0.5)" stroke-width="1" stroke-opacity="0.035" d="M1421 847h105m-107 3h105m-105 3h103m-105 4h103m-103 3h102m-103 4h101m-102 3h100m-101 3h100m-105 4h102m-103 3h101m-101 4h99m-100 4h97m-98 4h96m-96 3h95m-95 4h94m-94 4h92m-93 3h92m-92 4h91m-91 4h90m-90 3h89m-89 3h89m-89 4h88m-88 3h88m-88 4h88m-89 3h89m-89 4h88m-88 3h88m-88 3h88m-88 4h88m-88 3h87m-88 4h88m-88 3h88m-88 3h88m-89 4h89m-89 3h88m-89 4h89m-89 4h89m-89 3h89m-90 3h90m-90 4h89m-90 3h90m-90 4h90m-91 3h90m-90 4h89m-90 3h90m-90 3h89m-90 4h89m-90 5h89m-89 3h89m-90 4h89m-89 3h88m-89 4h89m-89 4h88m-89 4h89m-89 4h89m-90 3h90m-90 3h90m-90 4h90m-91 3h91m-91 4h90m-90 3h90m-91 3h91m-91 4h91m-91 4h90m-90 3h90m-90 3h90m-91 4h90m-90 4h90m-90 2h89m-89 5h89m-89 3h88m-88 4h88m-89 3h88m-88 3h88m-88 4h87m-87 3h87m-88 4h88m-89 3h88m-89 4h89m-89 2h89m-90 4h89m-90 4h90m-91 3h91m-91 4h90m-90 2h89m-89 4h89m-89 3h88m-88 4h87m-88 3h87m-87 4h87m-87 4h86m-86 4h85m-85 3h84m-84 4h84m-84 2h83m-83 3h83m-83 3h83m-83 3h82m-82 3h82m-81 4h80m-80 3h80m-80 4h79m-79 4h79m-79 3h79m-79 3h78m-78 4h78m-79 4h79m-79 4h78m-78 4h78m-78 3h78m-79 3h79m-79 3h78m-78 4h78m-78 3h78m-79 2h79m-79 3h79m-80 4h79m-79 3h79m-80 3h80m-81 4h80m-80 3h80m-81 3h81m-81 3h80m-81 4h81m-85 4h86m-89 4h90"/>
</g></g>
<g fill="#333333"></g>
<g stroke="#333333" stroke-linecap="round" stroke-linejoin="round" fill="none">
<defs><path id="k8" d="M1470 846 1469.4 847.5 1468.7 849 1467.9 850.5 1467.2 852 1466.5 853.5 1465.8 855 1465.1 856.5 1464.4 858 1463.8 859.5 1463 861 1462.3 862.5 1461.6 864 1460.8 865.5 1460 867 1459.2 868.5 1458.4 870 1457.5 871.5 1456.3 873 1455.5 874.5 1455.1 876 1454.7 877.5 1454.3 879 1454 880.5 1453.7 882 1453.4 883.5 1453.2 885 1453 886.5 1452.8 888 1452.6 889.5 1452.4 891 1452.3 892.5 1452.1 894 1451.8 895.5 1451.6 897 1451.3 898.5 1451.1 900 1450.8 901.5 1450.5 903 1450.3 904.5 1450.1 906 1450 907.5 1449.8 909 1449.7 910.5 1449.6 912 1449.4 913.5 1449.3 915 1449.1 916.5 1448.9 918 1448.6 919.5 1448.4 921 1448.2 922.5 1447.9 924 1447.7 925.5 1447.5 927 1447.4 928.5 1447.3 930 1447.1 931.5 1447 933 1446.9 934.5 1446.8 936 1446.6 937.5 1446.4 939 1446.3 940.5 1446.1 942 1446 943.5 1445.9 945 1445.8 946.5 1445.8 948 1445.7 949.5 1445.7 951 1445.6 952.5 1445.5 954 1445.4 955.5 1445.3 957 1445.2 958.5 1445 960 1444.9 961.5 1444.7 963 1444.6 964.5 1444.4 966 1444.2 967.5 1444 969 1443.9 970.5 1443.8 972 1443.7 973.5 1443.6 975 1443.5 976.5 1443.4 978 1443.4 979.5 1443.4 981 1443.3 982.5 1443.3 984 1443.2 985.5 1443 987 1442.9 988.5 1442.7 990 1442.4 991.5 1442.2 993 1442 994.5 1441.8 996 1441.6 997.5 1441.4 999 1441.3 1000.5 1441.2 1002 1441.1 1003.5 1441 1005 1440.8 1006.5 1440.7 1008 1440.6 1009.5 1440.4 1011 1440.3 1012.5 1440.2 1014 1440 1015.5 1439.9 1017 1439.7 1018.5 1439.6 1020 1439.4 1021.5 1439.2 1023 1439 1024.5 1438.8 1026 1438.7 1027.5 1438.6 1029 1438.5 1030.5 1438.4 1032 1438.2 1033.5 1438.1 1035 1437.9 1036.5 1437.6 1038 1437.4 1039.5 1437.2 1041 1437 1042.5 1436.8 1044 1436.8 1045.5 1436.7 1047 1436.7 1048.5 1436.6 1050 1436.5 1051.5 1436.4 1053 1436.3 1054.5 1436.1 1056 1436 1057.5 1435.9 1059 1435.9 1060.5 1435.8 1062 1435.8 1063.5 1435.7 1065 1435.6 1066.5 1435.5 1068 1435.4 1069.5 1435.3 1071 1435.2 1072.5 1435.2 1074 1435.1 1075.5 1435 1077 1434.9 1078.5 1434.8 1080 1434.8 1081.5 1434.8 1083 1434.7 1084.5 1434.7 1086 1434.7 1087.5 1434.7 1089 1434.7 1090.5 1434.7 1092 1434.6 1093.5 1434.6 1095 1434.5 1096.5 1434.5 1098 1434.4 1099.5 1434.3 1101 1434.3 1102.5 1434.2 1104 1434.2 1105.5 1434.1 1107 1434 1108.5 1433.9 1110 1433.8 1111.5 1433.6 1113 1433.4 1114.5 1433.2 1116 1432.9 1117.5 1432.7 1119 1432.4 1120.5 1432.2 1122 1431.9 1123.5 1431.7 1125 1431.4 1126.5 1431.1 1128 1430.9 1129.5 1430.7 1131 1430.4 1132.5 1430.2 1134 1430 1135.5 1429.9 1137 1429.7 1138.5 1429.5 1140 1429.4 1141.5 1429.2 1143 1429 1144.5 1428.7 1146 1428.5 1147.5 1428.3 1149 1428.1 1150.5 1427.9 1152 1427.7 1153.5 1427.6 1155 1427.5 1156.5 1427.3 1158 1427.1 1159.5 1426.9 1161 1426.6 1162.5 1426.4 1164 1426.2 1165.5 1426.1 1167 1426 1168.5 1426 1170 1425.9 1171.5 1425.9 1173 1425.9 1174.5 1425.8 1176 1425.8 1177.5 1425.7 1179 1425.6 1180.5 1425.5 1182 1425.4 1183.5 1425.3 1185 1425.2 1186.5 1425 1188 1424.9 1189.5 1424.8 1191 1424.7 1192.5 1424.6 1194 1424.6 1195.5 1424.5 1197 1424.5 1198.5 1424.5 1200 1424.4 1201.5 1424.4 1203 1424.3 1204.5 1424.3 1206 1424.2 1207.5 1424.1 1209 1424 1210.5 1423.9 1212 1423.8 1213.5 1423.7 1215 1423.6 1216.5 1423.5 1218 1423.4 1219.5 1423.3 1221 1423.2 1222.5 1423.1 1224 1422.9 1225.5 1422.8 1227 1422.7 1228.5 1422.6 1230 1422.4 1231.5 1422.3 1233 1422.1 1234.5 1421.9 1236 1421.7 1237.5 1421.5 1239 1421.3 1240.5 1421.2 1242 1421.1 1243.5 1421 1245 1420.9 1246.5 1420.8 1248 1420.8 1249.5 1420.7 1251 1420.7 1252.5 1420.6 1254 1420.6 1255.5 1420.6 1257 1420.6 1258.5 1420.6 1260 1420.6 1261.5 1420.6 1263 1420.6 1264.5 1420.5 1266 1420.4 1267.5 1420.3 1269 1420.2 1270.5 1420.1 1272 1420 1273.5 1419.6 1275 1419.1 1276.5 1418.5 1278 1417.8 1279.5 1417 1281 1416.3 1282.5 1416 1283"/></defs>
<use href="#k8" stroke-width="12.4" stroke-opacity="0.25"/>
<use href="#k8" stroke-width="11.2" stroke-opacity="0.4" stroke-dasharray="441.8 493" stroke-dashoffset="-0.8"/>
<use href="#k8" stroke-width="9.8" stroke-opacity="0.5" stroke-dasharray="439.4 493" stroke-dashoffset="-2"/>
<use href="#k8" stroke-width="8.0" stroke-opacity="0.5" stroke-dasharray="436.4 493" stroke-dashoffset="-3.5"/>
<use href="#k8" stroke-width="5.5" stroke-opacity="0.35" stroke-dasharray="433.4 493" stroke-dashoffset="-5"/>
</g>
<path d="M1356.8 824.7V1304.3" stroke="#000" stroke-width="2.8" stroke-dasharray="10.7 10.74" fill="none"/>
</g>
<rect x="1193.8" y="825.1" width="358.2" height="479.2" fill="none" stroke="#000" stroke-width="2.85" stroke-linejoin="round"/>
<path d="M1218.45 1304.3v6.9M1287.7 1304.3v6.9M1357.2 1304.3v6.9M1426.45 1304.3v6.9M1495.2 1304.3v6.9" stroke="#000" stroke-width="2.7" fill="none"/>
<text transform="translate(1218.05,1345.2) scale(1,1.045)" font-size="27.8" text-anchor="middle" fill="#0a0a0a"><tspan dy="1.5">−</tspan><tspan dy="-1.5">1.0</tspan></text>
<text transform="translate(1287.3,1345.2) scale(1,1.045)" font-size="27.8" text-anchor="middle" fill="#0a0a0a"><tspan dy="1.5">−</tspan><tspan dy="-1.5">0.5</tspan></text>
<text transform="translate(1357,1345.2) scale(1,1.045)" font-size="27.8" text-anchor="middle" fill="#0a0a0a">0.0</text>
<text transform="translate(1426.25,1345.2) scale(1,1.045)" font-size="27.8" text-anchor="middle" fill="#0a0a0a">0.5</text>
<text transform="translate(1495,1345.2) scale(1,1.045)" font-size="27.8" text-anchor="middle" fill="#0a0a0a">1.0</text>
<text transform="translate(1372.3,803)" font-size="27.9" text-anchor="middle" fill="#0a0a0a">Positive information</text>
</g>
<g>
<clipPath id="c9"><rect x="2" y="1540.8" width="357.5" height="479.2"/></clipPath>
<g clip-path="url(#c9)">
<path d="M77.4 1543.3V2018.6M176.1 1543.3V2018.6M274.9 1543.3V2018.6" stroke="#ececec" stroke-width="1.2" fill="none"/>
<path d="M5 1614.5H357M5 1743H357M5 1871.3H357M5 2000H357" stroke="#e5e5e5" stroke-width="2.6" fill="none"/>
<clipPath id="b9"><rect x="2" y="1561.7" width="357.5" height="438.6"/></clipPath>
<g clip-path="url(#b9)"><g stroke="#6a6a6a" fill="none">
<path transform="translate(0,1.0)" stroke-width="2" stroke-opacity="0.220" d="M144 1561h141m-141 2h140m-136 2h136m-139 2h135m-133 2h132m-132 2h129m-128 2h129m-131 2h128m-127 2h128m-129 2h127m-126 2h124m-125 2h122m-124 2h124m-122 2h122m-122 2h119m-117 2h115m-118 2h117m-117 2h117m-116 2h120m-119 2h116m-118 2h117m-120 2h119m-113 2h118m-122 2h118m-118 2h118m-116 2h116m-117 2h119m-119 2h119m-118 2h115m-116 2h120m-122 2h119m-120 2h118m-118 2h120m-118 2h115m-117 2h116m-116 2h117m-119 2h119m-118 2h115m-116 2h116m-117 2h119m-118 2h119m-118 2h114m-117 2h119m-117 2h117m-116 2h115m-118 2h116m-115 2h113m-115 2h120m-117 2h118m-120 2h116m-116 2h116m-118 2h119m-122 2h121m-118 2h117m-115 2h116m-118 2h117m-118 2h119m-121 2h120m-118 2h116m-119 2h124m-124 2h121m-119 2h118m-120 2h123m-124 2h122m-121 2h119m-118 2h120m-121 2h118m-120 2h121m-126 2h124m-120 2h122m-120 2h119m-120 2h119m-119 2h120m-122 2h121m-122 2h123m-123 2h121m-122 2h123m-123 2h121m-123 2h127m-130 2h128m-128 2h129m-129 2h131m-134 2h135m-134 2h134m-138 2h136m-133 2h134m-136 2h136m-136 2h135m-138 2h138m-140 2h141m-140 2h139m-142 2h143m-142 2h140m-141 2h141m-145 2h145m-143 2h142m-143 2h138m-138 2h139m-139 2h138m-141 2h143m-143 2h141m-140 2h137m-137 2h137m-138 2h139m-140 2h139m-138 2h140m-140 2h140m-140 2h136m-138 2h140m-139 2h138m-138 2h136m-138 2h138m-138 2h137m-139 2h139m-139 2h141m-142 2h140m-139 2h141m-145 2h144m-146 2h144m-144 2h145m-147 2h147m-148 2h145m-144 2h140m-142 2h143m-145 2h140m-139 2h137m-138 2h137m-139 2h138m-138 2h136m-134 2h133m-135 2h138m-138 2h133m-132 2h132m-132 2h131m-129 2h129m-133 2h132m-126 2h127m-135 2h133m-132 2h133m-133 2h130m-131 2h131m-134 2h134m-135 2h130m-131 2h134m-138 2h138m-135 2h135m-137 2h135m-135 2h135m-138 2h138m-137 2h133m-132 2h132m-134 2h135m-134 2h133m-138 2h140m-138 2h134m-135 2h133m-134 2h134m-131 2h130m-131 2h130m-133 2h130m-127 2h128m-128 2h127m-126 2h127m-126 2h125m-126 2h127m-129 2h124m-125 2h126m-122 2h121m-123 2h123m-124 2h122m-121 2h122m-122 2h123m-123 2h123m-126 2h122m-124 2h125m-127 2h126m-123 2h125m-128 2h128m-126 2h125m-128 2h124m-125 2h127m-128 2h131m-132 2h130m-133 2h133m-129 2h126m-129 2h128m-128 2h128m-126 2h127m-130 2h126m-128 2h129m-123 2h123m-126 2h125m-128 2h125m-124 2h124m-120 2h118m-121 2h121m-122 2h124m-128 2h126m-128 2h128m-129 2h127m-126 2h129m-133 2h133m-132 2h131m-135 2h132m-132 2h136m-137 2h133m-134 2h136m-138 2h138m-138 2h141m-141 2h138m-138 2h136m-139 2h142m-142 2h142m-144 2h140m-142 2h140m-141 2h143m-144 2h144m-145 2h148m-148 2h146m-146 2h145"/>
<path transform="translate(0,1.0)" stroke-width="2" stroke-opacity="0.180" d="M143 1561h145m-143 2h139m-140 2h138m-138 2h137m-135 2h136m-149 2h145m-134 2h138m-137 2h130m-131 2h129m-128 2h134m-133 2h125m-124 2h122m-123 2h123m-123 2h120m-123 2h123m-121 2h131m-135 2h122m-120 2h123m-122 2h123m-130 2h126m-119 2h125m-123 2h118m-120 2h125m-128 2h124m-124 2h122m-116 2h116m-118 2h118m-121 2h121m-127 2h134m-127 2h119m-128 2h128m-119 2h129m-132 2h118m-130 2h144m-151 2h148m-144 2h134m-121 2h120m-118 2h131m-132 2h131m-130 2h126m-129 2h119m-119 2h118m-129 2h133m-125 2h125m-120 2h120m-123 2h132m-129 2h117m-130 2h142m-136 2h122m-116 2h117m-117 2h118m-137 2h145m-142 2h148m-138 2h121m-119 2h136m-137 2h129m-134 2h132m-126 2h119m-123 2h122m-122 2h128m-130 2h137m-132 2h122m-126 2h131m-130 2h121m-124 2h140m-137 2h120m-119 2h119m-124 2h125m-141 2h141m-124 2h140m-138 2h122m-141 2h141m-137 2h137m-125 2h124m-133 2h132m-125 2h126m-127 2h128m-136 2h137m-130 2h137m-147 2h138m-136 2h143m-148 2h148m-157 2h153m-135 2h133m-143 2h153m-152 2h147m-143 2h148m-149 2h141m-153 2h156m-144 2h140m-144 2h143m-143 2h145m-144 2h141m-148 2h148m-147 2h153m-150 2h144m-145 2h144m-152 2h151m-144 2h141m-146 2h151m-155 2h150m-145 2h142m-140 2h144m-142 2h150m-153 2h147m-146 2h141m-144 2h153m-151 2h140m-139 2h139m-146 2h152m-144 2h137m-148 2h158m-160 2h156m-151 2h159m-161 2h145m-147 2h147m-144 2h146m-152 2h165m-170 2h153m-152 2h154m-150 2h165m-160 2h146m-152 2h146m-147 2h150m-149 2h141m-149 2h145m-135 2h137m-145 2h140m-139 2h147m-146 2h138m-155 2h162m-141 2h132m-134 2h138m-136 2h136m-137 2h130m-142 2h144m-134 2h132m-137 2h137m-133 2h139m-149 2h137m-135 2h139m-145 2h147m-144 2h139m-139 2h141m-139 2h137m-138 2h145m-145 2h140m-164 2h159m-144 2h151m-144 2h139m-141 2h136m-147 2h147m-144 2h144m-152 2h157m-147 2h144m-139 2h133m-132 2h135m-152 2h149m-135 2h140m-144 2h135m-133 2h133m-131 2h130m-128 2h128m-127 2h129m-133 2h135m-149 2h143m-131 2h128m-128 2h141m-154 2h140m-120 2h120m-123 2h123m-127 2h131m-129 2h124m-124 2h126m-129 2h129m-151 2h151m-136 2h144m-153 2h150m-158 2h154m-143 2h136m-128 2h131m-137 2h140m-137 2h138m-156 2h158m-141 2h136m-143 2h143m-135 2h142m-167 2h159m-153 2h149m-143 2h142m-135 2h130m-124 2h129m-143 2h143m-129 2h128m-128 2h127m-129 2h126m-128 2h127m-126 2h125m-128 2h135m-144 2h136m-129 2h137m-139 2h129m-142 2h145m-135 2h135m-136 2h137m-137 2h138m-141 2h139m-140 2h138m-146 2h147m-142 2h139m-151 2h151m-139 2h145m-146 2h142m-147 2h149m-158 2h154m-148 2h151m-148 2h144m-150 2h154m-152 2h151m-149 2h147"/>
<path transform="translate(0,0.5)" stroke-width="1" stroke-opacity="0.050" d="M147 1562h138m-138 5h132m-132 4h129m-129 4h126m-126 4h124m-124 4h121m-121 4h119m-119 5h116m-116 4h114m-114 4h114m-114 5h114m-114 5h114m-115 5h115m-116 5h115m-116 5h115m-115 3h114m-115 4h114m-115 4h114m-115 5h114m-114 5h114m-115 4h114m-115 5h114m-114 4h114m-115 5h115m-116 5h115m-116 4h116m-117 6h116m-116 3h116m-117 6h116m-117 3h117m-117 4h116m-117 5h117m-118 5h117m-120 6h121m-123 5h123m-125 4h125m-127 4h128m-130 4h130m-132 4h133m-137 5h137m-139 5h139m-141 5h138m-139 4h138m-140 4h138m-139 4h137m-138 4h137m-138 5h136m-136 3h136m-136 4h135m-135 4h134m-136 5h135m-137 4h137m-140 5h139m-141 4h141m-143 5h140m-142 4h138m-141 5h135m-136 4h133m-133 4h132m-132 5h130m-130 5h128m-128 4h126m-128 5h127m-130 4h129m-133 5h131m-133 4h131m-133 5h132m-133 4h131m-133 4h132m-133 4h132m-133 4h131m-131 5h128m-127 5h126m-126 4h124m-124 6h121m-121 4h120m-120 5h118m-120 4h119m-121 5h121m-124 5h123m-125 5h125m-127 4h127m-127 4h125m-126 4h125m-126 3h124m-124 4h122m-123 5h122m-123 5h120m-122 5h122m-125 4h125m-127 4h126m-130 5h130m-133 4h132m-134 5h134m-138 5h137m-139 4h138m-140 4h140m-142 4h142m-144 4h144"/>
</g></g>
<g fill="#505050"></g>
<g stroke="#505050" stroke-linecap="round" stroke-linejoin="round" fill="none">
<defs><path id="k9" d="M212.5 1562 211.5 1563.5 210.5 1565 209.7 1566.5 208.9 1568 208.3 1569.5 207.9 1571 207.5 1572.5 207.2 1574 206.9 1575.5 206.6 1577 206.4 1578.5 206.1 1580 205.7 1581.5 205.4 1583 205.1 1584.5 204.8 1586 204.6 1587.5 204.4 1589 204.2 1590.5 204 1592 203.9 1593.5 203.8 1595 203.8 1596.5 203.6 1598 203.5 1599.5 203.4 1601 203.2 1602.5 203.1 1604 202.9 1605.5 202.7 1607 202.6 1608.5 202.4 1610 202.2 1611.5 202.1 1613 201.9 1614.5 201.7 1616 201.4 1617.5 201.2 1619 201 1620.5 200.8 1622 200.5 1623.5 200.3 1625 200 1626.5 199.8 1628 199.6 1629.5 199.4 1631 199.4 1632.5 199.4 1634 199.3 1635.5 199.3 1637 199.2 1638.5 199.1 1640 198.9 1641.5 198.7 1643 198.4 1644.5 198.2 1646 197.9 1647.5 197.6 1649 197.2 1650.5 196.9 1652 196.5 1653.5 196.1 1655 195.7 1656.5 195.3 1658 194.9 1659.5 194.5 1661 194.2 1662.5 193.9 1664 193.6 1665.5 193.4 1667 193.2 1668.5 193.1 1670 192.9 1671.5 192.8 1673 192.6 1674.5 192.4 1676 192.2 1677.5 191.9 1679 191.6 1680.5 191.3 1682 191 1683.5 190.8 1685 190.7 1686.5 190.6 1688 190.6 1689.5 190.5 1691 190.3 1692.5 190.1 1694 189.9 1695.5 189.7 1697 189.4 1698.5 189.2 1700 189.1 1701.5 189 1703 189 1704.5 188.9 1706 188.9 1707.5 188.8 1709 188.7 1710.5 188.6 1712 188.5 1713.5 188.4 1715 188.2 1716.5 188 1718 187.7 1719.5 187.4 1721 187.1 1722.5 186.9 1724 186.6 1725.5 186.3 1727 186 1728.5 185.8 1730 185.6 1731.5 185.5 1733 185.2 1734.5 185 1736 184.6 1737.5 184.3 1739 183.9 1740.5 183.6 1742 183.2 1743.5 182.9 1745 182.6 1746.5 182.2 1748 181.8 1749.5 181.3 1751 180.8 1752.5 180.3 1754 179.8 1755.5 179.2 1757 178.7 1758.5 178.2 1760 177.6 1761.5 177.1 1763 176.6 1764.5 176.1 1766 175.6 1767.5 175.3 1769 175 1770.5 174.7 1772 174.4 1773.5 174.2 1775 173.9 1776.5 173.5 1778 173.1 1779.5 172.7 1781 172.3 1782.5 171.9 1784 171.5 1785.5 171 1787 170.5 1788.5 170 1790 169.4 1791.5 168.8 1793 168.1 1794.5 167.4 1796 166.6 1797.5 165.8 1799 164.9 1800.5 163.9 1802 162.6 1803.5 161.2 1805 159.8 1806.5 158.3 1808 156.9 1809.5 155.6 1811 154.4 1812.5 153.3 1814 152.6 1815.5 151.9 1817 151.3 1818.5 150.7 1820 150.2 1821.5 149.8 1823 149.3 1824.5 148.9 1826 148.5 1827.5 148.1 1829 147.7 1830.5 147.2 1832 146.6 1833.5 145.9 1835 145.2 1836.5 144.2 1838 143.1 1839.5 141.9 1841 140.7 1842.5 139.5 1844 138.4 1845.5 137.5 1847 136.8 1848.5 136.3 1850 135.9 1851.5 135.6 1853 135.2 1854.5 134.9 1856 134.6 1857.5 134.3 1859 134.1 1860.5 133.9 1862 133.7 1863.5 133.5 1865 133.3 1866.5 133.1 1868 132.8 1869.5 132.5 1871 132.2 1872.5 131.9 1874 131.6 1875.5 131.3 1877 131 1878.5 130.8 1880 130.6 1881.5 130.4 1883 130.2 1884.5 129.9 1886 129.7 1887.5 129.5 1889 129.2 1890.5 128.9 1892 128.7 1893.5 128.4 1895 128.1 1896.5 127.8 1898 127.5 1899.5 127.2 1901 126.9 1902.5 126.6 1904 126.3 1905.5 126 1907 125.6 1908.5 125.2 1910 124.8 1911.5 124.3 1913 123.9 1914.5 123.4 1916 122.9 1917.5 122.4 1919 121.9 1920.5 121.5 1922 121.1 1923.5 120.8 1925 120.4 1926.5 120.1 1928 119.7 1929.5 119.5 1931 119.2 1932.5 119 1934 118.9 1935.5 118.8 1937 118.7 1938.5 118.5 1940 118.2 1941.5 117.8 1943 117.4 1944.5 116.9 1946 116.4 1947.5 116 1949 115.6 1950.5 115.2 1952 114.9 1953.5 114.6 1955 114.3 1956.5 114.1 1958 113.8 1959.5 113.6 1961 113.3 1962.5 113.1 1964 112.8 1965.5 112.5 1967 112.2 1968.5 111.9 1970 111.6 1971.5 111.3 1973 110.9 1974.5 110.5 1976 110.2 1977.5 109.9 1979 109.6 1980.5 109.4 1982 109.2 1983.5 109 1985 108.7 1986.5 108.4 1988 108 1989.5 107.4 1991 106.8 1992.5 106 1994 105.2 1995.5 104.3 1997 103.4 1998.5 102.5 2000"/></defs>
<use href="#k9" stroke-width="12.4" stroke-opacity="0.25"/>
<use href="#k9" stroke-width="11.2" stroke-opacity="0.4" stroke-dasharray="455.8 507" stroke-dashoffset="-0.8"/>
<use href="#k9" stroke-width="9.8" stroke-opacity="0.5" stroke-dasharray="453.4 507" stroke-dashoffset="-2"/>
<use href="#k9" stroke-width="8.0" stroke-opacity="0.5" stroke-dasharray="450.4 507" stroke-dashoffset="-3.5"/>
<use href="#k9" stroke-width="5.5" stroke-opacity="0.35" stroke-dasharray="447.4 507" stroke-dashoffset="-5"/>
</g>
<path d="M225.3 1539.3V2020.1" stroke="#000" stroke-width="2.8" stroke-dasharray="10.7 10.74" fill="none"/>
</g>
<rect x="2" y="1540.8" width="357.5" height="479.2" fill="none" stroke="#000" stroke-width="2.85" stroke-linejoin="round"/>
<path d="M28.2 2020.1v6.9M126.95 2020.1v6.9M225.7 2020.1v6.9M324.45 2020.1v6.9" stroke="#000" stroke-width="2.7" fill="none"/>
<text transform="translate(27.8,2061.3) scale(1,1.045)" font-size="27.8" text-anchor="middle" fill="#0a0a0a"><tspan dy="1.5">−</tspan><tspan dy="-1.5">1.0</tspan></text>
<text transform="translate(126.55,2061.3) scale(1,1.045)" font-size="27.8" text-anchor="middle" fill="#0a0a0a"><tspan dy="1.5">−</tspan><tspan dy="-1.5">0.5</tspan></text>
<text transform="translate(225.5,2061.3) scale(1,1.045)" font-size="27.8" text-anchor="middle" fill="#0a0a0a">0.0</text>
<text transform="translate(324.25,2061.3) scale(1,1.045)" font-size="27.8" text-anchor="middle" fill="#0a0a0a">0.5</text>
<text transform="translate(180.15,1520)" font-size="27.9" text-anchor="middle" fill="#0a0a0a">Negative information</text>
</g>
<g>
<clipPath id="c10"><rect x="373.4" y="1540.8" width="357.6" height="479.2"/></clipPath>
<g clip-path="url(#c10)">
<path d="M448.3 1543.3V2018.6M547.5 1543.3V2018.6M646.7 1543.3V2018.6" stroke="#ececec" stroke-width="1.2" fill="none"/>
<path d="M376.4 1614.5H728.5M376.4 1743H728.5M376.4 1871.3H728.5M376.4 2000H728.5" stroke="#e5e5e5" stroke-width="2.6" fill="none"/>
<clipPath id="b10"><rect x="373.4" y="1561.7" width="357.6" height="438.6"/></clipPath>
<g clip-path="url(#b10)"><g stroke="#6a6a6a" fill="none">
<path transform="translate(0,1.0)" stroke-width="2" stroke-opacity="0.220" d="M574 1561h123m-123 2h122m-121 2h122m-124 2h122m-122 2h124m-124 2h122m-124 2h124m-122 2h122m-122 2h123m-125 2h123m-123 2h123m-121 2h119m-120 2h119m-120 2h123m-126 2h126m-125 2h123m-124 2h124m-126 2h128m-128 2h127m-126 2h126m-127 2h127m-128 2h128m-126 2h128m-128 2h123m-126 2h129m-129 2h129m-128 2h128m-131 2h132m-131 2h127m-129 2h130m-128 2h129m-132 2h130m-127 2h127m-129 2h127m-126 2h128m-127 2h129m-130 2h128m-128 2h129m-132 2h131m-130 2h129m-130 2h131m-132 2h133m-132 2h130m-131 2h129m-128 2h132m-133 2h132m-132 2h130m-129 2h131m-133 2h130m-128 2h131m-132 2h129m-129 2h131m-132 2h129m-128 2h129m-131 2h132m-130 2h131m-132 2h128m-128 2h128m-129 2h129m-129 2h129m-128 2h129m-132 2h132m-129 2h128m-127 2h127m-128 2h128m-127 2h128m-129 2h128m-127 2h127m-132 2h133m-131 2h130m-127 2h126m-129 2h128m-129 2h132m-133 2h132m-131 2h131m-131 2h129m-129 2h129m-130 2h131m-132 2h131m-131 2h132m-131 2h128m-130 2h133m-134 2h133m-133 2h130m-130 2h133m-132 2h130m-134 2h136m-134 2h133m-135 2h135m-135 2h133m-131 2h135m-135 2h136m-139 2h136m-133 2h133m-134 2h133m-121 2h107m-111 2h111m-109 2h110m-112 2h108m-108 2h110m-109 2h109m-109 2h108m-109 2h110m-110 2h114m-113 2h106m-106 2h109m-108 2h106m-107 2h108m-109 2h107m-108 2h107m-106 2h106m-107 2h107m-104 2h106m-108 2h106m-108 2h109m-108 2h107m-106 2h105m-104 2h107m-111 2h110m-107 2h105m-105 2h104m-104 2h104m-105 2h106m-106 2h106m-107 2h105m-103 2h104m-107 2h106m-104 2h105m-103 2h105m-109 2h107m-107 2h106m-105 2h106m-108 2h108m-108 2h107m-109 2h107m-104 2h105m-104 2h103m-104 2h104m-107 2h107m-107 2h105m-105 2h108m-106 2h104m-103 2h101m-103 2h103m-104 2h107m-108 2h105m-103 2h105m-106 2h108m-108 2h108m-108 2h107m-106 2h106m-107 2h109m-111 2h111m-111 2h108m-106 2h110m-109 2h107m-110 2h112m-111 2h112m-112 2h111m-111 2h110m-110 2h112m-114 2h110m-111 2h113m-112 2h112m-111 2h111m-112 2h111m-110 2h108m-108 2h109m-109 2h109m-109 2h108m-109 2h109m-105 2h104m-107 2h108m-108 2h105m-106 2h109m-109 2h108m-107 2h104m-103 2h104m-107 2h107m-104 2h106m-106 2h104m-105 2h106m-105 2h105m-107 2h106m-105 2h106m-109 2h109m-108 2h110m-112 2h110m-109 2h111m-111 2h112m-112 2h112m-112 2h111m-113 2h113m-112 2h114m-112 2h114m-120 2h121m-119 2h117m-120 2h120m-120 2h122m-122 2h122m-126 2h125m-124 2h124m-126 2h127m-126 2h126m-128 2h128m-130 2h130m-134 2h133m-130 2h132m-133 2h133m-133 2h134m-134 2h131m-129 2h128m-130 2h133m-134 2h136m-136 2h134m-137 2h136m-138 2h139m-139 2h136m-137 2h140m-141 2h141"/>
<path transform="translate(0,1.0)" stroke-width="2" stroke-opacity="0.180" d="M572 1561h129m-135 2h134m-128 2h126m-127 2h128m-134 2h133m-128 2h136m-135 2h124m-124 2h129m-129 2h133m-142 2h140m-130 2h143m-150 2h135m-129 2h122m-124 2h125m-124 2h123m-131 2h131m-126 2h135m-144 2h134m-137 2h143m-136 2h151m-147 2h139m-140 2h131m-132 2h145m-146 2h129m-134 2h147m-143 2h132m-133 2h141m-140 2h130m-137 2h139m-137 2h135m-131 2h133m-135 2h136m-142 2h144m-141 2h133m-127 2h134m-135 2h130m-133 2h134m-136 2h134m-130 2h135m-155 2h152m-138 2h145m-139 2h136m-136 2h133m-141 2h140m-137 2h133m-146 2h148m-131 2h137m-138 2h135m-137 2h139m-149 2h143m-132 2h132m-132 2h132m-132 2h131m-136 2h138m-139 2h135m-131 2h137m-147 2h152m-139 2h129m-137 2h137m-135 2h135m-135 2h142m-140 2h135m-135 2h136m-146 2h149m-137 2h133m-146 2h145m-132 2h131m-133 2h132m-129 2h129m-131 2h130m-131 2h134m-133 2h130m-130 2h131m-132 2h131m-130 2h135m-141 2h134m-139 2h142m-146 2h145m-134 2h136m-138 2h135m-133 2h131m-131 2h133m-139 2h138m-136 2h134m-134 2h138m-138 2h137m-143 2h139m-130 2h135m-142 2h139m-137 2h137m-140 2h147m-152 2h149m-140 2h139m-142 2h139m-135 2h133m-127 2h126m-123 2h110m-112 2h120m-118 2h117m-117 2h110m-108 2h112m-115 2h111m-109 2h119m-122 2h112m-108 2h107m-113 2h112m-107 2h114m-116 2h122m-131 2h126m-117 2h111m-111 2h120m-120 2h108m-108 2h120m-119 2h112m-128 2h123m-108 2h118m-118 2h107m-113 2h112m-111 2h129m-124 2h114m-118 2h110m-109 2h110m-113 2h112m-109 2h126m-141 2h122m-109 2h114m-110 2h108m-110 2h111m-119 2h118m-123 2h123m-110 2h128m-128 2h109m-110 2h112m-119 2h127m-126 2h118m-117 2h113m-120 2h125m-121 2h118m-121 2h119m-107 2h107m-111 2h114m-119 2h112m-106 2h111m-109 2h105m-106 2h104m-106 2h108m-105 2h105m-107 2h106m-106 2h110m-112 2h111m-107 2h106m-112 2h116m-115 2h113m-120 2h125m-117 2h112m-126 2h134m-122 2h121m-123 2h115m-113 2h117m-113 2h115m-114 2h110m-116 2h114m-110 2h111m-116 2h124m-124 2h116m-111 2h108m-108 2h120m-123 2h117m-120 2h122m-117 2h112m-111 2h109m-116 2h119m-111 2h120m-121 2h117m-121 2h111m-120 2h124m-122 2h132m-134 2h121m-109 2h122m-123 2h118m-119 2h110m-123 2h133m-120 2h110m-107 2h107m-109 2h123m-128 2h112m-109 2h120m-125 2h117m-111 2h125m-129 2h119m-120 2h128m-124 2h114m-126 2h128m-127 2h128m-120 2h118m-126 2h129m-126 2h128m-130 2h125m-125 2h127m-123 2h121m-130 2h130m-130 2h133m-129 2h128m-130 2h130m-128 2h129m-129 2h129m-133 2h133m-133 2h131m-132 2h136m-137 2h133m-134 2h136m-135 2h133m-136 2h138m-136 2h138m-135 2h133m-135 2h135m-137 2h137m-139 2h140m-145 2h145m-143 2h143"/>
<path transform="translate(0,0.5)" stroke-width="1" stroke-opacity="0.050" d="M575 1562h120m-120 4h120m-120 4h119m-120 5h120m-120 5h119m-121 5h120m-121 5h121m-123 4h123m-124 4h123m-124 4h124m-125 4h125m-126 4h126m-127 4h127m-127 3h126m-127 5h127m-127 3h126m-127 4h127m-127 4h127m-127 4h126m-127 5h127m-127 4h127m-128 3h127m-127 4h127m-128 4h128m-128 5h127m-127 4h127m-128 5h128m-128 5h127m-127 4h127m-127 4h127m-128 5h127m-127 4h127m-127 4h127m-127 5h126m-127 4h127m-128 4h128m-129 5h128m-129 4h129m-129 5h129m-130 4h130m-132 5h131m-132 5h132m-133 4h133m-132 5h132m-122 4h108m-108 4h106m-106 4h106m-107 5h106m-106 4h105m-105 5h104m-104 5h104m-105 5h104m-104 4h104m-104 6h103m-103 4h103m-104 4h103m-103 4h103m-104 5h104m-104 4h104m-104 4h103m-104 5h104m-104 4h103m-104 5h104m-104 5h102m-103 4h103m-103 4h102m-103 5h102m-102 4h103m-103 4h104m-104 5h105m-105 5h106m-107 4h108m-108 5h107m-107 4h107m-107 4h107m-107 5h106m-107 5h107m-107 3h107m-107 5h106m-106 5h105m-105 5h104m-104 3h103m-103 5h102m-102 5h102m-103 4h104m-105 6h107m-108 4h109m-110 5h112m-113 4h114m-116 4h116m-118 5h118m-120 4h121m-123 4h123m-125 4h125m-128 5h129m-129 5h129m-130 4h130m-131 5h132m-134 3h134m-138 5h138"/>
</g></g>
<g fill="#505050"></g>
<g stroke="#505050" stroke-linecap="round" stroke-linejoin="round" fill="none">
<defs><path id="k10" d="M635.2 1562 634.8 1563.5 634.5 1565 634.4 1566.5 634 1568 633.5 1569.5 633.1 1571 632.7 1572.5 632.3 1574 632 1575.5 631.7 1577 631.5 1578.5 631.2 1580 630.9 1581.5 630.6 1583 630.3 1584.5 629.9 1586 629.6 1587.5 629.2 1589 628.9 1590.5 628.5 1592 628.2 1593.5 627.8 1595 627.5 1596.5 627.2 1598 627 1599.5 626.8 1601 626.7 1602.5 626.5 1604 626.3 1605.5 626 1607 625.8 1608.5 625.5 1610 625.2 1611.5 624.9 1613 624.6 1614.5 624.3 1616 624.1 1617.5 623.9 1619 623.7 1620.5 623.5 1622 623.4 1623.5 623.3 1625 623.2 1626.5 623.1 1628 623 1629.5 622.8 1631 622.6 1632.5 622.5 1634 622.3 1635.5 622.2 1637 622.1 1638.5 622 1640 621.9 1641.5 621.8 1643 621.7 1644.5 621.5 1646 621.3 1647.5 621 1649 620.8 1650.5 620.6 1652 620.4 1653.5 620.3 1655 620.3 1656.5 620.3 1658 620.3 1659.5 620.3 1661 620.3 1662.5 620.2 1664 620.2 1665.5 620.2 1667 620.1 1668.5 620 1670 619.9 1671.5 619.8 1673 619.7 1674.5 619.7 1676 619.6 1677.5 619.5 1679 619.5 1680.5 619.4 1682 619.3 1683.5 619.2 1685 619.1 1686.5 618.9 1688 618.7 1689.5 618.5 1691 618.3 1692.5 618.1 1694 617.9 1695.5 617.7 1697 617.5 1698.5 617.4 1700 617.3 1701.5 617.2 1703 617.1 1704.5 617 1706 616.9 1707.5 616.7 1709 616.6 1710.5 616.5 1712 616.3 1713.5 616.1 1715 615.9 1716.5 615.7 1718 615.5 1719.5 615.4 1721 615.2 1722.5 615.1 1724 615 1725.5 614.9 1727 614.7 1728.5 614.5 1730 614.3 1731.5 614.1 1733 613.9 1734.5 613.7 1736 613.5 1737.5 613.3 1739 613 1740.5 612.8 1742 612.6 1743.5 612.5 1745 612.4 1746.5 612.3 1748 612.2 1749.5 611.9 1751 611.8 1752.5 612 1754 612.1 1755.5 612.2 1757 612.2 1758.5 612.2 1760 612 1761.5 611.9 1763 611.7 1764.5 611.5 1766 611.3 1767.5 611.1 1769 610.9 1770.5 610.7 1772 610.5 1773.5 610.2 1775 610 1776.5 609.8 1778 609.7 1779.5 609.7 1781 609.7 1782.5 609.7 1784 609.8 1785.5 609.8 1787 609.9 1788.5 609.8 1790 609.8 1791.5 609.7 1793 609.6 1794.5 609.5 1796 609.4 1797.5 609.4 1799 609.3 1800.5 609.3 1802 609.2 1803.5 609.2 1805 609.2 1806.5 609.1 1808 609.1 1809.5 609.1 1811 609.1 1812.5 609 1814 608.9 1815.5 608.8 1817 608.6 1818.5 608.4 1820 608.2 1821.5 608.1 1823 608 1824.5 607.9 1826 607.9 1827.5 607.8 1829 607.8 1830.5 607.6 1832 607.5 1833.5 607.3 1835 607.1 1836.5 607 1838 606.8 1839.5 606.7 1841 606.5 1842.5 606.3 1844 606.1 1845.5 605.9 1847 605.7 1848.5 605.6 1850 605.5 1851.5 605.4 1853 605.3 1854.5 605.2 1856 605.2 1857.5 605.1 1859 604.9 1860.5 604.8 1862 604.7 1863.5 604.6 1865 604.6 1866.5 604.6 1868 604.6 1869.5 604.6 1871 604.6 1872.5 604.6 1874 604.6 1875.5 604.5 1877 604.4 1878.5 604.4 1880 604.4 1881.5 604.5 1883 604.6 1884.5 604.7 1886 604.8 1887.5 604.9 1889 605 1890.5 605 1892 604.9 1893.5 604.8 1895 604.7 1896.5 604.5 1898 604.5 1899.5 604.4 1901 604.4 1902.5 604.5 1904 604.5 1905.5 604.6 1907 604.7 1908.5 604.8 1910 604.7 1911.5 604.7 1913 604.5 1914.5 604.3 1916 604.2 1917.5 604 1919 603.9 1920.5 603.8 1922 603.8 1923.5 603.8 1925 603.7 1926.5 603.7 1928 603.7 1929.5 603.6 1931 603.6 1932.5 603.5 1934 603.4 1935.5 603.3 1937 603.2 1938.5 603 1940 602.8 1941.5 602.6 1943 602.5 1944.5 602.4 1946 602.2 1947.5 602.1 1949 602 1950.5 601.9 1952 601.8 1953.5 601.7 1955 601.7 1956.5 601.6 1958 601.6 1959.5 601.5 1961 601.3 1962.5 601.2 1964 601 1965.5 600.7 1967 600.5 1968.5 600.2 1970 599.9 1971.5 599.7 1973 599.4 1974.5 599.2 1976 598.9 1977.5 598.7 1979 598.4 1980.5 598.2 1982 597.9 1983.5 597.7 1985 597.5 1986.5 597.2 1988 597 1989.5 596.8 1991 596.5 1992.5 596.2 1994 595.7 1995.5 595.1 1997 594.6 1998.5 594 2000"/></defs>
<use href="#k10" stroke-width="12.4" stroke-opacity="0.25"/>
<use href="#k10" stroke-width="11.2" stroke-opacity="0.4" stroke-dasharray="439.6 491" stroke-dashoffset="-0.8"/>
<use href="#k10" stroke-width="9.8" stroke-opacity="0.5" stroke-dasharray="437.2 491" stroke-dashoffset="-2"/>
<use href="#k10" stroke-width="8.0" stroke-opacity="0.5" stroke-dasharray="434.2 491" stroke-dashoffset="-3.5"/>
<use href="#k10" stroke-width="5.5" stroke-opacity="0.35" stroke-dasharray="431.2 491" stroke-dashoffset="-5"/>
</g>
<path d="M597.4 1539.3V2020.1" stroke="#000" stroke-width="2.8" stroke-dasharray="10.7 10.74" fill="none"/>
</g>
<rect x="373.4" y="1540.8" width="357.6" height="479.2" fill="none" stroke="#000" stroke-width="2.85" stroke-linejoin="round"/>
<path d="M398.95 2020.1v6.9M498.2 2020.1v6.9M597.2 2020.1v6.9M696.45 2020.1v6.9" stroke="#000" stroke-width="2.7" fill="none"/>
<text transform="translate(398.55,2061.3) scale(1,1.045)" font-size="27.8" text-anchor="middle" fill="#0a0a0a"><tspan dy="1.5">−</tspan><tspan dy="-1.5">1.0</tspan></text>
<text transform="translate(497.8,2061.3) scale(1,1.045)" font-size="27.8" text-anchor="middle" fill="#0a0a0a"><tspan dy="1.5">−</tspan><tspan dy="-1.5">0.5</tspan></text>
<text transform="translate(597,2061.3) scale(1,1.045)" font-size="27.8" text-anchor="middle" fill="#0a0a0a">0.0</text>
<text transform="translate(696.25,2061.3) scale(1,1.045)" font-size="27.8" text-anchor="middle" fill="#0a0a0a">0.5</text>
<text transform="translate(551.6,1520)" font-size="27.9" text-anchor="middle" fill="#0a0a0a">Positive information</text>
</g>
<g>
<clipPath id="c11"><rect x="822.6" y="1540.8" width="357.8" height="479.2"/></clipPath>
<g clip-path="url(#c11)">
<path d="M889.5 1543.3V2018.6M969.4 1543.3V2018.6M1049.3 1543.3V2018.6M1129.3 1543.3V2018.6" stroke="#ececec" stroke-width="1.2" fill="none"/>
<path d="M825.6 1614.5H1177.9M825.6 1743H1177.9M825.6 1871.3H1177.9M825.6 2000H1177.9" stroke="#e5e5e5" stroke-width="2.6" fill="none"/>
<clipPath id="b11"><rect x="822.6" y="1561.7" width="357.8" height="438.6"/></clipPath>
<g clip-path="url(#b11)"><g stroke="#6a6a6a" fill="none">
<path transform="translate(0,1.0)" stroke-width="2" stroke-opacity="0.220" d="M891 1561h131m-133 2h134m-134 2h130m-132 2h132m-134 2h131m-132 2h130m-130 2h130m-131 2h130m-129 2h126m-127 2h128m-128 2h128m-131 2h125m-123 2h124m-126 2h127m-126 2h124m-128 2h127m-127 2h126m-125 2h129m-131 2h127m-128 2h130m-126 2h125m-125 2h124m-124 2h123m-123 2h122m-126 2h128m-126 2h124m-118 2h112m-112 2h108m-109 2h110m-108 2h108m-110 2h109m-108 2h108m-109 2h111m-109 2h106m-106 2h107m-109 2h109m-107 2h107m-110 2h109m-107 2h108m-107 2h107m-110 2h109m-110 2h109m-108 2h111m-111 2h109m-109 2h109m-109 2h106m-104 2h106m-107 2h105m-106 2h111m-111 2h108m-109 2h108m-108 2h107m-105 2h105m-106 2h108m-106 2h105m-105 2h106m-108 2h106m-103 2h104m-106 2h105m-106 2h107m-106 2h104m-104 2h104m-102 2h101m-105 2h105m-102 2h101m-103 2h104m-105 2h107m-106 2h104m-106 2h106m-105 2h105m-107 2h106m-106 2h107m-105 2h106m-107 2h107m-107 2h107m-106 2h106m-107 2h108m-108 2h106m-105 2h107m-107 2h103m-102 2h103m-105 2h104m-103 2h102m-104 2h107m-107 2h109m-106 2h104m-107 2h107m-107 2h106m-107 2h107m-105 2h103m-103 2h107m-109 2h106m-105 2h106m-106 2h105m-106 2h104m-104 2h106m-106 2h104m-107 2h112m-109 2h108m-108 2h107m-109 2h111m-113 2h110m-110 2h111m-112 2h110m-110 2h112m-112 2h114m-114 2h115m-115 2h113m-113 2h110m-110 2h113m-113 2h114m-113 2h112m-114 2h111m-112 2h113m-110 2h111m-113 2h115m-115 2h115m-116 2h115m-114 2h113m-113 2h114m-114 2h112m-113 2h114m-114 2h115m-116 2h115m-115 2h113m-112 2h110m-113 2h113m-112 2h111m-109 2h109m-109 2h109m-111 2h112m-112 2h112m-109 2h108m-111 2h112m-112 2h111m-110 2h109m-109 2h108m-111 2h111m-112 2h112m-111 2h112m-112 2h112m-114 2h113m-113 2h112m-109 2h110m-115 2h113m-114 2h114m-111 2h112m-113 2h111m-112 2h114m-112 2h112m-108 2h107m-110 2h107m-106 2h107m-108 2h106m-106 2h108m-109 2h109m-109 2h109m-109 2h107m-107 2h109m-111 2h110m-110 2h109m-109 2h108m-109 2h111m-112 2h113m-112 2h108m-106 2h108m-112 2h113m-112 2h108m-111 2h111m-109 2h110m-111 2h111m-112 2h110m-107 2h104m-104 2h106m-108 2h110m-107 2h105m-106 2h108m-108 2h108m-111 2h110m-108 2h108m-109 2h108m-110 2h112m-111 2h109m-109 2h109m-108 2h107m-110 2h110m-109 2h109m-110 2h110m-109 2h108m-106 2h107m-109 2h108m-106 2h107m-108 2h109m-109 2h106m-106 2h109m-111 2h108m-109 2h109m-108 2h108m-108 2h111m-113 2h110m-107 2h109m-111 2h111m-110 2h107m-105 2h105m-106 2h107m-109 2h109m-112 2h112m-113 2h113m-111 2h111m-112 2h111m-113 2h115m-112 2h113m-115 2h113m-115 2h116m-118 2h118m-116 2h115m-118 2h122m-122 2h120m-120 2h119m-120 2h123"/>
<path transform="translate(0,1.0)" stroke-width="2" stroke-opacity="0.180" d="M888 1561h134m-133 2h132m-137 2h137m-132 2h129m-132 2h131m-132 2h138m-144 2h135m-130 2h132m-130 2h125m-131 2h130m-131 2h131m-129 2h127m-130 2h132m-136 2h138m-133 2h127m-132 2h132m-130 2h128m-126 2h126m-131 2h132m-128 2h128m-126 2h127m-131 2h126m-123 2h126m-136 2h133m-125 2h126m-136 2h139m-127 2h117m-116 2h114m-112 2h112m-110 2h110m-124 2h131m-124 2h120m-118 2h122m-128 2h117m-108 2h112m-111 2h116m-116 2h110m-111 2h109m-117 2h123m-115 2h112m-113 2h112m-116 2h115m-109 2h111m-122 2h119m-109 2h107m-110 2h121m-116 2h104m-115 2h126m-118 2h118m-125 2h130m-125 2h123m-123 2h109m-109 2h113m-117 2h121m-131 2h122m-106 2h104m-103 2h108m-116 2h118m-110 2h112m-120 2h116m-110 2h106m-105 2h106m-104 2h104m-105 2h106m-104 2h104m-116 2h122m-109 2h104m-117 2h129m-124 2h109m-107 2h116m-136 2h128m-112 2h113m-109 2h110m-107 2h105m-107 2h108m-131 2h128m-103 2h112m-113 2h103m-102 2h105m-110 2h112m-112 2h112m-109 2h106m-105 2h110m-119 2h114m-109 2h122m-136 2h123m-106 2h117m-122 2h113m-119 2h128m-117 2h119m-119 2h107m-126 2h127m-122 2h120m-110 2h108m-106 2h108m-111 2h111m-117 2h118m-122 2h127m-120 2h116m-114 2h109m-108 2h111m-117 2h123m-118 2h118m-119 2h124m-131 2h120m-121 2h119m-120 2h122m-114 2h113m-116 2h121m-126 2h121m-112 2h114m-121 2h119m-115 2h117m-115 2h124m-124 2h115m-118 2h117m-115 2h128m-126 2h115m-118 2h119m-118 2h126m-130 2h119m-124 2h125m-130 2h130m-122 2h119m-117 2h117m-118 2h119m-120 2h118m-111 2h111m-113 2h118m-115 2h110m-114 2h111m-113 2h117m-126 2h124m-125 2h121m-110 2h111m-120 2h120m-110 2h110m-110 2h109m-118 2h136m-144 2h127m-125 2h130m-119 2h123m-122 2h112m-114 2h120m-126 2h117m-117 2h123m-114 2h118m-130 2h121m-112 2h125m-141 2h133m-119 2h113m-116 2h116m-112 2h123m-124 2h115m-113 2h110m-119 2h119m-125 2h124m-123 2h127m-112 2h121m-121 2h109m-122 2h120m-118 2h118m-125 2h128m-114 2h119m-118 2h108m-107 2h109m-130 2h145m-141 2h125m-114 2h122m-120 2h111m-115 2h125m-123 2h121m-122 2h113m-113 2h112m-110 2h110m-105 2h106m-116 2h127m-132 2h121m-108 2h107m-112 2h114m-110 2h106m-110 2h118m-122 2h121m-124 2h116m-118 2h121m-119 2h117m-110 2h109m-112 2h115m-109 2h111m-113 2h110m-114 2h112m-112 2h116m-118 2h116m-117 2h120m-112 2h107m-110 2h111m-111 2h109m-110 2h110m-108 2h110m-112 2h111m-112 2h113m-111 2h113m-114 2h113m-113 2h115m-115 2h112m-113 2h110m-114 2h117m-114 2h119m-119 2h111m-112 2h118m-118 2h115m-116 2h117m-118 2h118m-118 2h123m-124 2h116m-116 2h120m-122 2h121m-123 2h122m-122 2h123m-124 2h123"/>
<path transform="translate(0,0.5)" stroke-width="1" stroke-opacity="0.050" d="M890 1563h129m-130 4h128m-130 4h126m-127 4h124m-125 4h124m-126 4h124m-125 4h124m-126 5h124m-125 4h124m-124 5h123m-123 5h122m-122 5h122m-117 4h106m-106 4h106m-106 5h106m-106 5h106m-106 5h106m-106 4h106m-106 5h105m-106 4h105m-105 4h105m-105 5h104m-104 4h104m-104 5h103m-103 5h103m-103 4h102m-101 4h101m-101 5h101m-101 5h101m-102 3h102m-102 4h102m-103 5h103m-104 5h103m-103 5h103m-103 4h103m-103 4h103m-103 5h102m-102 6h102m-102 4h102m-102 4h101m-102 6h102m-102 3h102m-104 5h104m-105 5h105m-106 4h107m-108 4h108m-109 5h109m-109 5h109m-109 5h109m-110 5h110m-110 4h110m-110 4h110m-111 3h111m-112 4h112m-112 4h111m-111 4h110m-110 4h110m-110 4h109m-109 4h108m-108 5h107m-109 5h108m-108 4h108m-109 4h108m-109 5h109m-110 5h109m-110 5h109m-109 4h109m-109 4h108m-108 5h107m-107 5h107m-107 5h106m-107 4h106m-107 5h107m-107 4h106m-107 4h107m-108 4h107m-107 4h107m-108 4h107m-107 4h107m-107 4h106m-106 4h106m-107 4h106m-106 5h105m-105 4h105m-106 5h106m-106 5h106m-106 4h105m-105 5h105m-106 5h106m-107 5h107m-107 4h106m-107 4h107m-107 4h107m-108 5h108m-110 5h110m-112 5h113m-114 5h114m-117 5h118m-120 4h121"/>
</g></g>
<g fill="#505050"></g>
<g stroke="#505050" stroke-linecap="round" stroke-linejoin="round" fill="none">
<defs><path id="k11" d="M952.5 1562 951 1563.5 949.5 1565 948 1566.5 946.7 1568 945.5 1569.5 944.4 1571 943.4 1572.5 942.6 1574 942.1 1575.5 941.7 1577 941.4 1578.5 941 1580 940.7 1581.5 940.4 1583 940.1 1584.5 939.8 1586 939.7 1587.5 939.5 1589 939.4 1590.5 939.3 1592 939.2 1593.5 939 1595 938.8 1596.5 938.6 1598 938.3 1599.5 938.1 1601 937.8 1602.5 937.5 1604 937.3 1605.5 937.1 1607 936.9 1608.5 936.7 1610 936.6 1611.5 936.4 1613 936.2 1614.5 936.2 1616 936.1 1617.5 936 1619 935.9 1620.5 935.8 1622 935.7 1623.5 935.7 1625 935.7 1626.5 935.7 1628 935.7 1629.5 935.6 1631 935.5 1632.5 935.4 1634 935.3 1635.5 935.2 1637 935.1 1638.5 935 1640 935 1641.5 934.9 1643 934.9 1644.5 934.8 1646 934.8 1647.5 934.7 1649 934.7 1650.5 934.7 1652 934.6 1653.5 934.6 1655 934.6 1656.5 934.6 1658 934.6 1659.5 934.6 1661 934.6 1662.5 934.6 1664 934.5 1665.5 934.5 1667 934.4 1668.5 934.4 1670 934.4 1671.5 934.4 1673 934.3 1674.5 934.3 1676 934.3 1677.5 934.3 1679 934.2 1680.5 934.2 1682 934.2 1683.5 934.1 1685 934.1 1686.5 934 1688 933.9 1689.5 933.9 1691 933.8 1692.5 933.7 1694 933.6 1695.5 933.5 1697 933.3 1698.5 933.3 1700 933.2 1701.5 933.2 1703 933.2 1704.5 933.1 1706 933.1 1707.5 933 1709 933 1710.5 932.9 1712 932.8 1713.5 932.7 1715 932.6 1716.5 932.5 1718 932.4 1719.5 932.3 1721 932.3 1722.5 932.2 1724 932.1 1725.5 932.1 1727 932.1 1728.5 932.1 1730 932.2 1731.5 932.3 1733 932.3 1734.5 932.3 1736 932.4 1737.5 932.4 1739 932.4 1740.5 932.4 1742 932.3 1743.5 932.2 1745 932 1746.5 931.8 1748 931.5 1749.5 931.3 1751 931 1752.5 930.8 1754 930.6 1755.5 930.5 1757 930.3 1758.5 930.3 1760 930.2 1761.5 930.2 1763 930.1 1764.5 930.1 1766 930 1767.5 929.9 1769 929.8 1770.5 929.7 1772 929.5 1773.5 929.4 1775 929.2 1776.5 929 1778 928.9 1779.5 928.7 1781 928.5 1782.5 928.3 1784 928.1 1785.5 927.9 1787 927.7 1788.5 927.5 1790 927.2 1791.5 927 1793 926.8 1794.5 926.7 1796 926.6 1797.5 926.5 1799 926.4 1800.5 926.3 1802 926.1 1803.5 925.9 1805 925.7 1806.5 925.5 1808 925.4 1809.5 925.2 1811 925.1 1812.5 925 1814 924.9 1815.5 924.8 1817 924.7 1818.5 924.6 1820 924.5 1821.5 924.4 1823 924.3 1824.5 924.1 1826 923.9 1827.5 923.7 1829 923.5 1830.5 923.2 1832 923 1833.5 922.7 1835 922.4 1836.5 922.2 1838 921.9 1839.5 921.7 1841 921.6 1842.5 921.4 1844 921.3 1845.5 921.2 1847 921.1 1848.5 921 1850 921 1851.5 920.9 1853 920.9 1854.5 920.8 1856 920.6 1857.5 920.4 1859 920.1 1860.5 919.8 1862 919.4 1863.5 919.2 1865 918.9 1866.5 918.7 1868 918.5 1869.5 918.4 1871 918.3 1872.5 918.2 1874 918.1 1875.5 917.9 1877 917.8 1878.5 917.6 1880 917.5 1881.5 917.4 1883 917.2 1884.5 917.1 1886 916.9 1887.5 916.7 1889 916.5 1890.5 916.3 1892 916 1893.5 915.8 1895 915.5 1896.5 915.3 1898 915 1899.5 914.8 1901 914.5 1902.5 914.3 1904 914.1 1905.5 914 1907 913.9 1908.5 913.8 1910 913.6 1911.5 913.5 1913 913.4 1914.5 913.3 1916 913.2 1917.5 913.2 1919 913.1 1920.5 913.1 1922 913 1923.5 913 1925 912.9 1926.5 912.8 1928 912.6 1929.5 912.5 1931 912.4 1932.5 912.3 1934 912.3 1935.5 912.2 1937 912 1938.5 911.9 1940 911.8 1941.5 911.6 1943 911.5 1944.5 911.4 1946 911.2 1947.5 911.1 1949 910.9 1950.5 910.8 1952 910.7 1953.5 910.6 1955 910.6 1956.5 910.5 1958 910.5 1959.5 910.5 1961 910.5 1962.5 910.5 1964 910.5 1965.5 910.5 1967 910.5 1968.5 910.6 1970 910.6 1971.5 910.7 1973 910.6 1974.5 910.5 1976 910.4 1977.5 910.3 1979 910.1 1980.5 909.9 1982 909.7 1983.5 909.5 1985 909.3 1986.5 909.2 1988 909.1 1989.5 908.9 1991 908.7 1992.5 908.3 1994 907.8 1995.5 907.2 1997 906.6 1998.5 906 2000"/></defs>
<use href="#k11" stroke-width="12.4" stroke-opacity="0.25"/>
<use href="#k11" stroke-width="11.2" stroke-opacity="0.4" stroke-dasharray="442.6 494" stroke-dashoffset="-0.8"/>
<use href="#k11" stroke-width="9.8" stroke-opacity="0.5" stroke-dasharray="440.2 494" stroke-dashoffset="-2"/>
<use href="#k11" stroke-width="8.0" stroke-opacity="0.5" stroke-dasharray="437.2 494" stroke-dashoffset="-3.5"/>
<use href="#k11" stroke-width="5.5" stroke-opacity="0.35" stroke-dasharray="434.2 494" stroke-dashoffset="-5"/>
</g>
<path d="M1009.3 1539.3V2020.1" stroke="#000" stroke-width="2.8" stroke-dasharray="10.7 10.74" fill="none"/>
</g>
<rect x="822.6" y="1540.8" width="357.8" height="479.2" fill="none" stroke="#000" stroke-width="2.85" stroke-linejoin="round"/>
<path d="M849.7 2020.1v6.9M929.7 2020.1v6.9M1009.7 2020.1v6.9M1089.7 2020.1v6.9M1169.45 2020.1v6.9" stroke="#000" stroke-width="2.7" fill="none"/>
<text transform="translate(849.3,2061.3) scale(1,1.045)" font-size="27.8" text-anchor="middle" fill="#0a0a0a"><tspan dy="1.5">−</tspan><tspan dy="-1.5">1.0</tspan></text>
<text transform="translate(929.3,2061.3) scale(1,1.045)" font-size="27.8" text-anchor="middle" fill="#0a0a0a"><tspan dy="1.5">−</tspan><tspan dy="-1.5">0.5</tspan></text>
<text transform="translate(1009.5,2061.3) scale(1,1.045)" font-size="27.8" text-anchor="middle" fill="#0a0a0a">0.0</text>
<text transform="translate(1089.5,2061.3) scale(1,1.045)" font-size="27.8" text-anchor="middle" fill="#0a0a0a">0.5</text>
<text transform="translate(1169.25,2061.3) scale(1,1.045)" font-size="27.8" text-anchor="middle" fill="#0a0a0a">1.0</text>
<text transform="translate(1000.9,1520)" font-size="27.9" text-anchor="middle" fill="#0a0a0a">Negative information</text>
</g>
<g>
<clipPath id="c12"><rect x="1193.8" y="1540.8" width="358.2" height="479.2"/></clipPath>
<g clip-path="url(#c12)">
<path d="M1260.9 1543.3V2018.6M1341.1 1543.3V2018.6M1421.4 1543.3V2018.6M1501.6 1543.3V2018.6" stroke="#ececec" stroke-width="1.2" fill="none"/>
<path d="M1196.8 1614.5H1549.5M1196.8 1743H1549.5M1196.8 1871.3H1549.5M1196.8 2000H1549.5" stroke="#e5e5e5" stroke-width="2.6" fill="none"/>
<clipPath id="b12"><rect x="1193.8" y="1561.7" width="358.2" height="438.6"/></clipPath>
<g clip-path="url(#b12)"><g stroke="#6a6a6a" fill="none">
<path transform="translate(0,1.0)" stroke-width="2" stroke-opacity="0.220" d="M1413 1561h111m-111 2h114m-115 2h114m-114 2h110m-110 2h110m-109 2h105m-105 2h107m-106 2h107m-106 2h107m-109 2h106m-107 2h106m-105 2h105m-107 2h110m-108 2h105m-107 2h109m-107 2h104m-106 2h107m-109 2h109m-105 2h106m-107 2h105m-107 2h108m-107 2h106m-107 2h108m-106 2h105m-108 2h108m-107 2h108m-108 2h107m-105 2h107m-109 2h109m-111 2h108m-108 2h109m-108 2h109m-110 2h107m-107 2h108m-106 2h106m-106 2h110m-111 2h107m-106 2h105m-106 2h107m-111 2h110m-108 2h109m-107 2h105m-107 2h109m-108 2h105m-106 2h109m-110 2h109m-109 2h111m-110 2h109m-112 2h111m-109 2h110m-111 2h108m-109 2h109m-108 2h108m-106 2h105m-106 2h110m-111 2h109m-108 2h108m-109 2h107m-109 2h112m-109 2h104m-104 2h105m-105 2h105m-107 2h108m-106 2h109m-111 2h109m-109 2h109m-112 2h111m-110 2h109m-110 2h111m-111 2h113m-112 2h110m-112 2h111m-111 2h110m-112 2h114m-111 2h109m-111 2h111m-110 2h112m-113 2h113m-112 2h111m-111 2h111m-113 2h113m-111 2h112m-110 2h108m-112 2h114m-112 2h111m-112 2h112m-112 2h114m-113 2h112m-114 2h115m-115 2h114m-115 2h113m-109 2h112m-117 2h115m-115 2h115m-112 2h114m-118 2h113m-113 2h116m-116 2h116m-113 2h112m-115 2h114m-114 2h113m-110 2h110m-112 2h113m-113 2h114m-116 2h115m-117 2h117m-116 2h116m-118 2h117m-118 2h117m-118 2h118m-117 2h118m-119 2h116m-114 2h115m-118 2h120m-117 2h117m-119 2h116m-117 2h120m-119 2h115m-115 2h116m-118 2h119m-117 2h118m-121 2h118m-117 2h118m-117 2h118m-120 2h119m-117 2h117m-120 2h118m-118 2h119m-119 2h120m-120 2h119m-119 2h119m-120 2h119m-117 2h119m-119 2h119m-121 2h119m-119 2h122m-122 2h119m-119 2h121m-122 2h119m-118 2h119m-122 2h124m-122 2h122m-121 2h121m-123 2h124m-123 2h119m-120 2h124m-122 2h121m-123 2h122m-122 2h122m-122 2h121m-122 2h122m-122 2h121m-120 2h122m-124 2h124m-122 2h119m-121 2h125m-125 2h123m-122 2h121m-121 2h121m-122 2h124m-123 2h122m-125 2h125m-125 2h121m-120 2h123m-122 2h120m-121 2h122m-122 2h122m-123 2h120m-122 2h124m-120 2h119m-122 2h123m-123 2h121m-122 2h124m-124 2h126m-125 2h124m-126 2h124m-124 2h124m-125 2h123m-123 2h125m-126 2h124m-121 2h127m-129 2h126m-128 2h128m-131 2h131m-129 2h129m-128 2h127m-128 2h128m-130 2h131m-129 2h128m-130 2h130m-126 2h126m-128 2h130m-129 2h128m-128 2h126m-127 2h127m-130 2h131m-134 2h133m-135 2h136m-135 2h136m-140 2h140m-142 2h140m-141 2h143m-145 2h142m-142 2h144m-143 2h139m-143 2h145m-142 2h140m-144 2h145m-145 2h147m-148 2h144m-145 2h148m-149 2h145m-145 2h145m-147 2h146m-145 2h146m-149 2h147m-146 2h146m-148 2h149m-152 2h153m-152 2h150"/>
<path transform="translate(0,1.0)" stroke-width="2" stroke-opacity="0.180" d="M1412 1561h114m-113 2h112m-111 2h109m-115 2h113m-107 2h107m-112 2h112m-108 2h109m-112 2h111m-111 2h111m-112 2h112m-111 2h109m-107 2h108m-108 2h115m-115 2h109m-112 2h110m-107 2h109m-109 2h109m-110 2h114m-118 2h115m-111 2h106m-106 2h105m-112 2h114m-112 2h122m-123 2h112m-111 2h111m-111 2h112m-108 2h110m-113 2h116m-113 2h112m-117 2h113m-112 2h113m-110 2h106m-109 2h113m-112 2h121m-128 2h116m-113 2h119m-114 2h115m-117 2h111m-108 2h107m-110 2h113m-120 2h122m-125 2h122m-113 2h113m-110 2h107m-108 2h109m-111 2h110m-115 2h118m-112 2h112m-114 2h111m-112 2h123m-119 2h113m-115 2h110m-115 2h114m-108 2h108m-111 2h116m-113 2h111m-117 2h117m-116 2h112m-109 2h111m-111 2h116m-116 2h108m-108 2h110m-109 2h108m-110 2h109m-108 2h118m-119 2h109m-114 2h114m-116 2h120m-114 2h110m-110 2h114m-122 2h121m-115 2h113m-114 2h117m-123 2h123m-115 2h110m-111 2h111m-116 2h116m-118 2h125m-123 2h124m-120 2h115m-116 2h114m-112 2h115m-118 2h117m-117 2h115m-114 2h114m-116 2h115m-114 2h115m-114 2h116m-118 2h118m-121 2h122m-124 2h121m-120 2h118m-112 2h111m-110 2h113m-120 2h120m-114 2h116m-121 2h120m-118 2h120m-124 2h119m-115 2h119m-123 2h120m-119 2h123m-118 2h116m-128 2h123m-119 2h123m-120 2h116m-117 2h120m-121 2h124m-123 2h117m-118 2h120m-121 2h120m-119 2h117m-114 2h114m-119 2h118m-118 2h118m-118 2h122m-124 2h132m-132 2h120m-129 2h137m-139 2h131m-125 2h124m-122 2h132m-127 2h116m-125 2h131m-131 2h125m-120 2h123m-125 2h130m-134 2h124m-116 2h135m-148 2h131m-129 2h136m-127 2h121m-119 2h125m-128 2h124m-128 2h125m-130 2h130m-130 2h142m-131 2h120m-121 2h122m-134 2h142m-138 2h133m-134 2h133m-130 2h125m-122 2h124m-134 2h137m-128 2h124m-122 2h122m-121 2h119m-120 2h128m-128 2h121m-137 2h138m-122 2h122m-130 2h134m-129 2h130m-139 2h137m-136 2h131m-121 2h130m-131 2h133m-134 2h130m-135 2h128m-123 2h127m-132 2h130m-126 2h126m-125 2h124m-133 2h132m-140 2h140m-124 2h126m-129 2h128m-126 2h133m-132 2h123m-128 2h132m-144 2h137m-123 2h134m-131 2h134m-139 2h127m-137 2h137m-131 2h133m-132 2h129m-122 2h131m-142 2h136m-144 2h151m-138 2h133m-144 2h141m-131 2h134m-131 2h127m-131 2h138m-144 2h139m-129 2h128m-129 2h128m-128 2h129m-137 2h136m-130 2h137m-137 2h134m-134 2h130m-143 2h142m-130 2h131m-141 2h143m-137 2h139m-142 2h143m-151 2h143m-139 2h141m-141 2h141m-146 2h148m-147 2h146m-146 2h145m-147 2h146m-146 2h144m-145 2h145m-150 2h152m-149 2h148m-149 2h149m-150 2h148m-154 2h154m-153 2h151m-150 2h150m-148 2h145m-150 2h154m-151 2h151m-152 2h151m-154 2h152"/>
<path transform="translate(0,0.5)" stroke-width="1" stroke-opacity="0.050" d="M1414 1562h109m-109 5h107m-107 4h106m-106 4h105m-105 5h104m-105 5h104m-104 4h104m-105 6h105m-105 4h105m-105 5h105m-105 4h105m-105 5h105m-106 3h105m-105 5h105m-106 4h106m-106 4h105m-105 3h105m-106 4h106m-106 4h106m-106 4h105m-106 4h106m-106 4h106m-106 5h105m-106 4h106m-106 5h106m-106 5h105m-105 4h105m-105 5h105m-105 4h105m-107 5h106m-107 5h107m-108 5h108m-109 4h109m-110 5h110m-110 5h110m-110 4h110m-110 4h110m-110 6h110m-110 3h110m-111 5h111m-112 4h112m-112 5h111m-112 5h112m-112 5h111m-112 5h112m-112 6h111m-113 5h113m-114 4h113m-115 4h115m-116 5h115m-115 4h114m-115 4h114m-115 4h115m-115 4h114m-114 4h114m-115 4h115m-115 4h115m-116 4h116m-116 5h116m-117 5h117m-117 4h117m-117 5h117m-118 4h118m-118 5h118m-119 4h119m-119 5h119m-120 4h120m-120 5h119m-120 4h120m-120 5h120m-121 4h120m-120 4h120m-121 5h121m-121 5h120m-120 4h120m-121 4h121m-121 5h120m-121 3h121m-122 6h122m-123 3h123m-124 5h123m-123 4h123m-124 5h124m-125 4h125m-125 4h125m-125 5h125m-126 4h126m-127 5h127m-131 4h131m-135 4h135m-139 4h139m-141 4h140m-140 3h140m-143 5h142m-143 5h142m-146 5h144m-146 4h145m-147 4h146m-148 4h148m-150 4h150"/>
</g></g>
<g fill="#505050"></g>
<g stroke="#505050" stroke-linecap="round" stroke-linejoin="round" fill="none">
<defs><path id="k12" d="M1467.5 1562 1467.2 1563.5 1466.8 1565 1466.2 1566.5 1465.9 1568 1465.6 1569.5 1465.4 1571 1465.2 1572.5 1465.1 1574 1464.9 1575.5 1464.8 1577 1464.6 1578.5 1464.4 1580 1464.3 1581.5 1464.1 1583 1464 1584.5 1463.9 1586 1463.9 1587.5 1463.8 1589 1463.6 1590.5 1463.5 1592 1463.3 1593.5 1463.1 1595 1462.9 1596.5 1462.7 1598 1462.5 1599.5 1462.4 1601 1462.4 1602.5 1462.3 1604 1462.2 1605.5 1462.1 1607 1461.9 1608.5 1461.8 1610 1461.7 1611.5 1461.7 1613 1461.6 1614.5 1461.6 1616 1461.5 1617.5 1461.5 1619 1461.4 1620.5 1461.4 1622 1461.3 1623.5 1461.3 1625 1461.4 1626.5 1461.4 1628 1461.5 1629.5 1461.6 1631 1461.6 1632.5 1461.6 1634 1461.6 1635.5 1461.5 1637 1461.3 1638.5 1461.2 1640 1461.1 1641.5 1461 1643 1461 1644.5 1460.9 1646 1460.9 1647.5 1460.9 1649 1460.9 1650.5 1460.8 1652 1460.8 1653.5 1460.8 1655 1460.7 1656.5 1460.7 1658 1460.6 1659.5 1460.4 1661 1460.3 1662.5 1460.2 1664 1460.1 1665.5 1460 1667 1459.9 1668.5 1459.9 1670 1459.8 1671.5 1459.8 1673 1459.7 1674.5 1459.5 1676 1459.4 1677.5 1459.2 1679 1459.1 1680.5 1459 1682 1458.9 1683.5 1458.9 1685 1458.9 1686.5 1458.9 1688 1458.9 1689.5 1458.8 1691 1458.8 1692.5 1458.7 1694 1458.7 1695.5 1458.5 1697 1458.3 1698.5 1458 1700 1457.7 1701.5 1457.4 1703 1457.1 1704.5 1456.8 1706 1456.5 1707.5 1456.3 1709 1456.1 1710.5 1456 1712 1455.8 1713.5 1455.7 1715 1455.6 1716.5 1455.5 1718 1455.4 1719.5 1455.4 1721 1455.3 1722.5 1455.2 1724 1455.1 1725.5 1455 1727 1454.9 1728.5 1454.8 1730 1454.7 1731.5 1454.6 1733 1454.6 1734.5 1454.5 1736 1454.4 1737.5 1454.4 1739 1454.3 1740.5 1454.2 1742 1454.1 1743.5 1453.9 1745 1453.7 1746.5 1453.6 1748 1453.4 1749.5 1453.3 1751 1453.2 1752.5 1453 1754 1452.9 1755.5 1452.7 1757 1452.4 1758.5 1452.1 1760 1451.8 1761.5 1451.5 1763 1451.3 1764.5 1451.1 1766 1450.9 1767.5 1450.7 1769 1450.5 1770.5 1450.3 1772 1450.1 1773.5 1449.8 1775 1449.5 1776.5 1449.3 1778 1449.1 1779.5 1449 1781 1448.9 1782.5 1448.9 1784 1448.8 1785.5 1448.8 1787 1448.7 1788.5 1448.7 1790 1448.7 1791.5 1448.6 1793 1448.5 1794.5 1448.4 1796 1448.2 1797.5 1448 1799 1447.8 1800.5 1447.6 1802 1447.4 1803.5 1447.2 1805 1447 1806.5 1446.8 1808 1446.6 1809.5 1446.5 1811 1446.4 1812.5 1446.3 1814 1446.3 1815.5 1446.3 1817 1446.3 1818.5 1446.3 1820 1446.3 1821.5 1446.3 1823 1446.2 1824.5 1446.1 1826 1446 1827.5 1445.9 1829 1445.8 1830.5 1445.7 1832 1445.6 1833.5 1445.5 1835 1445.4 1836.5 1445.3 1838 1445.2 1839.5 1445.1 1841 1445.1 1842.5 1445.1 1844 1445.2 1845.5 1445.2 1847 1445.3 1848.5 1445.2 1850 1445.1 1851.5 1445 1853 1444.8 1854.5 1444.6 1856 1444.5 1857.5 1444.4 1859 1444.3 1860.5 1444.3 1862 1444.4 1863.5 1444.4 1865 1444.4 1866.5 1444.3 1868 1444.3 1869.5 1444.2 1871 1444.2 1872.5 1444.1 1874 1444 1875.5 1443.8 1877 1443.6 1878.5 1443.3 1880 1443.1 1881.5 1442.9 1883 1442.7 1884.5 1442.6 1886 1442.6 1887.5 1442.6 1889 1442.6 1890.5 1442.5 1892 1442.4 1893.5 1442.1 1895 1441.9 1896.5 1441.7 1898 1441.6 1899.5 1441.6 1901 1441.5 1902.5 1441.5 1904 1441.4 1905.5 1441.2 1907 1441 1908.5 1440.8 1910 1440.6 1911.5 1440.5 1913 1440.3 1914.5 1440.2 1916 1440.1 1917.5 1439.9 1919 1439.6 1920.5 1439.4 1922 1439.2 1923.5 1439 1925 1438.9 1926.5 1438.8 1928 1438.8 1929.5 1438.8 1931 1438.7 1932.5 1438.6 1934 1438.5 1935.5 1438.3 1937 1438.1 1938.5 1437.8 1940 1437.6 1941.5 1437.3 1943 1437.1 1944.5 1436.7 1946 1436.4 1947.5 1436.2 1949 1435.9 1950.5 1435.6 1952 1435.3 1953.5 1434.9 1955 1434.4 1956.5 1433.9 1958 1433.4 1959.5 1432.9 1961 1432.4 1962.5 1432 1964 1431.6 1965.5 1431.2 1967 1430.9 1968.5 1430.5 1970 1430.1 1971.5 1429.7 1973 1429.2 1974.5 1428.7 1976 1428.2 1977.5 1427.7 1979 1427.2 1980.5 1426.6 1982 1426.1 1983.5 1425.5 1985 1424.9 1986.5 1424.4 1988 1423.8 1989.5 1423.2 1991 1422.5 1992.5 1421.8 1994 1421.1 1995.5 1420.6 1997 1419.8 1998.5 1418.9 2000"/></defs>
<use href="#k12" stroke-width="12.4" stroke-opacity="0.25"/>
<use href="#k12" stroke-width="11.2" stroke-opacity="0.4" stroke-dasharray="441.4 493" stroke-dashoffset="-0.8"/>
<use href="#k12" stroke-width="9.8" stroke-opacity="0.5" stroke-dasharray="439 493" stroke-dashoffset="-2"/>
<use href="#k12" stroke-width="8.0" stroke-opacity="0.5" stroke-dasharray="436 493" stroke-dashoffset="-3.5"/>
<use href="#k12" stroke-width="5.5" stroke-opacity="0.35" stroke-dasharray="433 493" stroke-dashoffset="-5"/>
</g>
<path d="M1381.05 1539.3V2020.1" stroke="#000" stroke-width="2.8" stroke-dasharray="10.7 10.74" fill="none"/>
</g>
<rect x="1193.8" y="1540.8" width="358.2" height="479.2" fill="none" stroke="#000" stroke-width="2.85" stroke-linejoin="round"/>
<path d="M1220.95 2020.1v6.9M1300.95 2020.1v6.9M1381.45 2020.1v6.9M1461.45 2020.1v6.9M1541.95 2020.1v6.9" stroke="#000" stroke-width="2.7" fill="none"/>
<text transform="translate(1220.55,2061.3) scale(1,1.045)" font-size="27.8" text-anchor="middle" fill="#0a0a0a"><tspan dy="1.5">−</tspan><tspan dy="-1.5">1.0</tspan></text>
<text transform="translate(1300.55,2061.3) scale(1,1.045)" font-size="27.8" text-anchor="middle" fill="#0a0a0a"><tspan dy="1.5">−</tspan><tspan dy="-1.5">0.5</tspan></text>
<text transform="translate(1381.25,2061.3) scale(1,1.045)" font-size="27.8" text-anchor="middle" fill="#0a0a0a">0.0</text>
<text transform="translate(1461.25,2061.3) scale(1,1.045)" font-size="27.8" text-anchor="middle" fill="#0a0a0a">0.5</text>
<text transform="translate(1541.75,2061.3) scale(1,1.045)" font-size="27.8" text-anchor="middle" fill="#0a0a0a">1.0</text>
<text transform="translate(1372.3,1520)" font-size="27.9" text-anchor="middle" fill="#0a0a0a">Positive information</text>
</g>
<text transform="translate(340.9,24.25)" font-size="27.9" text-anchor="middle" fill="#0a0a0a">Study 1: Composite Scale</text>
<text transform="translate(1157.5,24.25)" font-size="27.9" text-anchor="middle" fill="#0a0a0a">Study 1: Support Gun Control</text>
<text transform="translate(346.6,748)" font-size="27.9" text-anchor="middle" fill="#0a0a0a">Study 2: T2 Amount</text>
<text transform="translate(1169.5,748)" font-size="27.9" text-anchor="middle" fill="#0a0a0a">Study 2: T2 Favor</text>
<text transform="translate(357.25,1470.5)" font-size="27.9" text-anchor="middle" fill="#0a0a0a">Study 3: T2 Attitude Toward Capital Punishment</text>
<text transform="translate(1151.25,1470.5)" font-size="27.9" text-anchor="middle" fill="#0a0a0a">Study 3: T2 Belief in Deterrent Effect</text>
<text transform="translate(362,669.9)" font-size="27.9" text-anchor="middle" fill="#0a0a0a">Estimated treatment effect</text>
<text transform="translate(1182,669.9)" font-size="27.9" text-anchor="middle" fill="#0a0a0a">Estimated treatment effect</text>
<text transform="translate(362,1394)" font-size="27.9" text-anchor="middle" fill="#0a0a0a">Estimated treatment effect</text>
<text transform="translate(1182,1394)" font-size="27.9" text-anchor="middle" fill="#0a0a0a">Estimated treatment effect</text>
<text transform="translate(362,2109.5)" font-size="27.9" text-anchor="middle" fill="#0a0a0a">Estimated treatment effect</text>
<text transform="translate(1182,2109.5)" font-size="27.9" text-anchor="middle" fill="#0a0a0a">Estimated treatment effect</text>
</svg>
</body></html>
